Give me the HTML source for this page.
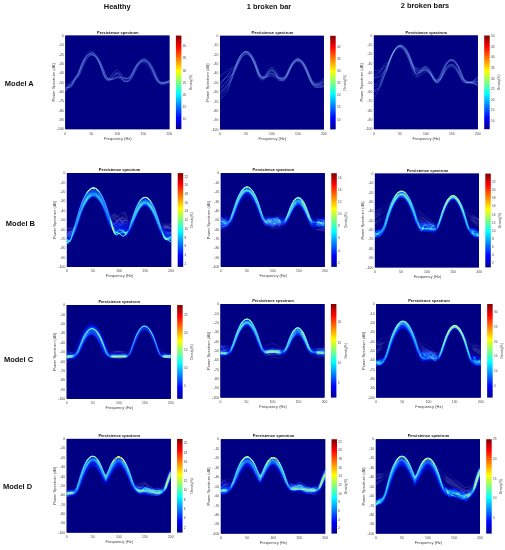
<!DOCTYPE html>
<html lang="en"><head><meta charset="utf-8"><title>Persistence spectra</title>
<style>
html,body{margin:0;padding:0;background:#fff}
svg{display:block}
text{font-family:"Liberation Sans",Arial,sans-serif;fill:#262626}
.h{font-weight:700;font-size:7.4px;fill:#111;text-anchor:middle}
.m{font-weight:700;font-size:7.5px;fill:#111}
.t{font-weight:700;font-size:4px;fill:#111;text-anchor:middle}
.a{font-size:4px;text-anchor:middle;fill:#444}
.k{font-size:3.4px;fill:#444}
.c{font-size:3.2px;fill:#444}
.cv{fill:none;stroke-linejoin:round}
</style></head>
<body>
<svg width="505" height="550" viewBox="0 0 505 550">
<defs>
<linearGradient id="jet" x1="0" y1="0" x2="0" y2="1"><stop offset="0" stop-color="#800000"/><stop offset="0.12" stop-color="#ff0000"/><stop offset="0.38" stop-color="#ffff00"/><stop offset="0.62" stop-color="#00ffff"/><stop offset="0.88" stop-color="#0000ff"/><stop offset="1" stop-color="#00008f"/></linearGradient>
<filter id="fa" filterUnits="objectBoundingBox" x="0" y="0" width="1" height="1" color-interpolation-filters="sRGB"><feGaussianBlur stdDeviation="0.1"/><feComponentTransfer><feFuncR type="table" tableValues="0 0.04 0.08 0.12 0.16 0.19 0.23 0.26 0.29 0.31 0.34 0.37 0.39 0.41 0.43 0.45 0.47 0.5 0.54 0.57 0.61 0.65 0.7 0.74 0.78"/><feFuncG type="table" tableValues="0 0.06 0.11 0.17 0.22 0.26 0.31 0.35 0.39 0.42 0.46 0.49 0.53 0.57 0.6 0.64 0.68 0.72 0.76 0.81 0.86 0.9 0.93 0.95 0.98"/><feFuncB type="table" tableValues="0.51 0.55 0.59 0.62 0.66 0.69 0.72 0.75 0.77 0.79 0.81 0.83 0.85 0.87 0.88 0.9 0.91 0.92 0.93 0.93 0.94 0.92 0.87 0.83 0.78"/></feComponentTransfer><feGaussianBlur stdDeviation="0.3"/></filter>
<filter id="fd" filterUnits="objectBoundingBox" x="0" y="0" width="1" height="1" color-interpolation-filters="sRGB"><feGaussianBlur stdDeviation="0.15"/><feComponentTransfer><feFuncR type="table" tableValues="0 0 0 0 0 0.01 0.03 0.04 0.07 0.11 0.15 0.24 0.33 0.42 0.53 0.63 0.74 0.82 0.9 0.96 0.98 0.99 0.98 0.93 0.88"/><feFuncG type="table" tableValues="0 0 0.03 0.08 0.13 0.23 0.32 0.41 0.52 0.64 0.76 0.81 0.87 0.92 0.93 0.94 0.95 0.92 0.9 0.85 0.72 0.59 0.44 0.26 0.08"/><feFuncB type="table" tableValues="0.51 0.65 0.76 0.85 0.92 0.94 0.96 0.98 0.97 0.96 0.94 0.88 0.82 0.76 0.65 0.54 0.44 0.36 0.29 0.21 0.13 0.05 0 0 0"/></feComponentTransfer><feGaussianBlur stdDeviation="0.4"/></filter>
</defs>
<rect width="505" height="550" fill="#fff"/>
<text class="h" x="117.2" y="9">Healthy</text>
<text class="h" x="269" y="8.6">1 broken bar</text>
<text class="h" x="425" y="8">2 broken bars</text>
<text class="m" x="4.8" y="85.7">Model A</text>
<text class="m" x="5.8" y="226.1">Model B</text>
<text class="m" x="3.9" y="362.2">Model C</text>
<text class="m" x="3" y="488.7">Model D</text>
<g>
<text class="t" x="117.85" y="33.7">Persistence spectrum</text>
<text class="a" x="117.85" y="139.6">Frequency (Hz)</text>
<text class="a" transform="translate(54.5 82.4) rotate(-90)">Power Spectrum (dB)</text>
<text class="k" text-anchor="middle" x="65.3" y="134.7">0</text><text class="k" text-anchor="middle" x="91.33" y="134.7">50</text><text class="k" text-anchor="middle" x="117.35" y="134.7">100</text><text class="k" text-anchor="middle" x="143.38" y="134.7">150</text><text class="k" text-anchor="middle" x="169.4" y="134.7">200</text>
<text class="k" text-anchor="end" x="63.7" y="36.8">0</text><text class="k" text-anchor="end" x="63.7" y="46.16">-10</text><text class="k" text-anchor="end" x="63.7" y="55.52">-20</text><text class="k" text-anchor="end" x="63.7" y="64.88">-30</text><text class="k" text-anchor="end" x="63.7" y="74.24">-40</text><text class="k" text-anchor="end" x="63.7" y="83.6">-50</text><text class="k" text-anchor="end" x="63.7" y="92.96">-60</text><text class="k" text-anchor="end" x="63.7" y="102.32">-70</text><text class="k" text-anchor="end" x="63.7" y="111.68">-80</text><text class="k" text-anchor="end" x="63.7" y="121.04">-90</text><text class="k" text-anchor="end" x="63.7" y="130.4">-100</text>
<rect x="65.3" y="35.6" width="104.1" height="93.6" fill="#000082"/><g transform="translate(65.3 35.6)" filter="url(#fa)"><rect width="104.1" height="93.6" fill="#000"/><g transform="scale(.1)" class="cv">
<g stroke-width="4.2" stroke="#fff" stroke-opacity="0.28">
<path d="M0 553l13-22 13-21 13-18 13-16 13-16 13-16 13-15 13-14 13-17 13-24 13-32 13-33 13-31 13-27 13-23 13-18 13-14 13-10 13-5 13-1 13 4 13 8 13 12 13 17 13 22 13 25 13 30 13 34 13 36 13 35 13 27 13 13 13 0 13-10 13-17 13-18 13-15 13-10 13-3 13 4 14 11 13 16 13 19 13 19 13 12 13 5 13 0 13-3 13-9 13-19 13-26 13-30 13-29 13-26 13-23 13-20 13-15 13-11 13-8 13-3 13 0 13 4 13 9 13 12 13 16 13 20 13 24 13 28 13 30 13 31 13 29 13 19 13 10 13 2 13-1 13-1 13-2 13-3 13-2 13-3"/>
<path d="M0 521l13 0 13-1 13 0 13-1 13-10 13-23 13-26 13-23 13-15 13-22 13-34 13-37 13-35 13-32 13-27 13-22 13-17 13-12 13-7 13-2 13 3 13 8 13 13 13 18 13 23 13 28 13 32 13 37 13 38 13 37 13 25 13 12 13 3 13-3 13-8 13-14 13-17 13-16 13-13 13-7 14-1 13 4 13 10 13 14 13 13 13 10 13 5 13 0 13-7 13-15 13-21 13-24 13-24 13-22 13-20 13-15 13-12 13-9 13-5 13-1 13 3 13 7 13 10 13 14 13 18 13 21 13 24 13 27 13 28 13 25 13 20 13 11 13 6 13 1 13 1 13-2 13-4 13-5 13-5 13-6"/>
<path d="M0 550l13-8 13-9 13-11 13-12 13-17 13-21 13-23 13-20 13-20 13-28 13-37 13-39 13-35 13-31 13-26 13-21 13-16 13-11 13-6 13 0 13 5 13 9 13 15 13 20 13 25 13 30 13 35 13 38 13 38 13 31 13 18 13 7 13 2 13 1 13 2 13 0 13-3 13-7 13-8 13-6 14-1 13 3 13 8 13 9 13 8 13 5 13 2 13 1 13-2 13-6 13-13 13-21 13-26 13-26 13-24 13-21 13-17 13-14 13-9 13-5 13-1 13 3 13 7 13 11 13 15 13 19 13 23 13 26 13 27 13 28 13 26 13 19 13 13 13 5 13 1 13-2 13-4 13-7 13-8 13-10"/>
<path d="M0 554l13-25 13-22 13-19 13-15 13-12 13-11 13-11 13-14 13-18 13-28 13-33 13-33 13-31 13-27 13-23 13-19 13-15 13-11 13-6 13-2 13 2 13 6 13 10 13 15 13 19 13 23 13 28 13 30 13 34 13 33 13 29 13 19 13 8 13 1 13-3 13-10 13-13 13-12 13-7 13-1 14 6 13 13 13 16 13 17 13 12 13 5 13 1 13-3 13-8 13-17 13-25 13-28 13-28 13-26 13-23 13-20 13-15 13-13 13-8 13-5 13-1 13 3 13 6 13 10 13 14 13 18 13 21 13 24 13 28 13 29 13 30 13 26 13 19 13 10 13 3 13 0 13-1 13-2 13-3 13-4"/>
<path d="M0 487l13 4 13 2 13 1 13 0 13-6 13-13 13-18 13-17 13-17 13-23 13-32 13-35 13-35 13-31 13-28 13-23 13-18 13-14 13-10 13-5 13 0 13 4 13 9 13 13 13 18 13 22 13 27 13 31 13 35 13 35 13 33 13 24 13 12 13 5 13 2 13 0 13-2 13-5 13-6 13-5 14-2 13 0 13 2 13 2 13 0 13-1 13-1 13 0 13-1 13-3 13-10 13-18 13-25 13-26 13-25 13-22 13-18 13-13 13-9 13-5 13 0 13 4 13 9 13 13 13 18 13 21 13 26 13 29 13 32 13 30 13 25 13 15 13 8 13 3 13 0 13-3 13-6 13-7 13-9 13-10"/>
<path d="M0 513l13 1 13 1 13 0 13 0 13-12 13-27 13-33 13-29 13-23 13-27 13-30 13-31 13-28 13-24 13-20 13-16 13-13 13-8 13-5 13 0 13 4 13 8 13 11 13 16 13 20 13 24 13 27 13 31 13 33 13 32 13 27 13 16 13 7 13 1 13-2 13-5 13-6 13-7 13-4 13-1 14 4 13 7 13 9 13 9 13 6 13 4 13 0 13-6 13-13 13-23 13-28 13-29 13-26 13-24 13-20 13-17 13-12 13-9 13-4 13-1 13 3 13 7 13 11 13 15 13 19 13 23 13 26 13 29 13 29 13 28 13 21 13 12 13 5 13 2 13 0 13-3 13-5 13-7 13-7 13-9"/>
<path d="M0 531l13-7 13-9 13-9 13-10 13-14 13-19 13-18 13-13 13-8 13-9 13-20 13-30 13-33 13-31 13-28 13-24 13-20 13-15 13-11 13-7 13-2 13 1 13 7 13 10 13 15 13 19 13 23 13 27 13 30 13 33 13 32 13 24 13 14 13 5 13 1 13-2 13-4 13-5 13-5 13-4 14-1 13 3 13 4 13 4 13 4 13 1 13 1 13-2 13-4 13-12 13-21 13-27 13-29 13-26 13-23 13-20 13-15 13-11 13-6 13-3 13 2 13 7 13 10 13 15 13 19 13 23 13 27 13 30 13 31 13 28 13 21 13 12 13 6 13 3 13 0 13 0 13-1 13 0 13-2 13-2"/>
<path d="M0 540l13-6 13-9 13-10 13-12 13-18 13-25 13-26 13-21 13-14 13-19 13-25 13-29 13-29 13-25 13-23 13-19 13-15 13-11 13-7 13-4 13 1 13 4 13 8 13 12 13 15 13 20 13 23 13 27 13 30 13 31 13 31 13 26 13 16 13 6 13-4 13-13 13-18 13-17 13-11 13-4 14 5 13 12 13 19 13 21 13 18 13 9 13 3 13 0 13-3 13-10 13-20 13-28 13-31 13-29 13-26 13-22 13-17 13-13 13-8 13-4 13 1 13 5 13 10 13 14 13 19 13 23 13 28 13 30 13 32 13 28 13 18 13 7 13 2 13 0 13 0 13 0 13 0 13 0 13 0 13 0"/>
<path d="M0 519l13-1 13-3 13-5 13-6 13-14 13-26 13-27 13-22 13-8 13-5 13-16 13-30 13-34 13-33 13-28 13-24 13-19 13-13 13-9 13-4 13 1 13 7 13 11 13 16 13 21 13 26 13 31 13 34 13 37 13 32 13 21 13 7 13-2 13-11 13-18 13-20 13-18 13-13 13-6 13 0 14 7 13 13 13 19 13 20 13 16 13 8 13 1 13-4 13-10 13-17 13-22 13-23 13-22 13-19 13-16 13-13 13-10 13-5 13-2 13 2 13 5 13 9 13 13 13 17 13 20 13 23 13 25 13 27 13 25 13 21 13 16 13 11 13 6 13 3 13 0 13-3 13-5 13-7 13-8 13-11"/>
</g>
</g></g>
<rect x="175.9" y="35.6" width="5.5" height="93.6" fill="url(#jet)"/>
<text class="c" x="182.7" y="120.36">10</text><text class="c" x="182.7" y="108.17">15</text><text class="c" x="182.7" y="95.98">20</text><text class="c" x="182.7" y="83.79">25</text><text class="c" x="182.7" y="71.61">30</text><text class="c" x="182.7" y="59.42">35</text><text class="c" x="182.7" y="47.23">40</text>
<text class="c" text-anchor="middle" transform="translate(191.6 82.4) rotate(-90)">Density(%)</text>
</g>
<g>
<text class="t" x="272.4" y="33.9">Persistence spectrum</text>
<text class="a" x="272.4" y="139.8">Frequency (Hz)</text>
<text class="a" transform="translate(209.2 82.6) rotate(-90)">Power Spectrum (dB)</text>
<text class="k" text-anchor="middle" x="220" y="134.9">0</text><text class="k" text-anchor="middle" x="245.95" y="134.9">50</text><text class="k" text-anchor="middle" x="271.9" y="134.9">100</text><text class="k" text-anchor="middle" x="297.85" y="134.9">150</text><text class="k" text-anchor="middle" x="323.8" y="134.9">200</text>
<text class="k" text-anchor="end" x="218.4" y="37">0</text><text class="k" text-anchor="end" x="218.4" y="46.36">-10</text><text class="k" text-anchor="end" x="218.4" y="55.72">-20</text><text class="k" text-anchor="end" x="218.4" y="65.08">-30</text><text class="k" text-anchor="end" x="218.4" y="74.44">-40</text><text class="k" text-anchor="end" x="218.4" y="83.8">-50</text><text class="k" text-anchor="end" x="218.4" y="93.16">-60</text><text class="k" text-anchor="end" x="218.4" y="102.52">-70</text><text class="k" text-anchor="end" x="218.4" y="111.88">-80</text><text class="k" text-anchor="end" x="218.4" y="121.24">-90</text><text class="k" text-anchor="end" x="218.4" y="130.6">-100</text>
<rect x="220" y="35.8" width="103.8" height="93.6" fill="#000082"/><g transform="translate(220 35.8)" filter="url(#fa)"><rect width="103.8" height="93.6" fill="#000"/><g transform="scale(.1)" class="cv">
<g stroke-width="4.2" stroke="#fff" stroke-opacity="0.28">
<path d="M0 538l13-17 13-16 13-16 13-15 13-15 13-16 13-16 13-19 13-20 13-26 13-31 13-33 13-32 13-28 13-24 13-21 13-16 13-12 13-8 13-3 12 2 13 6 13 10 13 15 13 19 13 23 13 28 13 32 13 35 13 36 13 32 13 22 13 8 13-2 13-10 13-17 13-17 13-15 13-10 13-3 13 4 13 10 13 16 13 19 13 18 13 12 13 5 13 2 13-2 13-5 13-15 13-24 13-30 13-30 13-27 13-23 13-19 13-14 13-10 12-4 13-1 13 5 13 9 13 14 13 19 13 23 13 28 13 31 13 34 13 34 13 29 13 21 13 11 13 5 13 1 13-2 13-4 13-6 13-8 13-9"/>
<path d="M0 579l13-9 13-10 13-12 13-13 13-15 13-22 13-29 13-31 13-32 13-33 13-38 13-36 13-34 13-28 13-25 13-19 13-15 13-9 13-5 13 0 12 5 13 9 13 15 13 19 13 25 13 29 13 33 13 37 13 38 13 32 13 19 13 7 13-2 13-11 13-20 13-24 13-22 13-16 13-9 13 0 13 7 13 16 13 22 13 26 13 25 13 15 13 6 13 0 13-3 13-10 13-20 13-27 13-29 13-27 13-24 13-20 13-15 13-11 13-6 12-1 13 3 13 8 13 13 13 18 13 22 13 27 13 30 13 32 13 31 13 27 13 20 13 13 13 8 13 5 13 0 13 0 13-1 13-1 13-2 13-4"/>
<path d="M0 626l13-4 13-8 13-10 13-13 13-16 13-27 13-37 13-42 13-41 13-41 13-41 13-39 13-35 13-31 13-25 13-21 13-15 13-10 13-5 13-1 12 5 13 11 13 15 13 20 13 26 13 30 13 35 13 39 13 39 13 33 13 19 13 6 13 0 13-4 13-7 13-11 13-13 13-10 13-5 13 0 13 6 13 11 13 14 13 13 13 8 13 4 13 1 13 0 13-2 13-4 13-13 13-23 13-29 13-31 13-27 13-23 13-19 13-14 13-10 12-4 13 1 13 5 13 10 13 16 13 20 13 24 13 29 13 33 13 34 13 33 13 27 13 19 13 11 13 6 13 0 13 0 13 0 13-2 13-2 13-4"/>
<path d="M0 522l13-10 13-10 13-12 13-13 13-13 13-18 13-21 13-19 13-16 13-10 13-13 13-20 13-28 13-31 13-29 13-27 13-21 13-16 13-11 13-6 12 0 13 5 13 11 13 16 13 21 13 27 13 31 13 35 13 36 13 31 13 18 13 7 13 2 13 0 13-1 13-5 13-8 13-10 13-8 13-4 13 1 13 6 13 11 13 12 13 10 13 6 13 3 13 1 13-2 13-5 13-13 13-22 13-27 13-27 13-25 13-21 13-16 13-12 13-7 12-1 13 3 13 8 13 13 13 17 13 22 13 27 13 30 13 31 13 28 13 23 13 16 13 10 13 7 13 3 13 0 13-2 13-3 13-6 13-7 13-10"/>
<path d="M0 461l13-8 13-9 13-10 13-12 13-13 13-18 13-22 13-21 13-14 13-4 13-5 13-12 13-20 13-24 13-26 13-25 13-21 13-15 13-11 13-5 12 0 13 5 13 11 13 15 13 21 13 26 13 30 13 35 13 36 13 31 13 20 13 9 13 3 13 1 13 1 13 0 13-1 13-2 13-2 13-1 13 1 13 3 13 4 13 4 13 3 13 1 13 1 13 0 13-2 13-7 13-15 13-22 13-27 13-26 13-24 13-20 13-16 13-12 13-8 12-3 13 0 13 6 13 9 13 14 13 18 13 22 13 25 13 29 13 30 13 30 13 25 13 18 13 10 13 5 13 0 13-4 13-8 13-10 13-14 13-15"/>
<path d="M0 576l13-16 13-15 13-15 13-14 13-14 13-13 13-14 13-16 13-21 13-28 13-34 13-35 13-34 13-30 13-26 13-23 13-17 13-13 13-9 13-3 12 0 13 6 13 10 13 15 13 19 13 24 13 28 13 32 13 34 13 33 13 25 13 14 13 3 13-3 13-10 13-16 13-19 13-17 13-12 13-5 13 1 13 9 13 15 13 20 13 20 13 16 13 8 13 1 13-8 13-19 13-27 13-31 13-30 13-27 13-22 13-19 13-13 13-9 13-5 12 1 13 5 13 9 13 14 13 19 13 23 13 28 13 31 13 34 13 34 13 30 13 21 13 14 13 8 13 4 13 0 13-1 13-1 13-3 13-3 13-6"/>
<path d="M0 557l13-8 13-9 13-11 13-12 13-13 13-19 13-23 13-25 13-27 13-28 13-34 13-36 13-33 13-31 13-27 13-22 13-18 13-14 13-9 13-4 12 0 13 5 13 10 13 14 13 18 13 24 13 27 13 32 13 36 13 37 13 35 13 24 13 9 13-4 13-15 13-21 13-20 13-16 13-9 13-2 13 6 13 13 13 19 13 22 13 19 13 13 13 5 13 0 13-3 13-10 13-19 13-26 13-28 13-27 13-24 13-21 13-16 13-11 13-8 12-3 13 2 13 5 13 10 13 15 13 18 13 23 13 27 13 30 13 32 13 32 13 29 13 22 13 14 13 6 13 1 13 0 13-3 13-3 13-5 13-7"/>
<path d="M0 403l13-10 13-10 13-10 13-8 13-9 13-9 13-10 13-9 13-6 13-4 13-8 13-17 13-26 13-27 13-26 13-22 13-17 13-11 13-6 13-1 12 5 13 9 13 16 13 20 13 26 13 31 13 35 13 37 13 34 13 22 13 11 13 3 13 0 13-5 13-13 13-20 13-20 13-18 13-11 13-5 13 3 13 10 13 16 13 21 13 23 13 17 13 9 13 4 13-1 13-3 13-9 13-18 13-25 13-27 13-26 13-22 13-18 13-14 13-9 12-5 13 0 13 5 13 9 13 14 13 18 13 23 13 27 13 30 13 30 13 29 13 23 13 14 13 9 13 4 13-1 13-4 13-7 13-10 13-12 13-14"/>
<path d="M0 618l13-15 13-15 13-16 13-15 13-15 13-18 13-21 13-29 13-36 13-41 13-42 13-38 13-35 13-31 13-26 13-22 13-18 13-13 13-8 13-4 12 1 13 6 13 10 13 14 13 19 13 24 13 28 13 33 13 36 13 37 13 34 13 23 13 8 13-4 13-14 13-21 13-20 13-16 13-8 13-1 13 7 13 15 13 22 13 23 13 20 13 11 13 4 13 0 13-3 13-9 13-21 13-30 13-34 13-31 13-28 13-23 13-18 13-13 13-8 12-3 13 2 13 7 13 12 13 17 13 22 13 27 13 31 13 35 13 37 13 35 13 29 13 18 13 11 13 5 13 0 13-1 13-1 13-3 13-4 13-5"/>
<path d="M0 504l13-22 13-19 13-18 13-14 13-11 13-8 13-7 13-7 13-8 13-13 13-21 13-28 13-30 13-30 13-28 13-25 13-20 13-14 13-10 13-5 12 1 13 6 13 10 13 16 13 21 13 25 13 31 13 34 13 37 13 34 13 24 13 11 13 3 13-1 13-5 13-10 13-12 13-11 13-5 13 0 13 6 13 12 13 13 13 12 13 8 13 3 13 1 13 0 13-4 13-10 13-20 13-27 13-30 13-27 13-24 13-20 13-15 13-10 13-6 12-1 13 5 13 8 13 14 13 19 13 22 13 28 13 30 13 33 13 30 13 24 13 17 13 12 13 7 13 4 13 0 13-3 13-4 13-7 13-9 13-11"/>
<path d="M0 490l13-20 13-18 13-17 13-15 13-13 13-14 13-14 13-12 13-10 13-8 13-15 13-22 13-26 13-24 13-23 13-19 13-15 13-11 13-7 13-2 12 3 13 7 13 11 13 16 13 20 13 24 13 28 13 31 13 32 13 27 13 19 13 8 13 3 13-1 13-5 13-8 13-11 13-9 13-6 13-1 13 5 13 9 13 13 13 11 13 8 13 4 13 2 13-1 13-4 13-9 13-19 13-25 13-27 13-26 13-23 13-18 13-14 13-9 13-5 12 0 13 5 13 9 13 15 13 18 13 23 13 27 13 30 13 31 13 28 13 21 13 15 13 10 13 7 13 3 13 0 13-3 13-6 13-8 13-10 13-12"/>
</g>
</g></g>
<rect x="330.2" y="35.8" width="5.5" height="93.6" fill="url(#jet)"/>
<text class="c" x="337" y="120.58">10</text><text class="c" x="337" y="108.43">15</text><text class="c" x="337" y="96.27">20</text><text class="c" x="337" y="84.11">25</text><text class="c" x="337" y="71.96">30</text><text class="c" x="337" y="59.8">35</text><text class="c" x="337" y="47.65">40</text>
<text class="c" text-anchor="middle" transform="translate(345.9 82.6) rotate(-90)">Density(%)</text>
</g>
<g>
<text class="t" x="426.35" y="33.6">Persistence spectrum</text>
<text class="a" x="426.35" y="139.6">Frequency (Hz)</text>
<text class="a" transform="translate(363.1 82.35) rotate(-90)">Power Spectrum (dB)</text>
<text class="k" text-anchor="middle" x="373.9" y="134.7">0</text><text class="k" text-anchor="middle" x="399.88" y="134.7">50</text><text class="k" text-anchor="middle" x="425.85" y="134.7">100</text><text class="k" text-anchor="middle" x="451.82" y="134.7">150</text><text class="k" text-anchor="middle" x="477.8" y="134.7">200</text>
<text class="k" text-anchor="end" x="372.3" y="36.7">0</text><text class="k" text-anchor="end" x="372.3" y="46.07">-10</text><text class="k" text-anchor="end" x="372.3" y="55.44">-20</text><text class="k" text-anchor="end" x="372.3" y="64.81">-30</text><text class="k" text-anchor="end" x="372.3" y="74.18">-40</text><text class="k" text-anchor="end" x="372.3" y="83.55">-50</text><text class="k" text-anchor="end" x="372.3" y="92.92">-60</text><text class="k" text-anchor="end" x="372.3" y="102.29">-70</text><text class="k" text-anchor="end" x="372.3" y="111.66">-80</text><text class="k" text-anchor="end" x="372.3" y="121.03">-90</text><text class="k" text-anchor="end" x="372.3" y="130.4">-100</text>
<rect x="373.9" y="35.5" width="103.9" height="93.7" fill="#000082"/><g transform="translate(373.9 35.5)" filter="url(#fa)"><rect width="103.9" height="93.7" fill="#000"/><g transform="scale(.1)" class="cv">
<g stroke-width="4.2" stroke="#fff" stroke-opacity="0.28">
<path d="M0 569l13-7 13-10 13-13 13-15 13-23 13-34 13-35 13-31 13-23 13-30 13-38 13-38 13-35 13-31 13-26 13-21 13-17 13-11 13-7 13-2 13 4 13 8 13 13 13 18 13 22 13 28 13 33 13 36 13 41 13 40 13 32 13 17 13 4 13-3 13-7 13-10 13-12 13-10 13-8 13-4 12 1 13 7 13 11 13 16 13 20 13 22 13 18 13 11 13 1 13-8 13-22 13-31 13-35 13-32 13-28 13-23 13-17 13-13 13-7 13-1 13 4 13 9 13 14 13 20 13 25 13 30 13 34 13 34 13 28 13 17 13 5 13 1 13-1 13 0 13 1 13 2 13 4 13 4 13 5 13 6"/>
<path d="M0 422l13-13 13-12 13-12 13-11 13-12 13-14 13-13 13-11 13-12 13-18 13-26 13-30 13-29 13-27 13-24 13-19 13-14 13-9 13-5 13 0 13 5 13 10 13 14 13 20 13 24 13 28 13 32 13 34 13 32 13 21 13 10 13 4 13 2 13 4 13-1 13-8 13-13 13-10 13-6 13-1 12 6 13 13 13 19 13 24 13 25 13 24 13 18 13 8 13 1 13-3 13-8 13-18 13-24 13-27 13-26 13-21 13-17 13-11 13-7 13-1 13 4 13 9 13 14 13 20 13 23 13 27 13 26 13 22 13 13 13 8 13 6 13 4 13 3 13 1 13-1 13-4 13-7 13-8 13-10 13-11"/>
<path d="M0 394l13-7 13-8 13-8 13-8 13-12 13-14 13-14 13-10 13-6 13-7 13-17 13-27 13-31 13-30 13-27 13-23 13-18 13-13 13-8 13-4 13 1 13 6 13 11 13 15 13 21 13 25 13 29 13 32 13 32 13 28 13 16 13 6 13 6 13 8 13 8 13 5 13 0 13-2 13-3 13 0 12 3 13 7 13 10 13 15 13 18 13 20 13 18 13 7 13-4 13-14 13-24 13-29 13-30 13-26 13-24 13-18 13-15 13-9 13-5 13-1 13 5 13 8 13 14 13 18 13 22 13 27 13 29 13 30 13 26 13 19 13 11 13 6 13 4 13 1 13-1 13-5 13-8 13-10 13-11 13-13"/>
<path d="M0 435l13-6 13-7 13-8 13-8 13-10 13-13 13-13 13-15 13-17 13-25 13-30 13-32 13-32 13-29 13-26 13-22 13-18 13-13 13-9 13-5 13 0 13 4 13 8 13 13 13 17 13 22 13 26 13 29 13 34 13 35 13 33 13 24 13 13 13 7 13 1 13-3 13-7 13-6 13-5 13-1 12 4 13 8 13 13 13 17 13 20 13 23 13 21 13 8 13-8 13-21 13-30 13-32 13-31 13-27 13-22 13-19 13-13 13-9 13-4 13 0 13 5 13 10 13 15 13 19 13 23 13 28 13 31 13 33 13 28 13 21 13 10 13 5 13 2 13 1 13-1 13-3 13-4 13-6 13-7 13-7"/>
<path d="M0 548l13-8 13-11 13-13 13-14 13-20 13-26 13-28 13-27 13-27 13-33 13-37 13-37 13-35 13-31 13-27 13-23 13-17 13-14 13-8 13-4 13 1 13 5 13 10 13 15 13 20 13 24 13 28 13 33 13 37 13 38 13 36 13 24 13 7 13-6 13-14 13-16 13-15 13-11 13-5 13 1 12 7 13 13 13 19 13 23 13 26 13 26 13 21 13 10 13 1 13-5 13-16 13-28 13-34 13-34 13-31 13-25 13-21 13-15 13-9 13-5 13 2 13 6 13 13 13 17 13 23 13 28 13 33 13 35 13 32 13 23 13 11 13 4 13 1 13 0 13 1 13 2 13 2 13 3 13 3 13 3"/>
<path d="M0 550l13-2 13-5 13-8 13-10 13-22 13-38 13-41 13-34 13-22 13-26 13-35 13-37 13-35 13-31 13-26 13-22 13-18 13-13 13-9 13-4 13 1 13 4 13 10 13 14 13 18 13 23 13 27 13 31 13 36 13 38 13 39 13 30 13 13 13-4 13-15 13-17 13-16 13-13 13-7 13-1 12 5 13 11 13 18 13 22 13 26 13 27 13 21 13 12 13 0 13-9 13-18 13-25 13-27 13-26 13-22 13-18 13-13 13-9 13-3 13 1 13 5 13 11 13 15 13 20 13 24 13 26 13 27 13 23 13 14 13 7 13 3 13 1 13 2 13 1 13 1 13 3 13 3 13 4 13 4 13 4"/>
<path d="M0 420l13-1 13-1 13-1 13-2 13-7 13-14 13-19 13-20 13-20 13-25 13-30 13-32 13-31 13-29 13-26 13-22 13-18 13-13 13-9 13-4 13 0 13 4 13 9 13 13 13 17 13 21 13 26 13 30 13 34 13 35 13 34 13 27 13 15 13 7 13 3 13-2 13-5 13-6 13-4 13-1 12 5 13 9 13 14 13 16 13 19 13 18 13 15 13 6 13-3 13-13 13-25 13-31 13-32 13-30 13-24 13-20 13-15 13-10 13-4 13 0 13 6 13 12 13 16 13 21 13 26 13 31 13 33 13 30 13 23 13 13 13 5 13 3 13 1 13 1 13-1 13-1 13-2 13-2 13-3 13-3"/>
<path d="M0 345l13 4 13 2 13 1 13 0 13-8 13-18 13-22 13-18 13-7 13-3 13-10 13-21 13-27 13-28 13-25 13-20 13-16 13-11 13-7 13-2 13 3 13 8 13 13 13 17 13 22 13 26 13 31 13 31 13 30 13 20 13 10 13 3 13 3 13 5 13 4 13-1 13-6 13-9 13-7 13-3 12 4 13 9 13 15 13 19 13 24 13 27 13 22 13 12 13 1 13-2 13-8 13-16 13-23 13-25 13-24 13-21 13-15 13-11 13-6 13-1 13 4 13 9 13 15 13 19 13 23 13 25 13 24 13 19 13 11 13 8 13 7 13 5 13 4 13 2 13-2 13-6 13-9 13-11 13-14 13-15"/>
<path d="M0 626l13-21 13-21 13-22 13-23 13-26 13-30 13-35 13-39 13-42 13-41 13-40 13-37 13-33 13-29 13-25 13-20 13-16 13-12 13-8 13-3 13 0 13 6 13 9 13 14 13 18 13 23 13 26 13 31 13 35 13 39 13 40 13 38 13 24 13 2 13-13 13-18 13-15 13-12 13-6 13 0 12 6 13 12 13 17 13 22 13 24 13 24 13 18 13 8 13 1 13-4 13-13 13-21 13-26 13-27 13-24 13-20 13-16 13-11 13-7 13-2 13 3 13 8 13 12 13 17 13 21 13 25 13 27 13 26 13 20 13 10 13 3 13-1 13-1 13 0 13 1 13 2 13 5 13 5 13 7 13 7"/>
<path d="M0 510l13-2 13-6 13-8 13-9 13-19 13-31 13-34 13-29 13-21 13-27 13-34 13-35 13-32 13-29 13-24 13-20 13-16 13-11 13-7 13-2 13 3 13 7 13 12 13 16 13 20 13 25 13 30 13 33 13 36 13 35 13 29 13 15 13 6 13-1 13-7 13-12 13-12 13-10 13-4 13 0 12 6 13 13 13 17 13 21 13 24 13 23 13 17 13 8 13-1 13-6 13-13 13-21 13-25 13-24 13-21 13-17 13-13 13-8 13-4 13 1 13 6 13 11 13 15 13 19 13 23 13 24 13 23 13 16 13 10 13 5 13 3 13 3 13 1 13 1 13 0 13 0 13 0 13 0 13 0 13-1"/>
<path d="M0 490l13-6 13-8 13-10 13-11 13-17 13-23 13-25 13-23 13-20 13-25 13-32 13-35 13-34 13-31 13-27 13-23 13-18 13-13 13-9 13-4 13 0 13 6 13 9 13 15 13 19 13 24 13 29 13 32 13 37 13 39 13 37 13 25 13 10 13-2 13-7 13-10 13-11 13-8 13-5 13-1 12 5 13 10 13 15 13 20 13 23 13 24 13 21 13 11 13-1 13-10 13-21 13-31 13-34 13-31 13-28 13-23 13-18 13-13 13-8 13-3 13 2 13 7 13 13 13 17 13 22 13 27 13 31 13 33 13 32 13 24 13 13 13 5 13 1 13 1 13-1 13-1 13-1 13-2 13-2 13-3"/>
</g>
</g></g>
<rect x="484.2" y="35.5" width="5.5" height="93.7" fill="url(#jet)"/>
<text class="c" x="491" y="122.06">10</text><text class="c" x="491" y="111.44">15</text><text class="c" x="491" y="100.82">20</text><text class="c" x="491" y="90.19">25</text><text class="c" x="491" y="79.57">30</text><text class="c" x="491" y="68.95">35</text><text class="c" x="491" y="58.32">40</text><text class="c" x="491" y="47.7">45</text><text class="c" x="491" y="37.07">50</text>
<text class="c" text-anchor="middle" transform="translate(499.9 82.35) rotate(-90)">Density(%)</text>
</g>
<g>
<text class="t" x="119.55" y="171.2">Persistence spectrum</text>
<text class="a" x="119.55" y="277.3">Frequency (Hz)</text>
<text class="a" transform="translate(56.1 220) rotate(-90)">Power Spectrum (dB)</text>
<text class="k" text-anchor="middle" x="66.9" y="272.4">0</text><text class="k" text-anchor="middle" x="92.97" y="272.4">50</text><text class="k" text-anchor="middle" x="119.05" y="272.4">100</text><text class="k" text-anchor="middle" x="145.12" y="272.4">150</text><text class="k" text-anchor="middle" x="171.2" y="272.4">200</text>
<text class="k" text-anchor="end" x="65.3" y="174.3">0</text><text class="k" text-anchor="end" x="65.3" y="183.68">-10</text><text class="k" text-anchor="end" x="65.3" y="193.06">-20</text><text class="k" text-anchor="end" x="65.3" y="202.44">-30</text><text class="k" text-anchor="end" x="65.3" y="211.82">-40</text><text class="k" text-anchor="end" x="65.3" y="221.2">-50</text><text class="k" text-anchor="end" x="65.3" y="230.58">-60</text><text class="k" text-anchor="end" x="65.3" y="239.96">-70</text><text class="k" text-anchor="end" x="65.3" y="249.34">-80</text><text class="k" text-anchor="end" x="65.3" y="258.72">-90</text><text class="k" text-anchor="end" x="65.3" y="268.1">-100</text>
<rect x="66.9" y="173.1" width="104.3" height="93.8" fill="#000082"/><g transform="translate(66.9 173.1)" filter="url(#fd)"><rect width="104.3" height="93.8" fill="#000"/><g transform="scale(.1)" class="cv">
<linearGradient id="g1" gradientUnits="userSpaceOnUse" x1="0" y1="0" x2="1043" y2="0"><stop offset="0" stop-color="#fff" stop-opacity="0.016"/><stop offset="0.04" stop-color="#fff" stop-opacity="0.016"/><stop offset="0.08" stop-color="#fff" stop-opacity="0.013"/><stop offset="0.14" stop-color="#fff" stop-opacity="0.018"/><stop offset="0.18" stop-color="#fff" stop-opacity="0.026"/><stop offset="0.21" stop-color="#fff" stop-opacity="0.032"/><stop offset="0.29" stop-color="#fff" stop-opacity="0.032"/><stop offset="0.32" stop-color="#fff" stop-opacity="0.026"/><stop offset="0.36" stop-color="#fff" stop-opacity="0.018"/><stop offset="0.41" stop-color="#fff" stop-opacity="0.013"/><stop offset="0.45" stop-color="#fff" stop-opacity="0.016"/><stop offset="0.56" stop-color="#fff" stop-opacity="0.016"/><stop offset="0.59" stop-color="#fff" stop-opacity="0.013"/><stop offset="0.64" stop-color="#fff" stop-opacity="0.018"/><stop offset="0.68" stop-color="#fff" stop-opacity="0.026"/><stop offset="0.71" stop-color="#fff" stop-opacity="0.032"/><stop offset="0.79" stop-color="#fff" stop-opacity="0.032"/><stop offset="0.82" stop-color="#fff" stop-opacity="0.026"/><stop offset="0.86" stop-color="#fff" stop-opacity="0.018"/><stop offset="0.91" stop-color="#fff" stop-opacity="0.013"/><stop offset="0.94" stop-color="#fff" stop-opacity="0.016"/><stop offset="1" stop-color="#fff" stop-opacity="0.016"/></linearGradient>
<g stroke-width="22" stroke="url(#g1)">
<path d="M0 619l26 16 26 6 26-51 26-91 26-84 26-69 27-55 26-39 26-24 26-9 26 6 26 21 26 36 26 51 26 66 26 72 26 52 26 34 26 30 26 14 27-11 26-21 26-20 26-8 26-30 26-62 26-59 26-44 26-27 26-9 26 8 26 26 26 43 27 59 26 72 26 58 26 17 26 4 26 3 26 2"/>
<path d="M0 643l26-4 26-9 26-42 26-83 26-83 26-69 27-55 26-41 26-25 26-11 26 4 26 18 26 33 26 48 26 62 26 76 26 72 26 13 26-17 26-9 27 4 26 8 26 7 26-2 26-33 26-62 26-58 26-41 26-24 26-6 26 13 26 30 26 48 27 63 26 60 26 26 26 4 26 3 26 3 26 4"/>
<path d="M0 655l26-27 26-32 26-59 26-83 26-78 26-66 27-51 26-38 26-22 26-9 26 6 26 21 26 35 26 48 26 63 26 69 26 52 26 23 26 15 26 6 27-10 26-20 26-18 26-9 26-28 26-54 26-51 26-38 26-21 26-5 26 11 26 28 26 44 27 59 26 67 26 48 26 21 26 20 26 30 26 32"/>
<path d="M0 593l26 0 26-2 26-20 26-68 26-80 26-69 27-54 26-38 26-24 26-8 26 7 26 22 26 38 26 53 26 67 26 78 26 57 26-10 26-27 26-13 27 4 26 8 26 10 26-1 26-39 26-63 26-55 26-39 26-23 26-7 26 10 26 27 26 43 27 60 26 75 26 80 26 45 26 0 26-15 26-17"/>
<path d="M0 563l26 5 26 2 26-14 26-62 26-78 26-68 27-55 26-41 26-26 26-12 26 3 26 17 26 31 26 46 26 60 26 70 26 66 26 31 26 10 26 5 27 4 26 3 26 2 26-3 26-33 26-63 26-60 26-44 26-26 26-10 26 8 26 25 26 43 27 59 26 69 26 50 26 11 26 1 26-1 26 0"/>
<path d="M0 659l26-20 26-25 26-52 26-87 26-84 26-71 27-55 26-39 26-24 26-8 26 7 26 23 26 39 26 54 26 68 26 75 26 38 26-6 26-10 26-4 27 18 26 40 26 37 26 1 26-55 26-76 26-64 26-46 26-29 26-11 26 7 26 24 26 42 27 60 26 76 26 82 26 45 26-5 26-22 26-26"/>
<path d="M0 627l26 13 26-1 26-65 26-94 26-83 26-68 27-54 26-39 26-24 26-10 26 6 26 20 26 36 26 50 26 65 26 77 26 79 26 40 26 11 26 7 27 9 26 10 26 0 26-49 26-81 26-73 26-57 26-41 26-24 26-8 26 8 26 25 26 42 27 58 26 73 26 75 26 37 26 7 26 4 26 5"/>
<path d="M0 551l26 18 26 13 26-15 26-69 26-79 26-68 27-53 26-38 26-23 26-8 26 7 26 22 26 37 26 51 26 65 26 68 26 32 26-4 26-8 26-4 27 13 26 29 26 26 26-3 26-56 26-76 26-64 26-46 26-27 26-10 26 8 26 27 26 45 27 63 26 79 26 77 26 29 26-10 26-28 26-32"/>
<path d="M0 580l26 22 26 12 26-46 26-92 26-86 26-72 27-57 26-42 26-27 26-12 26 2 26 17 26 33 26 47 26 61 26 70 26 57 26 33 26 23 26 9 27-5 26-12 26-11 26-4 26-18 26-50 26-57 26-43 26-27 26-10 26 9 26 26 26 43 27 60 26 70 26 53 26 21 26 17 26 23 26 25"/>
<path d="M0 602l26 16 26 1 26-62 26-91 26-81 26-66 27-53 26-38 26-24 26-10 26 5 26 19 26 33 26 48 26 62 26 74 26 77 26 37 26 3 26 0 27 0 26 1 26-1 26-14 26-53 26-67 26-55 26-40 26-23 26-7 26 10 26 27 26 43 27 59 26 75 26 78 26 39 26 0 26-12 26-15"/>
<path d="M0 706l26-34 26-33 26-46 26-84 26-88 26-73 27-58 26-42 26-27 26-11 26 5 26 20 26 36 26 52 26 68 26 81 26 84 26 22 26-19 26-10 27 8 26 18 26 17 26-20 26-75 26-77 26-61 26-44 26-25 26-7 26 10 26 28 26 47 27 64 26 82 26 91 26 54 26-5 26-25 26-30"/>
<path d="M0 633l26-28 26-26 26-22 26-52 26-77 26-69 27-54 26-40 26-25 26-10 26 5 26 21 26 35 26 50 26 65 26 74 26 58 26 17 26 5 26 4 27 7 26 9 26 6 26-22 26-66 26-69 26-56 26-40 26-24 26-6 26 10 26 26 26 43 27 59 26 74 26 71 26 31 26 6 26 3 26 3"/>
<path d="M0 630l26-19 26-20 26-38 26-81 26-85 26-71 27-56 26-41 26-25 26-9 26 7 26 22 26 38 26 54 26 69 26 81 26 66 26 3 26-14 26-7 27 1 26 1 26 1 26 1 26-13 26-46 26-56 26-44 26-28 26-10 26 8 26 26 26 44 27 59 26 62 26 36 26 12 26 18 26 29 26 32"/>
<path d="M0 683l26-17 26-28 26-64 26-87 26-79 26-65 27-50 26-37 26-21 26-8 26 7 26 22 26 36 26 51 26 64 26 76 26 65 26 8 26-13 26-6 27 14 26 28 26 20 26-36 26-76 26-71 26-57 26-39 26-23 26-6 26 10 26 27 26 44 27 60 26 75 26 72 26 28 26 7 26 11 26 12"/>
<path d="M0 591l26 0 26-1 26-20 26-72 26-83 26-71 27-57 26-40 26-25 26-9 26 6 26 22 26 37 26 53 26 68 26 80 26 61 26 5 26-12 26-12 27-14 26-14 26-10 26-2 26-7 26-29 26-47 26-42 26-27 26-11 26 6 26 22 26 39 27 52 26 55 26 33 26 14 26 21 26 35 26 38"/>
<path d="M0 597l26 11 26 1 26-58 26-94 26-86 26-71 27-57 26-43 26-28 26-13 26 2 26 17 26 31 26 46 26 60 26 75 26 85 26 57 26-3 26-7 27 0 26 0 26-2 26-17 26-58 26-68 26-56 26-40 26-23 26-7 26 11 26 27 26 44 27 60 26 77 26 86 26 65 26 18 26 7 26 7"/>
<path d="M0 627l26-2 26-8 26-46 26-84 26-81 26-68 27-54 26-40 26-24 26-11 26 4 26 19 26 33 26 47 26 61 26 70 26 56 26 22 26 11 26 10 27 13 26 15 26 12 26-5 26-51 26-73 26-62 26-46 26-28 26-11 26 6 26 23 26 41 27 57 26 73 26 76 26 36 26-2 26-12 26-14"/>
<path d="M0 653l26-5 26-9 26-44 26-87 26-85 26-71 27-56 26-41 26-26 26-10 26 5 26 20 26 36 26 51 26 66 26 76 26 64 26 23 26 8 26 4 27-4 26-7 26-7 26-13 26-53 26-71 26-59 26-42 26-24 26-7 26 12 26 29 26 46 27 64 26 78 26 64 26 17 26 1 26-3 26-2"/>
<path d="M0 558l26 37 26 30 26-22 26-83 26-83 26-70 27-56 26-41 26-26 26-11 26 3 26 18 26 33 26 47 26 61 26 72 26 48 26-12 26-25 26-11 27 12 26 26 26 22 26 3 26-19 26-57 26-61 26-48 26-30 26-12 26 5 26 24 26 42 27 57 26 64 26 36 26 7 26 10 26 22 26 24"/>
<path d="M0 648l26-1 26-25 26-85 26-95 26-83 26-69 27-53 26-39 26-24 26-10 26 6 26 20 26 36 26 50 26 64 26 78 26 76 26 36 26 10 26 8 27 21 26 33 26 25 26-28 26-82 26-82 26-65 26-48 26-30 26-12 26 6 26 23 26 42 27 59 26 75 26 73 26 29 26 18 26 36 26 41"/>
<path d="M0 622l26 18 26 3 26-68 26-96 26-85 26-70 27-56 26-42 26-26 26-12 26 3 26 17 26 32 26 47 26 62 26 75 26 81 26 36 26-11 26-7 27 11 26 24 26 18 26-27 26-78 26-76 26-60 26-42 26-24 26-6 26 12 26 30 26 48 27 66 26 81 26 75 26 27 26 10 26 16 26 17"/>
<path d="M0 653l26-36 26-33 26-25 26-56 26-78 26-70 27-54 26-40 26-23 26-8 26 7 26 23 26 38 26 54 26 69 26 80 26 58 26-2 26-18 26-9 27 9 26 21 26 19 26-1 26-46 26-73 26-62 26-45 26-27 26-9 26 10 26 27 26 46 27 63 26 75 26 59 26 17 26 7 26 10 26 10"/>
<path d="M0 668l26 1 26-14 26-76 26-96 26-86 26-70 27-55 26-39 26-24 26-9 26 6 26 22 26 37 26 52 26 67 26 74 26 50 26 10 26 0 26 0 27 6 26 14 26 14 26 0 26-43 26-68 26-59 26-43 26-26 26-10 26 8 26 25 26 42 27 59 26 75 26 80 26 44 26 5 26-3 26-3"/>
<path d="M0 658l26-18 26-20 26-43 26-84 26-85 26-73 27-58 26-43 26-27 26-12 26 4 26 19 26 35 26 49 26 64 26 69 26 45 26 14 26 8 26 6 27 5 26 4 26 4 26-5 26-43 26-65 26-56 26-41 26-25 26-8 26 8 26 26 26 41 27 58 26 72 26 71 26 32 26 8 26 4 26 4"/>
<path d="M0 627l26 6 26-2 26-54 26-90 26-82 26-69 27-54 26-40 26-24 26-10 26 5 26 20 26 34 26 49 26 64 26 75 26 67 26 32 26 15 26 5 27-8 26-19 26-17 26-7 26-29 26-62 26-62 26-46 26-28 26-10 26 7 26 26 26 43 27 60 26 70 26 52 26 16 26 17 26 31 26 34"/>
<path d="M0 572l26 33 26 21 26-57 26-99 26-89 26-73 27-59 26-42 26-27 26-12 26 4 26 20 26 35 26 50 26 66 26 81 26 86 26 26 26-24 26-13 27 1 26 0 26 1 26-3 26-29 26-59 26-58 26-43 26-26 26-11 26 7 26 23 26 40 27 56 26 72 26 82 26 58 26 7 26-9 26-12"/>
<path d="M0 684l26-37 26-46 26-75 26-92 26-83 26-69 27-54 26-39 26-24 26-9 26 6 26 21 26 36 26 51 26 66 26 80 26 86 26 45 26 0 26-2 27 15 26 30 26 23 26-32 26-83 26-81 26-64 26-47 26-29 26-12 26 6 26 24 26 41 27 58 26 74 26 73 26 29 26 12 26 21 26 24"/>
<path d="M0 622l26-1 26-7 26-45 26-85 26-82 26-68 27-54 26-38 26-24 26-9 26 6 26 20 26 36 26 50 26 65 26 75 26 62 26 33 26 20 26 8 27-3 26-8 26-7 26-12 26-50 26-72 26-61 26-45 26-29 26-11 26 5 26 23 26 40 27 56 26 73 26 86 26 73 26 26 26 10 26 8"/>
<path d="M0 584l26 22 26 12 26-47 26-86 26-80 26-66 27-51 26-36 26-22 26-8 26 8 26 22 26 36 26 51 26 66 26 78 26 74 26 25 26-2 26-2 27 0 26-1 26 0 26-10 26-50 26-75 26-64 26-47 26-29 26-11 26 7 26 25 26 43 27 62 26 77 26 81 26 40 26 9 26 6 26 6"/>
<path d="M0 639l26-9 26-19 26-61 26-91 26-82 26-69 27-55 26-40 26-26 26-11 26 3 26 17 26 32 26 46 26 61 26 75 26 85 26 50 26-22 26-15 27 18 26 37 26 32 26-27 26-81 26-79 26-63 26-46 26-29 26-12 26 5 26 22 26 40 27 56 26 74 26 87 26 72 26 12 26-14 26-17"/>
<path d="M0 628l26-3 26-8 26-44 26-85 26-83 26-70 27-56 26-41 26-27 26-13 26 2 26 17 26 30 26 46 26 59 26 73 26 75 26 14 26-29 26-15 27 3 26 8 26 9 26 4 26-18 26-54 26-56 26-44 26-27 26-11 26 6 26 22 26 39 27 55 26 69 26 70 26 34 26-1 26-14 26-17"/>
<path d="M0 707l26-43 26-42 26-44 26-77 26-85 26-73 27-58 26-42 26-28 26-11 26 3 26 19 26 35 26 49 26 65 26 79 26 79 26 14 26-24 26-11 27 22 26 46 26 34 26-37 26-78 26-71 26-56 26-40 26-23 26-7 26 10 26 27 26 43 27 59 26 71 26 60 26 17 26 8 26 15 26 16"/>
<path d="M0 671l26 0 26-7 26-55 26-96 26-90 26-74 27-60 26-44 26-29 26-13 26 2 26 17 26 33 26 47 26 63 26 73 26 61 26 36 26 26 26 11 27-8 26-15 26-14 26-10 26-37 26-61 26-55 26-39 26-23 26-5 26 11 26 29 26 45 27 62 26 72 26 59 26 21 26 8 26 7 26 8"/>
<path d="M0 641l26-8 26-10 26-27 26-75 26-87 26-75 27-59 26-44 26-28 26-12 26 4 26 19 26 35 26 51 26 66 26 79 26 67 26 7 26-13 26-7 27 3 26 7 26 6 26-2 26-35 26-66 26-59 26-44 26-26 26-9 26 9 26 27 26 44 27 61 26 71 26 52 26 15 26 11 26 15 26 17"/>
</g>
<linearGradient id="g2" gradientUnits="userSpaceOnUse" x1="0" y1="0" x2="1043" y2="0"><stop offset="0" stop-color="#fff" stop-opacity="0.06"/><stop offset="0.04" stop-color="#fff" stop-opacity="0.06"/><stop offset="0.08" stop-color="#fff" stop-opacity="0.034"/><stop offset="0.14" stop-color="#fff" stop-opacity="0.047"/><stop offset="0.18" stop-color="#fff" stop-opacity="0.068"/><stop offset="0.21" stop-color="#fff" stop-opacity="0.165"/><stop offset="0.29" stop-color="#fff" stop-opacity="0.165"/><stop offset="0.32" stop-color="#fff" stop-opacity="0.068"/><stop offset="0.36" stop-color="#fff" stop-opacity="0.047"/><stop offset="0.41" stop-color="#fff" stop-opacity="0.034"/><stop offset="0.45" stop-color="#fff" stop-opacity="0.06"/><stop offset="0.56" stop-color="#fff" stop-opacity="0.06"/><stop offset="0.59" stop-color="#fff" stop-opacity="0.034"/><stop offset="0.64" stop-color="#fff" stop-opacity="0.047"/><stop offset="0.68" stop-color="#fff" stop-opacity="0.068"/><stop offset="0.71" stop-color="#fff" stop-opacity="0.15"/><stop offset="0.79" stop-color="#fff" stop-opacity="0.15"/><stop offset="0.82" stop-color="#fff" stop-opacity="0.068"/><stop offset="0.86" stop-color="#fff" stop-opacity="0.047"/><stop offset="0.91" stop-color="#fff" stop-opacity="0.034"/><stop offset="0.94" stop-color="#fff" stop-opacity="0.06"/><stop offset="1" stop-color="#fff" stop-opacity="0.06"/></linearGradient>
<g stroke-width="6.2" stroke="url(#g2)">
<path d="M0 693l13-5 13-7 13-12 13-23 13-42 13-51 13-52 13-50 13-47 13-42 13-39 13-35 13-31 14-27 13-23 13-19 13-15 13-12 13-7 13-3 13 0 13 4 13 9 13 12 13 16 13 20 13 24 13 28 13 31 13 36 13 39 13 44 13 47 13 49 13 47 13 33 13 11 13-1 13-2 13-1 14 0 13 0 13 0 13 1 13-1 13-6 13-19 13-34 13-43 13-42 13-40 13-36 13-31 13-28 13-23 13-19 13-14 13-10 13-6 13-2 13 3 13 7 13 12 13 16 13 20 13 24 14 29 13 33 13 37 13 41 13 45 13 45 13 41 13 26 13 12 13 6 13 4 13 4 13 4 13 4"/>
<path d="M0 682l13-4 13-4 13-6 13-15 13-32 13-48 13-53 13-51 13-48 13-44 13-41 13-36 13-32 14-29 13-24 13-21 13-16 13-13 13-8 13-5 13-1 13 3 13 8 13 11 13 15 13 19 13 23 13 27 13 31 13 35 13 38 13 43 13 46 13 47 13 42 13 29 13 14 13 5 13 2 13 2 14 2 13 1 13 2 13 1 13 1 13-2 13-11 13-27 13-40 13-44 13-41 13-38 13-34 13-30 13-25 13-20 13-16 13-12 13-7 13-3 13 2 13 6 13 11 13 15 13 19 13 24 14 29 13 33 13 37 13 41 13 45 13 45 13 39 13 24 13 11 13 5 13 3 13 4 13 4 13 4"/>
<path d="M0 702l13-5 13-9 13-19 13-38 13-51 13-54 13-51 13-49 13-44 13-41 13-37 13-33 13-29 14-25 13-22 13-18 13-13 13-10 13-6 13-3 13 2 13 5 13 10 13 13 13 17 13 21 13 24 13 29 13 32 13 37 13 40 13 43 13 47 13 48 13 45 13 29 13 12 13 3 13 1 13 1 14 1 13 4 13 4 13 5 13 4 13-1 13-17 13-36 13-46 13-47 13-43 13-40 13-35 13-30 13-26 13-22 13-17 13-12 13-8 13-3 13 1 13 6 13 10 13 15 13 19 13 24 14 29 13 33 13 37 13 42 13 46 13 49 13 47 13 34 13 16 13 4 13 1 13 0 13 0 13 1"/>
<path d="M0 696l13-4 13-8 13-19 13-38 13-50 13-52 13-51 13-47 13-43 13-40 13-36 13-33 13-29 14-25 13-21 13-18 13-14 13-10 13-7 13-3 13 1 13 4 13 9 13 11 13 16 13 19 13 23 13 27 13 30 13 34 13 38 13 41 13 45 13 47 13 47 13 35 13 16 13 1 13-3 13-1 14 2 13 6 13 8 13 8 13 5 13-5 13-27 13-42 13-46 13-44 13-40 13-36 13-32 13-28 13-23 13-19 13-15 13-11 13-6 13-2 13 2 13 7 13 11 13 15 13 19 13 24 14 28 13 32 13 37 13 40 13 45 13 47 13 47 13 36 13 19 13 6 13 2 13 1 13 1 13 0"/>
<path d="M0 695l13-6 13-8 13-15 13-31 13-46 13-52 13-51 13-48 13-44 13-41 13-37 13-34 13-29 14-26 13-22 13-19 13-14 13-11 13-7 13-3 13 0 13 5 13 7 13 12 13 16 13 19 13 23 13 27 13 30 13 35 13 38 13 41 13 45 13 48 13 44 13 27 13 3 13-7 13-7 13-3 14 3 13 8 13 11 13 13 13 10 13 5 13-11 13-30 13-42 13-45 13-43 13-38 13-35 13-30 13-25 13-21 13-17 13-12 13-8 13-3 13 1 13 6 13 10 13 15 13 19 13 23 14 28 13 33 13 37 13 41 13 44 13 47 13 41 13 27 13 12 13 4 13 2 13 3 13 2 13 2"/>
<path d="M0 689l13-2 13-7 13-22 13-42 13-52 13-52 13-50 13-47 13-43 13-39 13-36 13-31 13-29 14-24 13-21 13-17 13-13 13-10 13-6 13-2 13 2 13 5 13 9 13 12 13 17 13 20 13 24 13 27 13 31 13 35 13 39 13 42 13 45 13 49 13 48 13 35 13 7 13-8 13-9 13-3 14 2 13 5 13 7 13 9 13 7 13 2 13-12 13-31 13-43 13-45 13-43 13-38 13-34 13-30 13-26 13-21 13-16 13-12 13-7 13-3 13 1 13 6 13 10 13 15 13 20 13 23 14 29 13 32 13 37 13 42 13 45 13 47 13 46 13 33 13 16 13 7 13 5 13 4 13 4 13 4"/>
<path d="M0 685l13-2 13-4 13-12 13-32 13-48 13-53 13-51 13-48 13-44 13-41 13-37 13-33 13-30 14-25 13-22 13-18 13-14 13-11 13-7 13-3 13 1 13 4 13 9 13 12 13 16 13 19 13 24 13 27 13 31 13 34 13 39 13 42 13 45 13 48 13 47 13 35 13 12 13 0 13-3 13-1 14 0 13 0 13 1 13 1 13 0 13-2 13-12 13-28 13-40 13-43 13-40 13-38 13-33 13-29 13-24 13-20 13-16 13-11 13-7 13-3 13 2 13 6 13 10 13 15 13 19 13 23 14 28 13 32 13 37 13 40 13 45 13 47 13 47 13 38 13 19 13 6 13 2 13 0 13 0 13 1"/>
<path d="M0 678l13-1 13-4 13-12 13-29 13-46 13-52 13-51 13-47 13-45 13-40 13-37 13-33 13-30 14-25 13-22 13-19 13-14 13-11 13-7 13-4 13 1 13 4 13 8 13 11 13 15 13 19 13 23 13 26 13 30 13 34 13 38 13 41 13 44 13 46 13 43 13 25 13 3 13-6 13-5 13-3 14 3 13 8 13 10 13 11 13 8 13 0 13-18 13-36 13-42 13-42 13-39 13-35 13-31 13-27 13-22 13-18 13-14 13-10 13-6 13-1 13 2 13 7 13 11 13 16 13 19 13 24 14 28 13 32 13 36 13 41 13 43 13 44 13 40 13 25 13 10 13 4 13 1 13 0 13 1 13 0"/>
<path d="M0 720l13-11 13-15 13-24 13-39 13-49 13-52 13-50 13-47 13-44 13-40 13-36 13-33 13-29 14-25 13-22 13-18 13-14 13-11 13-7 13-3 13 0 13 4 13 8 13 11 13 15 13 18 13 23 13 26 13 29 13 33 13 37 13 41 13 43 13 47 13 47 13 40 13 19 13 2 13-2 13-1 14 1 13 2 13 4 13 5 13 2 13-5 13-21 13-37 13-44 13-42 13-40 13-36 13-32 13-27 13-24 13-20 13-15 13-11 13-8 13-3 13 1 13 5 13 10 13 13 13 17 13 22 14 26 13 29 13 34 13 38 13 42 13 45 13 47 13 45 13 33 13 17 13 8 13 5 13 4 13 4"/>
<path d="M0 697l13-5 13-7 13-16 13-35 13-49 13-53 13-51 13-48 13-45 13-40 13-37 13-33 13-29 14-25 13-22 13-17 13-14 13-10 13-6 13-2 13 1 13 6 13 9 13 13 13 17 13 21 13 24 13 28 13 33 13 36 13 40 13 43 13 47 13 50 13 46 13 27 13-1 13-11 13-9 13-4 14 2 13 6 13 8 13 9 13 8 13 1 13-16 13-34 13-44 13-44 13-41 13-38 13-33 13-28 13-25 13-20 13-16 13-11 13-7 13-3 13 2 13 6 13 10 13 15 13 19 13 23 14 28 13 32 13 36 13 40 13 44 13 47 13 45 13 35 13 19 13 11 13 8 13 9 13 8 13 9"/>
<path d="M0 681l13-2 13-6 13-21 13-39 13-50 13-50 13-49 13-45 13-42 13-39 13-35 13-31 13-28 14-24 13-21 13-17 13-14 13-10 13-7 13-3 13 1 13 4 13 8 13 11 13 15 13 18 13 22 13 25 13 29 13 33 13 35 13 40 13 42 13 45 13 45 13 38 13 23 13 9 13 3 13 1 14 1 13 1 13 0 13 1 13-1 13-5 13-16 13-32 13-41 13-42 13-40 13-36 13-32 13-28 13-24 13-19 13-16 13-11 13-7 13-3 13 1 13 5 13 10 13 14 13 17 13 22 14 26 13 31 13 34 13 38 13 43 13 45 13 46 13 40 13 26 13 12 13 6 13 4 13 3 13 4"/>
<path d="M0 687l13-5 13-9 13-20 13-37 13-49 13-51 13-49 13-46 13-42 13-39 13-36 13-32 13-28 14-25 13-21 13-18 13-14 13-11 13-7 13-3 13 0 13 4 13 7 13 11 13 15 13 18 13 21 13 25 13 29 13 32 13 36 13 39 13 43 13 45 13 46 13 38 13 19 13 2 13-2 13-1 14 2 13 4 13 6 13 6 13 6 13 0 13-14 13-33 13-42 13-44 13-41 13-37 13-33 13-29 13-25 13-20 13-16 13-12 13-7 13-3 13 1 13 6 13 10 13 15 13 18 13 23 14 28 13 31 13 36 13 40 13 44 13 46 13 43 13 31 13 15 13 6 13 4 13 3 13 4 13 3"/>
<path d="M0 693l13-6 13-8 13-16 13-32 13-47 13-51 13-51 13-47 13-44 13-40 13-37 13-33 13-29 14-26 13-22 13-18 13-15 13-12 13-7 13-4 13 0 13 3 13 7 13 11 13 14 13 18 13 21 13 26 13 28 13 33 13 36 13 39 13 44 13 46 13 46 13 41 13 23 13 6 13-1 13 0 14 2 13 5 13 7 13 7 13 4 13-7 13-27 13-42 13-45 13-43 13-40 13-35 13-32 13-27 13-23 13-19 13-15 13-10 13-7 13-2 13 2 13 6 13 11 13 14 13 19 13 23 14 27 13 32 13 35 13 40 13 43 13 47 13 48 13 43 13 27 13 12 13 5 13 3 13 2 13 3"/>
<path d="M0 676l13-2 13-4 13-12 13-30 13-46 13-52 13-51 13-48 13-44 13-40 13-37 13-33 13-29 14-26 13-21 13-18 13-15 13-10 13-7 13-3 13 0 13 4 13 8 13 12 13 16 13 19 13 23 13 27 13 30 13 34 13 38 13 41 13 45 13 47 13 45 13 29 13 7 13-5 13-5 13-2 14 3 13 9 13 12 13 13 13 11 13 0 13-21 13-41 13-46 13-46 13-41 13-38 13-33 13-28 13-24 13-19 13-15 13-10 13-6 13-1 13 4 13 8 13 12 13 18 13 22 13 26 14 31 13 35 13 40 13 44 13 48 13 46 13 37 13 18 13 7 13 4 13 4 13 4 13 4 13 4"/>
<path d="M0 702l13-5 13-7 13-16 13-33 13-49 13-54 13-52 13-50 13-45 13-42 13-38 13-34 13-30 14-26 13-22 13-19 13-14 13-10 13-7 13-2 13 1 13 5 13 10 13 13 13 17 13 21 13 25 13 29 13 33 13 36 13 41 13 44 13 47 13 47 13 36 13 14 13-1 13-6 13-5 13-2 14 3 13 8 13 10 13 11 13 10 13 5 13-7 13-26 13-40 13-45 13-43 13-40 13-35 13-31 13-26 13-22 13-17 13-13 13-8 13-3 13 1 13 5 13 10 13 15 13 19 13 24 14 28 13 32 13 38 13 41 13 45 13 46 13 41 13 26 13 13 13 8 13 9 13 9 13 10 13 9"/>
<path d="M0 710l13-7 13-12 13-26 13-43 13-51 13-52 13-50 13-47 13-43 13-39 13-36 13-32 13-28 14-25 13-21 13-17 13-14 13-10 13-6 13-3 13 2 13 4 13 9 13 12 13 16 13 19 13 23 13 27 13 30 13 34 13 38 13 41 13 45 13 47 13 46 13 36 13 18 13 5 13 0 13 0 14 2 13 4 13 5 13 6 13 2 13-10 13-30 13-43 13-45 13-44 13-40 13-35 13-32 13-27 13-22 13-19 13-14 13-9 13-6 13-1 13 4 13 7 13 12 13 17 13 20 13 26 14 29 13 34 13 37 13 42 13 46 13 47 13 41 13 27 13 12 13 7 13 7 13 7 13 7 13 7"/>
</g>
<linearGradient id="g3" gradientUnits="userSpaceOnUse" x1="0" y1="0" x2="1043" y2="0"><stop offset="0" stop-color="#fff" stop-opacity="0.24"/><stop offset="0.01" stop-color="#fff" stop-opacity="0.24"/><stop offset="0.05" stop-color="#fff" stop-opacity="0"/><stop offset="0.14" stop-color="#fff" stop-opacity="0"/><stop offset="0.18" stop-color="#fff" stop-opacity="0"/><stop offset="0.21" stop-color="#fff" stop-opacity="0"/><stop offset="0.29" stop-color="#fff" stop-opacity="0"/><stop offset="0.32" stop-color="#fff" stop-opacity="0"/><stop offset="0.36" stop-color="#fff" stop-opacity="0"/><stop offset="0.41" stop-color="#fff" stop-opacity="0"/><stop offset="0.45" stop-color="#fff" stop-opacity="0.24"/><stop offset="0.56" stop-color="#fff" stop-opacity="0.24"/><stop offset="0.59" stop-color="#fff" stop-opacity="0"/><stop offset="0.64" stop-color="#fff" stop-opacity="0"/><stop offset="0.68" stop-color="#fff" stop-opacity="0"/><stop offset="0.71" stop-color="#fff" stop-opacity="0"/><stop offset="0.79" stop-color="#fff" stop-opacity="0"/><stop offset="0.82" stop-color="#fff" stop-opacity="0"/><stop offset="0.86" stop-color="#fff" stop-opacity="0"/><stop offset="0.91" stop-color="#fff" stop-opacity="0"/><stop offset="0.94" stop-color="#fff" stop-opacity="0.24"/><stop offset="1" stop-color="#fff" stop-opacity="0.24"/></linearGradient>
<g stroke-width="7.5" stroke="url(#g3)">
<path d="M0 668l13 8 13 6 13-1 13-23 13-47 13-54 13-52 13-50 13-46 13-42 13-38 13-34 13-30 14-27 13-22 13-19 13-15 13-10 13-7 13-3 13 0 13 5 13 9 13 12 13 17 13 20 13 25 13 28 13 32 13 36 13 39 13 44 13 47 13 50 13 43 13 16 13 3 13 5 13 7 13 3 14-1 13-1 13-1 13-1 13-2 13-8 13-21 13-34 13-41 13-41 13-38 13-34 13-30 13-26 13-22 13-18 13-14 13-10 13-6 13-1 13 2 13 7 13 11 13 15 13 19 13 23 14 27 13 32 13 35 13 39 13 43 13 44 13 41 13 30 13 17 13 11 13 11 13 10 13 11 13 11"/>
<path d="M0 705l13-4 13-5 13-10 13-27 13-45 13-53 13-53 13-50 13-46 13-43 13-38 13-35 13-32 14-27 13-24 13-19 13-16 13-12 13-9 13-4 13-1 13 3 13 7 13 11 13 14 13 19 13 22 13 26 13 30 13 33 13 38 13 41 13 45 13 48 13 49 13 47 13 32 13 5 13-11 13-7 14 7 13 15 13 10 13-5 13-15 13-17 13-19 13-31 13-42 13-44 13-42 13-38 13-33 13-29 13-24 13-20 13-15 13-10 13-6 13-1 13 4 13 8 13 12 13 18 13 21 13 27 14 31 13 36 13 40 13 44 13 48 13 48 13 38 13 21 13 6 13 0 13 0 13-2 13-1 13-1"/>
<path d="M0 673l13-4 13-6 13-10 13-24 13-40 13-50 13-50 13-48 13-45 13-41 13-37 13-33 13-30 14-26 13-23 13-18 13-15 13-12 13-7 13-4 13 0 13 3 13 8 13 11 13 14 13 19 13 22 13 26 13 29 13 33 13 37 13 41 13 44 13 47 13 49 13 46 13 32 13 8 13-5 13-8 14-7 13-7 13-4 13 2 13 6 13 0 13-19 13-35 13-42 13-40 13-38 13-35 13-30 13-27 13-22 13-19 13-15 13-11 13-7 13-3 13 1 13 5 13 9 13 12 13 17 13 20 14 24 13 29 13 32 13 36 13 40 13 43 13 45 13 44 13 33 13 15 13 2 13-2 13-3 13-3"/>
<path d="M0 699l13-10 13-11 13-12 13-18 13-34 13-47 13-52 13-50 13-46 13-43 13-40 13-35 13-31 14-27 13-24 13-19 13-15 13-12 13-7 13-4 13 1 13 4 13 9 13 12 13 16 13 21 13 24 13 28 13 32 13 36 13 40 13 44 13 47 13 49 13 43 13 27 13 10 13-3 13-6 13-7 14-7 13-7 13-4 13 9 13 26 13 19 13-19 13-41 13-46 13-44 13-40 13-37 13-32 13-28 13-24 13-20 13-16 13-11 13-7 13-3 13 2 13 5 13 10 13 14 13 19 13 22 14 27 13 31 13 36 13 39 13 44 13 46 13 47 13 41 13 22 13 2 13-6 13-8 13-10 13-9"/>
<path d="M0 711l13-10 13-12 13-21 13-35 13-48 13-51 13-51 13-47 13-44 13-40 13-37 13-33 13-28 14-26 13-21 13-18 13-13 13-10 13-7 13-2 13 1 13 5 13 9 13 13 13 16 13 20 13 24 13 28 13 31 13 35 13 39 13 42 13 45 13 45 13 44 13 41 13 22 13-1 13-8 13-5 14 6 13 13 13 9 13-4 13-14 13-16 13-18 13-29 13-40 13-43 13-40 13-37 13-32 13-29 13-24 13-20 13-15 13-11 13-7 13-3 13 1 13 6 13 10 13 15 13 18 13 23 14 28 13 31 13 36 13 40 13 43 13 47 13 47 13 39 13 24 13 11 13 5 13 5 13 4 13 4"/>
<path d="M0 664l13 6 13 4 13-7 13-31 13-48 13-52 13-50 13-47 13-43 13-40 13-36 13-33 13-28 14-25 13-22 13-17 13-14 13-11 13-6 13-3 13 0 13 5 13 8 13 12 13 15 13 20 13 22 13 27 13 30 13 34 13 38 13 41 13 44 13 46 13 45 13 34 13 16 13-6 13-15 13-9 14 3 13 8 13 9 13 10 13 12 13-3 13-29 13-42 13-44 13-42 13-38 13-35 13-30 13-26 13-22 13-18 13-14 13-10 13-6 13-2 13 3 13 7 13 10 13 15 13 19 13 23 14 27 13 31 13 36 13 39 13 42 13 45 13 44 13 33 13 18 13 8 13 5 13 5 13 4 13 5"/>
<path d="M0 662l13 11 13 9 13 2 13-20 13-45 13-54 13-52 13-50 13-46 13-42 13-39 13-35 13-30 14-28 13-23 13-20 13-15 13-12 13-8 13-5 13 0 13 3 13 7 13 11 13 14 13 19 13 22 13 26 13 29 13 34 13 37 13 41 13 45 13 47 13 43 13 28 13 11 13 10 13 12 13 9 14 7 13 6 13 3 13 0 13-2 13-7 13-19 13-35 13-44 13-44 13-41 13-38 13-33 13-29 13-24 13-20 13-16 13-11 13-7 13-3 13 2 13 6 13 10 13 15 13 19 13 23 14 28 13 32 13 37 13 40 13 45 13 48 13 47 13 39 13 19 13 2 13-5 13-8 13-8 13-8"/>
<path d="M0 694l13-5 13-5 13-8 13-17 13-34 13-49 13-53 13-51 13-48 13-43 13-40 13-36 13-33 14-28 13-24 13-20 13-17 13-12 13-9 13-4 13-1 13 3 13 7 13 12 13 15 13 19 13 23 13 27 13 30 13 35 13 39 13 42 13 47 13 49 13 50 13 41 13 19 13 0 13-6 13-3 14 6 13 12 13 8 13-6 13-18 13-21 13-15 13-25 13-37 13-42 13-40 13-37 13-33 13-28 13-24 13-20 13-15 13-11 13-6 13-2 13 3 13 7 13 11 13 16 13 20 13 25 14 29 13 33 13 38 13 42 13 46 13 48 13 45 13 31 13 12 13 3 13 0 13 0 13-1 13-1"/>
<path d="M0 688l13 1 13-4 13-18 13-38 13-51 13-52 13-49 13-46 13-43 13-39 13-36 13-32 13-28 14-25 13-21 13-17 13-14 13-11 13-7 13-3 13 1 13 4 13 7 13 12 13 14 13 19 13 22 13 26 13 29 13 33 13 36 13 40 13 43 13 45 13 46 13 45 13 30 13-4 13-25 13-13 14 3 13 7 13 9 13 8 13 7 13-7 13-29 13-40 13-42 13-40 13-37 13-32 13-29 13-25 13-22 13-17 13-13 13-9 13-6 13-1 13 2 13 7 13 10 13 14 13 19 13 22 14 26 13 30 13 34 13 38 13 41 13 44 13 45 13 39 13 25 13 14 13 8 13 6 13 6 13 6"/>
</g>
</g></g>
<clipPath id="c1"><rect x="66.9" y="173.1" width="104.3" height="93.8"/></clipPath>
<g clip-path="url(#c1)"><g transform="translate(66.9 173.1) scale(.1)" class="cv">
<linearGradient id="g4" gradientUnits="userSpaceOnUse" x1="0" y1="0" x2="1043" y2="0"><stop offset="0" stop-color="#a8b6e6" stop-opacity="0.32"/><stop offset="0.04" stop-color="#a8b6e6" stop-opacity="0.32"/><stop offset="0.08" stop-color="#a8b6e6" stop-opacity="0.064"/><stop offset="0.14" stop-color="#a8b6e6" stop-opacity="0.09"/><stop offset="0.18" stop-color="#a8b6e6" stop-opacity="0.128"/><stop offset="0.21" stop-color="#a8b6e6" stop-opacity="0.096"/><stop offset="0.29" stop-color="#a8b6e6" stop-opacity="0.096"/><stop offset="0.32" stop-color="#a8b6e6" stop-opacity="0.128"/><stop offset="0.36" stop-color="#a8b6e6" stop-opacity="0.09"/><stop offset="0.41" stop-color="#a8b6e6" stop-opacity="0.064"/><stop offset="0.45" stop-color="#a8b6e6" stop-opacity="0.32"/><stop offset="0.56" stop-color="#a8b6e6" stop-opacity="0.32"/><stop offset="0.59" stop-color="#a8b6e6" stop-opacity="0.064"/><stop offset="0.64" stop-color="#a8b6e6" stop-opacity="0.09"/><stop offset="0.68" stop-color="#a8b6e6" stop-opacity="0.128"/><stop offset="0.71" stop-color="#a8b6e6" stop-opacity="0.096"/><stop offset="0.79" stop-color="#a8b6e6" stop-opacity="0.096"/><stop offset="0.82" stop-color="#a8b6e6" stop-opacity="0.128"/><stop offset="0.86" stop-color="#a8b6e6" stop-opacity="0.09"/><stop offset="0.91" stop-color="#a8b6e6" stop-opacity="0.064"/><stop offset="0.94" stop-color="#a8b6e6" stop-opacity="0.32"/><stop offset="1" stop-color="#a8b6e6" stop-opacity="0.32"/></linearGradient>
<g stroke-width="5" stroke="url(#g4)">
<path d="M0 602l13-6 13-6 13-6 13-7 13-8 13-15 13-27 13-39 13-45 13-43 13-41 13-38 13-33 14-29 13-26 13-21 13-18 13-13 13-10 13-5 13-2 13 3 13 6 13 11 13 14 13 19 13 22 13 27 13 30 13 34 13 37 13 36 13 30 13 15 13 4 13 1 13 4 13 8 13 8 13 3 14 0 13-1 13-1 13 0 13 3 13 8 13 7 13-2 13-16 13-29 13-35 13-35 13-31 13-28 13-24 13-19 13-14 13-10 13-6 13-1 13 4 13 8 13 13 13 17 13 21 13 26 14 31 13 34 13 38 13 40 13 35 13 22 13 9 13 2 13-1 13-1 13 2 13 5 13 8 13 8"/>
<path d="M0 589l13-1 13-1 13-2 13-5 13-12 13-28 13-40 13-45 13-44 13-41 13-37 13-34 13-30 14-26 13-22 13-19 13-14 13-11 13-7 13-4 13 1 13 4 13 9 13 12 13 15 13 20 13 23 13 28 13 30 13 34 13 36 13 36 13 31 13 25 13 17 13 13 13 13 13 14 13 12 13 5 14-11 13-25 13-25 13-12 13 1 13 2 13 2 13-1 13-9 13-19 13-27 13-29 13-28 13-26 13-21 13-18 13-14 13-10 13-6 13-2 13 2 13 6 13 10 13 14 13 18 13 22 14 26 13 30 13 33 13 36 13 36 13 32 13 18 13 2 13-4 13-3 13 5 13 13 13 19 13 24"/>
<path d="M0 632l13-1 13-2 13-5 13-11 13-26 13-40 13-47 13-45 13-44 13-39 13-37 13-32 13-29 14-25 13-22 13-18 13-14 13-11 13-7 13-3 13 0 13 4 13 8 13 11 13 16 13 18 13 23 13 26 13 29 13 33 13 36 13 38 13 36 13 32 13 23 13 10 13-5 13-15 13-16 13-8 14 4 13 7 13 9 13 6 13 4 13 3 13 1 13-6 13-17 13-28 13-32 13-33 13-29 13-26 13-22 13-18 13-13 13-9 13-6 13-1 13 4 13 7 13 12 13 16 13 19 13 25 14 28 13 31 13 35 13 34 13 31 13 21 13 19 13 23 13 21 13 10 13 0 13-1 13-1 13-4"/>
<path d="M0 619l13-6 13-7 13-6 13-9 13-15 13-27 13-38 13-42 13-43 13-40 13-37 13-34 13-30 14-26 13-23 13-19 13-15 13-12 13-9 13-4 13-1 13 2 13 6 13 10 13 14 13 17 13 21 13 24 13 28 13 31 13 34 13 36 13 31 13 8 13-13 13-8 13 6 13 10 13 12 13 7 14 2 13 1 13 1 13 3 13 11 13 19 13 19 13 7 13-5 13-13 13-24 13-29 13-31 13-29 13-26 13-21 13-18 13-13 13-8 13-4 13 0 13 5 13 9 13 13 13 18 13 22 14 25 13 29 13 30 13 28 13 20 13 10 13 8 13 10 13 10 13 4 13-2 13-6 13-9 13-13"/>
<path d="M0 603l13-6 13-6 13-6 13-8 13-10 13-18 13-31 13-39 13-42 13-40 13-38 13-34 13-31 14-27 13-23 13-20 13-15 13-13 13-8 13-5 13-1 13 3 13 7 13 10 13 14 13 17 13 22 13 25 13 28 13 32 13 35 13 37 13 35 13 29 13 18 13 7 13-2 13-10 13-12 13-11 14-9 13-9 13-8 13-3 13 11 13 22 13 23 13 8 13-8 13-20 13-30 13-33 13-33 13-29 13-25 13-21 13-16 13-12 13-8 13-3 13 1 13 6 13 10 13 15 13 19 13 23 14 28 13 31 13 35 13 35 13 30 13 21 13 18 13 24 13 23 13 10 13 1 13 0 13 0 13 1"/>
<path d="M0 616l13-5 13-4 13-5 13-5 13-9 13-20 13-34 13-44 13-44 13-43 13-40 13-36 13-32 14-28 13-24 13-20 13-16 13-12 13-8 13-4 13-1 13 4 13 8 13 11 13 16 13 19 13 23 13 28 13 31 13 35 13 38 13 40 13 33 13 5 13-17 13-10 13 9 13 19 13 20 13 9 14-6 13-11 13-12 13-6 13 2 13 5 13 5 13 2 13-4 13-14 13-26 13-32 13-33 13-30 13-26 13-21 13-17 13-13 13-8 13-4 13 2 13 5 13 10 13 15 13 19 13 24 14 28 13 32 13 35 13 36 13 32 13 22 13 10 13 4 13 2 13 2 13 3 13 6 13 8 13 9"/>
<path d="M0 554l13 1 13 1 13 0 13-1 13-5 13-15 13-30 13-41 13-43 13-41 13-38 13-34 13-31 14-27 13-23 13-20 13-16 13-12 13-9 13-5 13-1 13 2 13 7 13 10 13 13 13 17 13 21 13 25 13 28 13 31 13 33 13 31 13 26 13 14 13 6 13 2 13 12 13 26 13 26 13 12 14-17 13-37 13-36 13-17 13 15 13 33 13 33 13 17 13-1 13-12 13-25 13-33 13-33 13-31 13-26 13-23 13-18 13-14 13-9 13-5 13 0 13 4 13 9 13 13 13 17 13 22 14 26 13 31 13 34 13 37 13 36 13 29 13 15 13 3 13-2 13-1 13 2 13 4 13 8 13 9"/>
<path d="M0 640l13-11 13-11 13-12 13-14 13-21 13-31 13-40 13-42 13-42 13-39 13-36 13-33 13-29 14-25 13-22 13-18 13-14 13-11 13-7 13-3 13 0 13 4 13 8 13 11 13 15 13 19 13 22 13 26 13 29 13 33 13 34 13 35 13 32 13 31 13 25 13 12 13-7 13-21 13-22 13-9 14 9 13 20 13 22 13 14 13 4 13 3 13-2 13-11 13-23 13-32 13-35 13-34 13-30 13-26 13-22 13-18 13-13 13-10 13-5 13-1 13 3 13 7 13 12 13 15 13 20 13 24 14 28 13 32 13 35 13 37 13 34 13 26 13 13 13 5 13 1 13 0 13-1 13-4 13-6 13-7"/>
<path d="M0 611l13-6 13-6 13-9 13-14 13-25 13-37 13-43 13-42 13-41 13-37 13-34 13-31 13-27 14-23 13-20 13-17 13-13 13-10 13-6 13-2 13 1 13 4 13 8 13 12 13 15 13 18 13 22 13 26 13 28 13 31 13 31 13 29 13 23 13 14 13 8 13 2 13-1 13-5 13-7 13-7 14-8 13-11 13-8 13-4 13 19 13 41 13 41 13 16 13-8 13-20 13-29 13-33 13-33 13-29 13-25 13-21 13-17 13-11 13-7 13-3 13 2 13 7 13 11 13 16 13 21 13 24 14 29 13 32 13 33 13 28 13 19 13 8 13 3 13 4 13 2 13 1 13 0 13-1 13-3 13-3"/>
<path d="M0 583l13-2 13-3 13-4 13-8 13-20 13-34 13-42 13-43 13-41 13-39 13-34 13-31 13-27 14-24 13-20 13-16 13-12 13-9 13-5 13-1 13 3 13 6 13 10 13 14 13 17 13 21 13 25 13 29 13 32 13 34 13 37 13 33 13 24 13 11 13 3 13 1 13 8 13 17 13 18 13 8 14-5 13-10 13-13 13-10 13-10 13-11 13-9 13-4 13-3 13-8 13-16 13-23 13-26 13-26 13-23 13-20 13-16 13-11 13-8 13-3 13 0 13 5 13 9 13 13 13 18 13 21 14 25 13 30 13 32 13 34 13 32 13 25 13 12 13 5 13 1 13-1 13-1 13-2 13-4 13-3"/>
<path d="M0 551l13-1 13-1 13-2 13-2 13-5 13-14 13-27 13-38 13-41 13-40 13-37 13-34 13-30 14-27 13-23 13-20 13-16 13-12 13-9 13-5 13-2 13 2 13 6 13 9 13 13 13 16 13 20 13 23 13 27 13 31 13 32 13 34 13 27 13 9 13-5 13-4 13 4 13 9 13 11 13 8 14 6 13 5 13 4 13 2 13-4 13-9 13-8 13-4 13-1 13-3 13-8 13-15 13-21 13-24 13-23 13-20 13-17 13-12 13-8 13-3 13 1 13 6 13 10 13 15 13 19 13 23 14 27 13 29 13 30 13 25 13 18 13 11 13 9 13 11 13 10 13 8 13 5 13 5 13 3 13 2"/>
<path d="M0 613l13-1 13-2 13-3 13-9 13-24 13-39 13-46 13-47 13-44 13-40 13-37 13-32 13-29 14-25 13-21 13-17 13-14 13-9 13-6 13-1 13 2 13 6 13 10 13 14 13 18 13 21 13 26 13 29 13 33 13 37 13 39 13 39 13 24 13-12 13-25 13-13 13 6 13 12 13 15 13 13 14 9 13 8 13 7 13 8 13 11 13 10 13 4 13-12 13-29 13-35 13-36 13-34 13-30 13-26 13-22 13-17 13-14 13-9 13-6 13-1 13 4 13 7 13 12 13 15 13 20 13 25 14 28 13 32 13 35 13 38 13 35 13 27 13 13 13 5 13 1 13 0 13 0 13 0 13 0 13 0"/>
</g>
</g></g>
<rect x="177.7" y="173.1" width="5.5" height="93.8" fill="url(#jet)"/>
<text class="c" x="184.5" y="264.58">2</text><text class="c" x="184.5" y="255.89">4</text><text class="c" x="184.5" y="247.21">6</text><text class="c" x="184.5" y="238.52">8</text><text class="c" x="184.5" y="229.84">10</text><text class="c" x="184.5" y="221.15">12</text><text class="c" x="184.5" y="212.46">14</text><text class="c" x="184.5" y="203.78">16</text><text class="c" x="184.5" y="195.09">18</text><text class="c" x="184.5" y="186.41">20</text><text class="c" x="184.5" y="177.72">22</text>
<text class="c" text-anchor="middle" transform="translate(193.4 220) rotate(-90)">Density(%)</text>
</g>
<g>
<text class="t" x="273.3" y="171.3">Persistence spectrum</text>
<text class="a" x="273.3" y="277.3">Frequency (Hz)</text>
<text class="a" transform="translate(210 220.05) rotate(-90)">Power Spectrum (dB)</text>
<text class="k" text-anchor="middle" x="220.8" y="272.4">0</text><text class="k" text-anchor="middle" x="246.8" y="272.4">50</text><text class="k" text-anchor="middle" x="272.8" y="272.4">100</text><text class="k" text-anchor="middle" x="298.8" y="272.4">150</text><text class="k" text-anchor="middle" x="324.8" y="272.4">200</text>
<text class="k" text-anchor="end" x="219.2" y="174.4">0</text><text class="k" text-anchor="end" x="219.2" y="183.77">-10</text><text class="k" text-anchor="end" x="219.2" y="193.14">-20</text><text class="k" text-anchor="end" x="219.2" y="202.51">-30</text><text class="k" text-anchor="end" x="219.2" y="211.88">-40</text><text class="k" text-anchor="end" x="219.2" y="221.25">-50</text><text class="k" text-anchor="end" x="219.2" y="230.62">-60</text><text class="k" text-anchor="end" x="219.2" y="239.99">-70</text><text class="k" text-anchor="end" x="219.2" y="249.36">-80</text><text class="k" text-anchor="end" x="219.2" y="258.73">-90</text><text class="k" text-anchor="end" x="219.2" y="268.1">-100</text>
<rect x="220.8" y="173.2" width="104" height="93.7" fill="#000082"/><g transform="translate(220.8 173.2)" filter="url(#fd)"><rect width="104" height="93.7" fill="#000"/><g transform="scale(.1)" class="cv">
<linearGradient id="g5" gradientUnits="userSpaceOnUse" x1="0" y1="0" x2="1040" y2="0"><stop offset="0" stop-color="#fff" stop-opacity="0.015"/><stop offset="0.04" stop-color="#fff" stop-opacity="0.015"/><stop offset="0.08" stop-color="#fff" stop-opacity="0.012"/><stop offset="0.14" stop-color="#fff" stop-opacity="0.017"/><stop offset="0.18" stop-color="#fff" stop-opacity="0.024"/><stop offset="0.21" stop-color="#fff" stop-opacity="0.03"/><stop offset="0.29" stop-color="#fff" stop-opacity="0.03"/><stop offset="0.32" stop-color="#fff" stop-opacity="0.024"/><stop offset="0.36" stop-color="#fff" stop-opacity="0.017"/><stop offset="0.41" stop-color="#fff" stop-opacity="0.012"/><stop offset="0.45" stop-color="#fff" stop-opacity="0.015"/><stop offset="0.56" stop-color="#fff" stop-opacity="0.015"/><stop offset="0.59" stop-color="#fff" stop-opacity="0.012"/><stop offset="0.64" stop-color="#fff" stop-opacity="0.017"/><stop offset="0.68" stop-color="#fff" stop-opacity="0.024"/><stop offset="0.71" stop-color="#fff" stop-opacity="0.03"/><stop offset="0.79" stop-color="#fff" stop-opacity="0.03"/><stop offset="0.82" stop-color="#fff" stop-opacity="0.024"/><stop offset="0.86" stop-color="#fff" stop-opacity="0.017"/><stop offset="0.91" stop-color="#fff" stop-opacity="0.012"/><stop offset="0.94" stop-color="#fff" stop-opacity="0.015"/><stop offset="1" stop-color="#fff" stop-opacity="0.015"/></linearGradient>
<g stroke-width="22" stroke="url(#g5)">
<path d="M0 494l26-10 26-10 26-9 26-19 26-61 26-75 26-62 26-46 26-29 26-12 26 6 26 23 26 40 26 58 26 73 26 82 26 46 26-11 26-20 26-10 26 3 26 7 26 7 26 5 26-6 26-47 26-63 26-48 26-26 26-4 26 18 26 40 26 61 26 74 26 45 26 7 26-1 26-3 26-5 26-6"/>
<path d="M0 489l26 4 26 4 26 0 26-25 26-73 26-77 26-62 26-46 26-28 26-11 26 6 26 23 26 41 26 58 26 72 26 69 26 23 26-2 26-4 26-1 26 8 26 18 26 17 26 3 26-33 26-74 26-67 26-47 26-25 26-3 26 19 26 40 26 62 26 78 26 59 26 12 26-2 26-5 26-8 26-8"/>
<path d="M0 513l26 0 26 0 26-8 26-48 26-81 26-74 26-59 26-43 26-26 26-10 26 6 26 23 26 39 26 55 26 69 26 70 26 32 26 9 26 8 26 6 26 4 26 4 26 3 26-1 26-17 26-59 26-64 26-47 26-25 26-3 26 20 26 42 26 61 26 63 26 25 26 2 26-3 26-8 26-10 26-10"/>
<path d="M0 552l26-26 26-24 26-20 26-23 26-58 26-72 26-60 26-42 26-26 26-7 26 9 26 28 26 44 26 62 26 77 26 76 26 30 26 5 26 1 26 0 26-8 26-19 26-15 26-4 26-8 26-39 26-59 26-48 26-29 26-9 26 12 26 31 26 52 26 65 26 53 26 18 26 6 26 6 26 7 26 7"/>
<path d="M0 435l26 22 26 22 26 14 26-25 26-77 26-78 26-64 26-47 26-30 26-13 26 3 26 21 26 37 26 54 26 70 26 80 26 54 26 11 26 3 26 0 26-3 26-6 26-5 26-2 26-16 26-52 26-61 26-45 26-24 26-3 26 19 26 40 26 58 26 62 26 27 26 3 26 0 26 0 26-1 26-1"/>
<path d="M0 420l26 4 26 4 26 2 26-8 26-46 26-67 26-58 26-43 26-27 26-9 26 6 26 23 26 40 26 56 26 67 26 60 26 24 26 18 26 16 26 8 26-2 26-2 26-3 26-2 26-18 26-59 26-65 26-47 26-26 26-4 26 18 26 39 26 60 26 70 26 39 26 6 26-2 26-6 26-9 26-8"/>
<path d="M0 440l26 15 26 15 26 9 26-15 26-65 26-75 26-63 26-46 26-29 26-12 26 4 26 21 26 38 26 54 26 70 26 72 26 32 26-4 26-9 26-4 26 1 26 3 26 3 26 3 26-2 26-28 26-54 26-46 26-27 26-5 26 16 26 38 26 56 26 59 26 27 26 3 26-2 26-8 26-10 26-11"/>
<path d="M0 485l26 0 26 0 26-3 26-23 26-67 26-74 26-60 26-44 26-28 26-12 26 5 26 21 26 38 26 54 26 67 26 65 26 29 26 13 26 12 26 5 26-5 26-10 26-9 26-2 26-4 26-34 26-61 26-50 26-32 26-10 26 12 26 32 26 54 26 69 26 59 26 16 26 1 26 0 26-1 26-1"/>
<path d="M0 555l26-23 26-23 26-19 26-24 26-64 26-75 26-63 26-45 26-28 26-11 26 6 26 25 26 41 26 58 26 74 26 72 26 31 26 12 26 10 26 7 26 3 26 3 26 1 26-1 26-18 26-60 26-67 26-51 26-30 26-11 26 11 26 31 26 50 26 62 26 43 26 8 26 9 26 19 26 27 26 27"/>
<path d="M0 448l26 16 26 16 26 11 26-11 26-63 26-79 26-64 26-48 26-30 26-13 26 6 26 23 26 40 26 58 26 74 26 77 26 37 26 9 26 5 26 3 26-8 26-16 26-14 26-4 26-9 26-42 26-58 26-44 26-24 26-3 26 19 26 39 26 58 26 69 26 40 26 7 26-4 26-12 26-16 26-18"/>
<path d="M0 540l26-13 26-11 26-11 26-25 26-67 26-74 26-60 26-43 26-26 26-8 26 10 26 27 26 44 26 61 26 74 26 59 26 13 26-4 26-6 26-2 26 7 26 15 26 13 26 5 26-9 26-52 26-67 26-51 26-31 26-8 26 14 26 35 26 56 26 71 26 49 26 9 26-5 26-14 26-19 26-19"/>
<path d="M0 482l26-5 26-5 26-5 26-21 26-59 26-69 26-57 26-40 26-25 26-7 26 8 26 25 26 42 26 57 26 71 26 65 26 27 26 15 26 14 26 7 26-11 26-23 26-19 26-5 26-11 26-48 26-62 26-47 26-26 26-4 26 17 26 38 26 59 26 70 26 45 26 11 26 4 26 5 26 4 26 5"/>
<path d="M0 522l26-11 26-11 26-10 26-27 26-67 26-74 26-61 26-46 26-29 26-13 26 4 26 21 26 37 26 53 26 67 26 70 26 35 26 8 26 5 26 6 26 10 26 12 26 11 26 3 26-8 26-45 26-61 26-46 26-26 26-4 26 19 26 40 26 58 26 59 26 22 26 2 26-4 26-8 26-12 26-12"/>
<path d="M0 548l26-9 26-10 26-12 26-42 26-86 26-82 26-67 26-49 26-31 26-14 26 4 26 21 26 38 26 57 26 73 26 85 26 61 26 8 26-3 26-2 26 2 26 2 26 2 26-1 26-20 26-60 26-64 26-48 26-28 26-6 26 14 26 35 26 54 26 66 26 42 26 7 26 3 26 5 26 8 26 7"/>
<path d="M0 470l26 13 26 12 26 7 26-18 26-63 26-71 26-59 26-43 26-27 26-11 26 5 26 21 26 37 26 53 26 66 26 70 26 35 26 7 26 2 26 1 26-4 26-7 26-7 26-1 26-6 26-37 26-59 26-48 26-28 26-7 26 14 26 35 26 56 26 68 26 48 26 11 26 1 26 1 26 1 26 0"/>
<path d="M0 462l26 20 26 19 26 8 26-48 26-85 26-76 26-61 26-43 26-26 26-8 26 8 26 26 26 42 26 60 26 72 26 62 26 20 26 9 26 8 26 4 26-4 26-8 26-7 26-2 26-3 26-25 26-53 26-49 26-31 26-10 26 12 26 32 26 52 26 54 26 26 26 5 26 6 26 13 26 16 26 17"/>
<path d="M0 524l26-8 26-8 26-12 26-48 26-80 26-73 26-58 26-41 26-25 26-8 26 9 26 26 26 42 26 58 26 74 26 78 26 41 26 15 26 10 26 5 26-13 26-29 26-25 26-5 26-3 26-23 26-47 26-42 26-25 26-4 26 15 26 36 26 53 26 56 26 30 26 7 26 4 26 4 26 3 26 3"/>
<path d="M0 479l26-8 26-8 26-6 26-16 26-54 26-70 26-58 26-42 26-24 26-8 26 10 26 27 26 44 26 61 26 75 26 68 26 19 26-14 26-17 26-9 26 12 26 23 26 20 26 2 26-23 26-68 26-70 26-51 26-30 26-8 26 15 26 36 26 58 26 70 26 46 26 8 26 5 26 11 26 16 26 16"/>
<path d="M0 546l26-11 26-11 26-16 26-48 26-79 26-74 26-57 26-41 26-25 26-7 26 9 26 27 26 43 26 59 26 73 26 66 26 25 26 16 26 16 26 8 26-7 26-15 26-13 26-4 26-4 26-32 26-54 26-45 26-26 26-4 26 18 26 38 26 58 26 65 26 34 26 5 26-4 26-12 26-16 26-17"/>
<path d="M0 420l26 7 26 8 26 5 26-1 26-23 26-52 26-55 26-43 26-27 26-11 26 5 26 21 26 36 26 51 26 56 26 35 26 10 26 13 26 14 26 7 26-5 26-11 26-10 26-2 26-3 26-22 26-49 26-46 26-28 26-8 26 14 26 34 26 52 26 53 26 24 26 3 26-1 26-4 26-6 26-5"/>
<path d="M0 468l26-5 26-5 26-5 26-18 26-64 26-75 26-63 26-46 26-28 26-11 26 7 26 25 26 42 26 60 26 75 26 81 26 37 26-8 26-13 26-7 26 0 26 2 26 2 26 2 26-2 26-31 26-60 26-51 26-31 26-10 26 13 26 34 26 56 26 73 26 64 26 17 26 0 26-4 26-5 26-7"/>
<path d="M0 572l26-6 26-6 26-17 26-65 26-87 26-75 26-60 26-44 26-28 26-11 26 4 26 21 26 38 26 53 26 70 26 81 26 68 26 14 26-3 26-5 26-7 26-7 26-5 26-2 26-10 26-47 26-64 26-51 26-31 26-10 26 11 26 31 26 51 26 69 26 66 26 22 26-2 26-8 26-12 26-12"/>
<path d="M0 544l26-2 26-3 26-23 26-72 26-83 26-71 26-55 26-39 26-22 26-7 26 10 26 26 26 41 26 58 26 73 26 79 26 48 26 16 26 11 26 5 26-4 26-9 26-8 26-4 26-19 26-62 26-67 26-50 26-29 26-8 26 13 26 34 26 55 26 73 26 70 26 25 26 4 26 3 26 4 26 3"/>
<path d="M0 433l26 5 26 5 26 3 26-15 26-59 26-70 26-58 26-42 26-26 26-9 26 8 26 23 26 41 26 56 26 72 26 77 26 40 26-12 26-21 26-10 26 3 26 6 26 7 26 5 26-1 26-34 26-60 26-49 26-29 26-10 26 12 26 32 26 52 26 68 26 60 26 17 26 0 26-2 26-3 26-4"/>
<path d="M0 499l26-11 26-11 26-11 26-28 26-64 26-70 26-56 26-41 26-25 26-8 26 8 26 24 26 41 26 56 26 71 26 74 26 34 26-11 26-17 26-9 26 1 26 2 26 1 26 1 26-5 26-24 26-48 26-43 26-24 26-2 26 18 26 38 26 48 26 30 26 6 26 0 26 2 26 5 26 6 26 7"/>
<path d="M0 526l26 0 26-1 26-4 26-36 26-82 26-80 26-65 26-46 26-30 26-12 26 6 26 23 26 41 26 58 26 73 26 72 26 31 26 10 26 8 26 6 26 4 26 3 26 3 26-1 26-29 26-68 26-65 26-46 26-26 26-5 26 16 26 36 26 57 26 73 26 61 26 15 26-4 26-14 26-18 26-19"/>
<path d="M0 536l26-6 26-6 26-12 26-52 26-84 26-75 26-60 26-43 26-26 26-10 26 7 26 23 26 41 26 57 26 72 26 84 26 57 26-9 26-22 26-11 26 2 26 6 26 6 26 1 26-23 26-64 26-63 26-43 26-24 26-2 26 19 26 39 26 60 26 73 26 51 26 14 26 8 26 10 26 11 26 13"/>
<path d="M0 460l26-4 26-4 26-3 26-13 26-49 26-67 26-58 26-43 26-27 26-10 26 5 26 23 26 38 26 55 26 70 26 74 26 40 26 3 26-4 26-2 26 2 26 3 26 3 26 0 26-4 26-29 26-57 26-52 26-32 26-10 26 12 26 33 26 51 26 48 26 15 26 0 26-3 26-3 26-3 26-3"/>
<path d="M0 476l26 3 26 3 26 1 26-10 26-54 26-75 26-65 26-49 26-30 26-14 26 4 26 22 26 39 26 56 26 69 26 61 26 17 26-2 26-4 26-2 26 3 26 6 26 5 26 1 26-4 26-28 26-55 26-47 26-27 26-6 26 17 26 37 26 54 26 47 26 15 26 2 26 3 26 5 26 7 26 7"/>
<path d="M0 505l26 2 26 2 26-4 26-48 26-84 26-76 26-60 26-43 26-25 26-8 26 9 26 26 26 44 26 61 26 77 26 81 26 41 26 16 26 14 26 7 26-3 26-6 26-7 26-7 26-28 26-66 26-65 26-46 26-26 26-3 26 18 26 40 26 58 26 59 26 23 26 2 26 7 26 17 26 22 26 24"/>
<path d="M0 551l26-21 26-21 26-20 26-43 26-78 26-75 26-59 26-42 26-25 26-8 26 9 26 26 26 44 26 60 26 77 26 87 26 54 26 3 26-5 26-2 26 0 26 1 26 1 26-1 26-21 26-70 26-72 26-52 26-31 26-10 26 13 26 35 26 56 26 76 26 77 26 27 26-1 26-7 26-9 26-9"/>
<path d="M0 546l26 0 26 0 26-3 26-22 26-72 26-79 26-65 26-47 26-30 26-13 26 5 26 22 26 40 26 56 26 69 26 56 26 19 26 18 26 19 26 9 26-2 26-3 26-5 26-5 26-24 26-61 26-64 26-46 26-25 26-4 26 18 26 39 26 56 26 55 26 20 26 1 26 8 26 21 26 28 26 28"/>
<path d="M0 463l26 12 26 11 26 1 26-46 26-80 26-71 26-56 26-40 26-23 26-7 26 10 26 26 26 43 26 58 26 73 26 72 26 31 26 14 26 13 26 5 26-2 26-5 26-4 26-3 26-14 26-55 26-63 26-48 26-28 26-6 26 15 26 35 26 56 26 68 26 47 26 9 26-3 26-9 26-12 26-12"/>
<path d="M0 527l26-8 26-8 26-7 26-21 26-67 26-79 26-65 26-49 26-31 26-13 26 4 26 21 26 39 26 56 26 72 26 77 26 38 26 8 26 5 26 1 26-3 26-7 26-7 26-1 26-3 26-26 26-55 26-50 26-30 26-8 26 13 26 36 26 55 26 58 26 28 26 6 26 3 26 4 26 4 26 4"/>
</g>
<linearGradient id="g6" gradientUnits="userSpaceOnUse" x1="0" y1="0" x2="1040" y2="0"><stop offset="0" stop-color="#fff" stop-opacity="0.068"/><stop offset="0.04" stop-color="#fff" stop-opacity="0.068"/><stop offset="0.08" stop-color="#fff" stop-opacity="0.047"/><stop offset="0.14" stop-color="#fff" stop-opacity="0.065"/><stop offset="0.18" stop-color="#fff" stop-opacity="0.094"/><stop offset="0.21" stop-color="#fff" stop-opacity="0.17"/><stop offset="0.29" stop-color="#fff" stop-opacity="0.17"/><stop offset="0.32" stop-color="#fff" stop-opacity="0.094"/><stop offset="0.36" stop-color="#fff" stop-opacity="0.065"/><stop offset="0.41" stop-color="#fff" stop-opacity="0.047"/><stop offset="0.45" stop-color="#fff" stop-opacity="0.068"/><stop offset="0.56" stop-color="#fff" stop-opacity="0.068"/><stop offset="0.59" stop-color="#fff" stop-opacity="0.047"/><stop offset="0.64" stop-color="#fff" stop-opacity="0.065"/><stop offset="0.68" stop-color="#fff" stop-opacity="0.094"/><stop offset="0.71" stop-color="#fff" stop-opacity="0.17"/><stop offset="0.79" stop-color="#fff" stop-opacity="0.17"/><stop offset="0.82" stop-color="#fff" stop-opacity="0.094"/><stop offset="0.86" stop-color="#fff" stop-opacity="0.065"/><stop offset="0.91" stop-color="#fff" stop-opacity="0.047"/><stop offset="0.94" stop-color="#fff" stop-opacity="0.068"/><stop offset="1" stop-color="#fff" stop-opacity="0.068"/></linearGradient>
<g stroke-width="6.2" stroke="url(#g6)">
<path d="M0 491l13 1 13 1 13 0 13 1 13-2 13-8 13-21 13-36 13-42 13-41 13-38 13-35 13-30 13-27 13-23 13-18 13-14 13-11 13-6 13-2 13 2 13 6 13 10 13 15 13 18 13 22 13 27 13 30 13 35 13 38 13 41 13 43 13 38 13 24 13 7 13-2 13-5 13-4 13-3 13-2 13 2 13 3 13 4 13 4 13 5 13 3 13 1 13-2 13-9 13-21 13-33 13-38 13-37 13-32 13-27 13-21 13-16 13-11 13-6 13 0 13 6 13 11 13 16 13 22 13 27 13 32 13 37 13 37 13 32 13 19 13 7 13 2 13 0 13 1 13 1 13 1 13 1 13 1 13 2 13 1"/>
<path d="M0 524l13-4 13-4 13-4 13-3 13-5 13-7 13-18 13-32 13-42 13-44 13-40 13-38 13-33 13-28 13-25 13-20 13-16 13-12 13-7 13-3 13 1 13 6 13 10 13 14 13 19 13 22 13 28 13 31 13 36 13 39 13 43 13 44 13 39 13 24 13 9 13 0 13-1 13-1 13-1 13 0 13 0 13 0 13 0 13 0 13 0 13 0 13-1 13-4 13-10 13-24 13-34 13-37 13-35 13-30 13-26 13-20 13-16 13-10 13-5 13 0 13 5 13 11 13 15 13 21 13 26 13 30 13 34 13 35 13 31 13 20 13 7 13 3 13 1 13 3 13 3 13 5 13 5 13 6 13 5 13 6"/>
<path d="M0 478l13 3 13 3 13 3 13 2 13 2 13-3 13-13 13-29 13-39 13-42 13-40 13-36 13-33 13-28 13-24 13-21 13-16 13-12 13-8 13-4 13 1 13 4 13 9 13 12 13 17 13 21 13 25 13 29 13 33 13 36 13 41 13 42 13 38 13 26 13 7 13-3 13-7 13-7 13-5 13-2 13 0 13 2 13 2 13 3 13 3 13 2 13 2 13-2 13-7 13-19 13-29 13-34 13-33 13-29 13-24 13-19 13-14 13-10 13-4 13 1 13 6 13 11 13 16 13 21 13 26 13 31 13 34 13 35 13 31 13 19 13 7 13 3 13 1 13 0 13 0 13 0 13 0 13 0 13 0 13 0"/>
<path d="M0 492l13 2 13 3 13 2 13 3 13 1 13-2 13-11 13-28 13-42 13-45 13-42 13-39 13-35 13-30 13-26 13-22 13-18 13-13 13-8 13-4 13 0 13 4 13 9 13 13 13 18 13 22 13 26 13 31 13 35 13 39 13 43 13 45 13 42 13 27 13 7 13-5 13-7 13-8 13-5 13-2 13 1 13 4 13 5 13 6 13 5 13 4 13 1 13-2 13-9 13-22 13-34 13-37 13-36 13-32 13-26 13-21 13-16 13-9 13-5 13 1 13 7 13 12 13 18 13 24 13 28 13 34 13 37 13 36 13 29 13 15 13 4 13 2 13 0 13 1 13 1 13 2 13 1 13 2 13 2 13 2"/>
<path d="M0 491l13 0 13 0 13-1 13 0 13-2 13-9 13-21 13-35 13-42 13-41 13-38 13-35 13-31 13-27 13-22 13-19 13-14 13-11 13-6 13-2 13 2 13 6 13 10 13 14 13 18 13 23 13 26 13 31 13 34 13 39 13 41 13 42 13 37 13 22 13 5 13-4 13-7 13-6 13-5 13-2 13 2 13 4 13 6 13 7 13 6 13 5 13 2 13-3 13-8 13-21 13-34 13-38 13-36 13-32 13-28 13-22 13-16 13-11 13-6 13 0 13 5 13 10 13 16 13 21 13 27 13 31 13 35 13 37 13 31 13 19 13 7 13 2 13 1 13 1 13 1 13 2 13 3 13 2 13 3 13 3"/>
<path d="M0 487l13 1 13 1 13 1 13 0 13 0 13-5 13-16 13-32 13-41 13-41 13-40 13-36 13-32 13-27 13-24 13-19 13-15 13-12 13-6 13-3 13 1 13 6 13 9 13 14 13 18 13 23 13 26 13 30 13 35 13 38 13 42 13 42 13 38 13 24 13 10 13 3 13 0 13 0 13 0 13 0 13 1 13 1 13 2 13 3 13 2 13 1 13 0 13-4 13-13 13-26 13-36 13-38 13-35 13-31 13-26 13-21 13-16 13-11 13-6 13 0 13 4 13 10 13 15 13 19 13 25 13 30 13 33 13 36 13 34 13 23 13 10 13 3 13 1 13 1 13 0 13 1 13 0 13 1 13 1 13 1"/>
<path d="M0 515l13-1 13-1 13-1 13-1 13-3 13-9 13-24 13-37 13-43 13-43 13-40 13-36 13-32 13-27 13-24 13-19 13-16 13-11 13-6 13-3 13 2 13 5 13 10 13 15 13 18 13 22 13 27 13 31 13 35 13 39 13 42 13 43 13 39 13 25 13 10 13 2 13 0 13-1 13 0 13 0 13 1 13 1 13 2 13 2 13 2 13 2 13 0 13-2 13-8 13-22 13-35 13-40 13-37 13-33 13-28 13-23 13-18 13-11 13-7 13 0 13 4 13 11 13 15 13 22 13 26 13 32 13 37 13 39 13 37 13 27 13 11 13 4 13 1 13 1 13 1 13 2 13 2 13 2 13 3 13 2"/>
<path d="M0 476l13 2 13 2 13 2 13 2 13 1 13-3 13-11 13-27 13-39 13-42 13-40 13-37 13-33 13-29 13-24 13-21 13-16 13-12 13-8 13-4 13 1 13 4 13 9 13 13 13 18 13 21 13 26 13 29 13 34 13 38 13 40 13 40 13 34 13 19 13 6 13 1 13-1 13 0 13-1 13 0 13 0 13 1 13 2 13 2 13 2 13 1 13 1 13-1 13-5 13-17 13-30 13-36 13-35 13-31 13-26 13-20 13-15 13-10 13-5 13 1 13 7 13 12 13 17 13 22 13 28 13 33 13 37 13 37 13 30 13 17 13 7 13 1 13 0 13 0 13-1 13-2 13-1 13-2 13-1 13-2"/>
<path d="M0 482l13 0 13 1 13 1 13 0 13 1 13-3 13-10 13-25 13-38 13-43 13-41 13-38 13-33 13-30 13-25 13-21 13-16 13-12 13-7 13-4 13 2 13 5 13 10 13 14 13 19 13 23 13 27 13 32 13 36 13 39 13 43 13 43 13 35 13 18 13 4 13-2 13-4 13-3 13-2 13-1 13 0 13 1 13 1 13 2 13 1 13 1 13 1 13-2 13-6 13-18 13-31 13-36 13-35 13-31 13-26 13-22 13-16 13-12 13-6 13-1 13 5 13 9 13 15 13 20 13 25 13 29 13 34 13 37 13 34 13 25 13 12 13 5 13 1 13 2 13 1 13 2 13 1 13 2 13 2 13 2"/>
<path d="M0 473l13 3 13 4 13 4 13 3 13 1 13-6 13-22 13-36 13-42 13-42 13-39 13-35 13-31 13-27 13-23 13-19 13-14 13-11 13-6 13-3 13 2 13 6 13 10 13 14 13 18 13 22 13 27 13 30 13 34 13 39 13 41 13 42 13 38 13 23 13 4 13-5 13-7 13-7 13-6 13-2 13 2 13 6 13 7 13 9 13 8 13 6 13 2 13-4 13-11 13-24 13-34 13-36 13-34 13-30 13-25 13-21 13-15 13-10 13-5 13 0 13 5 13 10 13 15 13 21 13 25 13 30 13 34 13 36 13 33 13 22 13 10 13 3 13 0 13 0 13-2 13-1 13-1 13-2 13-1 13-2"/>
<path d="M0 502l13 0 13-1 13 0 13-1 13-2 13-5 13-16 13-31 13-40 13-42 13-40 13-36 13-32 13-28 13-25 13-20 13-16 13-11 13-8 13-4 13 1 13 4 13 9 13 13 13 17 13 21 13 25 13 29 13 33 13 37 13 40 13 41 13 35 13 21 13 4 13-3 13-6 13-6 13-4 13-1 13 1 13 4 13 5 13 6 13 6 13 4 13 2 13-2 13-6 13-16 13-29 13-35 13-36 13-31 13-27 13-22 13-16 13-12 13-6 13 0 13 5 13 10 13 15 13 21 13 26 13 30 13 35 13 36 13 30 13 19 13 7 13 2 13 1 13 3 13 3 13 4 13 4 13 5 13 5 13 5"/>
<path d="M0 508l13-2 13-2 13-2 13-2 13-3 13-9 13-20 13-35 13-42 13-42 13-40 13-35 13-32 13-28 13-23 13-19 13-15 13-11 13-7 13-2 13 1 13 6 13 10 13 14 13 18 13 23 13 26 13 31 13 35 13 38 13 42 13 43 13 38 13 23 13 7 13-2 13-4 13-5 13-3 13-1 13 0 13 1 13 1 13 2 13 1 13 1 13 1 13-2 13-6 13-17 13-29 13-36 13-34 13-32 13-26 13-22 13-17 13-12 13-7 13-1 13 3 13 9 13 14 13 19 13 24 13 28 13 33 13 36 13 35 13 27 13 14 13 5 13 1 13 0 13 0 13-1 13-1 13 0 13-1 13-1"/>
<path d="M0 507l13 0 13 0 13 0 13 0 13-2 13-5 13-18 13-33 13-42 13-44 13-40 13-37 13-33 13-29 13-25 13-20 13-17 13-12 13-8 13-4 13 1 13 4 13 9 13 13 13 17 13 21 13 26 13 29 13 34 13 38 13 41 13 42 13 39 13 25 13 9 13 0 13-3 13-3 13-2 13 0 13 0 13 2 13 3 13 3 13 2 13 2 13 1 13-1 13-4 13-14 13-28 13-36 13-36 13-33 13-29 13-24 13-18 13-13 13-7 13-2 13 3 13 8 13 14 13 19 13 25 13 30 13 34 13 36 13 35 13 25 13 12 13 4 13 1 13 1 13 0 13 1 13 0 13 1 13 1 13 0"/>
<path d="M0 488l13 4 13 4 13 4 13 3 13-1 13-11 13-29 13-41 13-43 13-42 13-38 13-34 13-31 13-26 13-22 13-18 13-14 13-10 13-6 13-2 13 3 13 6 13 11 13 14 13 19 13 23 13 27 13 31 13 34 13 39 13 40 13 41 13 33 13 19 13 8 13 5 13 3 13 3 13 2 13 1 13 1 13 0 13 1 13 0 13 1 13 0 13 0 13-2 13-7 13-20 13-33 13-39 13-38 13-33 13-28 13-23 13-18 13-11 13-7 13 0 13 4 13 11 13 16 13 21 13 27 13 32 13 36 13 39 13 35 13 23 13 9 13 3 13 0 13 1 13 1 13 0 13 1 13 1 13 1 13 1"/>
</g>
<linearGradient id="g7" gradientUnits="userSpaceOnUse" x1="0" y1="0" x2="1040" y2="0"><stop offset="0" stop-color="#fff" stop-opacity="0.11"/><stop offset="0.04" stop-color="#fff" stop-opacity="0.11"/><stop offset="0.08" stop-color="#fff" stop-opacity="0"/><stop offset="0.14" stop-color="#fff" stop-opacity="0"/><stop offset="0.18" stop-color="#fff" stop-opacity="0"/><stop offset="0.21" stop-color="#fff" stop-opacity="0"/><stop offset="0.29" stop-color="#fff" stop-opacity="0"/><stop offset="0.32" stop-color="#fff" stop-opacity="0"/><stop offset="0.36" stop-color="#fff" stop-opacity="0"/><stop offset="0.41" stop-color="#fff" stop-opacity="0"/><stop offset="0.45" stop-color="#fff" stop-opacity="0.11"/><stop offset="0.56" stop-color="#fff" stop-opacity="0.11"/><stop offset="0.59" stop-color="#fff" stop-opacity="0"/><stop offset="0.64" stop-color="#fff" stop-opacity="0"/><stop offset="0.68" stop-color="#fff" stop-opacity="0"/><stop offset="0.71" stop-color="#fff" stop-opacity="0"/><stop offset="0.79" stop-color="#fff" stop-opacity="0"/><stop offset="0.82" stop-color="#fff" stop-opacity="0"/><stop offset="0.86" stop-color="#fff" stop-opacity="0"/><stop offset="0.91" stop-color="#fff" stop-opacity="0"/><stop offset="0.94" stop-color="#fff" stop-opacity="0.11"/><stop offset="1" stop-color="#fff" stop-opacity="0.11"/></linearGradient>
<g stroke-width="6" stroke="url(#g7)">
<path d="M0 566l13-13 13-14 13-13 13-12 13-9 13-7 13-15 13-29 13-40 13-42 13-41 13-37 13-33 13-29 13-25 13-21 13-17 13-12 13-8 13-5 13 1 13 4 13 8 13 13 13 16 13 21 13 25 13 29 13 33 13 37 13 41 13 41 13 38 13 28 13 16 13 9 13 2 13-17 13-24 13-13 13 2 13 4 13 5 13 3 13 2 13 3 13 2 13 2 13 0 13-8 13-23 13-35 13-37 13-34 13-30 13-24 13-18 13-13 13-7 13-2 13 5 13 10 13 16 13 21 13 27 13 33 13 37 13 42 13 41 13 31 13 15 13 4 13-5 13-12 13-13 13-6 13 1 13 3 13 7 13 11"/>
<path d="M0 488l13 0 13 1 13 1 13 0 13 0 13-2 13-8 13-21 13-37 13-43 13-43 13-39 13-35 13-31 13-26 13-21 13-17 13-12 13-8 13-3 13 2 13 6 13 11 13 15 13 20 13 25 13 29 13 34 13 37 13 41 13 41 13 33 13 18 13 2 13-6 13-5 13-1 13 16 13 24 13 13 13-13 13-25 13-17 13 4 13 15 13 18 13 12 13 1 13-3 13-15 13-29 13-36 13-36 13-32 13-27 13-21 13-17 13-11 13-6 13 0 13 5 13 10 13 16 13 21 13 27 13 31 13 36 13 39 13 36 13 26 13 11 13 4 13-10 13-22 13-22 13-10 13 4 13 11 13 20 13 27"/>
<path d="M0 436l13 20 13 21 13 20 13 17 13 11 13 1 13-14 13-33 13-44 13-48 13-44 13-41 13-36 13-31 13-27 13-22 13-18 13-13 13-8 13-4 13 1 13 5 13 10 13 15 13 19 13 24 13 29 13 33 13 38 13 41 13 43 13 39 13 27 13 14 13 8 13 6 13 2 13-9 13-14 13-13 13-8 13-9 13-4 13 7 13 23 13 25 13 14 13-1 13-7 13-19 13-33 13-40 13-38 13-34 13-29 13-23 13-18 13-11 13-6 13-1 13 6 13 11 13 17 13 22 13 28 13 34 13 37 13 38 13 30 13 16 13 5 13 1 13 8 13 17 13 16 13 8 13-5 13-13 13-22 13-29"/>
<path d="M0 525l13-7 13-8 13-7 13-7 13-7 13-9 13-21 13-34 13-41 13-40 13-38 13-34 13-30 13-27 13-22 13-18 13-14 13-10 13-5 13-2 13 2 13 6 13 11 13 14 13 18 13 23 13 27 13 30 13 35 13 38 13 41 13 42 13 38 13 18 13-4 13-9 13-3 13 14 13 20 13 11 13-5 13-9 13-9 13-5 13-4 13-3 13-2 13-2 13-6 13-15 13-26 13-33 13-32 13-29 13-26 13-20 13-15 13-11 13-5 13-1 13 5 13 9 13 15 13 19 13 25 13 29 13 33 13 35 13 33 13 24 13 12 13 3 13-7 13-20 13-20 13-9 13 3 13 9 13 14 13 21"/>
<path d="M0 511l13-4 13-3 13-4 13-3 13-5 13-9 13-18 13-31 13-39 13-39 13-38 13-34 13-31 13-27 13-23 13-19 13-15 13-12 13-7 13-4 13 0 13 4 13 8 13 12 13 16 13 19 13 24 13 27 13 31 13 34 13 36 13 36 13 29 13 18 13 12 13 7 13 7 13 9 13 10 13 4 13-11 13-22 13-15 13 5 13 18 13 21 13 11 13 0 13-4 13-12 13-24 13-33 13-36 13-33 13-28 13-23 13-18 13-13 13-7 13-1 13 4 13 10 13 15 13 21 13 25 13 30 13 30 13 26 13 16 13 6 13 1 13 0 13 4 13 10 13 14 13 13 13 15 13 18 13 19 13 22"/>
<path d="M0 475l13 9 13 9 13 8 13 7 13 4 13-4 13-18 13-36 13-45 13-45 13-42 13-38 13-34 13-29 13-25 13-20 13-15 13-11 13-7 13-2 13 3 13 7 13 12 13 17 13 21 13 25 13 30 13 34 13 38 13 39 13 34 13 22 13 9 13 3 13 1 13 1 13 1 13 7 13 8 13 4 13-3 13-6 13-4 13 6 13 18 13 20 13 12 13 1 13-4 13-16 13-33 13-40 13-39 13-35 13-29 13-24 13-18 13-12 13-7 13 0 13 5 13 11 13 17 13 22 13 29 13 34 13 39 13 41 13 39 13 25 13 10 13 3 13-2 13-6 13-6 13-5 13-4 13-3 13-2 13-2"/>
<path d="M0 520l13-14 13-15 13-15 13-12 13-8 13-4 13-4 13-13 13-28 13-38 13-39 13-38 13-34 13-29 13-25 13-20 13-16 13-11 13-7 13-3 13 3 13 6 13 12 13 15 13 21 13 25 13 29 13 34 13 38 13 42 13 43 13 40 13 26 13 10 13-1 13-3 13-1 13 4 13 6 13 6 13 5 13 4 13 3 13-6 13-19 13-21 13-12 13 0 13-1 13-5 13-15 13-27 13-32 13-31 13-27 13-22 13-17 13-11 13-5 13 0 13 5 13 12 13 17 13 22 13 28 13 33 13 38 13 39 13 35 13 22 13 8 13 3 13-9 13-21 13-22 13-14 13-5 13-5 13-3 13-2"/>
<path d="M0 451l13 13 13 14 13 14 13 11 13 6 13-3 13-17 13-34 13-42 13-43 13-41 13-36 13-33 13-29 13-24 13-20 13-16 13-12 13-8 13-3 13 1 13 5 13 10 13 13 13 18 13 22 13 26 13 30 13 35 13 38 13 40 13 38 13 30 13 23 13 21 13 16 13 5 13-9 13-16 13-14 13-10 13-10 13-5 13 7 13 21 13 24 13 12 13-7 13-18 13-32 13-37 13-38 13-34 13-29 13-24 13-20 13-14 13-9 13-5 13 1 13 6 13 11 13 15 13 21 13 26 13 31 13 34 13 37 13 35 13 25 13 12 13 3 13 2 13 3 13 3 13 2 13-5 13-15 13-20 13-24"/>
<path d="M0 514l13-8 13-7 13-8 13-6 13-4 13-3 13-5 13-16 13-31 13-42 13-42 13-40 13-36 13-31 13-27 13-22 13-18 13-13 13-9 13-4 13 1 13 5 13 9 13 14 13 19 13 24 13 27 13 33 13 36 13 41 13 43 13 42 13 31 13 13 13 0 13-3 13-1 13 15 13 21 13 10 13-17 13-33 13-22 13 3 13 12 13 14 13 9 13 3 13 1 13-6 13-21 13-33 13-37 13-34 13-30 13-25 13-18 13-13 13-8 13-2 13 4 13 10 13 16 13 21 13 27 13 32 13 37 13 39 13 37 13 25 13 11 13 3 13-6 13-13 13-16 13-11 13-7 13-6 13-4 13-3"/>
<path d="M0 505l13 4 13 4 13 3 13 2 13-3 13-15 13-33 13-43 13-44 13-43 13-38 13-35 13-31 13-26 13-23 13-18 13-14 13-11 13-6 13-2 13 2 13 6 13 11 13 14 13 19 13 22 13 27 13 30 13 35 13 38 13 40 13 39 13 29 13 17 13 8 13 4 13 1 13-6 13-10 13-4 13 8 13 17 13 13 13 3 13 2 13 1 13 1 13 0 13-5 13-16 13-31 13-39 13-39 13-35 13-30 13-24 13-19 13-13 13-8 13-2 13 3 13 9 13 15 13 20 13 25 13 31 13 36 13 40 13 41 13 34 13 18 13 6 13-7 13-17 13-18 13-8 13 0 13 0 13 0 13 0"/>
<path d="M0 503l13 10 13 11 13 9 13 8 13 0 13-15 13-35 13-45 13-46 13-43 13-40 13-35 13-32 13-28 13-23 13-19 13-15 13-11 13-6 13-3 13 2 13 6 13 10 13 14 13 19 13 22 13 27 13 31 13 34 13 39 13 42 13 41 13 34 13 15 13 0 13-4 13 0 13 15 13 22 13 12 13-8 13-18 13-17 13-15 13-15 13-13 13-7 13 0 13-2 13-6 13-16 13-24 13-30 13-28 13-25 13-21 13-15 13-11 13-5 13 1 13 5 13 11 13 17 13 21 13 26 13 31 13 32 13 32 13 23 13 14 13 6 13 4 13 3 13 4 13 5 13 5 13 7 13 9 13 11 13 11"/>
<path d="M0 473l13 12 13 12 13 12 13 9 13 3 13-10 13-27 13-39 13-44 13-42 13-38 13-35 13-31 13-27 13-23 13-18 13-15 13-10 13-7 13-2 13 2 13 6 13 10 13 14 13 18 13 22 13 26 13 30 13 34 13 37 13 39 13 35 13 24 13 10 13 3 13 0 13 1 13 14 13 20 13 11 13-6 13-12 13-10 13-3 13-3 13-2 13-1 13-1 13-5 13-13 13-24 13-30 13-32 13-29 13-25 13-20 13-15 13-10 13-5 13 0 13 4 13 10 13 15 13 20 13 24 13 29 13 32 13 32 13 26 13 16 13 7 13 2 13 5 13 10 13 11 13 8 13 6 13 5 13 4 13 3"/>
<path d="M0 477l13-4 13-4 13-4 13-4 13-3 13-2 13-5 13-16 13-30 13-38 13-40 13-36 13-33 13-29 13-25 13-20 13-15 13-11 13-6 13-2 13 2 13 7 13 12 13 16 13 20 13 25 13 29 13 34 13 37 13 40 13 39 13 30 13 16 13 8 13 5 13 4 13 1 13-10 13-15 13-7 13 6 13 14 13 10 13 2 13 1 13 1 13 1 13-1 13-3 13-11 13-22 13-31 13-33 13-30 13-26 13-22 13-17 13-12 13-6 13-2 13 3 13 9 13 13 13 18 13 23 13 28 13 32 13 34 13 31 13 23 13 11 13 3 13 1 13 0 13 0 13-1 13 6 13 15 13 21 13 24"/>
<path d="M0 439l13 11 13 11 13 10 13 9 13 6 13 0 13-12 13-27 13-40 13-42 13-41 13-37 13-32 13-29 13-24 13-20 13-16 13-11 13-7 13-2 13 2 13 6 13 10 13 15 13 19 13 24 13 27 13 32 13 37 13 40 13 43 13 43 13 35 13 21 13 10 13 5 13 1 13-2 13-4 13-5 13-10 13-14 13-8 13-1 13 1 13 0 13 1 13 0 13-2 13-9 13-20 13-32 13-36 13-33 13-30 13-24 13-18 13-13 13-7 13-2 13 4 13 9 13 15 13 21 13 26 13 32 13 35 13 37 13 31 13 19 13 8 13 4 13 2 13 3 13 3 13 4 13 5 13 5 13 7 13 6"/>
<path d="M0 549l13-8 13-9 13-8 13-7 13-5 13-6 13-11 13-28 13-42 13-44 13-43 13-39 13-34 13-30 13-26 13-21 13-17 13-12 13-7 13-3 13 1 13 6 13 11 13 15 13 20 13 24 13 29 13 33 13 37 13 42 13 44 13 43 13 32 13 8 13-9 13-12 13-4 13 6 13 10 13 9 13 8 13 8 13 5 13 3 13 2 13 0 13 0 13-5 13-18 13-31 13-38 13-37 13-34 13-29 13-24 13-20 13-14 13-9 13-4 13 0 13 6 13 11 13 16 13 21 13 26 13 31 13 35 13 39 13 41 13 36 13 21 13 9 13-8 13-21 13-22 13-9 13 4 13 13 13 21 13 29"/>
<path d="M0 488l13-5 13-5 13-5 13-5 13-6 13-9 13-20 13-31 13-37 13-38 13-35 13-32 13-28 13-24 13-21 13-17 13-13 13-9 13-5 13-2 13 3 13 6 13 10 13 13 13 18 13 21 13 25 13 29 13 32 13 36 13 37 13 37 13 28 13 22 13 19 13 14 13 4 13-3 13-6 13-6 13-6 13-8 13-4 13 1 13 4 13 6 13 5 13 3 13 1 13-8 13-23 13-36 13-38 13-34 13-30 13-25 13-19 13-13 13-8 13-2 13 4 13 9 13 15 13 21 13 26 13 32 13 38 13 41 13 44 13 38 13 23 13 7 13-6 13-17 13-18 13-8 13 1 13 4 13 9 13 14"/>
<path d="M0 474l13 8 13 9 13 8 13 6 13 0 13-11 13-28 13-39 13-41 13-41 13-37 13-33 13-30 13-25 13-22 13-18 13-13 13-10 13-6 13-2 13 3 13 6 13 10 13 14 13 18 13 22 13 26 13 29 13 34 13 37 13 38 13 38 13 29 13 23 13 21 13 18 13 8 13 4 13 2 13 1 13-18 13-36 13-24 13 5 13 17 13 20 13 10 13-3 13-12 13-24 13-34 13-35 13-34 13-29 13-25 13-19 13-14 13-10 13-4 13 1 13 6 13 11 13 16 13 22 13 26 13 30 13 35 13 35 13 29 13 18 13 7 13 2 13 4 13 8 13 7 13 4 13-1 13-2 13-5 13-6"/>
<path d="M0 430l13 26 13 28 13 26 13 21 13 10 13-13 13-35 13-45 13-45 13-43 13-39 13-35 13-32 13-27 13-22 13-19 13-15 13-10 13-7 13-2 13 2 13 6 13 10 13 14 13 19 13 22 13 27 13 30 13 35 13 38 13 40 13 39 13 26 13 4 13-11 13-12 13-3 13 10 13 18 13 17 13 13 13 14 13 7 13-4 13-12 13-14 13-9 13-2 13-3 13-7 13-15 13-25 13-32 13-33 13-28 13-24 13-18 13-13 13-7 13-1 13 4 13 10 13 16 13 21 13 26 13 30 13 31 13 26 13 15 13 7 13 1 13 1 13 2 13 7 13 9 13 10 13 11 13 16 13 19 13 20"/>
</g>
</g></g>
<clipPath id="c2"><rect x="220.8" y="173.2" width="104" height="93.7"/></clipPath>
<g clip-path="url(#c2)"><g transform="translate(220.8 173.2) scale(.1)" class="cv">
<linearGradient id="g8" gradientUnits="userSpaceOnUse" x1="0" y1="0" x2="1040" y2="0"><stop offset="0" stop-color="#a8b6e6" stop-opacity="0.32"/><stop offset="0.04" stop-color="#a8b6e6" stop-opacity="0.32"/><stop offset="0.08" stop-color="#a8b6e6" stop-opacity="0.064"/><stop offset="0.14" stop-color="#a8b6e6" stop-opacity="0.09"/><stop offset="0.18" stop-color="#a8b6e6" stop-opacity="0.128"/><stop offset="0.21" stop-color="#a8b6e6" stop-opacity="0.096"/><stop offset="0.29" stop-color="#a8b6e6" stop-opacity="0.096"/><stop offset="0.32" stop-color="#a8b6e6" stop-opacity="0.128"/><stop offset="0.36" stop-color="#a8b6e6" stop-opacity="0.09"/><stop offset="0.41" stop-color="#a8b6e6" stop-opacity="0.064"/><stop offset="0.45" stop-color="#a8b6e6" stop-opacity="0.32"/><stop offset="0.56" stop-color="#a8b6e6" stop-opacity="0.32"/><stop offset="0.59" stop-color="#a8b6e6" stop-opacity="0.064"/><stop offset="0.64" stop-color="#a8b6e6" stop-opacity="0.09"/><stop offset="0.68" stop-color="#a8b6e6" stop-opacity="0.128"/><stop offset="0.71" stop-color="#a8b6e6" stop-opacity="0.096"/><stop offset="0.79" stop-color="#a8b6e6" stop-opacity="0.096"/><stop offset="0.82" stop-color="#a8b6e6" stop-opacity="0.128"/><stop offset="0.86" stop-color="#a8b6e6" stop-opacity="0.09"/><stop offset="0.91" stop-color="#a8b6e6" stop-opacity="0.064"/><stop offset="0.94" stop-color="#a8b6e6" stop-opacity="0.32"/><stop offset="1" stop-color="#a8b6e6" stop-opacity="0.32"/></linearGradient>
<g stroke-width="5" stroke="url(#g8)">
<path d="M0 537l13-3 13-4 13-3 13-4 13-3 13-6 13-13 13-25 13-37 13-41 13-40 13-36 13-33 13-28 13-25 13-19 13-16 13-11 13-7 13-3 13 2 13 6 13 10 13 15 13 19 13 23 13 27 13 32 13 35 13 39 13 40 13 34 13 21 13 1 13-13 13-12 13-4 13 7 13 12 13 13 13 15 13 17 13 10 13-3 13-12 13-13 13-9 13-1 13-4 13-11 13-21 13-30 13-32 13-30 13-27 13-22 13-17 13-11 13-7 13-2 13 4 13 9 13 14 13 18 13 24 13 28 13 31 13 32 13 26 13 15 13 6 13 1 13 1 13 1 13 2 13 2 13 2 13 3 13 2 13 3"/>
<path d="M0 463l13-5 13-4 13-5 13-3 13-4 13-2 13-3 13-5 13-12 13-23 13-33 13-35 13-33 13-30 13-26 13-22 13-18 13-13 13-10 13-4 13-1 13 4 13 7 13 13 13 16 13 21 13 25 13 29 13 33 13 38 13 41 13 43 13 39 13 16 13-20 13-26 13-8 13 16 13 24 13 12 13-12 13-22 13-14 13 6 13 22 13 25 13 14 13 0 13-2 13-7 13-17 13-30 13-36 13-35 13-31 13-26 13-20 13-15 13-9 13-3 13 2 13 9 13 14 13 19 13 25 13 29 13 30 13 27 13 16 13 7 13 1 13 0 13 1 13 1 13 1 13 2 13 3 13 2 13 3 13 3"/>
<path d="M0 538l13-3 13-2 13-3 13-3 13-3 13-4 13-11 13-24 13-39 13-44 13-42 13-39 13-35 13-30 13-26 13-22 13-17 13-13 13-8 13-4 13 1 13 5 13 10 13 14 13 18 13 23 13 28 13 31 13 37 13 40 13 43 13 44 13 36 13 21 13 9 13 3 13 1 13-4 13-7 13-9 13-16 13-23 13-14 13 5 13 19 13 20 13 12 13-3 13-10 13-21 13-32 13-35 13-33 13-29 13-25 13-19 13-14 13-9 13-3 13 1 13 7 13 12 13 17 13 22 13 26 13 31 13 33 13 30 13 20 13 9 13 3 13 1 13 0 13 2 13 2 13 3 13 4 13 4 13 4 13 3"/>
<path d="M0 505l13-1 13-2 13-1 13-2 13-2 13-2 13-7 13-18 13-32 13-41 13-41 13-38 13-34 13-31 13-26 13-23 13-17 13-14 13-10 13-5 13-1 13 4 13 8 13 11 13 17 13 20 13 25 13 28 13 33 13 37 13 40 13 40 13 34 13 22 13 12 13 7 13 2 13-5 13-9 13-11 13-15 13-19 13-12 13 3 13 9 13 12 13 8 13 4 13 1 13-2 13-12 13-25 13-31 13-31 13-28 13-23 13-18 13-14 13-7 13-3 13 3 13 8 13 13 13 19 13 24 13 28 13 33 13 35 13 32 13 23 13 11 13 3 13 0 13-3 13-4 13-5 13-5 13-7 13-6 13-7"/>
<path d="M0 454l13 3 13 3 13 3 13 2 13 2 13-1 13-9 13-23 13-36 13-38 13-38 13-34 13-30 13-26 13-22 13-18 13-14 13-10 13-5 13-2 13 3 13 7 13 11 13 15 13 20 13 23 13 28 13 32 13 35 13 40 13 42 13 43 13 37 13 14 13-9 13-14 13-4 13 12 13 17 13 9 13-6 13-12 13-8 13 4 13 11 13 13 13 6 13-5 13-16 13-29 13-37 13-39 13-35 13-31 13-26 13-22 13-16 13-12 13-6 13-2 13 3 13 9 13 13 13 18 13 23 13 28 13 30 13 30 13 25 13 14 13 6 13 1 13 1 13 2 13 3 13 3 13 4 13 4 13 5 13 5"/>
<path d="M0 473l13 1 13 2 13 2 13 2 13 1 13 1 13-3 13-12 13-28 13-37 13-40 13-38 13-34 13-30 13-26 13-22 13-18 13-13 13-10 13-5 13-1 13 3 13 8 13 11 13 16 13 20 13 24 13 28 13 33 13 36 13 41 13 43 13 43 13 26 13-12 13-24 13-7 13 28 13 43 13 22 13-18 13-36 13-24 13 0 13 2 13 1 13 1 13 0 13-4 13-12 13-24 13-32 13-33 13-31 13-28 13-22 13-18 13-13 13-8 13-3 13 2 13 8 13 12 13 17 13 22 13 26 13 31 13 34 13 33 13 26 13 14 13 6 13 2 13 3 13 3 13 3 13 5 13 4 13 4 13 5"/>
<path d="M0 543l13-6 13-7 13-7 13-6 13-7 13-11 13-21 13-35 13-43 13-44 13-40 13-36 13-32 13-28 13-23 13-18 13-15 13-9 13-5 13-1 13 4 13 8 13 12 13 18 13 21 13 26 13 31 13 35 13 39 13 43 13 46 13 43 13 31 13 12 13 0 13-5 13-6 13-16 13-19 13-9 13 1 13 3 13 5 13 13 13 28 13 29 13 13 13-12 13-28 13-41 13-43 13-41 13-36 13-32 13-26 13-22 13-16 13-12 13-6 13-1 13 4 13 9 13 14 13 19 13 24 13 29 13 34 13 37 13 39 13 32 13 19 13 6 13 4 13 6 13 8 13 10 13 12 13 12 13 13 13 12"/>
<path d="M0 524l13 1 13 1 13 0 13-1 13-7 13-21 13-36 13-43 13-43 13-40 13-37 13-32 13-29 13-25 13-20 13-17 13-12 13-9 13-4 13-1 13 4 13 8 13 11 13 16 13 20 13 24 13 27 13 32 13 36 13 39 13 43 13 43 13 38 13 15 13-12 13-17 13-6 13 9 13 16 13 16 13 16 13 17 13 9 13-6 13-21 13-24 13-14 13-3 13-7 13-20 13-33 13-36 13-35 13-31 13-26 13-21 13-16 13-10 13-6 13 0 13 5 13 11 13 15 13 21 13 26 13 31 13 36 13 41 13 44 13 42 13 32 13 14 13 3 13 0 13-2 13-2 13-4 13-3 13-4 13-4"/>
<path d="M0 470l13 0 13 0 13 0 13 0 13 0 13-3 13-7 13-19 13-30 13-37 13-36 13-34 13-31 13-27 13-23 13-18 13-15 13-10 13-6 13-3 13 2 13 6 13 10 13 14 13 19 13 22 13 27 13 30 13 35 13 38 13 42 13 45 13 42 13 24 13-10 13-21 13-8 13-1 13-1 13 0 13 4 13 11 13 11 13 11 13 14 13 12 13 5 13-4 13-13 13-30 13-41 13-43 13-38 13-34 13-28 13-22 13-16 13-11 13-5 13 0 13 6 13 13 13 17 13 24 13 29 13 35 13 39 13 42 13 38 13 23 13 9 13 1 13-1 13-4 13-5 13-7 13-7 13-8 13-8 13-8"/>
<path d="M0 550l13 1 13 0 13-1 13-2 13-10 13-25 13-39 13-44 13-44 13-41 13-37 13-33 13-28 13-25 13-21 13-17 13-12 13-9 13-5 13 0 13 3 13 8 13 12 13 16 13 19 13 24 13 28 13 32 13 36 13 40 13 42 13 44 13 38 13 14 13-17 13-20 13-7 13 1 13 3 13 3 13 4 13 6 13 6 13 6 13 7 13 6 13 4 13 0 13-9 13-24 13-35 13-37 13-35 13-30 13-24 13-20 13-14 13-9 13-4 13 2 13 7 13 13 13 18 13 23 13 28 13 34 13 37 13 40 13 38 13 26 13 12 13 5 13 3 13 2 13 3 13 2 13 3 13 3 13 3 13 2"/>
<path d="M0 483l13 1 13 0 13 0 13 1 13 0 13-2 13-6 13-17 13-30 13-37 13-37 13-36 13-31 13-28 13-24 13-20 13-15 13-12 13-7 13-4 13 1 13 5 13 9 13 13 13 18 13 21 13 25 13 30 13 33 13 37 13 40 13 40 13 33 13 16 13 1 13-4 13-1 13 20 13 30 13 15 13-20 13-39 13-27 13 1 13 6 13 7 13 6 13 0 13-8 13-23 13-34 13-37 13-34 13-30 13-25 13-19 13-14 13-9 13-3 13 3 13 7 13 13 13 19 13 23 13 30 13 34 13 39 13 42 13 40 13 29 13 15 13 6 13 2 13 2 13 2 13 1 13 2 13 1 13 1 13 1"/>
<path d="M0 440l13 10 13 11 13 11 13 10 13 8 13 5 13-3 13-20 13-36 13-42 13-41 13-38 13-34 13-30 13-26 13-21 13-17 13-13 13-8 13-4 13 0 13 5 13 9 13 14 13 18 13 22 13 26 13 31 13 35 13 38 13 38 13 33 13 20 13 11 13 7 13 4 13 1 13-4 13-7 13-3 13 0 13 2 13 3 13 8 13 18 13 18 13 10 13-3 13-13 13-28 13-38 13-39 13-36 13-31 13-25 13-20 13-15 13-9 13-3 13 2 13 8 13 14 13 19 13 24 13 30 13 35 13 38 13 38 13 28 13 14 13 4 13 1 13-1 13-2 13-3 13-4 13-4 13-4 13-5 13-4"/>
</g>
</g></g>
<rect x="331.3" y="173.2" width="5.5" height="93.7" fill="url(#jet)"/>
<text class="c" x="338.1" y="263.79">2</text><text class="c" x="338.1" y="251.62">4</text><text class="c" x="338.1" y="239.45">6</text><text class="c" x="338.1" y="227.28">8</text><text class="c" x="338.1" y="215.12">10</text><text class="c" x="338.1" y="202.95">12</text><text class="c" x="338.1" y="190.78">14</text><text class="c" x="338.1" y="178.61">16</text>
<text class="c" text-anchor="middle" transform="translate(347 220.05) rotate(-90)">Density(%)</text>
</g>
<g>
<text class="t" x="427.45" y="171.7">Persistence spectrum</text>
<text class="a" x="427.45" y="277.8">Frequency (Hz)</text>
<text class="a" transform="translate(364.1 220.5) rotate(-90)">Power Spectrum (dB)</text>
<text class="k" text-anchor="middle" x="374.9" y="272.9">0</text><text class="k" text-anchor="middle" x="400.92" y="272.9">50</text><text class="k" text-anchor="middle" x="426.95" y="272.9">100</text><text class="k" text-anchor="middle" x="452.98" y="272.9">150</text><text class="k" text-anchor="middle" x="479" y="272.9">200</text>
<text class="k" text-anchor="end" x="373.3" y="174.8">0</text><text class="k" text-anchor="end" x="373.3" y="184.18">-10</text><text class="k" text-anchor="end" x="373.3" y="193.56">-20</text><text class="k" text-anchor="end" x="373.3" y="202.94">-30</text><text class="k" text-anchor="end" x="373.3" y="212.32">-40</text><text class="k" text-anchor="end" x="373.3" y="221.7">-50</text><text class="k" text-anchor="end" x="373.3" y="231.08">-60</text><text class="k" text-anchor="end" x="373.3" y="240.46">-70</text><text class="k" text-anchor="end" x="373.3" y="249.84">-80</text><text class="k" text-anchor="end" x="373.3" y="259.22">-90</text><text class="k" text-anchor="end" x="373.3" y="268.6">-100</text>
<rect x="374.9" y="173.6" width="104.1" height="93.8" fill="#000082"/><g transform="translate(374.9 173.6)" filter="url(#fd)"><rect width="104.1" height="93.8" fill="#000"/><g transform="scale(.1)" class="cv">
<linearGradient id="g9" gradientUnits="userSpaceOnUse" x1="0" y1="0" x2="1041" y2="0"><stop offset="0" stop-color="#fff" stop-opacity="0.013"/><stop offset="0.04" stop-color="#fff" stop-opacity="0.013"/><stop offset="0.08" stop-color="#fff" stop-opacity="0.01"/><stop offset="0.14" stop-color="#fff" stop-opacity="0.015"/><stop offset="0.18" stop-color="#fff" stop-opacity="0.021"/><stop offset="0.21" stop-color="#fff" stop-opacity="0.026"/><stop offset="0.29" stop-color="#fff" stop-opacity="0.026"/><stop offset="0.32" stop-color="#fff" stop-opacity="0.021"/><stop offset="0.36" stop-color="#fff" stop-opacity="0.015"/><stop offset="0.41" stop-color="#fff" stop-opacity="0.01"/><stop offset="0.45" stop-color="#fff" stop-opacity="0.013"/><stop offset="0.56" stop-color="#fff" stop-opacity="0.013"/><stop offset="0.59" stop-color="#fff" stop-opacity="0.01"/><stop offset="0.64" stop-color="#fff" stop-opacity="0.015"/><stop offset="0.68" stop-color="#fff" stop-opacity="0.021"/><stop offset="0.71" stop-color="#fff" stop-opacity="0.026"/><stop offset="0.79" stop-color="#fff" stop-opacity="0.026"/><stop offset="0.82" stop-color="#fff" stop-opacity="0.021"/><stop offset="0.86" stop-color="#fff" stop-opacity="0.015"/><stop offset="0.91" stop-color="#fff" stop-opacity="0.01"/><stop offset="0.94" stop-color="#fff" stop-opacity="0.013"/><stop offset="1" stop-color="#fff" stop-opacity="0.013"/></linearGradient>
<g stroke-width="22" stroke="url(#g9)">
<path d="M0 575l26-14 26-12 26-7 26-18 26-65 26-77 26-64 26-48 26-30 26-14 26 4 26 21 26 38 26 55 26 72 26 81 26 52 26 9 26-1 27 0 26-3 26-6 26-5 26-11 26-57 26-80 26-66 26-48 26-27 26-7 26 13 26 33 26 53 26 72 26 81 26 44 26 6 26 4 26 6 26 7"/>
<path d="M0 565l26 0 26-2 26-7 26-45 26-78 26-72 26-58 26-42 26-26 26-9 26 7 26 23 26 39 26 55 26 68 26 65 26 27 26 6 26 6 27 5 26 5 26 6 26 5 26-4 26-51 26-84 26-71 26-52 26-32 26-13 26 8 26 28 26 47 26 67 26 84 26 75 26 23 26 12 26 19 26 20"/>
<path d="M0 587l26 0 26-1 26-9 26-52 26-84 26-77 26-61 26-45 26-29 26-13 26 3 26 19 26 36 26 51 26 67 26 81 26 75 26 15 26-11 27-6 26 2 26 5 26 4 26-8 26-59 26-83 26-68 26-48 26-28 26-8 26 13 26 33 26 54 26 73 26 85 26 54 26 10 26 12 26 25 26 26"/>
<path d="M0 580l26 13 26 10 26-13 26-75 26-91 26-78 26-63 26-45 26-30 26-12 26 4 26 20 26 37 26 53 26 69 26 80 26 57 26 3 26-7 27-3 26 0 26 2 26 2 26-1 26-34 26-74 26-69 26-49 26-30 26-9 26 11 26 32 26 51 26 72 26 87 26 74 26 22 26 8 26 7 26 8"/>
<path d="M0 610l26-10 26-10 26-16 26-54 26-83 26-76 26-61 26-45 26-29 26-12 26 4 26 20 26 36 26 52 26 68 26 72 26 38 26-3 26-8 27-4 26 8 26 19 26 18 26 4 26-40 26-79 26-71 26-51 26-32 26-13 26 8 26 28 26 47 26 67 26 83 26 76 26 25 26 9 26 10 26 10"/>
<path d="M0 602l26 14 26 7 26-42 26-95 26-89 26-75 26-59 26-44 26-28 26-12 26 4 26 20 26 35 26 52 26 66 26 81 26 73 26 18 26-6 27-4 26 12 26 24 26 20 26-22 26-81 26-83 26-67 26-48 26-29 26-10 26 8 26 28 26 46 26 65 26 82 26 84 26 36 26 8 26 10 26 11"/>
<path d="M0 600l26 0 26-4 26-28 26-81 26-87 26-73 26-57 26-42 26-25 26-9 26 8 26 23 26 39 26 56 26 71 26 78 26 44 26-8 26-15 27-7 26 15 26 32 26 27 26-14 26-74 26-84 26-67 26-48 26-29 26-8 26 12 26 31 26 51 26 70 26 84 26 58 26 10 26 6 26 11 26 12"/>
<path d="M0 568l26-4 26-3 26-12 26-53 26-84 26-76 26-60 26-44 26-27 26-11 26 6 26 23 26 39 26 56 26 70 26 74 26 36 26 1 26-2 27-2 26 7 26 13 26 13 26-4 26-56 26-82 26-69 26-49 26-30 26-9 26 10 26 30 26 50 26 70 26 85 26 71 26 19 26 4 26 4 26 4"/>
<path d="M0 599l26-18 26-16 26-13 26-23 26-63 26-75 26-63 26-46 26-30 26-13 26 4 26 21 26 38 26 54 26 67 26 57 26 21 26 12 26 12 27 6 26 1 26 0 26 0 26-8 26-52 26-80 26-68 26-48 26-28 26-7 26 14 26 34 26 55 26 74 26 90 26 67 26 16 26 5 26 4 26 4"/>
<path d="M0 602l26-10 26-11 26-17 26-62 26-88 26-78 26-63 26-46 26-29 26-14 26 3 26 20 26 36 26 52 26 69 26 81 26 72 26 21 26 2 27 0 26 1 26 3 26 3 26-6 26-58 26-85 26-73 26-53 26-33 26-14 26 6 26 26 26 45 26 65 26 84 26 91 26 50 26 15 26 17 26 18"/>
<path d="M0 635l26-26 26-23 26-24 26-63 26-85 26-74 26-59 26-42 26-26 26-9 26 8 26 24 26 41 26 57 26 73 26 81 26 52 26 8 26 0 27-2 26-6 26-10 26-8 26-8 26-49 26-80 26-70 26-50 26-30 26-9 26 12 26 32 26 53 26 72 26 86 26 61 26 14 26 11 26 16 26 17"/>
<path d="M0 602l26-4 26-5 26-35 26-86 26-87 26-74 26-57 26-42 26-25 26-9 26 7 26 22 26 39 26 55 26 71 26 85 26 75 26 6 26-19 27-9 26 15 26 32 26 24 26-32 26-89 26-85 26-67 26-48 26-28 26-8 26 11 26 31 26 50 26 70 26 88 26 85 26 28 26 11 26 21 26 22"/>
<path d="M0 593l26-25 26-24 26-26 26-62 26-81 26-70 26-55 26-40 26-24 26-9 26 8 26 22 26 39 26 54 26 69 26 75 26 46 26 7 26-1 27-1 26 4 26 8 26 9 26 1 26-37 26-78 26-69 26-52 26-32 26-12 26 7 26 27 26 46 26 65 26 83 26 82 26 29 26-2 26-11 26-11"/>
<path d="M0 575l26-5 26-5 26-9 26-41 26-76 26-73 26-60 26-43 26-27 26-11 26 6 26 22 26 39 26 54 26 66 26 55 26 18 26 2 26 0 27 0 26 11 26 24 26 21 26-4 26-58 26-82 26-68 26-50 26-30 26-12 26 8 26 28 26 46 26 65 26 82 26 74 26 24 26 4 26 2 26 4"/>
<path d="M0 600l26-8 26-7 26-14 26-58 26-86 26-77 26-61 26-44 26-27 26-9 26 7 26 25 26 41 26 59 26 74 26 83 26 47 26 8 26 1 27 1 26 0 26 0 26-1 26-14 26-64 26-80 26-66 26-47 26-29 26-10 26 8 26 27 26 46 26 65 26 82 26 88 26 47 26 14 26 12 26 13"/>
<path d="M0 617l26-2 26-3 26-28 26-82 26-90 26-75 26-60 26-44 26-28 26-11 26 4 26 20 26 36 26 52 26 68 26 82 26 80 26 28 26-2 27-5 26-7 26-7 26-6 26-11 26-57 26-80 26-67 26-48 26-29 26-10 26 10 26 29 26 48 26 67 26 86 26 90 26 42 26 6 26 3 26 2"/>
<path d="M0 632l26 2 26-2 26-37 26-96 26-95 26-78 26-62 26-45 26-27 26-10 26 6 26 24 26 42 26 58 26 74 26 83 26 46 26 5 26-1 27-1 26 4 26 8 26 9 26 0 26-49 26-84 26-73 26-53 26-34 26-13 26 7 26 27 26 47 26 66 26 86 26 92 26 45 26 7 26 3 26 3"/>
<path d="M0 622l26-9 26-12 26-33 26-81 26-89 26-75 26-59 26-43 26-28 26-12 26 5 26 20 26 36 26 52 26 67 26 80 26 66 26 14 26-3 27-2 26 1 26 1 26 2 26-5 26-47 26-80 26-70 26-50 26-30 26-10 26 11 26 30 26 51 26 70 26 86 26 69 26 18 26 7 26 9 26 8"/>
<path d="M0 595l26 0 26-3 26-22 26-76 26-87 26-74 26-59 26-42 26-27 26-11 26 5 26 21 26 36 26 53 26 68 26 80 26 64 26 12 26-2 27-2 26 6 26 14 26 12 26-11 26-72 26-88 26-71 26-52 26-31 26-10 26 9 26 31 26 50 26 71 26 89 26 81 26 24 26 5 26 7 26 6"/>
<path d="M0 593l26-5 26-6 26-16 26-62 26-86 26-77 26-62 26-45 26-28 26-13 26 4 26 20 26 36 26 53 26 68 26 78 26 57 26 23 26 13 27 6 26-5 26-10 26-10 26-13 26-57 26-80 26-66 26-48 26-28 26-9 26 12 26 31 26 50 26 70 26 85 26 68 26 19 26 7 26 10 26 10"/>
<path d="M0 569l26 5 26 4 26-3 26-41 26-83 26-79 26-63 26-46 26-30 26-12 26 5 26 21 26 39 26 55 26 71 26 77 26 37 26-5 26-9 27-5 26 0 26 0 26-1 26-2 26-31 26-73 26-70 26-52 26-33 26-12 26 7 26 27 26 48 26 67 26 84 26 81 26 27 26 0 26-3 26-4"/>
<path d="M0 639l26-34 26-31 26-16 26-27 26-73 26-78 26-63 26-48 26-31 26-15 26 2 26 19 26 34 26 52 26 67 26 79 26 61 26-3 26-19 27-10 26 10 26 20 26 16 26-12 26-69 26-80 26-66 26-48 26-28 26-10 26 9 26 28 26 47 26 65 26 81 26 73 26 23 26 11 26 22 26 23"/>
<path d="M0 587l26-6 26-6 26-12 26-53 26-83 26-76 26-60 26-43 26-27 26-10 26 7 26 23 26 40 26 56 26 73 26 80 26 49 26 3 26-4 27-2 26 7 26 15 26 11 26-27 26-83 26-82 26-64 26-46 26-27 26-8 26 11 26 31 26 49 26 68 26 85 26 83 26 30 26 7 26 8 26 9"/>
<path d="M0 621l26-24 26-21 26-14 26-36 26-79 26-78 26-64 26-46 26-29 26-13 26 5 26 21 26 39 26 55 26 72 26 81 26 51 26-3 26-13 27-6 26 12 26 24 26 19 26-34 26-88 26-83 26-65 26-45 26-26 26-6 26 13 26 33 26 53 26 72 26 87 26 68 26 14 26 10 26 23 26 25"/>
<path d="M0 574l26 12 26 9 26-11 26-68 26-87 26-75 26-60 26-44 26-28 26-12 26 5 26 20 26 36 26 52 26 67 26 71 26 41 26 8 26 2 27 3 26 2 26 2 26 1 26-9 26-57 26-79 26-64 26-47 26-27 26-7 26 11 26 31 26 50 26 69 26 86 26 90 26 38 26 3 26 1 26 0"/>
<path d="M0 618l26 6 26 4 26-9 26-65 26-90 26-79 26-63 26-47 26-30 26-14 26 3 26 19 26 36 26 53 26 68 26 79 26 55 26 7 26-3 27-2 26 8 26 16 26 12 26-18 26-75 26-84 26-67 26-48 26-28 26-9 26 12 26 31 26 50 26 70 26 83 26 58 26 10 26 4 26 8 26 8"/>
<path d="M0 560l26 5 26 3 26-3 26-38 26-80 26-75 26-60 26-44 26-26 26-9 26 9 26 25 26 42 26 60 26 73 26 65 26 14 26-16 26-19 27-8 26 14 26 30 26 25 26-14 26-71 26-81 26-65 26-48 26-28 26-10 26 9 26 27 26 46 26 65 26 80 26 71 26 20 26 8 26 15 26 17"/>
<path d="M0 592l26-12 26-12 26-14 26-45 26-78 26-74 26-58 26-43 26-27 26-11 26 6 26 21 26 38 26 54 26 68 26 72 26 41 26 11 26 9 27 8 26 10 26 12 26 6 26-26 26-82 26-84 26-66 26-47 26-28 26-8 26 12 26 31 26 51 26 69 26 85 26 67 26 14 26 11 26 26 26 28"/>
<path d="M0 598l26-5 26-7 26-21 26-66 26-82 26-70 26-55 26-40 26-23 26-8 26 8 26 23 26 39 26 55 26 70 26 77 26 45 26-4 26-12 27-5 26 0 26 0 26 1 26-7 26-46 26-73 26-63 26-45 26-25 26-7 26 13 26 32 26 50 26 69 26 79 26 50 26 11 26 4 26 4 26 4"/>
<path d="M0 608l26 4 26 2 26-13 26-67 26-90 26-77 26-60 26-44 26-26 26-9 26 8 26 25 26 42 26 59 26 72 26 63 26 21 26 10 26 11 27 9 26 8 26 9 26 4 26-26 26-80 26-81 26-64 26-46 26-25 26-7 26 13 26 32 26 52 26 71 26 84 26 63 26 12 26 11 26 25 26 27"/>
<path d="M0 633l26-29 26-26 26-21 26-53 26-83 26-75 26-59 26-43 26-27 26-9 26 7 26 24 26 40 26 57 26 72 26 82 26 49 26-2 26-10 27-5 26 9 26 19 26 17 26-15 26-77 26-85 26-69 26-50 26-31 26-13 26 7 26 25 26 44 26 64 26 81 26 90 26 54 26 15 26 17 26 18"/>
<path d="M0 569l26-4 26-5 26-15 26-60 26-81 26-73 26-57 26-42 26-26 26-10 26 5 26 22 26 37 26 52 26 67 26 73 26 42 26 4 26-3 27-1 26 5 26 10 26 11 26-2 26-49 26-82 26-70 26-50 26-30 26-9 26 11 26 32 26 52 26 72 26 86 26 60 26 13 26 9 26 14 26 14"/>
<path d="M0 602l26-17 26-15 26-15 26-46 26-82 26-77 26-61 26-44 26-27 26-9 26 7 26 25 26 42 26 58 26 74 26 74 26 29 26 1 26-2 27-1 26 9 26 19 26 16 26-19 26-78 26-84 26-67 26-47 26-27 26-8 26 13 26 33 26 53 26 72 26 87 26 63 26 11 26 8 26 15 26 17"/>
<path d="M0 593l26-1 26-1 26-7 26-44 26-81 26-77 26-62 26-46 26-31 26-14 26 2 26 19 26 34 26 50 26 64 26 65 26 31 26 4 26-1 27 0 26 10 26 22 26 19 26-6 26-60 26-82 26-69 26-49 26-31 26-11 26 8 26 28 26 46 26 66 26 82 26 73 26 23 26 11 26 20 26 21"/>
</g>
<linearGradient id="g10" gradientUnits="userSpaceOnUse" x1="0" y1="0" x2="1041" y2="0"><stop offset="0" stop-color="#fff" stop-opacity="0.068"/><stop offset="0.04" stop-color="#fff" stop-opacity="0.068"/><stop offset="0.08" stop-color="#fff" stop-opacity="0.043"/><stop offset="0.14" stop-color="#fff" stop-opacity="0.059"/><stop offset="0.18" stop-color="#fff" stop-opacity="0.085"/><stop offset="0.21" stop-color="#fff" stop-opacity="0.187"/><stop offset="0.29" stop-color="#fff" stop-opacity="0.187"/><stop offset="0.32" stop-color="#fff" stop-opacity="0.085"/><stop offset="0.36" stop-color="#fff" stop-opacity="0.059"/><stop offset="0.41" stop-color="#fff" stop-opacity="0.043"/><stop offset="0.45" stop-color="#fff" stop-opacity="0.068"/><stop offset="0.56" stop-color="#fff" stop-opacity="0.068"/><stop offset="0.59" stop-color="#fff" stop-opacity="0.043"/><stop offset="0.64" stop-color="#fff" stop-opacity="0.059"/><stop offset="0.68" stop-color="#fff" stop-opacity="0.085"/><stop offset="0.71" stop-color="#fff" stop-opacity="0.136"/><stop offset="0.79" stop-color="#fff" stop-opacity="0.136"/><stop offset="0.82" stop-color="#fff" stop-opacity="0.085"/><stop offset="0.86" stop-color="#fff" stop-opacity="0.059"/><stop offset="0.91" stop-color="#fff" stop-opacity="0.043"/><stop offset="0.94" stop-color="#fff" stop-opacity="0.068"/><stop offset="1" stop-color="#fff" stop-opacity="0.068"/></linearGradient>
<g stroke-width="6.2" stroke="url(#g10)">
<path d="M0 599l13 0 13 0 13-1 13-4 13-10 13-26 13-41 13-45 13-45 13-41 13-38 13-35 13-30 13-26 13-23 13-18 13-15 13-11 13-7 13-3 13 1 13 5 13 8 13 13 13 16 13 20 13 25 13 28 13 32 13 35 13 39 13 42 13 41 13 34 13 20 13 8 13 3 13 2 13 2 14 1 13 2 13 2 13 2 13 2 13 2 13 2 13-2 13-10 13-28 13-43 13-46 13-44 13-39 13-35 13-29 13-24 13-20 13-14 13-9 13-3 13 1 13 6 13 12 13 17 13 22 13 27 13 32 13 37 13 42 13 46 13 47 13 41 13 23 13 9 13 4 13 4 13 6 13 6 13 6 13 6"/>
<path d="M0 632l13-1 13-1 13-3 13-9 13-22 13-40 13-47 13-48 13-44 13-42 13-37 13-34 13-29 13-26 13-22 13-18 13-14 13-11 13-6 13-2 13 1 13 5 13 10 13 13 13 17 13 21 13 25 13 29 13 32 13 37 13 40 13 43 13 45 13 40 13 24 13 5 13-3 13-4 13-3 14-1 13 0 13 1 13 2 13 2 13 3 13 0 13-3 13-17 13-34 13-43 13-44 13-40 13-36 13-31 13-27 13-22 13-18 13-13 13-8 13-4 13 1 13 5 13 10 13 15 13 20 13 24 13 28 13 33 13 38 13 42 13 45 13 46 13 39 13 24 13 9 13 5 13 3 13 4 13 3 13 3"/>
<path d="M0 616l13-7 13-6 13-7 13-5 13-7 13-10 13-23 13-39 13-46 13-46 13-43 13-39 13-36 13-30 13-27 13-22 13-18 13-14 13-9 13-5 13-1 13 4 13 8 13 12 13 17 13 20 13 25 13 30 13 34 13 37 13 42 13 44 13 42 13 32 13 16 13 4 13 1 13 0 13 0 14 0 13 0 13 2 13 3 13 3 13 3 13 2 13-2 13-14 13-32 13-42 13-44 13-41 13-37 13-32 13-27 13-23 13-18 13-13 13-8 13-3 13 1 13 6 13 11 13 16 13 20 13 25 13 30 13 35 13 39 13 44 13 47 13 46 13 37 13 18 13 6 13 0 13 0 13-1 13 0 13-1"/>
<path d="M0 622l13-1 13-1 13-1 13-3 13-8 13-23 13-40 13-47 13-48 13-44 13-41 13-37 13-33 13-28 13-25 13-21 13-17 13-12 13-9 13-5 13 0 13 3 13 7 13 12 13 16 13 19 13 24 13 27 13 32 13 35 13 40 13 43 13 45 13 43 13 33 13 15 13 3 13 0 13 0 14-1 13-1 13-1 13-1 13-2 13-1 13-2 13-5 13-19 13-36 13-45 13-45 13-41 13-37 13-32 13-27 13-22 13-17 13-12 13-7 13-2 13 3 13 8 13 13 13 18 13 23 13 29 13 33 13 38 13 42 13 47 13 48 13 40 13 23 13 9 13 4 13 3 13 3 13 3 13 4 13 3"/>
<path d="M0 628l13 0 13 0 13-2 13-4 13-14 13-32 13-44 13-49 13-46 13-43 13-40 13-35 13-32 13-28 13-23 13-20 13-16 13-12 13-8 13-5 13 0 13 4 13 7 13 12 13 15 13 19 13 23 13 27 13 31 13 35 13 39 13 42 13 44 13 41 13 29 13 12 13 1 13-1 13-1 14-1 13 2 13 4 13 5 13 6 13 6 13 3 13-7 13-24 13-40 13-46 13-45 13-41 13-36 13-32 13-27 13-22 13-17 13-13 13-8 13-3 13 1 13 7 13 10 13 16 13 21 13 25 13 30 13 34 13 40 13 43 13 47 13 46 13 36 13 18 13 8 13 6 13 7 13 8 13 9 13 8"/>
<path d="M0 604l13-6 13-7 13-7 13-8 13-10 13-20 13-34 13-43 13-44 13-41 13-39 13-34 13-31 13-27 13-23 13-19 13-16 13-11 13-8 13-4 13 1 13 4 13 8 13 11 13 16 13 19 13 24 13 27 13 31 13 35 13 38 13 41 13 42 13 36 13 23 13 10 13 4 13 2 13 1 14 1 13 2 13 2 13 3 13 2 13 3 13 1 13-3 13-15 13-33 13-44 13-45 13-41 13-37 13-33 13-27 13-22 13-18 13-12 13-8 13-3 13 3 13 7 13 12 13 18 13 22 13 27 13 32 13 37 13 42 13 45 13 45 13 38 13 20 13 8 13 3 13 3 13 5 13 5 13 5 13 4"/>
<path d="M0 609l13-4 13-5 13-5 13-6 13-9 13-21 13-36 13-45 13-45 13-43 13-40 13-35 13-32 13-27 13-23 13-20 13-15 13-11 13-7 13-3 13 1 13 5 13 9 13 13 13 17 13 22 13 25 13 30 13 33 13 37 13 41 13 44 13 42 13 34 13 16 13 3 13-1 13-1 13-1 14-1 13 0 13 2 13 1 13 2 13 2 13 1 13-2 13-14 13-32 13-44 13-45 13-42 13-37 13-32 13-27 13-22 13-17 13-11 13-6 13-1 13 4 13 9 13 14 13 20 13 25 13 30 13 35 13 40 13 44 13 47 13 43 13 29 13 12 13 4 13 3 13 4 13 5 13 6 13 6 13 6"/>
<path d="M0 615l13-9 13-10 13-10 13-9 13-10 13-16 13-29 13-40 13-44 13-43 13-39 13-35 13-32 13-28 13-24 13-20 13-16 13-12 13-8 13-5 13 0 13 3 13 7 13 11 13 15 13 19 13 23 13 27 13 30 13 34 13 38 13 42 13 42 13 40 13 28 13 12 13 3 13 0 13-1 14 0 13 0 13 1 13 0 13 1 13 1 13 0 13-4 13-14 13-32 13-42 13-43 13-41 13-36 13-31 13-27 13-22 13-18 13-12 13-8 13-3 13 2 13 6 13 12 13 16 13 21 13 25 13 31 13 35 13 40 13 43 13 45 13 41 13 26 13 11 13 4 13 3 13 4 13 4 13 3 13 4"/>
<path d="M0 621l13-5 13-5 13-5 13-7 13-13 13-25 13-40 13-46 13-45 13-43 13-38 13-35 13-31 13-27 13-23 13-20 13-15 13-11 13-7 13-4 13 1 13 4 13 9 13 12 13 17 13 20 13 24 13 29 13 32 13 36 13 39 13 43 13 44 13 37 13 22 13 7 13 0 13-2 13-2 14 0 13 1 13 2 13 4 13 4 13 4 13 1 13-5 13-22 13-39 13-45 13-44 13-40 13-35 13-31 13-26 13-21 13-16 13-12 13-7 13-2 13 3 13 8 13 13 13 17 13 23 13 27 13 32 13 36 13 42 13 45 13 46 13 40 13 25 13 9 13 4 13 5 13 5 13 6 13 7 13 6"/>
<path d="M0 605l13-4 13-4 13-4 13-5 13-9 13-19 13-34 13-44 13-44 13-43 13-39 13-36 13-32 13-27 13-24 13-20 13-17 13-12 13-8 13-5 13 0 13 3 13 7 13 12 13 15 13 19 13 22 13 27 13 31 13 34 13 38 13 42 13 43 13 40 13 30 13 14 13 3 13 1 13 0 14 0 13 0 13 0 13 1 13 1 13 1 13 0 13-2 13-13 13-32 13-44 13-46 13-42 13-38 13-34 13-27 13-23 13-18 13-12 13-7 13-2 13 3 13 9 13 13 13 19 13 24 13 29 13 35 13 39 13 44 13 48 13 46 13 37 13 18 13 6 13 3 13 4 13 4 13 5 13 5 13 5"/>
<path d="M0 587l13-3 13-3 13-4 13-3 13-5 13-10 13-24 13-39 13-44 13-43 13-41 13-37 13-33 13-29 13-25 13-21 13-16 13-13 13-9 13-4 13-1 13 4 13 8 13 12 13 15 13 20 13 24 13 29 13 32 13 36 13 40 13 42 13 43 13 37 13 21 13 6 13 0 13-1 13-1 14-1 13 1 13 0 13 1 13 1 13 1 13 1 13-3 13-12 13-30 13-41 13-43 13-41 13-36 13-32 13-28 13-22 13-18 13-14 13-8 13-4 13 1 13 6 13 10 13 16 13 20 13 24 13 30 13 34 13 38 13 43 13 46 13 45 13 35 13 18 13 8 13 5 13 4 13 5 13 4 13 5"/>
<path d="M0 617l13-7 13-8 13-7 13-7 13-9 13-16 13-33 13-44 13-46 13-44 13-40 13-37 13-32 13-28 13-24 13-21 13-16 13-11 13-8 13-4 13 1 13 5 13 8 13 13 13 17 13 21 13 26 13 29 13 33 13 38 13 41 13 45 13 46 13 41 13 26 13 10 13 2 13 0 13-1 14 0 13-1 13-2 13-1 13-2 13-2 13-4 13-11 13-26 13-39 13-44 13-43 13-38 13-34 13-30 13-25 13-20 13-15 13-11 13-6 13-2 13 3 13 8 13 12 13 18 13 21 13 27 13 31 13 36 13 40 13 44 13 48 13 46 13 35 13 18 13 5 13 2 13 0 13 1 13 0 13 1"/>
</g>
<linearGradient id="g11" gradientUnits="userSpaceOnUse" x1="0" y1="0" x2="1041" y2="0"><stop offset="0" stop-color="#fff" stop-opacity="0.12"/><stop offset="0.04" stop-color="#fff" stop-opacity="0.12"/><stop offset="0.08" stop-color="#fff" stop-opacity="0"/><stop offset="0.14" stop-color="#fff" stop-opacity="0"/><stop offset="0.18" stop-color="#fff" stop-opacity="0"/><stop offset="0.21" stop-color="#fff" stop-opacity="0"/><stop offset="0.29" stop-color="#fff" stop-opacity="0"/><stop offset="0.32" stop-color="#fff" stop-opacity="0"/><stop offset="0.36" stop-color="#fff" stop-opacity="0"/><stop offset="0.41" stop-color="#fff" stop-opacity="0"/><stop offset="0.45" stop-color="#fff" stop-opacity="0.12"/><stop offset="0.56" stop-color="#fff" stop-opacity="0.12"/><stop offset="0.59" stop-color="#fff" stop-opacity="0"/><stop offset="0.64" stop-color="#fff" stop-opacity="0"/><stop offset="0.68" stop-color="#fff" stop-opacity="0"/><stop offset="0.71" stop-color="#fff" stop-opacity="0"/><stop offset="0.79" stop-color="#fff" stop-opacity="0"/><stop offset="0.82" stop-color="#fff" stop-opacity="0"/><stop offset="0.86" stop-color="#fff" stop-opacity="0"/><stop offset="0.91" stop-color="#fff" stop-opacity="0"/><stop offset="0.94" stop-color="#fff" stop-opacity="0.12"/><stop offset="1" stop-color="#fff" stop-opacity="0.12"/></linearGradient>
<g stroke-width="7" stroke="url(#g11)">
<path d="M0 624l13 3 13 3 13 1 13-6 13-19 13-36 13-46 13-47 13-45 13-41 13-38 13-33 13-30 13-26 13-22 13-19 13-14 13-11 13-7 13-3 13 1 13 5 13 8 13 13 13 16 13 20 13 24 13 27 13 32 13 35 13 38 13 40 13 42 13 43 13 38 13 7 13-29 13-29 13-10 14-5 13-3 13 0 13 5 13 10 13 11 13 22 13 22 13-4 13-35 13-47 13-48 13-45 13-40 13-34 13-30 13-23 13-19 13-13 13-8 13-3 13 3 13 8 13 14 13 19 13 24 13 29 13 35 13 40 13 45 13 47 13 43 13 29 13 10 13 5 13 22 13 27 13 10 13-1 13-2 13-6"/>
<path d="M0 639l13-2 13-3 13-3 13-5 13-14 13-29 13-43 13-48 13-46 13-43 13-40 13-35 13-32 13-28 13-23 13-20 13-16 13-12 13-7 13-4 13 0 13 4 13 8 13 12 13 16 13 21 13 24 13 28 13 31 13 36 13 39 13 40 13 33 13 9 13-5 13 14 13 37 13 31 13 1 14-12 13-11 13-1 13 20 13 24 13 8 13-4 13-13 13-27 13-41 13-47 13-44 13-40 13-36 13-31 13-27 13-21 13-17 13-12 13-7 13-2 13 2 13 7 13 12 13 17 13 22 13 26 13 31 13 36 13 40 13 44 13 43 13 35 13 18 13 9 13 24 13 28 13 10 13 0 13-3 13-6"/>
<path d="M0 619l13-8 13-8 13-7 13-4 13-4 13-7 13-20 13-36 13-45 13-46 13-44 13-39 13-35 13-31 13-26 13-22 13-17 13-13 13-9 13-4 13 0 13 5 13 9 13 13 13 18 13 22 13 27 13 31 13 36 13 39 13 43 13 45 13 37 13 15 13 0 13 3 13 7 13 7 13 7 14 9 13 6 13 1 13-7 13-7 13-3 13 11 13 8 13-22 13-42 13-47 13-44 13-41 13-35 13-31 13-26 13-22 13-16 13-12 13-7 13-2 13 3 13 8 13 12 13 17 13 22 13 27 13 32 13 36 13 41 13 45 13 47 13 42 13 27 13 11 13 12 13 11 13 4 13-9 13-21 13-29"/>
<path d="M0 590l13 7 13 6 13 5 13 1 13-6 13-21 13-39 13-47 13-48 13-45 13-41 13-37 13-33 13-29 13-24 13-20 13-16 13-12 13-8 13-3 13 1 13 5 13 9 13 14 13 17 13 22 13 27 13 30 13 34 13 39 13 43 13 45 13 47 13 38 13 21 13-5 13-25 13-21 13-1 14 9 13 11 13 7 13 6 13 4 13 1 13-1 13-4 13-13 13-29 13-41 13-43 13-41 13-36 13-32 13-27 13-23 13-17 13-13 13-8 13-3 13 1 13 7 13 11 13 16 13 21 13 26 13 30 13 36 13 39 13 44 13 44 13 39 13 25 13 12 13 23 13 28 13 13 13 5 13 4 13 1"/>
<path d="M0 640l13-22 13-23 13-18 13-7 13-1 13-5 13-15 13-33 13-43 13-45 13-43 13-39 13-34 13-31 13-26 13-22 13-18 13-14 13-9 13-5 13-1 13 4 13 7 13 12 13 17 13 20 13 25 13 29 13 33 13 37 13 42 13 44 13 47 13 42 13 28 13-2 13-36 13-33 13 2 14 22 13 23 13 4 13-14 13-17 13-5 13 17 13 23 13 4 13-26 13-43 13-47 13-45 13-40 13-35 13-30 13-25 13-19 13-14 13-9 13-4 13 2 13 7 13 12 13 17 13 23 13 28 13 33 13 39 13 43 13 47 13 48 13 40 13 22 13 8 13 7 13 9 13 8 13 9 13 9 13 10"/>
<path d="M0 633l13-11 13-12 13-10 13-6 13-8 13-21 13-35 13-43 13-44 13-41 13-38 13-35 13-31 13-26 13-24 13-19 13-15 13-12 13-8 13-4 13-1 13 4 13 7 13 11 13 15 13 18 13 23 13 26 13 30 13 33 13 37 13 41 13 42 13 38 13 24 13 13 13 9 13 6 13 3 14 1 13 2 13 2 13 5 13 5 13 0 13-13 13-23 13-26 13-35 13-41 13-42 13-38 13-34 13-29 13-25 13-20 13-16 13-11 13-6 13-1 13 3 13 7 13 13 13 17 13 22 13 26 13 31 13 35 13 40 13 43 13 42 13 34 13 18 13 9 13 15 13 19 13 11 13 6 13 5 13 2"/>
<path d="M0 586l13-5 13-5 13-5 13-4 13-5 13-8 13-17 13-31 13-40 13-44 13-41 13-38 13-33 13-30 13-25 13-21 13-16 13-12 13-8 13-3 13 1 13 5 13 10 13 14 13 18 13 23 13 27 13 31 13 35 13 37 13 38 13 30 13 19 13 10 13 5 13 1 13 0 13 0 13 1 14 4 13 4 13 1 13 1 13 0 13 1 13 9 13 10 13 1 13-18 13-35 13-43 13-42 13-39 13-34 13-29 13-24 13-18 13-14 13-8 13-3 13 1 13 8 13 12 13 17 13 23 13 28 13 32 13 38 13 42 13 45 13 43 13 29 13 12 13 3 13-1 13-2 13-1 13 5 13 11 13 13"/>
<path d="M0 621l13-9 13-8 13-8 13-5 13-4 13-8 13-19 13-35 13-45 13-47 13-43 13-40 13-36 13-31 13-27 13-22 13-19 13-13 13-10 13-5 13 0 13 3 13 9 13 12 13 17 13 21 13 26 13 30 13 35 13 38 13 42 13 44 13 41 13 31 13 16 13 2 13-5 13-6 13 3 14 14 13 13 13 1 13-23 13-27 13-9 13 9 13 8 13-14 13-35 13-41 13-41 13-37 13-33 13-29 13-25 13-19 13-16 13-10 13-7 13-1 13 3 13 7 13 12 13 17 13 21 13 26 13 30 13 34 13 38 13 40 13 37 13 25 13 11 13 6 13 20 13 27 13 18 13 11 13 9 13 5"/>
<path d="M0 646l13-17 13-18 13-15 13-11 13-13 13-28 13-40 13-44 13-43 13-40 13-37 13-33 13-30 13-25 13-22 13-19 13-14 13-11 13-7 13-3 13 0 13 5 13 8 13 11 13 16 13 19 13 23 13 26 13 31 13 34 13 37 13 41 13 41 13 31 13 10 13 6 13 2 13 1 13-1 14-5 13-5 13 0 13 4 13 7 13 10 13 19 13 12 13-25 13-44 13-46 13-42 13-39 13-34 13-30 13-25 13-20 13-16 13-11 13-7 13-2 13 3 13 7 13 12 13 16 13 22 13 25 13 31 13 35 13 39 13 43 13 44 13 38 13 24 13 9 13 3 13 3 13 3 13 17 13 29 13 37"/>
<path d="M0 594l13 10 13 9 13 7 13-1 13-14 13-31 13-45 13-47 13-45 13-42 13-39 13-34 13-31 13-27 13-23 13-19 13-15 13-11 13-7 13-3 13 0 13 5 13 8 13 12 13 16 13 20 13 24 13 28 13 32 13 35 13 37 13 38 13 41 13 47 13 43 13 5 13-35 13-33 13-2 14 11 13 10 13 2 13-4 13-4 13-1 13 23 13 20 13-24 13-46 13-46 13-43 13-38 13-35 13-29 13-25 13-21 13-16 13-11 13-7 13-2 13 3 13 7 13 12 13 16 13 21 13 25 13 30 13 35 13 39 13 43 13 47 13 47 13 37 13 18 13-13 13-21 13-8 13 9 13 20 13 32"/>
<path d="M0 593l13 7 13 6 13 5 13 0 13-7 13-22 13-39 13-48 13-48 13-45 13-40 13-37 13-33 13-28 13-25 13-20 13-16 13-11 13-8 13-3 13 1 13 5 13 9 13 13 13 18 13 22 13 26 13 30 13 34 13 38 13 42 13 42 13 39 13 27 13 11 13 3 13-2 13-2 13 2 14 10 13 10 13 0 13-15 13-17 13-7 13 4 13 4 13-6 13-23 13-37 13-42 13-39 13-35 13-32 13-26 13-22 13-17 13-13 13-8 13-3 13 2 13 6 13 10 13 16 13 20 13 24 13 29 13 34 13 39 13 42 13 47 13 48 13 44 13 25 13-8 13-19 13-8 13 3 13 9 13 17"/>
<path d="M0 571l13 1 13 1 13 1 13-1 13-1 13-7 13-19 13-36 13-44 13-45 13-42 13-39 13-35 13-30 13-26 13-22 13-18 13-13 13-10 13-5 13-1 13 4 13 7 13 12 13 16 13 20 13 24 13 29 13 33 13 36 13 39 13 39 13 33 13 24 13 15 13 18 13 30 13 23 13-4 14-31 13-31 13-4 13 18 13 21 13 7 13-4 13-11 13-19 13-32 13-41 13-42 13-39 13-35 13-30 13-26 13-21 13-16 13-11 13-7 13-2 13 3 13 7 13 13 13 17 13 22 13 26 13 31 13 36 13 39 13 42 13 37 13 26 13 11 13 7 13 34 13 41 13 14 13-4 13-14 13-29"/>
</g>
<linearGradient id="g12" gradientUnits="userSpaceOnUse" x1="0" y1="0" x2="1041" y2="0"><stop offset="0" stop-color="#fff" stop-opacity="0.042"/><stop offset="0.04" stop-color="#fff" stop-opacity="0.042"/><stop offset="0.08" stop-color="#fff" stop-opacity="0.039"/><stop offset="0.14" stop-color="#fff" stop-opacity="0.054"/><stop offset="0.18" stop-color="#fff" stop-opacity="0.077"/><stop offset="0.21" stop-color="#fff" stop-opacity="0.14"/><stop offset="0.29" stop-color="#fff" stop-opacity="0.14"/><stop offset="0.32" stop-color="#fff" stop-opacity="0.077"/><stop offset="0.36" stop-color="#fff" stop-opacity="0.054"/><stop offset="0.41" stop-color="#fff" stop-opacity="0.039"/><stop offset="0.45" stop-color="#fff" stop-opacity="0.042"/><stop offset="0.56" stop-color="#fff" stop-opacity="0.042"/><stop offset="0.59" stop-color="#fff" stop-opacity="0"/><stop offset="0.64" stop-color="#fff" stop-opacity="0"/><stop offset="0.68" stop-color="#fff" stop-opacity="0"/><stop offset="0.71" stop-color="#fff" stop-opacity="0"/><stop offset="0.79" stop-color="#fff" stop-opacity="0"/><stop offset="0.82" stop-color="#fff" stop-opacity="0"/><stop offset="0.86" stop-color="#fff" stop-opacity="0"/><stop offset="0.91" stop-color="#fff" stop-opacity="0"/><stop offset="0.94" stop-color="#fff" stop-opacity="0.042"/><stop offset="1" stop-color="#fff" stop-opacity="0.042"/></linearGradient>
<g stroke-width="6" stroke="url(#g12)">
<path d="M0 594l13 0 13 1 13 1 13 0 13-1 13-5 13-18 13-36 13-44 13-46 13-42 13-39 13-35 13-31 13-26 13-22 13-18 13-13 13-10 13-5 13 0 13 3 13 8 13 12 13 17 13 20 13 25 13 29 13 33 13 38 13 40 13 43 13 38 13 27 13 12 13 4 13 2 13 1 13 1 14 0 13 0 13-1 13-1 13 0 13-1 13-1 13-2 13-4 13-15 13-31 13-39 13-41 13-37 13-33 13-28 13-23 13-18 13-12 13-8 13-3 13 2 13 7 13 13 13 17 13 22 13 28 13 32 13 37 13 42 13 45 13 44 13 34 13 16 13 5 13 0 13 0 13-1 13 0 13-1 13-1"/>
<path d="M0 592l13-3 13-2 13-3 13-2 13-4 13-7 13-18 13-33 13-43 13-44 13-42 13-37 13-34 13-29 13-25 13-21 13-16 13-11 13-8 13-3 13 2 13 6 13 10 13 14 13 19 13 24 13 27 13 32 13 36 13 40 13 42 13 39 13 28 13 13 13 5 13 1 13 1 13 1 13 1 14 1 13 1 13 2 13 2 13 3 13 2 13 2 13 1 13-5 13-19 13-34 13-41 13-41 13-37 13-32 13-28 13-23 13-17 13-13 13-8 13-3 13 2 13 7 13 13 13 17 13 22 13 27 13 32 13 37 13 41 13 43 13 41 13 30 13 14 13 6 13 3 13 3 13 4 13 5 13 4 13 5"/>
<path d="M0 608l13 3 13 3 13 2 13 2 13-2 13-13 13-32 13-44 13-47 13-45 13-42 13-37 13-34 13-29 13-25 13-21 13-17 13-13 13-8 13-5 13 0 13 4 13 8 13 12 13 16 13 21 13 24 13 29 13 33 13 36 13 40 13 42 13 39 13 28 13 15 13 8 13 5 13 4 13 4 14 2 13 1 13 1 13 1 13 1 13 0 13 0 13-4 13-13 13-29 13-40 13-42 13-40 13-35 13-31 13-26 13-21 13-16 13-12 13-7 13-2 13 2 13 8 13 12 13 17 13 22 13 26 13 32 13 36 13 40 13 43 13 41 13 33 13 16 13 6 13 4 13 5 13 6 13 7 13 8 13 7"/>
<path d="M0 608l13-5 13-4 13-5 13-4 13-5 13-8 13-21 13-37 13-45 13-44 13-42 13-37 13-34 13-29 13-25 13-21 13-16 13-12 13-8 13-4 13 1 13 4 13 10 13 13 13 18 13 22 13 26 13 31 13 34 13 39 13 43 13 44 13 41 13 27 13 8 13-2 13-5 13-5 13-4 14-1 13 1 13 4 13 4 13 6 13 5 13 5 13 1 13-6 13-23 13-37 13-43 13-41 13-37 13-33 13-28 13-23 13-18 13-13 13-9 13-3 13 1 13 7 13 11 13 16 13 21 13 26 13 31 13 36 13 40 13 44 13 44 13 39 13 24 13 9 13 4 13 3 13 3 13 3 13 3 13 4"/>
<path d="M0 622l13-6 13-6 13-6 13-5 13-5 13-8 13-17 13-34 13-44 13-45 13-43 13-38 13-35 13-31 13-26 13-22 13-18 13-14 13-9 13-5 13-1 13 4 13 8 13 12 13 16 13 21 13 24 13 30 13 33 13 37 13 41 13 44 13 41 13 30 13 11 13 0 13-3 13-3 13-3 14-1 13 1 13 1 13 1 13 1 13 2 13 1 13 1 13-4 13-14 13-30 13-40 13-41 13-38 13-34 13-28 13-24 13-19 13-13 13-9 13-3 13 1 13 7 13 12 13 17 13 22 13 27 13 32 13 36 13 41 13 43 13 40 13 27 13 12 13 5 13 4 13 7 13 8 13 9 13 10 13 10"/>
<path d="M0 609l13 2 13 2 13 2 13 0 13-2 13-13 13-31 13-45 13-48 13-46 13-42 13-38 13-34 13-29 13-24 13-21 13-16 13-11 13-7 13-3 13 1 13 6 13 11 13 15 13 19 13 23 13 28 13 33 13 36 13 41 13 43 13 43 13 33 13 19 13 9 13 4 13 4 13 3 13 2 14 1 13 0 13-2 13-2 13-2 13-2 13-2 13-2 13-8 13-22 13-36 13-43 13-41 13-37 13-33 13-27 13-23 13-18 13-12 13-7 13-3 13 3 13 8 13 13 13 18 13 23 13 28 13 34 13 38 13 43 13 46 13 46 13 37 13 19 13 6 13 3 13 1 13 1 13 1 13 2 13 1"/>
<path d="M0 613l13-2 13-1 13-2 13-2 13-3 13-10 13-23 13-38 13-44 13-45 13-41 13-38 13-34 13-29 13-26 13-21 13-18 13-13 13-9 13-5 13 0 13 3 13 8 13 11 13 16 13 20 13 24 13 28 13 33 13 36 13 40 13 42 13 42 13 31 13 15 13 2 13-2 13-3 13-2 14 0 13 0 13 0 13 0 13 0 13 1 13 0 13-1 13-6 13-17 13-33 13-39 13-40 13-37 13-32 13-27 13-22 13-18 13-12 13-8 13-3 13 2 13 7 13 12 13 17 13 21 13 27 13 31 13 36 13 40 13 44 13 44 13 36 13 20 13 8 13 4 13 3 13 3 13 3 13 4 13 3"/>
<path d="M0 614l13-1 13 0 13-1 13-1 13-3 13-9 13-24 13-40 13-46 13-46 13-42 13-39 13-34 13-31 13-26 13-21 13-18 13-13 13-10 13-5 13 0 13 3 13 8 13 12 13 16 13 20 13 25 13 29 13 32 13 37 13 40 13 42 13 38 13 27 13 14 13 7 13 4 13 3 13 2 14 1 13-1 13 0 13-1 13-1 13-1 13-1 13-2 13-8 13-21 13-36 13-41 13-41 13-37 13-32 13-27 13-22 13-16 13-12 13-7 13-1 13 3 13 9 13 14 13 19 13 24 13 29 13 35 13 38 13 43 13 42 13 34 13 19 13 7 13 3 13 3 13 5 13 7 13 8 13 8 13 8"/>
<path d="M0 614l13-3 13-3 13-3 13-3 13-4 13-10 13-22 13-37 13-44 13-44 13-41 13-38 13-34 13-30 13-25 13-21 13-18 13-13 13-9 13-5 13-1 13 4 13 7 13 12 13 16 13 19 13 24 13 28 13 33 13 36 13 39 13 42 13 39 13 30 13 14 13 5 13 2 13 0 13 1 14 0 13 1 13 1 13 1 13 2 13 2 13 1 13-2 13-11 13-26 13-39 13-42 13-39 13-35 13-31 13-26 13-21 13-16 13-12 13-7 13-2 13 3 13 8 13 12 13 18 13 22 13 27 13 31 13 37 13 41 13 44 13 44 13 38 13 21 13 8 13 4 13 2 13 2 13 2 13 2 13 2"/>
</g>
</g></g>
<clipPath id="c3"><rect x="374.9" y="173.6" width="104.1" height="93.8"/></clipPath>
<g clip-path="url(#c3)"><g transform="translate(374.9 173.6) scale(.1)" class="cv">
<linearGradient id="g13" gradientUnits="userSpaceOnUse" x1="0" y1="0" x2="1041" y2="0"><stop offset="0" stop-color="#a8b6e6" stop-opacity="0.22"/><stop offset="0.04" stop-color="#a8b6e6" stop-opacity="0.22"/><stop offset="0.08" stop-color="#a8b6e6" stop-opacity="0.044"/><stop offset="0.14" stop-color="#a8b6e6" stop-opacity="0.062"/><stop offset="0.18" stop-color="#a8b6e6" stop-opacity="0.088"/><stop offset="0.21" stop-color="#a8b6e6" stop-opacity="0.066"/><stop offset="0.29" stop-color="#a8b6e6" stop-opacity="0.066"/><stop offset="0.32" stop-color="#a8b6e6" stop-opacity="0.088"/><stop offset="0.36" stop-color="#a8b6e6" stop-opacity="0.062"/><stop offset="0.41" stop-color="#a8b6e6" stop-opacity="0.044"/><stop offset="0.45" stop-color="#a8b6e6" stop-opacity="0.22"/><stop offset="0.56" stop-color="#a8b6e6" stop-opacity="0.22"/><stop offset="0.59" stop-color="#a8b6e6" stop-opacity="0.044"/><stop offset="0.64" stop-color="#a8b6e6" stop-opacity="0.062"/><stop offset="0.68" stop-color="#a8b6e6" stop-opacity="0.088"/><stop offset="0.71" stop-color="#a8b6e6" stop-opacity="0.066"/><stop offset="0.79" stop-color="#a8b6e6" stop-opacity="0.066"/><stop offset="0.82" stop-color="#a8b6e6" stop-opacity="0.088"/><stop offset="0.86" stop-color="#a8b6e6" stop-opacity="0.062"/><stop offset="0.91" stop-color="#a8b6e6" stop-opacity="0.044"/><stop offset="0.94" stop-color="#a8b6e6" stop-opacity="0.22"/><stop offset="1" stop-color="#a8b6e6" stop-opacity="0.22"/></linearGradient>
<g stroke-width="5" stroke="url(#g13)">
<path d="M0 458l13-23 13-21 13-19 13-15 13-11 13-6 13-2 13-3 13-5 13-8 13-14 13-20 13-23 13-23 13-21 13-19 13-14 13-11 13-6 13-3 13 2 13 5 13 10 13 13 13 17 13 21 13 24 13 26 13 26 13 29 13 29 13 27 13 23 13 15 13 8 13 6 13 5 13 5 13 5 14 6 13 7 13 9 13 10 13 10 13 8 13 6 13 0 13-14 13-32 13-40 13-40 13-38 13-34 13-30 13-26 13-22 13-16 13-12 13-6 13-2 13 4 13 8 13 13 13 18 13 21 13 24 13 23 13 18 13 14 13 14 13 16 13 16 13 15 13 11 13 9 13 8 13 8 13 7 13 6 13 6"/>
<path d="M0 409l13-7 13-7 13-6 13-7 13-7 13-6 13-8 13-9 13-10 13-11 13-11 13-12 13-14 13-17 13-17 13-15 13-12 13-9 13-5 13-2 13 3 13 6 13 10 13 13 13 16 13 18 13 18 13 16 13 15 13 20 13 23 13 24 13 20 13 14 13 9 13 7 13 6 13 6 13 6 14 5 13 7 13 8 13 8 13 7 13 6 13 5 13 1 13-6 13-17 13-26 13-32 13-34 13-33 13-30 13-27 13-23 13-19 13-13 13-10 13-4 13 0 13 5 13 9 13 14 13 17 13 21 13 23 13 22 13 18 13 15 13 13 13 12 13 11 13 9 13 8 13 8 13 8 13 9 13 8 13 9"/>
<path d="M0 378l13-4 13-5 13-5 13-5 13-6 13-6 13-7 13-10 13-11 13-12 13-11 13-13 13-14 13-17 13-17 13-15 13-13 13-9 13-7 13-2 13 1 13 4 13 8 13 11 13 15 13 16 13 18 13 16 13 16 13 17 13 17 13 17 13 16 13 13 13 11 13 11 13 11 13 11 13 10 14 9 13 10 13 10 13 10 13 9 13 8 13 5 13 2 13-6 13-18 13-29 13-34 13-36 13-33 13-30 13-25 13-20 13-15 13-10 13-5 13 0 13 5 13 11 13 14 13 18 13 20 13 18 13 13 13 7 13 7 13 9 13 12 13 14 13 13 13 11 13 10 13 9 13 9 13 9 13 9 13 9"/>
<path d="M0 502l13-5 13-7 13-8 13-8 13-8 13-10 13-13 13-18 13-21 13-24 13-24 13-25 13-25 13-25 13-22 13-18 13-15 13-11 13-6 13-3 13 2 13 5 13 10 13 13 13 18 13 21 13 25 13 28 13 30 13 29 13 27 13 23 13 17 13 13 13 11 13 12 13 12 13 11 13 10 14 7 13 6 13 6 13 6 13 4 13 4 13 2 13-4 13-18 13-36 13-43 13-42 13-39 13-36 13-30 13-26 13-21 13-16 13-10 13-6 13 0 13 5 13 10 13 15 13 20 13 24 13 28 13 29 13 26 13 19 13 13 13 12 13 11 13 11 13 10 13 10 13 10 13 11 13 11 13 12 13 13"/>
<path d="M0 501l13-13 13-12 13-12 13-11 13-10 13-9 13-9 13-11 13-15 13-18 13-24 13-25 13-26 13-25 13-21 13-19 13-15 13-11 13-7 13-4 13 1 13 3 13 8 13 12 13 15 13 18 13 22 13 24 13 26 13 30 13 33 13 34 13 32 13 22 13 13 13 7 13 6 13 4 13 4 14 4 13 3 13 4 13 4 13 4 13 3 13 1 13-2 13-13 13-29 13-39 13-39 13-37 13-35 13-31 13-26 13-22 13-17 13-12 13-8 13-2 13 2 13 7 13 11 13 16 13 20 13 24 13 25 13 23 13 19 13 19 13 19 13 19 13 16 13 11 13 8 13 8 13 7 13 6 13 5 13 5"/>
<path d="M0 497l13-28 13-26 13-24 13-19 13-15 13-9 13-5 13-6 13-5 13-5 13-8 13-12 13-17 13-20 13-21 13-19 13-15 13-13 13-8 13-4 13 0 13 4 13 8 13 12 13 16 13 19 13 21 13 23 13 22 13 21 13 20 13 18 13 16 13 15 13 14 13 16 13 16 13 15 13 12 14 9 13 5 13 5 13 4 13 4 13 3 13 1 13-2 13-14 13-30 13-38 13-39 13-36 13-33 13-30 13-25 13-20 13-16 13-10 13-6 13-2 13 4 13 9 13 13 13 17 13 21 13 22 13 22 13 16 13 14 13 14 13 16 13 16 13 16 13 13 13 10 13 10 13 9 13 9 13 8 13 8"/>
<path d="M0 439l13-7 13-8 13-7 13-7 13-7 13-8 13-8 13-10 13-11 13-14 13-17 13-19 13-22 13-22 13-20 13-18 13-14 13-11 13-8 13-3 13 0 13 3 13 8 13 10 13 15 13 16 13 19 13 20 13 20 13 23 13 26 13 26 13 24 13 16 13 10 13 8 13 6 13 7 13 6 14 6 13 8 13 8 13 9 13 9 13 7 13 5 13 2 13-6 13-18 13-29 13-33 13-34 13-34 13-32 13-28 13-24 13-19 13-14 13-9 13-4 13 1 13 6 13 11 13 16 13 20 13 22 13 21 13 18 13 14 13 14 13 15 13 16 13 14 13 10 13 8 13 7 13 7 13 5 13 5 13 5"/>
<path d="M0 428l13-3 13-5 13-5 13-5 13-6 13-7 13-10 13-14 13-16 13-19 13-19 13-20 13-21 13-21 13-19 13-16 13-13 13-9 13-5 13-1 13 2 13 7 13 10 13 14 13 17 13 20 13 23 13 23 13 23 13 27 13 30 13 29 13 24 13 15 13 7 13 4 13 4 13 3 13 4 14 4 13 7 13 8 13 10 13 9 13 8 13 6 13 0 13-12 13-29 13-37 13-38 13-37 13-33 13-31 13-26 13-22 13-17 13-13 13-8 13-4 13 1 13 6 13 10 13 15 13 19 13 21 13 23 13 22 13 18 13 16 13 16 13 15 13 14 13 13 13 11 13 12 13 12 13 12 13 13 13 13"/>
<path d="M0 405l13-3 13-3 13-5 13-6 13-6 13-7 13-10 13-14 13-17 13-17 13-15 13-14 13-15 13-19 13-19 13-17 13-15 13-11 13-7 13-3 13 1 13 5 13 8 13 13 13 17 13 19 13 21 13 21 13 20 13 21 13 23 13 21 13 20 13 15 13 13 13 12 13 11 13 10 13 9 14 8 13 7 13 7 13 7 13 6 13 5 13 3 13 0 13-9 13-23 13-31 13-35 13-34 13-32 13-29 13-25 13-20 13-16 13-12 13-7 13-2 13 2 13 7 13 11 13 16 13 19 13 22 13 22 13 19 13 17 13 17 13 17 13 16 13 14 13 8 13 4 13 5 13 3 13 3 13 2 13 0"/>
<path d="M0 428l13-23 13-22 13-19 13-17 13-12 13-9 13-6 13-5 13-6 13-5 13-7 13-9 13-13 13-16 13-17 13-16 13-13 13-10 13-6 13-3 13 1 13 5 13 8 13 11 13 15 13 17 13 17 13 16 13 16 13 17 13 20 13 20 13 19 13 16 13 15 13 16 13 15 13 15 13 13 14 10 13 10 13 9 13 8 13 8 13 6 13 4 13 0 13-11 13-27 13-37 13-39 13-38 13-34 13-30 13-25 13-21 13-15 13-10 13-5 13 0 13 6 13 10 13 15 13 20 13 22 13 22 13 18 13 11 13 7 13 8 13 10 13 11 13 10 13 10 13 9 13 9 13 10 13 9 13 10 13 11"/>
<path d="M0 541l13-13 13-14 13-14 13-14 13-15 13-14 13-18 13-21 13-22 13-23 13-21 13-20 13-23 13-23 13-21 13-20 13-15 13-13 13-8 13-5 13-1 13 2 13 7 13 10 13 14 13 18 13 21 13 23 13 27 13 28 13 30 13 30 13 26 13 20 13 15 13 13 13 11 13 10 13 8 14 6 13 4 13 5 13 4 13 3 13 3 13 1 13-1 13-12 13-28 13-39 13-41 13-40 13-37 13-32 13-28 13-23 13-18 13-12 13-8 13-3 13 3 13 8 13 12 13 18 13 22 13 26 13 28 13 28 13 22 13 18 13 16 13 14 13 13 13 11 13 10 13 10 13 11 13 11 13 11 13 11"/>
<path d="M0 381l13-7 13-7 13-6 13-7 13-6 13-5 13-7 13-6 13-7 13-7 13-5 13-6 13-7 13-11 13-13 13-14 13-13 13-10 13-8 13-5 13-1 13 2 13 5 13 9 13 12 13 15 13 17 13 17 13 16 13 16 13 13 13 13 13 11 13 9 13 10 13 11 13 12 13 12 13 11 14 10 13 11 13 11 13 11 13 10 13 9 13 6 13 2 13-7 13-19 13-27 13-30 13-28 13-29 13-29 13-26 13-23 13-18 13-15 13-9 13-5 13 0 13 4 13 8 13 13 13 17 13 20 13 21 13 20 13 16 13 15 13 14 13 13 13 12 13 9 13 7 13 8 13 6 13 7 13 6 13 6"/>
<path d="M0 511l13-14 13-13 13-12 13-11 13-9 13-8 13-8 13-9 13-12 13-18 13-24 13-26 13-28 13-25 13-22 13-18 13-15 13-11 13-6 13-3 13 2 13 5 13 10 13 13 13 17 13 21 13 23 13 24 13 26 13 32 13 36 13 37 13 32 13 18 13 4 13 2 13 1 13 1 13 1 14 1 13 3 13 5 13 6 13 6 13 6 13 3 13-2 13-17 13-34 13-41 13-40 13-38 13-35 13-30 13-25 13-21 13-16 13-11 13-6 13-2 13 4 13 8 13 14 13 18 13 22 13 25 13 27 13 25 13 20 13 18 13 18 13 17 13 16 13 13 13 11 13 11 13 10 13 11 13 10 13 10"/>
<path d="M0 509l13-23 13-21 13-20 13-16 13-13 13-9 13-7 13-6 13-8 13-10 13-16 13-21 13-25 13-24 13-23 13-19 13-17 13-12 13-9 13-5 13-1 13 3 13 6 13 11 13 14 13 17 13 20 13 21 13 23 13 28 13 32 13 34 13 30 13 20 13 10 13 6 13 5 13 3 13 4 14 5 13 6 13 8 13 9 13 9 13 7 13 4 13-3 13-20 13-35 13-41 13-41 13-37 13-33 13-29 13-24 13-20 13-15 13-9 13-6 13 0 13 5 13 9 13 14 13 18 13 22 13 24 13 25 13 20 13 17 13 16 13 18 13 18 13 17 13 14 13 11 13 10 13 11 13 9 13 9 13 8"/>
</g>
</g></g>
<rect x="485.3" y="173.6" width="5.5" height="93.8" fill="url(#jet)"/>
<text class="c" x="492.1" y="264.47">2</text><text class="c" x="492.1" y="256.32">4</text><text class="c" x="492.1" y="248.16">6</text><text class="c" x="492.1" y="240">8</text><text class="c" x="492.1" y="231.85">10</text><text class="c" x="492.1" y="223.69">12</text><text class="c" x="492.1" y="215.53">14</text><text class="c" x="492.1" y="207.38">16</text><text class="c" x="492.1" y="199.22">18</text><text class="c" x="492.1" y="191.06">20</text><text class="c" x="492.1" y="182.91">22</text>
<text class="c" text-anchor="middle" transform="translate(501 220.5) rotate(-90)">Density(%)</text>
</g>
<g>
<text class="t" x="119.22" y="303.15">Persistence spectrum</text>
<text class="a" x="119.22" y="409.25">Frequency (Hz)</text>
<text class="a" transform="translate(55.9 351.95) rotate(-90)">Power Spectrum (dB)</text>
<text class="k" text-anchor="middle" x="66.7" y="404.35">0</text><text class="k" text-anchor="middle" x="92.71" y="404.35">50</text><text class="k" text-anchor="middle" x="118.72" y="404.35">100</text><text class="k" text-anchor="middle" x="144.74" y="404.35">150</text><text class="k" text-anchor="middle" x="170.75" y="404.35">200</text>
<text class="k" text-anchor="end" x="65.1" y="306.25">0</text><text class="k" text-anchor="end" x="65.1" y="315.63">-10</text><text class="k" text-anchor="end" x="65.1" y="325.01">-20</text><text class="k" text-anchor="end" x="65.1" y="334.39">-30</text><text class="k" text-anchor="end" x="65.1" y="343.77">-40</text><text class="k" text-anchor="end" x="65.1" y="353.15">-50</text><text class="k" text-anchor="end" x="65.1" y="362.53">-60</text><text class="k" text-anchor="end" x="65.1" y="371.91">-70</text><text class="k" text-anchor="end" x="65.1" y="381.29">-80</text><text class="k" text-anchor="end" x="65.1" y="390.67">-90</text><text class="k" text-anchor="end" x="65.1" y="400.05">-100</text>
<rect x="66.7" y="305.05" width="104.05" height="93.8" fill="#000082"/><g transform="translate(66.7 305.05)" filter="url(#fd)"><rect width="104.05" height="93.8" fill="#000"/><g transform="scale(.1)" class="cv">
<linearGradient id="g14" gradientUnits="userSpaceOnUse" x1="0" y1="0" x2="1040.5" y2="0"><stop offset="0" stop-color="#fff" stop-opacity="0.011"/><stop offset="0.04" stop-color="#fff" stop-opacity="0.011"/><stop offset="0.08" stop-color="#fff" stop-opacity="0.011"/><stop offset="0.14" stop-color="#fff" stop-opacity="0.016"/><stop offset="0.18" stop-color="#fff" stop-opacity="0.022"/><stop offset="0.21" stop-color="#fff" stop-opacity="0.028"/><stop offset="0.29" stop-color="#fff" stop-opacity="0.028"/><stop offset="0.32" stop-color="#fff" stop-opacity="0.022"/><stop offset="0.36" stop-color="#fff" stop-opacity="0.016"/><stop offset="0.41" stop-color="#fff" stop-opacity="0.011"/><stop offset="0.45" stop-color="#fff" stop-opacity="0.011"/><stop offset="0.56" stop-color="#fff" stop-opacity="0.011"/><stop offset="0.59" stop-color="#fff" stop-opacity="0.004"/><stop offset="0.64" stop-color="#fff" stop-opacity="0.005"/><stop offset="0.68" stop-color="#fff" stop-opacity="0.007"/><stop offset="0.71" stop-color="#fff" stop-opacity="0.008"/><stop offset="0.79" stop-color="#fff" stop-opacity="0.008"/><stop offset="0.82" stop-color="#fff" stop-opacity="0.007"/><stop offset="0.86" stop-color="#fff" stop-opacity="0.005"/><stop offset="0.91" stop-color="#fff" stop-opacity="0.004"/><stop offset="0.94" stop-color="#fff" stop-opacity="0.011"/><stop offset="1" stop-color="#fff" stop-opacity="0.011"/></linearGradient>
<g stroke-width="22" stroke="url(#g14)">
<path d="M0 530l26-8 26-7 26-5 26-18 26-53 26-63 26-51 26-33 26-14 26 3 26 22 26 39 26 56 26 61 26 35 26 6 26 1 26 3 26 3 26 1 26-1 26-2 26-4 26-11 26-50 26-72 26-63 26-45 26-28 26-10 26 9 26 26 26 43 26 61 26 74 26 58 26 14 26-4 26-7 26-7"/>
<path d="M0 475l26 15 26 13 26 4 26-19 26-57 26-65 26-54 26-38 26-22 26-5 26 10 26 27 26 43 26 58 26 66 26 43 26 9 26 0 26-1 26-1 26-1 26-1 26-2 26-4 26-32 26-68 26-67 26-50 26-32 26-14 26 5 26 23 26 42 26 59 26 70 26 47 26 10 26 8 26 11 26 12"/>
<path d="M0 546l26-4 26-4 26-5 26-15 26-53 26-68 26-57 26-39 26-21 26-3 26 15 26 34 26 50 26 64 26 50 26 13 26 0 26-2 26-1 26 0 26 2 26 4 26 5 26-1 26-34 26-74 26-68 26-51 26-31 26-11 26 9 26 29 26 49 26 67 26 75 26 42 26 6 26 3 26 3 26 3"/>
<path d="M0 532l26-16 26-16 26-6 26-6 26-35 26-66 26-61 26-44 26-27 26-9 26 9 26 27 26 45 26 61 26 71 26 48 26 8 26-7 26-9 26-4 26 3 26 5 26 6 26-4 26-48 26-77 26-67 26-51 26-33 26-16 26 2 26 20 26 37 26 55 26 71 26 78 26 46 26-1 26-12 26-12"/>
<path d="M0 534l26-14 26-12 26-6 26-4 26-27 26-57 26-57 26-43 26-27 26-11 26 5 26 21 26 38 26 53 26 63 26 47 26 12 26-6 26-8 26-4 26 1 26 1 26 0 26-9 26-45 26-66 26-58 26-43 26-27 26-10 26 5 26 23 26 38 26 54 26 66 26 57 26 19 26 1 26 0 26-1"/>
<path d="M0 504l26 6 26 4 26-1 26-17 26-49 26-57 26-47 26-32 26-17 26-2 26 13 26 29 26 42 26 53 26 43 26 15 26 3 26 4 26 6 26 2 26-2 26-4 26-4 26-3 26-17 26-60 26-71 26-56 26-38 26-18 26 0 26 20 26 39 26 57 26 74 26 69 26 23 26 0 26-3 26-4"/>
<path d="M0 498l26 8 26 7 26-2 26-39 26-77 26-74 26-57 26-39 26-22 26-4 26 14 26 31 26 49 26 66 26 74 26 46 26 8 26 6 26 7 26 3 26-1 26-2 26-3 26-7 26-39 26-67 26-63 26-47 26-31 26-15 26 1 26 18 26 35 26 50 26 65 26 67 26 33 26 6 26 1 26 1"/>
<path d="M0 499l26 0 26 1 26-1 26-13 26-47 26-63 26-50 26-33 26-16 26 2 26 21 26 38 26 55 26 66 26 47 26 11 26 0 26-3 26-5 26-2 26-1 26-1 26-4 26-31 26-64 26-64 26-49 26-34 26-16 26-1 26 17 26 33 26 49 26 64 26 68 26 39 26 7 26 4 26 3 26 3"/>
<path d="M0 495l26 17 26 14 26 6 26-14 26-54 26-70 26-60 26-43 26-26 26-10 26 8 26 24 26 41 26 57 26 65 26 44 26 9 26 1 26 1 26 0 26 2 26 4 26 2 26-12 26-64 26-80 26-65 26-44 26-24 26-4 26 17 26 37 26 58 26 75 26 71 26 22 26 3 26 3 26 4 26 5"/>
<path d="M0 510l26-8 26-8 26-8 26-34 26-62 26-61 26-48 26-34 26-20 26-4 26 10 26 25 26 40 26 54 26 67 26 67 26 32 26-1 26-8 26-5 26-2 26-2 26-2 26-9 26-43 26-69 26-61 26-47 26-30 26-13 26 3 26 21 26 37 26 53 26 68 26 65 26 28 26 3 26-1 26-1"/>
<path d="M0 466l26 6 26 5 26-13 26-56 26-71 26-60 26-45 26-29 26-14 26 2 26 18 26 33 26 49 26 64 26 73 26 51 26 11 26-4 26-4 26-3 26 4 26 7 26 6 26-14 26-64 26-75 26-60 26-41 26-22 26-3 26 16 26 35 26 54 26 72 26 76 26 37 26 4 26 0 26 0 26 0"/>
<path d="M0 530l26-6 26-6 26-3 26-14 26-55 26-72 26-60 26-43 26-27 26-8 26 9 26 26 26 44 26 61 26 72 26 57 26 14 26 1 26-1 26-1 26-4 26-7 26-6 26-9 26-42 26-72 26-65 26-46 26-27 26-8 26 12 26 32 26 51 26 70 26 78 26 43 26 4 26-7 26-10 26-11"/>
<path d="M0 464l26 9 26 8 26 4 26-8 26-45 26-67 26-58 26-42 26-25 26-9 26 8 26 25 26 41 26 57 26 69 26 54 26 13 26-8 26-11 26-5 26 5 26 12 26 11 26-10 26-64 26-78 26-63 26-44 26-26 26-6 26 12 26 31 26 51 26 67 26 71 26 34 26 4 26 0 26 0 26 1"/>
<path d="M0 507l26-10 26-9 26-6 26-21 26-54 26-63 26-53 26-38 26-24 26-9 26 6 26 20 26 34 26 49 26 62 26 61 26 31 26 8 26 4 26 1 26-2 26-5 26-5 26-7 26-32 26-67 26-61 26-44 26-24 26-4 26 16 26 36 26 55 26 67 26 49 26 10 26 2 26 8 26 11 26 12"/>
<path d="M0 476l26 1 26 1 26-1 26-16 26-57 26-67 26-54 26-37 26-20 26-2 26 15 26 33 26 50 26 66 26 70 26 35 26 5 26-4 26-5 26-2 26 1 26 3 26 1 26-20 26-66 26-72 26-58 26-39 26-21 26-3 26 15 26 33 26 51 26 69 26 78 26 50 26 8 26 0 26-1 26-1"/>
<path d="M0 475l26 7 26 6 26 1 26-10 26-41 26-58 26-51 26-38 26-22 26-7 26 9 26 23 26 39 26 52 26 58 26 37 26 10 26 6 26 7 26 3 26-1 26-4 26-4 26-13 26-52 26-70 26-59 26-41 26-23 26-4 26 14 26 32 26 51 26 66 26 69 26 32 26 5 26 2 26 3 26 3"/>
<path d="M0 513l26 4 26 3 26-8 26-42 26-66 26-58 26-46 26-30 26-15 26 0 26 14 26 30 26 45 26 58 26 64 26 42 26 8 26-2 26-2 26-1 26 0 26 1 26-3 26-26 26-63 26-65 26-52 26-36 26-20 26-4 26 13 26 29 26 45 26 60 26 65 26 40 26 5 26-3 26-5 26-5"/>
<path d="M0 481l26 11 26 9 26 1 26-19 26-52 26-60 26-51 26-36 26-22 26-8 26 8 26 22 26 36 26 50 26 58 26 45 26 15 26 12 26 11 26 5 26-4 26-11 26-10 26-12 26-37 26-67 26-63 26-48 26-33 26-16 26 0 26 16 26 33 26 48 26 64 26 72 26 51 26 13 26 3 26 2"/>
<path d="M0 532l26-8 26-12 26-35 26-66 26-65 26-54 26-40 26-25 26-10 26 3 26 19 26 32 26 47 26 61 26 68 26 51 26 11 26-6 26-7 26-4 26 1 26 2 26 2 26-6 26-47 26-77 26-68 26-49 26-29 26-10 26 9 26 28 26 48 26 67 26 81 26 65 26 16 26 2 26 1 26 1"/>
<path d="M0 539l26-2 26-2 26-4 26-24 26-67 26-74 26-59 26-42 26-25 26-8 26 10 26 28 26 45 26 62 26 72 26 47 26 6 26-5 26-5 26-3 26 2 26 6 26 4 26-8 26-51 26-72 26-62 26-47 26-29 26-13 26 4 26 22 26 38 26 54 26 69 26 63 26 26 26 11 26 14 26 13"/>
<path d="M0 530l26 2 26 0 26-9 26-52 26-79 26-69 26-52 26-35 26-17 26 1 26 19 26 36 26 54 26 70 26 71 26 30 26 2 26-2 26-1 26-1 26 2 26 4 26 5 26 0 26-28 26-69 26-67 26-51 26-34 26-15 26 3 26 21 26 40 26 57 26 72 26 67 26 24 26 5 26 3 26 2"/>
<path d="M0 531l26-14 26-13 26-9 26-27 26-58 26-59 26-46 26-29 26-13 26 5 26 20 26 38 26 53 26 65 26 53 26 15 26 2 26-1 26 0 26 0 26 1 26 2 26 1 26-4 26-39 26-73 26-66 26-50 26-30 26-12 26 7 26 27 26 45 26 62 26 69 26 37 26 7 26 6 26 9 26 9"/>
<path d="M0 536l26-7 26-7 26-7 26-21 26-55 26-60 26-47 26-32 26-14 26 2 26 19 26 35 26 51 26 60 26 42 26 11 26 2 26 4 26 6 26 2 26 0 26-1 26-4 26-27 26-65 26-66 26-53 26-37 26-20 26-4 26 13 26 29 26 46 26 60 26 65 26 36 26 7 26 1 26 1 26 1"/>
<path d="M0 483l26 9 26 7 26 3 26-18 26-55 26-62 26-48 26-31 26-13 26 4 26 21 26 39 26 56 26 66 26 48 26 12 26 0 26-2 26-4 26-3 26-4 26-5 26-4 26-10 26-49 26-73 26-63 26-44 26-26 26-6 26 13 26 32 26 51 26 69 26 77 26 43 26 6 26-1 26-1 26-2"/>
<path d="M0 524l26-4 26-5 26-21 26-60 26-71 26-59 26-45 26-29 26-13 26 2 26 17 26 33 26 48 26 62 26 70 26 45 26 10 26 5 26 6 26 2 26-1 26-2 26-5 26-23 26-65 26-72 26-57 26-40 26-23 26-5 26 12 26 31 26 47 26 65 26 75 26 54 26 11 26 0 26 0 26-1"/>
<path d="M0 484l26 0 26-1 26 0 26-5 26-31 26-61 26-56 26-42 26-26 26-8 26 9 26 26 26 43 26 59 26 67 26 44 26 9 26 0 26-2 26-2 26-2 26-4 26-4 26-6 26-38 26-72 26-64 26-47 26-26 26-7 26 13 26 33 26 52 26 69 26 66 26 22 26 1 26-3 26-6 26-6"/>
<path d="M0 544l26-3 26-3 26-3 26-7 26-31 26-61 26-59 26-45 26-28 26-11 26 5 26 23 26 39 26 55 26 58 26 32 26 6 26 1 26 0 26 1 26 4 26 6 26 5 26-5 26-50 26-77 26-67 26-51 26-32 26-14 26 5 26 23 26 41 26 59 26 73 26 64 26 19 26 5 26 6 26 6"/>
<path d="M0 513l26 11 26 9 26-5 26-50 26-76 26-66 26-49 26-31 26-13 26 4 26 22 26 39 26 57 26 72 26 68 26 25 26-2 26-11 26-14 26-6 26 5 26 9 26 6 26-35 26-75 26-71 26-57 26-40 26-24 26-7 26 10 26 25 26 43 26 58 26 72 26 69 26 28 26 7 26 6 26 7"/>
<path d="M0 494l26 3 26 3 26-7 26-44 26-72 26-63 26-47 26-30 26-12 26 5 26 23 26 40 26 57 26 70 26 63 26 21 26 1 26-1 26-1 26-1 26 2 26 3 26 2 26-22 26-67 26-71 26-57 26-39 26-22 26-5 26 13 26 31 26 48 26 65 26 74 26 49 26 11 26 3 26 3 26 3"/>
<path d="M0 478l26 9 26 7 26 1 26-17 26-51 26-60 26-50 26-35 26-19 26-5 26 12 26 26 26 41 26 55 26 56 26 30 26 6 26 4 26 4 26 2 26 1 26 0 26-1 26-18 26-58 26-69 26-56 26-40 26-22 26-6 26 11 26 29 26 45 26 61 26 66 26 38 26 7 26 1 26 1 26 2"/>
<path d="M0 498l26-3 26-3 26-3 26-13 26-43 26-54 26-45 26-29 26-12 26 3 26 21 26 37 26 51 26 56 26 35 26 9 26 2 26 2 26 2 26 1 26-2 26-6 26-6 26-16 26-55 26-72 26-59 26-41 26-21 26-3 26 17 26 35 26 55 26 69 26 64 26 20 26 1 26-1 26-2 26-1"/>
<path d="M0 468l26 12 26 10 26 0 26-24 26-55 26-58 26-47 26-32 26-18 26-3 26 11 26 26 26 40 26 53 26 59 26 39 26 9 26 3 26 1 26 1 26-1 26-3 26-2 26-3 26-21 26-62 26-68 26-51 26-32 26-13 26 6 26 26 26 45 26 62 26 69 26 35 26 7 26 7 26 11 26 11"/>
<path d="M0 544l26-12 26-12 26-6 26-13 26-43 26-58 26-51 26-37 26-22 26-8 26 7 26 22 26 36 26 50 26 59 26 48 26 14 26-3 26-6 26-3 26 3 26 7 26 6 26-5 26-51 26-79 26-69 26-53 26-35 26-17 26 0 26 18 26 35 26 52 26 69 26 75 26 39 26 5 26-1 26-1"/>
<path d="M0 526l26-4 26-5 26-10 26-43 26-75 26-71 26-55 26-38 26-21 26-4 26 12 26 30 26 46 26 62 26 74 26 54 26 10 26-1 26-2 26 0 26 0 26 2 26 1 26-3 26-30 26-62 26-60 26-47 26-30 26-13 26 3 26 20 26 37 26 52 26 65 26 56 26 21 26 6 26 6 26 5"/>
</g>
<linearGradient id="g15" gradientUnits="userSpaceOnUse" x1="0" y1="0" x2="1040.5" y2="0"><stop offset="0" stop-color="#fff" stop-opacity="0.052"/><stop offset="0.04" stop-color="#fff" stop-opacity="0.052"/><stop offset="0.08" stop-color="#fff" stop-opacity="0.039"/><stop offset="0.14" stop-color="#fff" stop-opacity="0.055"/><stop offset="0.18" stop-color="#fff" stop-opacity="0.078"/><stop offset="0.21" stop-color="#fff" stop-opacity="0.091"/><stop offset="0.29" stop-color="#fff" stop-opacity="0.091"/><stop offset="0.32" stop-color="#fff" stop-opacity="0.078"/><stop offset="0.36" stop-color="#fff" stop-opacity="0.055"/><stop offset="0.41" stop-color="#fff" stop-opacity="0.039"/><stop offset="0.45" stop-color="#fff" stop-opacity="0.052"/><stop offset="0.56" stop-color="#fff" stop-opacity="0.052"/><stop offset="0.59" stop-color="#fff" stop-opacity="0.039"/><stop offset="0.64" stop-color="#fff" stop-opacity="0.055"/><stop offset="0.68" stop-color="#fff" stop-opacity="0.078"/><stop offset="0.71" stop-color="#fff" stop-opacity="0.104"/><stop offset="0.79" stop-color="#fff" stop-opacity="0.104"/><stop offset="0.82" stop-color="#fff" stop-opacity="0.078"/><stop offset="0.86" stop-color="#fff" stop-opacity="0.055"/><stop offset="0.91" stop-color="#fff" stop-opacity="0.039"/><stop offset="0.94" stop-color="#fff" stop-opacity="0.052"/><stop offset="1" stop-color="#fff" stop-opacity="0.052"/></linearGradient>
<g stroke-width="6.2" stroke="url(#g15)">
<path d="M0 502l13 0 13 0 13 0 13 0 13-1 13-3 13-10 13-19 13-30 13-33 13-33 13-30 13-27 13-23 13-19 13-15 13-12 13-7 13-3 13 1 13 4 13 9 13 13 13 16 13 21 13 24 13 28 13 32 13 34 13 33 13 28 13 18 13 7 13 2 13 0 13-1 13-1 13-1 13 0 13-1 13 1 13 1 13 2 13 2 13 2 13 1 13-1 13-7 13-20 13-34 13-40 13-39 13-36 13-31 13-27 13-22 13-18 13-13 13-8 13-3 13 1 13 5 13 11 13 15 13 20 13 24 13 29 13 34 13 37 13 40 13 36 13 26 13 12 13 4 13 0 13 0 13 0 13-1 13 0 13 0"/>
<path d="M0 512l13-2 13-2 13-2 13-2 13-2 13-3 13-8 13-19 13-28 13-34 13-34 13-31 13-28 13-24 13-19 13-16 13-12 13-7 13-3 13 0 13 5 13 9 13 14 13 17 13 21 13 25 13 30 13 32 13 35 13 33 13 26 13 15 13 6 13 2 13 0 13 0 13 0 13 1 13 0 13 0 13 0 13 1 13 2 13 1 13 1 13 1 13-5 13-14 13-30 13-40 13-40 13-38 13-33 13-29 13-25 13-20 13-15 13-10 13-6 13-1 13 3 13 8 13 13 13 18 13 22 13 27 13 31 13 35 13 39 13 40 13 34 13 20 13 8 13 2 13 1 13 0 13 0 13-1 13 0 13 0"/>
<path d="M0 522l13-3 13-4 13-3 13-3 13-3 13-5 13-12 13-23 13-31 13-34 13-33 13-30 13-26 13-23 13-19 13-15 13-10 13-7 13-3 13 1 13 4 13 9 13 13 13 17 13 20 13 25 13 28 13 31 13 35 13 35 13 31 13 21 13 10 13 3 13-1 13-3 13-2 13-3 13-1 13-1 13 0 13 1 13 2 13 1 13 2 13 0 13-2 13-10 13-25 13-37 13-40 13-38 13-35 13-30 13-25 13-21 13-16 13-11 13-6 13-2 13 3 13 8 13 13 13 17 13 22 13 27 13 32 13 36 13 39 13 40 13 33 13 20 13 8 13 2 13 1 13 0 13 0 13 0 13 0 13 1"/>
<path d="M0 500l13 0 13 1 13 0 13 0 13-1 13-3 13-9 13-21 13-30 13-33 13-33 13-30 13-26 13-22 13-19 13-14 13-11 13-6 13-3 13 2 13 6 13 9 13 14 13 18 13 22 13 25 13 30 13 32 13 35 13 34 13 26 13 16 13 6 13 1 13-1 13-2 13-2 13-2 13-2 13-1 13 0 13 0 13 0 13 0 13-1 13-1 13-4 13-12 13-26 13-37 13-40 13-37 13-34 13-29 13-25 13-19 13-16 13-10 13-6 13-1 13 3 13 8 13 13 13 17 13 23 13 26 13 32 13 35 13 39 13 40 13 35 13 22 13 9 13 2 13 0 13-1 13-1 13-1 13-1 13-1"/>
<path d="M0 515l13 2 13 1 13 2 13 1 13 0 13-2 13-7 13-18 13-30 13-37 13-36 13-34 13-30 13-25 13-22 13-17 13-13 13-9 13-4 13-1 13 5 13 8 13 13 13 17 13 21 13 26 13 30 13 33 13 36 13 37 13 31 13 20 13 8 13 2 13 0 13 0 13-1 13-1 13-1 13 0 13-1 13 0 13-1 13-1 13 0 13-2 13-2 13-10 13-23 13-36 13-41 13-39 13-35 13-31 13-27 13-21 13-17 13-12 13-7 13-3 13 3 13 7 13 12 13 17 13 21 13 26 13 31 13 36 13 39 13 41 13 36 13 23 13 10 13 2 13 0 13-1 13-1 13-1 13-1 13-1"/>
<path d="M0 519l13-1 13-1 13-1 13-1 13-1 13-3 13-9 13-20 13-31 13-36 13-35 13-33 13-29 13-24 13-21 13-16 13-12 13-8 13-4 13 0 13 5 13 9 13 13 13 17 13 22 13 25 13 30 13 33 13 36 13 36 13 30 13 19 13 7 13 2 13 0 13 0 13-1 13-1 13-1 13 0 13 0 13 0 13 0 13 0 13 0 13-1 13-3 13-10 13-23 13-36 13-39 13-38 13-35 13-30 13-26 13-21 13-16 13-12 13-7 13-3 13 3 13 6 13 12 13 16 13 20 13 26 13 30 13 34 13 38 13 40 13 37 13 27 13 12 13 3 13 0 13-1 13-2 13-2 13-2 13-2"/>
<path d="M0 510l13-1 13-1 13 0 13-1 13-1 13-1 13-5 13-12 13-23 13-33 13-35 13-33 13-30 13-26 13-22 13-17 13-14 13-9 13-4 13-1 13 4 13 8 13 12 13 17 13 21 13 25 13 29 13 33 13 35 13 36 13 29 13 18 13 7 13 2 13 0 13 0 13 0 13 0 13 0 13 0 13 0 13 0 13-1 13-1 13-1 13-1 13-5 13-14 13-27 13-37 13-40 13-37 13-33 13-29 13-25 13-20 13-16 13-11 13-6 13-2 13 2 13 7 13 12 13 16 13 21 13 25 13 30 13 34 13 38 13 39 13 38 13 27 13 13 13 4 13 0 13-1 13-2 13-1 13-2 13-2"/>
<path d="M0 508l13-1 13-2 13-1 13-2 13-1 13-1 13-5 13-12 13-24 13-32 13-35 13-33 13-29 13-26 13-21 13-17 13-13 13-9 13-4 13 0 13 4 13 9 13 13 13 17 13 21 13 25 13 30 13 33 13 35 13 33 13 25 13 14 13 5 13 3 13 1 13 2 13 2 13 1 13 1 13 0 13 0 13-1 13-1 13-1 13-2 13-1 13-3 13-8 13-19 13-33 13-39 13-38 13-35 13-30 13-26 13-22 13-17 13-12 13-8 13-3 13 2 13 7 13 11 13 15 13 21 13 25 13 30 13 33 13 38 13 40 13 36 13 26 13 11 13 3 13 0 13-2 13-1 13-2 13-2 13-2"/>
<path d="M0 515l13-3 13-3 13-2 13-2 13-2 13-2 13-5 13-14 13-25 13-33 13-34 13-33 13-29 13-26 13-21 13-17 13-13 13-8 13-4 13 0 13 4 13 9 13 13 13 17 13 21 13 26 13 30 13 33 13 35 13 33 13 26 13 15 13 5 13 3 13 1 13 2 13 1 13 1 13 1 13 1 13 0 13 0 13 0 13 0 13 0 13-1 13-4 13-12 13-27 13-38 13-40 13-39 13-34 13-31 13-25 13-21 13-16 13-12 13-7 13-2 13 2 13 7 13 12 13 16 13 22 13 25 13 31 13 34 13 39 13 41 13 38 13 26 13 12 13 4 13 0 13-1 13-1 13-1 13-1 13-1"/>
<path d="M0 503l13 0 13 0 13-1 13 0 13-1 13-1 13-5 13-13 13-25 13-33 13-34 13-33 13-30 13-25 13-21 13-17 13-13 13-9 13-4 13 0 13 4 13 9 13 12 13 18 13 21 13 25 13 30 13 33 13 35 13 34 13 28 13 15 13 6 13 2 13 1 13 0 13 0 13 0 13 1 13 0 13 0 13 1 13 1 13 1 13 0 13-1 13-8 13-22 13-34 13-39 13-39 13-35 13-31 13-28 13-23 13-18 13-14 13-10 13-5 13-1 13 4 13 8 13 12 13 17 13 22 13 25 13 30 13 34 13 37 13 39 13 36 13 25 13 10 13 3 13 1 13-1 13-1 13-1 13-1 13-1"/>
<path d="M0 516l13-1 13-2 13-1 13-1 13-1 13-1 13-5 13-12 13-24 13-33 13-36 13-33 13-30 13-27 13-22 13-18 13-13 13-10 13-5 13-1 13 4 13 7 13 12 13 16 13 21 13 24 13 29 13 33 13 35 13 36 13 32 13 21 13 9 13 3 13 0 13-1 13-1 13-2 13-1 13-1 13-1 13-1 13-1 13 0 13-1 13-2 13-3 13-11 13-25 13-37 13-39 13-39 13-34 13-30 13-26 13-21 13-17 13-11 13-8 13-2 13 1 13 7 13 11 13 16 13 20 13 25 13 30 13 33 13 38 13 40 13 38 13 29 13 14 13 5 13 2 13 2 13 1 13 1 13 2 13 1"/>
<path d="M0 519l13-2 13-2 13-2 13-2 13-2 13-4 13-9 13-21 13-32 13-35 13-35 13-32 13-28 13-24 13-20 13-15 13-12 13-7 13-3 13 1 13 6 13 9 13 14 13 18 13 22 13 27 13 30 13 34 13 36 13 35 13 29 13 16 13 7 13 1 13 1 13 0 13 0 13 1 13 0 13 0 13-1 13 0 13-1 13-2 13-1 13-3 13-7 13-17 13-30 13-38 13-38 13-36 13-33 13-27 13-24 13-19 13-15 13-10 13-5 13-1 13 3 13 8 13 12 13 17 13 21 13 25 13 30 13 34 13 38 13 38 13 34 13 23 13 10 13 3 13 1 13 1 13 2 13 1 13 2 13 1"/>
<path d="M0 507l13 2 13 3 13 2 13 2 13 0 13-3 13-11 13-23 13-33 13-37 13-35 13-32 13-28 13-24 13-20 13-16 13-11 13-8 13-3 13 2 13 5 13 10 13 14 13 19 13 22 13 27 13 31 13 34 13 36 13 35 13 27 13 14 13 6 13 1 13 0 13 0 13 0 13 0 13 0 13 0 13-1 13-1 13-1 13-1 13-1 13-3 13-6 13-16 13-29 13-36 13-38 13-35 13-32 13-27 13-24 13-19 13-14 13-10 13-6 13-2 13 3 13 7 13 12 13 16 13 20 13 24 13 29 13 33 13 36 13 38 13 36 13 26 13 13 13 5 13 2 13 2 13 2 13 1 13 2 13 2"/>
<path d="M0 508l13 1 13 2 13 2 13 1 13 0 13-2 13-8 13-19 13-31 13-35 13-35 13-33 13-28 13-25 13-21 13-16 13-12 13-8 13-4 13 0 13 5 13 9 13 13 13 17 13 21 13 26 13 29 13 33 13 35 13 34 13 27 13 15 13 6 13 2 13 2 13 2 13 1 13 2 13 1 13 1 13 0 13 0 13 0 13 0 13 0 13-1 13-4 13-13 13-28 13-38 13-41 13-39 13-34 13-30 13-26 13-20 13-16 13-12 13-6 13-2 13 3 13 8 13 13 13 17 13 22 13 27 13 32 13 35 13 40 13 40 13 35 13 22 13 9 13 2 13 1 13 0 13 1 13 0 13 1 13 0"/>
</g>
<linearGradient id="g16" gradientUnits="userSpaceOnUse" x1="0" y1="0" x2="1040.5" y2="0"><stop offset="0" stop-color="#fff" stop-opacity="0.11"/><stop offset="0.04" stop-color="#fff" stop-opacity="0.11"/><stop offset="0.08" stop-color="#fff" stop-opacity="0"/><stop offset="0.14" stop-color="#fff" stop-opacity="0"/><stop offset="0.18" stop-color="#fff" stop-opacity="0"/><stop offset="0.21" stop-color="#fff" stop-opacity="0"/><stop offset="0.29" stop-color="#fff" stop-opacity="0"/><stop offset="0.32" stop-color="#fff" stop-opacity="0"/><stop offset="0.36" stop-color="#fff" stop-opacity="0"/><stop offset="0.41" stop-color="#fff" stop-opacity="0"/><stop offset="0.45" stop-color="#fff" stop-opacity="0.11"/><stop offset="0.56" stop-color="#fff" stop-opacity="0.11"/><stop offset="0.59" stop-color="#fff" stop-opacity="0"/><stop offset="0.64" stop-color="#fff" stop-opacity="0"/><stop offset="0.68" stop-color="#fff" stop-opacity="0"/><stop offset="0.71" stop-color="#fff" stop-opacity="0"/><stop offset="0.79" stop-color="#fff" stop-opacity="0"/><stop offset="0.82" stop-color="#fff" stop-opacity="0"/><stop offset="0.86" stop-color="#fff" stop-opacity="0"/><stop offset="0.91" stop-color="#fff" stop-opacity="0"/><stop offset="0.94" stop-color="#fff" stop-opacity="0.11"/><stop offset="1" stop-color="#fff" stop-opacity="0.11"/></linearGradient>
<g stroke-width="9" stroke="url(#g16)">
<path d="M0 528l13-1 13-1 13-1 13-2 13-3 13-6 13-15 13-25 13-32 13-33 13-32 13-28 13-25 13-22 13-17 13-14 13-10 13-7 13-2 13 1 13 5 13 9 13 13 13 17 13 20 13 24 13 27 13 31 13 33 13 33 13 28 13 18 13 8 13 2 13 1 13-1 13 0 13-1 13-1 13 0 13-1 13-1 13-1 13-1 13-1 13-2 13-3 13-11 13-23 13-34 13-37 13-37 13-33 13-28 13-25 13-20 13-15 13-11 13-6 13-2 13 3 13 7 13 12 13 17 13 21 13 25 13 30 13 34 13 37 13 38 13 34 13 21 13 9 13 3 13 1 13 1 13 1 13 0 13 1 13 0"/>
<path d="M0 510l13-2 13-1 13-2 13-1 13-1 13-2 13-5 13-13 13-25 13-32 13-35 13-32 13-29 13-25 13-21 13-16 13-13 13-7 13-4 13 1 13 5 13 9 13 14 13 18 13 22 13 27 13 30 13 34 13 35 13 33 13 25 13 12 13 4 13 1 13 0 13 0 13-1 13 0 13-1 13 0 13-1 13 0 13-1 13 0 13-1 13-1 13-1 13-6 13-16 13-30 13-39 13-40 13-36 13-33 13-27 13-22 13-18 13-13 13-7 13-3 13 3 13 7 13 12 13 17 13 23 13 27 13 32 13 36 13 39 13 39 13 30 13 15 13 5 13 1 13 0 13-1 13-1 13 0 13-1 13-1"/>
<path d="M0 517l13 1 13 0 13 1 13 1 13 0 13-2 13-7 13-17 13-28 13-33 13-34 13-32 13-28 13-24 13-20 13-17 13-12 13-8 13-5 13 0 13 4 13 8 13 11 13 16 13 20 13 24 13 27 13 31 13 34 13 34 13 30 13 20 13 10 13 2 13-1 13-1 13-2 13-2 13-2 13 0 13 0 13 0 13 0 13 0 13 0 13-1 13-2 13-7 13-19 13-32 13-38 13-37 13-34 13-30 13-26 13-21 13-17 13-12 13-7 13-3 13 2 13 7 13 11 13 15 13 21 13 24 13 30 13 33 13 37 13 39 13 36 13 24 13 11 13 2 13 0 13-1 13-2 13-2 13-2 13-1"/>
<path d="M0 506l13 0 13 0 13 0 13-1 13 0 13-1 13-5 13-12 13-23 13-32 13-34 13-33 13-29 13-25 13-21 13-17 13-13 13-9 13-4 13 0 13 4 13 8 13 13 13 17 13 21 13 25 13 28 13 33 13 34 13 33 13 26 13 14 13 5 13 1 13-2 13-2 13-3 13-2 13-2 13-1 13 1 13 0 13 2 13 1 13 1 13 1 13-1 13-9 13-19 13-32 13-36 13-36 13-33 13-29 13-24 13-20 13-16 13-12 13-7 13-2 13 2 13 6 13 11 13 15 13 20 13 24 13 28 13 32 13 36 13 36 13 32 13 21 13 9 13 2 13 1 13 0 13 0 13 0 13 0 13 0"/>
<path d="M0 528l13-2 13-1 13-2 13-1 13-2 13-3 13-9 13-19 13-29 13-33 13-34 13-30 13-28 13-23 13-20 13-15 13-11 13-8 13-3 13 1 13 4 13 9 13 13 13 17 13 20 13 25 13 29 13 32 13 34 13 35 13 29 13 18 13 7 13 2 13-1 13-3 13-3 13-2 13-2 13-1 13 1 13 0 13 1 13 0 13 1 13 0 13-3 13-10 13-24 13-35 13-38 13-37 13-34 13-30 13-25 13-21 13-17 13-12 13-7 13-4 13 2 13 5 13 10 13 15 13 19 13 23 13 28 13 31 13 36 13 38 13 36 13 28 13 15 13 6 13 2 13 3 13 2 13 2 13 3 13 3"/>
<path d="M0 498l13 0 13 1 13 1 13 1 13 0 13-1 13-4 13-11 13-23 13-32 13-34 13-32 13-29 13-25 13-21 13-17 13-13 13-9 13-4 13 0 13 4 13 9 13 12 13 17 13 21 13 25 13 29 13 33 13 34 13 32 13 24 13 13 13 5 13 2 13 1 13 2 13 1 13 1 13 0 13 1 13-1 13-1 13-1 13-1 13-2 13-3 13-6 13-16 13-29 13-37 13-38 13-35 13-31 13-28 13-23 13-19 13-14 13-11 13-6 13-2 13 3 13 7 13 11 13 16 13 20 13 24 13 28 13 32 13 36 13 39 13 37 13 28 13 16 13 5 13 1 13 0 13-1 13 0 13-1 13-1"/>
<path d="M0 512l13 0 13 1 13 0 13 0 13 0 13-2 13-7 13-17 13-28 13-34 13-34 13-31 13-28 13-24 13-19 13-16 13-11 13-7 13-3 13 2 13 6 13 10 13 14 13 18 13 23 13 26 13 31 13 33 13 35 13 33 13 24 13 12 13 5 13 1 13 1 13 0 13 0 13 0 13 1 13 0 13-1 13 0 13 0 13-1 13-1 13-1 13-3 13-10 13-25 13-37 13-41 13-40 13-35 13-31 13-26 13-21 13-17 13-11 13-6 13-1 13 3 13 9 13 14 13 18 13 23 13 29 13 33 13 37 13 41 13 39 13 31 13 15 13 5 13 1 13 1 13 2 13 1 13 2 13 1 13 2"/>
<path d="M0 518l13-1 13 0 13-1 13 0 13-1 13-2 13-6 13-15 13-26 13-33 13-34 13-31 13-29 13-24 13-21 13-16 13-13 13-8 13-4 13 0 13 4 13 9 13 12 13 17 13 21 13 25 13 28 13 32 13 34 13 32 13 25 13 14 13 5 13 1 13 0 13-1 13-1 13-1 13-1 13 0 13 0 13 1 13 2 13 2 13 1 13 1 13-1 13-7 13-21 13-33 13-40 13-38 13-35 13-31 13-27 13-22 13-17 13-13 13-8 13-3 13 1 13 6 13 11 13 15 13 20 13 24 13 29 13 34 13 37 13 39 13 37 13 26 13 12 13 3 13 0 13-1 13-1 13-1 13-1 13-1"/>
<path d="M0 511l13-1 13-1 13 0 13-1 13-2 13-2 13-8 13-18 13-28 13-33 13-32 13-31 13-26 13-23 13-20 13-15 13-11 13-7 13-3 13 1 13 5 13 9 13 13 13 17 13 21 13 25 13 29 13 32 13 33 13 31 13 25 13 13 13 5 13 2 13 1 13 0 13 1 13 0 13 1 13 0 13 1 13 1 13 0 13 1 13 1 13 0 13-2 13-6 13-20 13-34 13-41 13-40 13-37 13-32 13-27 13-23 13-17 13-12 13-8 13-2 13 2 13 8 13 12 13 18 13 22 13 28 13 32 13 36 13 41 13 40 13 33 13 17 13 6 13 1 13-1 13-2 13-2 13-2 13-2 13-2"/>
<path d="M0 508l13 1 13 0 13 1 13 0 13 0 13-4 13-10 13-21 13-30 13-34 13-32 13-30 13-27 13-23 13-19 13-15 13-11 13-7 13-4 13 1 13 4 13 8 13 12 13 16 13 20 13 24 13 27 13 31 13 33 13 33 13 29 13 20 13 9 13 4 13 2 13 1 13 1 13 2 13 0 13 1 13-1 13 0 13 0 13-1 13-1 13-2 13-7 13-17 13-30 13-36 13-37 13-35 13-31 13-27 13-23 13-19 13-15 13-11 13-6 13-2 13 2 13 7 13 10 13 15 13 19 13 23 13 27 13 32 13 34 13 37 13 35 13 26 13 15 13 5 13 3 13 2 13 1 13 2 13 3 13 2"/>
<path d="M0 523l13 0 13 0 13 1 13 0 13 0 13-2 13-6 13-15 13-27 13-35 13-36 13-34 13-30 13-26 13-21 13-17 13-13 13-9 13-4 13 0 13 5 13 9 13 13 13 18 13 22 13 26 13 31 13 33 13 36 13 33 13 25 13 12 13 4 13 0 13 0 13-1 13 0 13-1 13 0 13-1 13 1 13 1 13 2 13 2 13 1 13 2 13-2 13-8 13-22 13-35 13-40 13-39 13-35 13-31 13-26 13-22 13-17 13-12 13-7 13-3 13 2 13 7 13 11 13 16 13 21 13 25 13 30 13 35 13 38 13 40 13 36 13 24 13 11 13 3 13 1 13 1 13 0 13 1 13 1 13 0"/>
<path d="M0 513l13 0 13 0 13 0 13 0 13-1 13-5 13-11 13-22 13-30 13-33 13-31 13-29 13-25 13-22 13-17 13-14 13-10 13-7 13-2 13 2 13 5 13 9 13 14 13 17 13 21 13 24 13 28 13 31 13 33 13 30 13 23 13 12 13 5 13 2 13 1 13 0 13 1 13 0 13 0 13 0 13 0 13 0 13 0 13-1 13 0 13-1 13-1 13-5 13-14 13-28 13-37 13-38 13-36 13-31 13-27 13-23 13-17 13-13 13-8 13-3 13 2 13 6 13 12 13 16 13 20 13 26 13 30 13 35 13 37 13 38 13 32 13 18 13 6 13 2 13 0 13 0 13 0 13-1 13 0 13 0"/>
<path d="M0 525l13-2 13-2 13-2 13-2 13-1 13-3 13-6 13-17 13-29 13-35 13-35 13-33 13-29 13-25 13-20 13-17 13-12 13-8 13-3 13 1 13 5 13 9 13 14 13 18 13 22 13 27 13 30 13 34 13 36 13 34 13 25 13 12 13 5 13 1 13 0 13 0 13 1 13 0 13 0 13 0 13-1 13 0 13-1 13-1 13-1 13-3 13-5 13-15 13-28 13-35 13-37 13-35 13-31 13-27 13-22 13-19 13-14 13-10 13-5 13-1 13 3 13 7 13 12 13 16 13 20 13 25 13 29 13 32 13 36 13 38 13 34 13 23 13 11 13 5 13 2 13 2 13 2 13 2 13 2 13 2"/>
<path d="M0 527l13 0 13 0 13-1 13 0 13-1 13-3 13-10 13-21 13-33 13-37 13-36 13-33 13-28 13-25 13-20 13-16 13-12 13-7 13-3 13 2 13 6 13 11 13 14 13 20 13 23 13 28 13 32 13 35 13 37 13 34 13 24 13 12 13 4 13 1 13 1 13 2 13 2 13 1 13 1 13 1 13-1 13-1 13-1 13-2 13-2 13-3 13-7 13-17 13-31 13-39 13-39 13-36 13-33 13-28 13-24 13-19 13-15 13-10 13-7 13-1 13 3 13 7 13 12 13 16 13 20 13 25 13 29 13 34 13 37 13 39 13 37 13 28 13 13 13 5 13 1 13 1 13 0 13 1 13 0 13 0"/>
<path d="M0 509l13-1 13-1 13-1 13-1 13-1 13 0 13-2 13-7 13-16 13-27 13-32 13-33 13-30 13-27 13-22 13-19 13-14 13-9 13-5 13-1 13 3 13 8 13 12 13 17 13 21 13 25 13 29 13 33 13 34 13 33 13 24 13 12 13 5 13 1 13 0 13 0 13 0 13 0 13 0 13-1 13 0 13 0 13-1 13 0 13 0 13-2 13-4 13-11 13-23 13-35 13-37 13-36 13-32 13-29 13-25 13-20 13-16 13-11 13-8 13-3 13 1 13 6 13 10 13 14 13 18 13 23 13 27 13 31 13 34 13 37 13 36 13 29 13 15 13 6 13 2 13 1 13 0 13 1 13 1 13 0"/>
<path d="M0 524l13 0 13 0 13 0 13 0 13-2 13-6 13-14 13-26 13-33 13-35 13-33 13-30 13-26 13-23 13-19 13-15 13-11 13-7 13-4 13 1 13 4 13 9 13 12 13 16 13 20 13 24 13 27 13 31 13 34 13 34 13 32 13 22 13 11 13 4 13 1 13 1 13 0 13 0 13 0 13 0 13 0 13-1 13-1 13-1 13-1 13-2 13-4 13-12 13-27 13-37 13-39 13-38 13-33 13-30 13-24 13-20 13-15 13-11 13-6 13-1 13 4 13 8 13 13 13 17 13 23 13 27 13 31 13 36 13 39 13 39 13 33 13 20 13 8 13 2 13 1 13 1 13 1 13 2 13 1 13 1"/>
</g>
</g></g>
<clipPath id="c4"><rect x="66.7" y="305.05" width="104.05" height="93.8"/></clipPath>
<g clip-path="url(#c4)"><g transform="translate(66.7 305.05) scale(.1)" class="cv">
<linearGradient id="g17" gradientUnits="userSpaceOnUse" x1="0" y1="0" x2="1040.5" y2="0"><stop offset="0" stop-color="#a8b6e6" stop-opacity="0.32"/><stop offset="0.04" stop-color="#a8b6e6" stop-opacity="0.32"/><stop offset="0.08" stop-color="#a8b6e6" stop-opacity="0.064"/><stop offset="0.14" stop-color="#a8b6e6" stop-opacity="0.09"/><stop offset="0.18" stop-color="#a8b6e6" stop-opacity="0.128"/><stop offset="0.21" stop-color="#a8b6e6" stop-opacity="0.096"/><stop offset="0.29" stop-color="#a8b6e6" stop-opacity="0.096"/><stop offset="0.32" stop-color="#a8b6e6" stop-opacity="0.128"/><stop offset="0.36" stop-color="#a8b6e6" stop-opacity="0.09"/><stop offset="0.41" stop-color="#a8b6e6" stop-opacity="0.064"/><stop offset="0.45" stop-color="#a8b6e6" stop-opacity="0.32"/><stop offset="0.56" stop-color="#a8b6e6" stop-opacity="0.32"/><stop offset="0.59" stop-color="#a8b6e6" stop-opacity="0.064"/><stop offset="0.64" stop-color="#a8b6e6" stop-opacity="0.09"/><stop offset="0.68" stop-color="#a8b6e6" stop-opacity="0.128"/><stop offset="0.71" stop-color="#a8b6e6" stop-opacity="0.096"/><stop offset="0.79" stop-color="#a8b6e6" stop-opacity="0.096"/><stop offset="0.82" stop-color="#a8b6e6" stop-opacity="0.128"/><stop offset="0.86" stop-color="#a8b6e6" stop-opacity="0.09"/><stop offset="0.91" stop-color="#a8b6e6" stop-opacity="0.064"/><stop offset="0.94" stop-color="#a8b6e6" stop-opacity="0.32"/><stop offset="1" stop-color="#a8b6e6" stop-opacity="0.32"/></linearGradient>
<g stroke-width="5" stroke="url(#g17)">
<path d="M0 441l13 13 13 12 13 13 13 10 13 7 13 2 13-3 13-7 13-16 13-25 13-30 13-30 13-27 13-23 13-20 13-15 13-11 13-6 13-3 13 2 13 7 13 11 13 15 13 19 13 23 13 25 13 26 13 22 13 14 13 7 13 2 13 0 13 0 13 1 13 2 13 2 13 3 13 3 13 3 13 3 13 4 13 6 13 6 13 7 13 6 13 5 13 2 13-6 13-17 13-27 13-34 13-33 13-32 13-27 13-24 13-20 13-15 13-11 13-8 13-3 13 2 13 5 13 10 13 14 13 18 13 22 13 25 13 29 13 31 13 28 13 21 13 12 13 4 13 3 13 5 13 5 13 7 13 8 13 8 13 7"/>
<path d="M0 575l13-8 13-10 13-8 13-8 13-6 13-6 13-7 13-15 13-25 13-32 13-32 13-32 13-28 13-25 13-20 13-18 13-13 13-9 13-6 13-2 13 3 13 6 13 10 13 14 13 17 13 22 13 25 13 28 13 31 13 31 13 26 13 18 13 9 13 5 13 4 13 6 13 6 13 5 13 3 13 2 13-1 13-3 13-3 13-4 13-4 13-4 13-3 13-5 13-13 13-26 13-36 13-38 13-36 13-32 13-28 13-23 13-19 13-14 13-9 13-5 13 0 13 4 13 10 13 13 13 19 13 23 13 27 13 32 13 36 13 38 13 36 13 28 13 14 13 4 13 1 13 0 13-1 13-1 13 0 13-1"/>
<path d="M0 499l13-1 13 0 13-1 13-1 13-1 13-2 13-7 13-15 13-25 13-30 13-32 13-29 13-27 13-23 13-20 13-16 13-12 13-8 13-5 13-1 13 3 13 7 13 11 13 14 13 18 13 22 13 25 13 29 13 30 13 31 13 26 13 18 13 8 13 4 13 4 13 5 13 4 13 4 13 3 13 1 13-1 13-1 13-3 13-2 13-3 13-3 13-5 13-10 13-22 13-33 13-38 13-37 13-34 13-29 13-24 13-20 13-16 13-10 13-7 13-1 13 3 13 8 13 12 13 17 13 21 13 26 13 31 13 35 13 38 13 40 13 37 13 24 13 10 13 2 13-2 13-3 13-4 13-5 13-5 13-5"/>
<path d="M0 519l13-2 13-2 13-1 13-2 13-1 13-1 13-3 13-7 13-17 13-28 13-33 13-33 13-30 13-26 13-22 13-18 13-14 13-9 13-5 13-1 13 4 13 8 13 13 13 16 13 21 13 25 13 29 13 33 13 34 13 32 13 24 13 13 13 4 13-3 13-8 13-12 13-13 13-11 13-8 13-4 13 1 13 1 13 2 13 2 13 2 13 2 13 0 13-6 13-18 13-30 13-35 13-34 13-31 13-27 13-22 13-19 13-13 13-9 13-5 13 0 13 5 13 9 13 14 13 18 13 23 13 27 13 31 13 36 13 38 13 36 13 29 13 15 13 6 13 2 13 0 13 1 13 0 13 0 13 1 13 0"/>
<path d="M0 480l13-1 13-2 13-1 13-1 13-1 13-2 13-5 13-12 13-20 13-26 13-28 13-27 13-25 13-21 13-18 13-13 13-11 13-6 13-3 13 2 13 5 13 8 13 13 13 16 13 20 13 23 13 27 13 28 13 29 13 25 13 17 13 8 13 4 13-1 13-2 13-4 13-4 13-3 13-3 13-1 13 1 13 4 13 5 13 5 13 6 13 4 13 0 13-10 13-23 13-32 13-35 13-32 13-30 13-25 13-21 13-17 13-13 13-8 13-5 13 0 13 4 13 9 13 13 13 16 13 21 13 26 13 29 13 33 13 36 13 36 13 31 13 20 13 8 13 2 13 0 13-1 13-2 13-1 13-2 13-2"/>
<path d="M0 534l13-5 13-5 13-5 13-5 13-3 13-4 13-7 13-17 13-26 13-32 13-32 13-29 13-26 13-23 13-18 13-14 13-11 13-6 13-2 13 2 13 6 13 10 13 14 13 18 13 23 13 25 13 30 13 32 13 32 13 27 13 18 13 9 13 3 13 2 13 2 13 3 13 3 13 2 13 2 13 1 13 0 13 0 13 0 13 0 13 0 13-1 13-3 13-11 13-23 13-35 13-39 13-38 13-34 13-30 13-26 13-22 13-18 13-13 13-9 13-4 13 0 13 4 13 8 13 13 13 17 13 22 13 26 13 29 13 34 13 35 13 33 13 25 13 14 13 6 13 5 13 5 13 6 13 6 13 7 13 6"/>
<path d="M0 546l13-11 13-11 13-11 13-10 13-7 13-4 13-4 13-11 13-19 13-26 13-29 13-28 13-25 13-22 13-18 13-14 13-11 13-6 13-3 13 2 13 5 13 9 13 14 13 17 13 20 13 25 13 27 13 28 13 27 13 21 13 12 13 5 13 2 13 1 13 2 13 2 13 2 13 2 13 1 13 0 13 0 13-1 13-1 13-1 13-1 13-1 13-1 13-3 13-8 13-18 13-30 13-34 13-35 13-32 13-27 13-23 13-19 13-14 13-9 13-5 13-1 13 5 13 9 13 13 13 18 13 23 13 27 13 31 13 34 13 35 13 30 13 20 13 8 13 4 13 5 13 5 13 6 13 7 13 7 13 7"/>
<path d="M0 549l13-9 13-10 13-9 13-8 13-6 13-4 13-7 13-15 13-26 13-33 13-32 13-31 13-27 13-23 13-20 13-15 13-11 13-7 13-3 13 2 13 5 13 10 13 13 13 18 13 22 13 26 13 30 13 32 13 34 13 32 13 23 13 11 13 4 13 1 13-2 13-2 13-2 13-3 13-1 13-1 13 1 13 1 13 3 13 2 13 3 13 1 13-1 13-10 13-22 13-34 13-37 13-35 13-33 13-27 13-24 13-19 13-14 13-9 13-5 13-1 13 5 13 9 13 13 13 18 13 23 13 27 13 32 13 35 13 36 13 31 13 21 13 9 13 2 13 0 13 0 13-1 13 0 13-1 13 0 13-1"/>
</g>
</g></g>
<rect x="177.15" y="305.05" width="5.5" height="93.8" fill="url(#jet)"/>
<text class="c" x="183.95" y="386.81">5</text><text class="c" x="183.95" y="369.13">10</text><text class="c" x="183.95" y="351.46">15</text><text class="c" x="183.95" y="333.78">20</text><text class="c" x="183.95" y="316.1">25</text>
<text class="c" text-anchor="middle" transform="translate(192.85 351.95) rotate(-90)">Density(%)</text>
</g>
<g>
<text class="t" x="272.98" y="302.1">Persistence spectrum</text>
<text class="a" x="272.98" y="408">Frequency (Hz)</text>
<text class="a" transform="translate(209.65 350.8) rotate(-90)">Power Spectrum (dB)</text>
<text class="k" text-anchor="middle" x="220.45" y="403.1">0</text><text class="k" text-anchor="middle" x="246.46" y="403.1">50</text><text class="k" text-anchor="middle" x="272.48" y="403.1">100</text><text class="k" text-anchor="middle" x="298.49" y="403.1">150</text><text class="k" text-anchor="middle" x="324.5" y="403.1">200</text>
<text class="k" text-anchor="end" x="218.85" y="305.2">0</text><text class="k" text-anchor="end" x="218.85" y="314.56">-10</text><text class="k" text-anchor="end" x="218.85" y="323.92">-20</text><text class="k" text-anchor="end" x="218.85" y="333.28">-30</text><text class="k" text-anchor="end" x="218.85" y="342.64">-40</text><text class="k" text-anchor="end" x="218.85" y="352">-50</text><text class="k" text-anchor="end" x="218.85" y="361.36">-60</text><text class="k" text-anchor="end" x="218.85" y="370.72">-70</text><text class="k" text-anchor="end" x="218.85" y="380.08">-80</text><text class="k" text-anchor="end" x="218.85" y="389.44">-90</text><text class="k" text-anchor="end" x="218.85" y="398.8">-100</text>
<rect x="220.45" y="304" width="104.05" height="93.6" fill="#000082"/><g transform="translate(220.45 304)" filter="url(#fd)"><rect width="104.05" height="93.6" fill="#000"/><g transform="scale(.1)" class="cv">
<linearGradient id="g18" gradientUnits="userSpaceOnUse" x1="0" y1="0" x2="1040.5" y2="0"><stop offset="0" stop-color="#fff" stop-opacity="0.014"/><stop offset="0.04" stop-color="#fff" stop-opacity="0.014"/><stop offset="0.08" stop-color="#fff" stop-opacity="0.011"/><stop offset="0.14" stop-color="#fff" stop-opacity="0.016"/><stop offset="0.18" stop-color="#fff" stop-opacity="0.022"/><stop offset="0.21" stop-color="#fff" stop-opacity="0.028"/><stop offset="0.29" stop-color="#fff" stop-opacity="0.028"/><stop offset="0.32" stop-color="#fff" stop-opacity="0.022"/><stop offset="0.36" stop-color="#fff" stop-opacity="0.016"/><stop offset="0.41" stop-color="#fff" stop-opacity="0.011"/><stop offset="0.45" stop-color="#fff" stop-opacity="0.014"/><stop offset="0.56" stop-color="#fff" stop-opacity="0.014"/><stop offset="0.59" stop-color="#fff" stop-opacity="0.011"/><stop offset="0.64" stop-color="#fff" stop-opacity="0.016"/><stop offset="0.68" stop-color="#fff" stop-opacity="0.022"/><stop offset="0.71" stop-color="#fff" stop-opacity="0.028"/><stop offset="0.79" stop-color="#fff" stop-opacity="0.028"/><stop offset="0.82" stop-color="#fff" stop-opacity="0.022"/><stop offset="0.86" stop-color="#fff" stop-opacity="0.016"/><stop offset="0.91" stop-color="#fff" stop-opacity="0.011"/><stop offset="0.94" stop-color="#fff" stop-opacity="0.014"/><stop offset="1" stop-color="#fff" stop-opacity="0.014"/></linearGradient>
<g stroke-width="22" stroke="url(#g18)">
<path d="M0 514l26-31 26-22 26-9 26-7 26-52 26-72 26-58 26-43 26-25 26-8 26 9 26 25 26 43 26 60 26 73 26 70 26 25 26-2 26-6 26-4 26 1 26 2 26 1 26-1 26-25 26-67 26-66 26-46 26-24 26-1 26 22 26 44 26 64 26 68 26 27 26 3 26-1 26-3 26-3 26-3"/>
<path d="M0 443l26 30 26 21 26 7 26-15 26-52 26-70 26-62 26-47 26-29 26-11 26 6 26 23 26 41 26 58 26 70 26 56 26 15 26 0 26-2 26-1 26 2 26 4 26 5 26 2 26-14 26-56 26-65 26-47 26-25 26-2 26 20 26 43 26 63 26 62 26 22 26 2 26 0 26-1 26-1 26-1"/>
<path d="M0 498l26-24 26-15 26-5 26-5 26-59 26-78 26-63 26-44 26-26 26-8 26 11 26 29 26 48 26 65 26 80 26 68 26 17 26-8 26-13 26-6 26 7 26 15 26 16 26 5 26-15 26-53 26-63 26-47 26-27 26-7 26 15 26 35 26 53 26 61 26 32 26 4 26 0 26-1 26-1 26 0"/>
<path d="M0 420l26 27 26 19 26 7 26-12 26-43 26-63 26-57 26-43 26-25 26-8 26 9 26 27 26 43 26 58 26 64 26 37 26 7 26-2 26-2 26-2 26 0 26 1 26 0 26 0 26-3 26-24 26-50 26-45 26-27 26-7 26 14 26 34 26 50 26 45 26 16 26 3 26 1 26 1 26 1 26 2"/>
<path d="M0 472l26-6 26-5 26-4 26-8 26-46 26-76 26-67 26-51 26-32 26-13 26 5 26 23 26 42 26 60 26 77 26 75 26 29 26-9 26-16 26-9 26 6 26 13 26 13 26 4 26-23 26-63 26-64 26-45 26-25 26-3 26 18 26 39 26 58 26 68 26 38 26 6 26-3 26-9 26-12 26-12"/>
<path d="M0 427l26 33 26 22 26 8 26-16 26-56 26-75 26-66 26-50 26-32 26-14 26 4 26 22 26 39 26 57 26 72 26 64 26 21 26 11 26 14 26 7 26-3 26-7 26-8 26-5 26-11 26-48 26-64 26-51 26-30 26-8 26 14 26 35 26 55 26 64 26 34 26 4 26-1 26-1 26-2 26-1"/>
<path d="M0 434l26 10 26 9 26 8 26 0 26-47 26-73 26-62 26-45 26-27 26-9 26 9 26 27 26 45 26 61 26 67 26 36 26 6 26 10 26 15 26 8 26-3 26-5 26-5 26-2 26-8 26-39 26-60 26-48 26-28 26-8 26 15 26 35 26 54 26 60 26 30 26 4 26-2 26-5 26-7 26-7"/>
<path d="M0 516l26-14 26-11 26-5 26-7 26-44 26-73 26-65 26-47 26-30 26-12 26 7 26 25 26 42 26 61 26 73 26 57 26 14 26-10 26-15 26-8 26 4 26 8 26 8 26 2 26-10 26-41 26-56 26-42 26-22 26 0 26 21 26 42 26 54 26 38 26 8 26 0 26 3 26 7 26 10 26 9"/>
<path d="M0 420l26 10 26 8 26 5 26-1 26-31 26-69 26-65 26-49 26-31 26-13 26 5 26 23 26 41 26 58 26 70 26 53 26 13 26 7 26 9 26 6 26 1 26 2 26 1 26-2 26-22 26-61 26-63 26-45 26-24 26-3 26 17 26 38 26 58 26 68 26 42 26 7 26 3 26 2 26 3 26 4"/>
<path d="M0 400l26 8 26 8 26 8 26 7 26-20 26-67 26-66 26-50 26-31 26-13 26 5 26 24 26 42 26 61 26 74 26 61 26 16 26-2 26-6 26-3 26 3 26 6 26 6 26 2 26-8 26-39 26-61 26-49 26-27 26-5 26 18 26 40 26 54 26 39 26 8 26 0 26 1 26 1 26 1 26 2"/>
<path d="M0 484l26-19 26-10 26-3 26 2 26-46 26-77 26-64 26-46 26-28 26-11 26 8 26 26 26 43 26 61 26 72 26 49 26 9 26 1 26 2 26 1 26 4 26 7 26 6 26 3 26-13 26-55 26-66 26-48 26-28 26-7 26 15 26 36 26 57 26 70 26 48 26 9 26-1 26-2 26-3 26-4"/>
<path d="M0 405l26 2 26 3 26 5 26 12 26-18 26-70 26-65 26-47 26-28 26-11 26 9 26 27 26 45 26 64 26 76 26 58 26 13 26 0 26-3 26-3 26-4 26-6 26-5 26-3 26-11 26-48 26-62 26-47 26-26 26-5 26 17 26 38 26 57 26 60 26 28 26 4 26 2 26 4 26 5 26 6"/>
<path d="M0 400l26 19 26 15 26 11 26 4 26-24 26-63 26-64 26-48 26-31 26-14 26 4 26 22 26 38 26 56 26 69 26 60 26 19 26-8 26-13 26-8 26 5 26 10 26 9 26 4 26-12 26-47 26-60 26-44 26-25 26-4 26 17 26 38 26 56 26 56 26 24 26 2 26 0 26-3 26-2 26-3"/>
<path d="M0 510l26-2 26-5 26-8 26-30 26-69 26-75 26-64 26-47 26-29 26-11 26 6 26 24 26 42 26 59 26 75 26 78 26 35 26-3 26-10 26-5 26 2 26 6 26 5 26 0 26-25 26-67 26-67 26-46 26-24 26-1 26 22 26 44 26 65 26 69 26 30 26 3 26 1 26 4 26 4 26 5"/>
<path d="M0 440l26 34 26 23 26 7 26-25 26-67 26-74 26-62 26-44 26-27 26-9 26 9 26 28 26 45 26 62 26 75 26 58 26 13 26-6 26-11 26-6 26 4 26 11 26 10 26 4 26-12 26-53 26-69 26-52 26-31 26-9 26 14 26 35 26 56 26 67 26 37 26 6 26 2 26 5 26 7 26 7"/>
<path d="M0 495l26-29 26-19 26-8 26-2 26-52 26-76 26-64 26-46 26-29 26-11 26 6 26 24 26 41 26 58 26 73 26 68 26 21 26-3 26-5 26-3 26 5 26 11 26 10 26 5 26-15 26-59 26-69 26-51 26-28 26-6 26 17 26 41 26 61 26 70 26 36 26 5 26 0 26 1 26 1 26 1"/>
<path d="M0 476l26 1 26 2 26 0 26-16 26-67 26-77 26-62 26-46 26-29 26-12 26 6 26 23 26 40 26 57 26 73 26 77 26 37 26-7 26-17 26-9 26 8 26 16 26 16 26 5 26-25 26-68 26-67 26-50 26-28 26-6 26 14 26 36 26 57 26 68 26 43 26 7 26 1 26 0 26 1 26 1"/>
<path d="M0 480l26 2 26 1 26-1 26-19 26-67 26-76 26-63 26-46 26-29 26-11 26 7 26 24 26 42 26 58 26 72 26 59 26 17 26 8 26 9 26 5 26 0 26-1 26 0 26-1 26-18 26-59 26-66 26-47 26-26 26-3 26 19 26 42 26 62 26 71 26 37 26 5 26 1 26 0 26 1 26 0"/>
<path d="M0 517l26-18 26-11 26-5 26-12 26-64 26-77 26-63 26-44 26-27 26-8 26 10 26 28 26 46 26 64 26 78 26 63 26 14 26-7 26-9 26-5 26 4 26 7 26 8 26 5 26-6 26-42 26-66 26-52 26-31 26-9 26 15 26 37 26 59 26 68 26 36 26 5 26 0 26-1 26 0 26-1"/>
<path d="M0 411l26 12 26 10 26 5 26-4 26-31 26-63 26-61 26-47 26-30 26-14 26 4 26 21 26 37 26 54 26 67 26 65 26 27 26 6 26 3 26 2 26 3 26 3 26 2 26 0 26-9 26-43 26-64 26-50 26-30 26-8 26 14 26 35 26 52 26 49 26 15 26 2 26 2 26 8 26 10 26 10"/>
<path d="M0 486l26 8 26 3 26-1 26-20 26-59 26-72 26-63 26-48 26-30 26-13 26 4 26 22 26 38 26 56 26 70 26 69 26 28 26-7 26-14 26-7 26 7 26 18 26 17 26 5 26-24 26-62 26-62 26-45 26-24 26-3 26 18 26 38 26 55 26 52 26 18 26 1 26 5 26 12 26 16 26 17"/>
<path d="M0 451l26-4 26-2 26 0 26-3 26-41 26-75 26-65 26-49 26-30 26-12 26 6 26 24 26 42 26 61 26 76 26 74 26 28 26 0 26-4 26-2 26 1 26 3 26 3 26-1 26-26 26-65 26-64 26-45 26-23 26-2 26 20 26 41 26 62 26 67 26 32 26 3 26 3 26 6 26 8 26 8"/>
<path d="M0 486l26 1 26 1 26-2 26-21 26-66 26-75 26-63 26-45 26-28 26-11 26 7 26 23 26 42 26 58 26 74 26 74 26 32 26-3 26-11 26-5 26 5 26 12 26 12 26 4 26-21 26-63 26-66 26-49 26-27 26-6 26 15 26 37 26 56 26 67 26 38 26 4 26-2 26-3 26-3 26-3"/>
<path d="M0 461l26-3 26-1 26-1 26 1 26-36 26-75 26-67 26-50 26-32 26-14 26 5 26 22 26 40 26 59 26 74 26 75 26 32 26-1 26-8 26-5 26-3 26-3 26-2 26-3 26-12 26-48 26-61 26-45 26-25 26-3 26 18 26 40 26 58 26 53 26 17 26 1 26 5 26 10 26 14 26 14"/>
<path d="M0 451l26 22 26 15 26 6 26-12 26-52 26-76 26-67 26-50 26-32 26-14 26 4 26 22 26 40 26 57 26 69 26 53 26 12 26 11 26 16 26 8 26-4 26-8 26-8 26-3 26-2 26-20 26-48 26-47 26-30 26-7 26 13 26 36 26 54 26 58 26 26 26 4 26-4 26-12 26-15 26-17"/>
<path d="M0 501l26 9 26 3 26-3 26-39 26-75 26-74 26-61 26-45 26-27 26-11 26 7 26 23 26 41 26 58 26 73 26 76 26 34 26-7 26-17 26-8 26 6 26 15 26 14 26 5 26-29 26-72 26-69 26-47 26-25 26-3 26 20 26 43 26 65 26 75 26 42 26 6 26-4 26-8 26-11 26-11"/>
<path d="M0 448l26 22 26 17 26 6 26-15 26-60 26-75 26-61 26-44 26-27 26-10 26 9 26 26 26 43 26 61 26 70 26 50 26 9 26-1 26-1 26 0 26 2 26 4 26 5 26 2 26-11 26-47 26-59 26-44 26-24 26-1 26 19 26 41 26 59 26 56 26 21 26 2 26-4 26-11 26-14 26-14"/>
<path d="M0 474l26 19 26 12 26 3 26-20 26-64 26-77 26-65 26-48 26-29 26-10 26 8 26 27 26 45 26 63 26 77 26 62 26 14 26-6 26-10 26-5 26 4 26 9 26 9 26 3 26-18 26-62 26-68 26-49 26-26 26-4 26 19 26 42 26 62 26 64 26 25 26 3 26 2 26 6 26 8 26 8"/>
<path d="M0 467l26 12 26 9 26 4 26-11 26-60 26-79 26-66 26-48 26-30 26-12 26 7 26 26 26 44 26 62 26 74 26 58 26 13 26 5 26 5 26 6 26 7 26 7 26 6 26 2 26-16 26-56 26-65 26-49 26-27 26-6 26 16 26 37 26 55 26 56 26 22 26 1 26 2 26 4 26 5 26 5"/>
<path d="M0 502l26 3 26 1 26-1 26-25 26-64 26-72 26-59 26-42 26-25 26-8 26 11 26 28 26 45 26 63 26 75 26 59 26 16 26 0 26-2 26-2 26-6 26-11 26-9 26-5 26-6 26-36 26-59 26-50 26-30 26-8 26 14 26 35 26 55 26 64 26 38 26 9 26 4 26 4 26 5 26 6"/>
<path d="M0 476l26-12 26-7 26-3 26-5 26-49 26-77 26-64 26-47 26-28 26-9 26 9 26 28 26 46 26 65 26 78 26 63 26 15 26 0 26-3 26-3 26-5 26-6 26-6 26-4 26-11 26-48 26-60 26-45 26-25 26-2 26 19 26 40 26 58 26 54 26 18 26 1 26 4 26 9 26 12 26 12"/>
<path d="M0 432l26 29 26 22 26 5 26-30 26-72 26-73 26-59 26-42 26-25 26-7 26 9 26 27 26 43 26 60 26 73 26 60 26 17 26 2 26 0 26 1 26 2 26 3 26 3 26 0 26-14 26-54 26-65 26-49 26-29 26-8 26 13 26 34 26 54 26 62 26 34 26 5 26 1 26 2 26 2 26 3"/>
<path d="M0 461l26 6 26 4 26 0 26-12 26-51 26-71 26-62 26-47 26-30 26-14 26 4 26 21 26 37 26 55 26 67 26 64 26 24 26 7 26 6 26 3 26-4 26-8 26-8 26-4 26-4 26-24 26-48 26-42 26-22 26-1 26 21 26 41 26 54 26 36 26 9 26 1 26-1 26-4 26-4 26-5"/>
<path d="M0 465l26-7 26-5 26-3 26-8 26-37 26-67 26-62 26-45 26-28 26-10 26 7 26 26 26 43 26 60 26 73 26 58 26 13 26-12 26-20 26-10 26 6 26 13 26 13 26 6 26-3 26-27 26-56 26-48 26-29 26-7 26 15 26 38 26 54 26 49 26 15 26 1 26-3 26-7 26-10 26-11"/>
</g>
<linearGradient id="g19" gradientUnits="userSpaceOnUse" x1="0" y1="0" x2="1040.5" y2="0"><stop offset="0" stop-color="#fff" stop-opacity="0.075"/><stop offset="0.04" stop-color="#fff" stop-opacity="0.075"/><stop offset="0.08" stop-color="#fff" stop-opacity="0.034"/><stop offset="0.14" stop-color="#fff" stop-opacity="0.047"/><stop offset="0.18" stop-color="#fff" stop-opacity="0.068"/><stop offset="0.21" stop-color="#fff" stop-opacity="0.15"/><stop offset="0.29" stop-color="#fff" stop-opacity="0.15"/><stop offset="0.32" stop-color="#fff" stop-opacity="0.068"/><stop offset="0.36" stop-color="#fff" stop-opacity="0.047"/><stop offset="0.41" stop-color="#fff" stop-opacity="0.034"/><stop offset="0.45" stop-color="#fff" stop-opacity="0.075"/><stop offset="0.56" stop-color="#fff" stop-opacity="0.075"/><stop offset="0.59" stop-color="#fff" stop-opacity="0.034"/><stop offset="0.64" stop-color="#fff" stop-opacity="0.047"/><stop offset="0.68" stop-color="#fff" stop-opacity="0.068"/><stop offset="0.71" stop-color="#fff" stop-opacity="0.135"/><stop offset="0.79" stop-color="#fff" stop-opacity="0.135"/><stop offset="0.82" stop-color="#fff" stop-opacity="0.068"/><stop offset="0.86" stop-color="#fff" stop-opacity="0.047"/><stop offset="0.91" stop-color="#fff" stop-opacity="0.034"/><stop offset="0.94" stop-color="#fff" stop-opacity="0.075"/><stop offset="1" stop-color="#fff" stop-opacity="0.075"/></linearGradient>
<g stroke-width="6.2" stroke="url(#g19)">
<path d="M0 478l13 2 13 2 13 2 13 2 13 1 13-1 13-4 13-15 13-32 13-41 13-43 13-41 13-36 13-32 13-27 13-22 13-18 13-13 13-9 13-4 13 1 13 6 13 10 13 15 13 20 13 24 13 29 13 33 13 38 13 42 13 43 13 38 13 24 13 9 13 0 13-2 13-3 13-3 13-2 13-1 13 1 13 0 13 1 13 1 13 1 13 1 13 1 13-2 13-7 13-20 13-32 13-36 13-35 13-31 13-26 13-21 13-15 13-11 13-5 13 1 13 5 13 11 13 17 13 21 13 27 13 32 13 35 13 38 13 33 13 21 13 8 13 3 13 0 13-1 13-1 13-2 13-2 13-2 13-2 13-2"/>
<path d="M0 483l13 4 13 4 13 4 13 3 13 2 13-1 13-7 13-20 13-36 13-44 13-44 13-40 13-35 13-32 13-27 13-22 13-17 13-13 13-9 13-4 13 1 13 6 13 10 13 15 13 19 13 24 13 28 13 33 13 38 13 41 13 43 13 40 13 27 13 11 13 2 13 0 13-2 13-1 13-1 13 0 13 0 13 1 13 0 13 2 13 1 13 1 13 0 13-2 13-8 13-21 13-35 13-38 13-37 13-32 13-26 13-22 13-15 13-10 13-4 13 2 13 7 13 13 13 19 13 24 13 30 13 35 13 37 13 36 13 24 13 11 13 3 13 1 13 0 13 1 13 1 13 1 13 2 13 1 13 2 13 1"/>
<path d="M0 486l13 1 13 1 13 1 13 0 13 1 13-2 13-7 13-19 13-35 13-43 13-42 13-39 13-35 13-31 13-25 13-22 13-16 13-12 13-7 13-3 13 2 13 6 13 12 13 15 13 21 13 25 13 29 13 35 13 38 13 41 13 42 13 36 13 20 13 7 13 2 13 0 13 1 13 0 13 0 13 0 13 0 13 0 13 0 13-1 13 0 13 0 13-1 13-4 13-11 13-25 13-34 13-36 13-34 13-29 13-25 13-20 13-14 13-9 13-4 13 1 13 6 13 12 13 17 13 21 13 27 13 32 13 35 13 36 13 31 13 18 13 7 13 2 13 0 13 1 13 0 13 1 13 0 13 1 13 0 13 1"/>
<path d="M0 474l13 4 13 4 13 4 13 3 13 2 13 0 13-4 13-14 13-31 13-40 13-43 13-40 13-36 13-32 13-28 13-22 13-19 13-13 13-10 13-4 13 0 13 4 13 9 13 14 13 18 13 23 13 28 13 31 13 36 13 40 13 41 13 38 13 25 13 10 13 3 13 1 13 0 13 0 13 0 13 0 13 0 13 0 13-1 13-1 13 0 13-1 13 0 13-2 13-7 13-19 13-31 13-36 13-35 13-30 13-26 13-20 13-15 13-9 13-4 13 2 13 7 13 13 13 19 13 24 13 29 13 34 13 37 13 34 13 25 13 11 13 3 13 1 13 0 13-1 13-1 13-1 13-1 13-1 13-1 13-2"/>
<path d="M0 493l13-1 13-2 13-1 13-1 13-1 13-1 13-5 13-13 13-30 13-40 13-43 13-40 13-36 13-32 13-27 13-23 13-18 13-13 13-8 13-4 13 1 13 5 13 10 13 15 13 20 13 24 13 29 13 33 13 38 13 41 13 42 13 36 13 21 13 8 13 2 13 0 13 1 13 0 13 0 13 1 13 0 13 1 13 2 13 2 13 1 13 2 13 0 13-2 13-9 13-22 13-34 13-37 13-36 13-31 13-27 13-20 13-16 13-10 13-4 13 1 13 7 13 12 13 18 13 23 13 28 13 34 13 36 13 37 13 28 13 15 13 5 13 1 13 0 13 0 13 1 13 0 13 1 13 1 13 1 13 1"/>
<path d="M0 481l13 1 13 1 13 1 13 0 13 1 13-2 13-6 13-17 13-34 13-41 13-42 13-40 13-35 13-30 13-26 13-22 13-16 13-13 13-7 13-3 13 1 13 7 13 10 13 16 13 20 13 25 13 29 13 33 13 38 13 42 13 42 13 36 13 21 13 8 13 2 13-1 13-1 13 0 13-1 13 0 13 0 13 1 13 2 13 2 13 2 13 2 13 1 13-1 13-7 13-17 13-31 13-37 13-37 13-32 13-28 13-23 13-17 13-11 13-6 13 0 13 5 13 10 13 16 13 22 13 27 13 31 13 36 13 36 13 30 13 17 13 6 13 2 13 0 13 0 13 1 13 0 13 0 13 1 13 0 13 1"/>
<path d="M0 495l13-2 13-3 13-2 13-3 13-2 13-3 13-9 13-21 13-35 13-40 13-39 13-37 13-33 13-29 13-25 13-20 13-17 13-12 13-8 13-4 13 1 13 5 13 8 13 14 13 17 13 21 13 26 13 30 13 34 13 37 13 40 13 38 13 31 13 15 13 6 13 1 13 0 13 0 13 0 13 0 13 1 13 1 13 1 13 2 13 2 13 1 13 1 13-2 13-8 13-21 13-33 13-37 13-35 13-31 13-27 13-21 13-16 13-10 13-5 13 0 13 5 13 11 13 17 13 21 13 27 13 31 13 36 13 37 13 33 13 21 13 8 13 2 13 0 13 0 13-2 13-1 13-2 13-2 13-1 13-2"/>
<path d="M0 488l13 1 13 1 13 0 13 0 13 0 13-3 13-12 13-27 13-39 13-42 13-41 13-37 13-33 13-28 13-24 13-20 13-16 13-11 13-7 13-2 13 1 13 7 13 10 13 15 13 19 13 24 13 27 13 32 13 37 13 39 13 43 13 40 13 30 13 14 13 3 13-2 13-4 13-4 13-3 13-2 13 0 13 1 13 0 13 1 13 0 13 1 13 0 13-1 13-5 13-14 13-28 13-36 13-36 13-33 13-28 13-23 13-17 13-11 13-6 13-1 13 6 13 11 13 16 13 22 13 27 13 33 13 36 13 36 13 29 13 16 13 5 13 2 13 0 13 2 13 2 13 3 13 3 13 4 13 3 13 4"/>
<path d="M0 481l13 2 13 2 13 2 13 2 13 0 13-1 13-6 13-18 13-35 13-42 13-42 13-39 13-36 13-30 13-27 13-21 13-18 13-12 13-9 13-3 13 1 13 5 13 10 13 15 13 19 13 23 13 29 13 32 13 37 13 40 13 42 13 38 13 25 13 10 13 4 13 3 13 3 13 2 13 2 13 1 13 0 13 0 13-1 13 0 13 0 13-1 13-1 13-2 13-10 13-22 13-35 13-38 13-35 13-31 13-27 13-20 13-16 13-10 13-4 13 1 13 7 13 12 13 18 13 23 13 28 13 33 13 37 13 36 13 27 13 15 13 4 13 1 13 1 13 1 13 1 13 1 13 1 13 2 13 2 13 1"/>
<path d="M0 492l13-3 13-3 13-2 13-3 13-1 13-2 13-4 13-13 13-28 13-39 13-41 13-40 13-35 13-31 13-27 13-23 13-18 13-13 13-9 13-4 13 0 13 4 13 9 13 14 13 18 13 22 13 27 13 32 13 36 13 39 13 42 13 39 13 28 13 13 13 2 13-2 13-3 13-3 13-2 13-1 13 1 13 1 13 2 13 2 13 2 13 2 13 1 13-1 13-6 13-17 13-30 13-37 13-36 13-32 13-27 13-22 13-16 13-10 13-5 13 0 13 6 13 12 13 17 13 23 13 28 13 33 13 36 13 38 13 30 13 16 13 6 13 2 13 0 13 0 13 0 13 0 13 1 13 0 13 0 13 0"/>
<path d="M0 486l13 2 13 1 13 2 13 1 13 0 13-1 13-5 13-17 13-34 13-43 13-43 13-41 13-36 13-31 13-27 13-22 13-18 13-13 13-8 13-3 13 1 13 6 13 11 13 15 13 20 13 25 13 29 13 34 13 39 13 42 13 44 13 38 13 25 13 9 13 1 13-1 13-1 13-2 13-1 13-1 13-1 13 0 13 0 13-1 13 0 13 0 13 0 13-1 13-5 13-15 13-28 13-37 13-37 13-33 13-29 13-22 13-17 13-12 13-5 13 0 13 6 13 12 13 17 13 24 13 28 13 34 13 38 13 37 13 29 13 14 13 4 13 1 13 1 13 0 13-1 13 0 13 0 13 0 13 0 13 0"/>
<path d="M0 490l13 2 13 1 13 1 13 1 13 0 13-4 13-13 13-27 13-39 13-42 13-40 13-37 13-32 13-29 13-24 13-20 13-15 13-12 13-7 13-3 13 1 13 6 13 9 13 14 13 19 13 22 13 27 13 30 13 35 13 38 13 41 13 37 13 28 13 13 13 5 13 3 13 1 13 2 13 1 13 0 13 0 13-1 13 0 13-1 13-1 13-1 13-1 13-2 13-7 13-18 13-30 13-36 13-34 13-31 13-27 13-21 13-16 13-11 13-5 13-1 13 5 13 11 13 15 13 21 13 26 13 30 13 35 13 36 13 32 13 21 13 8 13 3 13 1 13 0 13 1 13 0 13 1 13 0 13 1 13 0"/>
<path d="M0 472l13 4 13 3 13 4 13 3 13 2 13-1 13-5 13-17 13-31 13-41 13-42 13-40 13-35 13-31 13-27 13-22 13-18 13-13 13-9 13-5 13 1 13 4 13 9 13 14 13 18 13 23 13 27 13 31 13 36 13 39 13 41 13 39 13 28 13 12 13 2 13 0 13-2 13-2 13-1 13-1 13 1 13 1 13 2 13 2 13 2 13 2 13 1 13-1 13-6 13-17 13-31 13-36 13-35 13-32 13-27 13-22 13-17 13-11 13-6 13 0 13 4 13 11 13 15 13 21 13 26 13 31 13 35 13 35 13 29 13 17 13 6 13 1 13 0 13 0 13 0 13 0 13 0 13 0 13 0 13 0"/>
<path d="M0 499l13-1 13 0 13-1 13-1 13-1 13-3 13-8 13-22 13-35 13-42 13-42 13-38 13-35 13-30 13-25 13-22 13-16 13-13 13-8 13-3 13 1 13 5 13 10 13 14 13 19 13 23 13 28 13 32 13 36 13 39 13 42 13 37 13 26 13 11 13 3 13 1 13 0 13 0 13 0 13 0 13 1 13 1 13 1 13 1 13 2 13 1 13 1 13-1 13-5 13-16 13-29 13-37 13-37 13-34 13-28 13-23 13-18 13-12 13-7 13-1 13 4 13 10 13 16 13 21 13 26 13 31 13 36 13 38 13 34 13 22 13 8 13 3 13 1 13 1 13 1 13 1 13 1 13 1 13 2 13 1"/>
</g>
<linearGradient id="g20" gradientUnits="userSpaceOnUse" x1="0" y1="0" x2="1040.5" y2="0"><stop offset="0" stop-color="#fff" stop-opacity="0.1"/><stop offset="0.04" stop-color="#fff" stop-opacity="0.1"/><stop offset="0.08" stop-color="#fff" stop-opacity="0"/><stop offset="0.14" stop-color="#fff" stop-opacity="0"/><stop offset="0.18" stop-color="#fff" stop-opacity="0"/><stop offset="0.21" stop-color="#fff" stop-opacity="0"/><stop offset="0.29" stop-color="#fff" stop-opacity="0"/><stop offset="0.32" stop-color="#fff" stop-opacity="0"/><stop offset="0.36" stop-color="#fff" stop-opacity="0"/><stop offset="0.41" stop-color="#fff" stop-opacity="0"/><stop offset="0.45" stop-color="#fff" stop-opacity="0.1"/><stop offset="0.56" stop-color="#fff" stop-opacity="0.1"/><stop offset="0.59" stop-color="#fff" stop-opacity="0"/><stop offset="0.64" stop-color="#fff" stop-opacity="0"/><stop offset="0.68" stop-color="#fff" stop-opacity="0"/><stop offset="0.71" stop-color="#fff" stop-opacity="0"/><stop offset="0.79" stop-color="#fff" stop-opacity="0"/><stop offset="0.82" stop-color="#fff" stop-opacity="0"/><stop offset="0.86" stop-color="#fff" stop-opacity="0"/><stop offset="0.91" stop-color="#fff" stop-opacity="0"/><stop offset="0.94" stop-color="#fff" stop-opacity="0.1"/><stop offset="1" stop-color="#fff" stop-opacity="0.1"/></linearGradient>
<g stroke-width="8" stroke="url(#g20)">
<path d="M0 496l13-1 13-2 13-1 13-2 13-1 13-4 13-10 13-25 13-36 13-40 13-39 13-36 13-32 13-28 13-23 13-20 13-15 13-11 13-7 13-3 13 2 13 6 13 10 13 14 13 19 13 22 13 27 13 31 13 35 13 39 13 40 13 38 13 27 13 13 13 3 13-2 13-3 13-3 13-3 13-1 13 1 13 3 13 4 13 4 13 5 13 3 13 3 13-2 13-8 13-20 13-33 13-37 13-35 13-31 13-27 13-22 13-16 13-11 13-7 13 0 13 4 13 9 13 15 13 20 13 25 13 30 13 34 13 37 13 35 13 25 13 12 13 4 13 1 13 0 13 0 13 0 13 0 13 0 13 0 13 0"/>
<path d="M0 522l13-3 13-3 13-4 13-2 13-3 13-3 13-8 13-19 13-36 13-44 13-43 13-41 13-36 13-31 13-27 13-22 13-18 13-12 13-8 13-3 13 1 13 7 13 11 13 16 13 20 13 25 13 30 13 35 13 39 13 42 13 43 13 35 13 19 13 6 13 1 13-1 13-1 13 0 13-1 13 0 13 1 13 4 13 5 13 6 13 6 13 5 13 4 13 0 13-6 13-19 13-34 13-40 13-40 13-36 13-30 13-24 13-19 13-13 13-7 13-2 13 5 13 10 13 17 13 21 13 28 13 33 13 37 13 39 13 33 13 18 13 7 13 1 13 1 13 1 13 1 13 2 13 2 13 2 13 2 13 2"/>
<path d="M0 491l13 3 13 3 13 3 13 2 13 1 13-5 13-15 13-30 13-40 13-41 13-40 13-36 13-31 13-28 13-24 13-19 13-15 13-11 13-6 13-3 13 2 13 6 13 10 13 15 13 19 13 22 13 28 13 31 13 35 13 39 13 40 13 36 13 26 13 10 13 0 13-3 13-4 13-4 13-3 13-1 13 0 13 0 13 0 13 1 13 0 13 0 13 0 13-2 13-6 13-16 13-28 13-34 13-34 13-29 13-26 13-20 13-14 13-10 13-4 13 1 13 6 13 12 13 17 13 22 13 27 13 32 13 35 13 34 13 25 13 14 13 6 13 1 13 2 13 2 13 3 13 3 13 4 13 3 13 4 13 4"/>
<path d="M0 495l13 1 13 2 13 2 13 1 13 1 13-1 13-7 13-20 13-36 13-45 13-44 13-40 13-36 13-31 13-26 13-22 13-17 13-12 13-7 13-2 13 3 13 7 13 12 13 18 13 21 13 27 13 32 13 36 13 41 13 44 13 44 13 37 13 20 13 6 13-1 13-4 13-6 13-6 13-4 13-1 13 1 13 3 13 4 13 4 13 5 13 4 13 2 13-1 13-8 13-22 13-34 13-40 13-37 13-34 13-28 13-23 13-18 13-12 13-7 13-1 13 5 13 10 13 15 13 21 13 26 13 31 13 36 13 39 13 35 13 23 13 10 13 2 13 1 13 0 13 0 13 0 13 0 13 0 13 0 13 1"/>
<path d="M0 504l13-1 13-1 13-1 13 0 13-1 13-1 13-2 13-11 13-27 13-41 13-45 13-43 13-38 13-34 13-29 13-25 13-19 13-15 13-9 13-5 13 0 13 5 13 9 13 15 13 19 13 25 13 29 13 34 13 38 13 43 13 45 13 42 13 27 13 11 13 1 13-3 13-5 13-5 13-3 13-1 13 1 13 2 13 4 13 4 13 4 13 3 13 3 13 0 13-5 13-15 13-31 13-38 13-39 13-34 13-29 13-24 13-17 13-12 13-6 13 1 13 6 13 12 13 18 13 23 13 29 13 35 13 38 13 36 13 26 13 11 13 4 13 0 13 1 13 2 13 4 13 4 13 5 13 5 13 5 13 5"/>
<path d="M0 490l13 3 13 3 13 3 13 2 13 2 13-2 13-9 13-23 13-38 13-43 13-43 13-39 13-34 13-31 13-25 13-21 13-16 13-12 13-7 13-3 13 2 13 7 13 11 13 16 13 21 13 25 13 29 13 34 13 39 13 41 13 39 13 31 13 14 13 4 13 0 13-1 13-2 13-1 13-1 13 0 13 0 13 0 13 1 13 1 13 1 13 1 13 1 13-1 13-3 13-12 13-25 13-34 13-34 13-32 13-27 13-22 13-17 13-12 13-6 13-1 13 5 13 9 13 16 13 20 13 25 13 31 13 34 13 36 13 31 13 19 13 8 13 2 13 0 13-1 13-1 13-3 13-2 13-3 13-3 13-2"/>
<path d="M0 494l13-1 13-1 13 0 13-1 13-1 13-3 13-10 13-24 13-37 13-42 13-41 13-38 13-33 13-30 13-24 13-20 13-16 13-11 13-7 13-2 13 3 13 6 13 12 13 16 13 20 13 25 13 29 13 34 13 38 13 40 13 39 13 31 13 15 13 6 13 3 13 4 13 3 13 4 13 4 13 1 13 1 13 1 13 1 13 1 13 0 13 0 13 0 13-4 13-12 13-25 13-32 13-35 13-32 13-28 13-24 13-18 13-14 13-9 13-4 13 1 13 6 13 11 13 16 13 21 13 25 13 30 13 33 13 34 13 28 13 17 13 7 13 2 13 0 13 0 13 0 13 0 13 0 13 0 13 0 13 0"/>
<path d="M0 513l13-2 13-1 13-2 13-1 13-2 13-3 13-9 13-23 13-38 13-43 13-42 13-39 13-35 13-30 13-25 13-21 13-16 13-12 13-7 13-2 13 2 13 7 13 11 13 16 13 20 13 26 13 29 13 35 13 38 13 42 13 43 13 36 13 22 13 7 13-1 13-4 13-5 13-5 13-4 13-1 13 1 13 3 13 4 13 5 13 4 13 4 13 3 13 0 13-3 13-14 13-30 13-39 13-40 13-37 13-30 13-25 13-20 13-13 13-7 13-1 13 5 13 11 13 17 13 22 13 29 13 34 13 39 13 39 13 32 13 17 13 5 13 1 13 1 13 1 13 2 13 3 13 3 13 3 13 3 13 4"/>
<path d="M0 481l13 1 13 1 13 1 13 1 13 1 13-1 13-5 13-16 13-31 13-41 13-42 13-39 13-35 13-30 13-26 13-22 13-17 13-12 13-8 13-3 13 2 13 6 13 11 13 15 13 20 13 25 13 29 13 33 13 38 13 41 13 41 13 35 13 20 13 6 13 0 13-2 13-4 13-3 13-2 13-1 13 0 13 0 13 1 13 1 13 1 13 1 13 0 13-2 13-8 13-18 13-29 13-34 13-32 13-29 13-25 13-19 13-15 13-10 13-5 13 0 13 6 13 10 13 15 13 20 13 24 13 30 13 33 13 34 13 30 13 19 13 9 13 3 13 0 13 0 13 1 13 0 13 0 13 0 13 0 13 0"/>
<path d="M0 497l13 1 13 1 13 1 13 1 13-1 13-2 13-9 13-24 13-37 13-42 13-40 13-38 13-33 13-28 13-25 13-20 13-15 13-11 13-6 13-2 13 2 13 7 13 12 13 16 13 21 13 25 13 29 13 34 13 37 13 41 13 40 13 32 13 16 13 5 13 0 13-3 13-3 13-3 13-3 13-2 13-1 13-1 13-1 13 0 13-1 13 0 13-1 13-1 13-5 13-13 13-24 13-31 13-33 13-29 13-24 13-20 13-14 13-9 13-4 13 1 13 7 13 12 13 18 13 22 13 28 13 31 13 34 13 31 13 21 13 9 13 3 13 1 13 0 13-1 13-1 13-1 13-2 13-2 13-2 13-2"/>
<path d="M0 491l13 2 13 3 13 2 13 2 13 2 13-1 13-7 13-18 13-34 13-42 13-42 13-38 13-35 13-30 13-25 13-21 13-16 13-11 13-7 13-2 13 3 13 7 13 12 13 17 13 22 13 26 13 30 13 36 13 39 13 41 13 40 13 28 13 12 13 3 13-1 13-1 13-3 13-2 13-1 13-1 13 1 13 4 13 4 13 5 13 5 13 5 13 3 13-1 13-5 13-17 13-30 13-37 13-37 13-33 13-28 13-23 13-17 13-13 13-6 13-1 13 4 13 10 13 15 13 20 13 26 13 31 13 35 13 37 13 33 13 21 13 8 13 2 13 0 13 0 13-1 13-1 13-1 13-1 13-2 13-1"/>
<path d="M0 495l13-2 13-2 13-2 13-2 13-2 13-4 13-10 13-24 13-35 13-40 13-38 13-36 13-31 13-28 13-23 13-20 13-15 13-11 13-7 13-3 13 1 13 6 13 9 13 14 13 17 13 22 13 26 13 30 13 34 13 38 13 40 13 39 13 31 13 17 13 3 13-4 13-7 13-6 13-5 13-2 13 1 13 4 13 5 13 6 13 6 13 4 13 3 13-2 13-11 13-24 13-33 13-36 13-34 13-30 13-25 13-20 13-15 13-10 13-5 13 1 13 5 13 10 13 16 13 20 13 26 13 30 13 33 13 36 13 32 13 22 13 9 13 3 13 1 13 1 13 1 13 1 13 1 13 2 13 1 13 1"/>
<path d="M0 507l13-4 13-4 13-4 13-4 13-3 13-3 13-9 13-20 13-33 13-39 13-38 13-35 13-32 13-28 13-23 13-20 13-15 13-11 13-7 13-3 13 2 13 5 13 10 13 14 13 18 13 22 13 26 13 30 13 35 13 37 13 40 13 38 13 29 13 14 13 3 13-3 13-5 13-4 13-4 13-1 13 0 13 1 13 2 13 2 13 2 13 2 13 1 13 0 13-5 13-16 13-29 13-36 13-36 13-32 13-27 13-22 13-17 13-12 13-6 13-1 13 5 13 10 13 15 13 20 13 26 13 31 13 35 13 37 13 36 13 24 13 11 13 3 13 1 13-1 13-1 13-2 13-2 13-2 13-2 13-3"/>
<path d="M0 508l13-3 13-3 13-2 13-3 13-3 13-3 13-9 13-22 13-35 13-40 13-40 13-36 13-33 13-29 13-25 13-20 13-17 13-12 13-8 13-4 13 0 13 4 13 9 13 12 13 17 13 21 13 25 13 29 13 33 13 37 13 40 13 39 13 32 13 19 13 9 13 5 13 3 13 3 13 3 13 1 13 0 13 0 13 0 13 0 13 0 13 0 13 0 13-2 13-6 13-17 13-32 13-39 13-38 13-34 13-28 13-23 13-18 13-11 13-6 13-1 13 6 13 11 13 16 13 23 13 28 13 33 13 37 13 40 13 35 13 21 13 8 13 2 13-1 13-1 13-3 13-4 13-4 13-5 13-5 13-4"/>
<path d="M0 497l13 0 13-1 13 0 13-1 13 0 13-2 13-4 13-13 13-29 13-40 13-42 13-40 13-36 13-31 13-27 13-22 13-17 13-13 13-8 13-2 13 2 13 6 13 12 13 16 13 21 13 26 13 30 13 35 13 39 13 40 13 35 13 21 13 8 13 2 13-1 13-1 13-1 13-1 13-1 13 0 13 2 13 4 13 6 13 8 13 7 13 6 13 4 13-2 13-10 13-23 13-34 13-37 13-35 13-30 13-25 13-21 13-14 13-10 13-4 13 1 13 7 13 12 13 18 13 22 13 28 13 33 13 36 13 36 13 29 13 15 13 5 13 1 13 0 13-2 13-2 13-3 13-4 13-3 13-4 13-3"/>
<path d="M0 482l13 6 13 6 13 6 13 4 13 3 13-1 13-11 13-25 13-38 13-42 13-42 13-37 13-34 13-30 13-25 13-21 13-16 13-13 13-8 13-4 13 1 13 5 13 9 13 13 13 18 13 22 13 27 13 30 13 35 13 39 13 42 13 42 13 36 13 21 13 5 13-4 13-7 13-7 13-5 13-2 13 0 13 0 13 0 13 0 13 0 13 0 13-1 13-2 13-7 13-18 13-29 13-34 13-33 13-30 13-25 13-21 13-16 13-10 13-6 13 0 13 4 13 10 13 15 13 19 13 25 13 29 13 32 13 33 13 27 13 17 13 6 13 2 13 2 13 2 13 4 13 4 13 5 13 6 13 6 13 5"/>
</g>
</g></g>
<clipPath id="c5"><rect x="220.45" y="304" width="104.05" height="93.6"/></clipPath>
<g clip-path="url(#c5)"><g transform="translate(220.45 304) scale(.1)" class="cv">
<linearGradient id="g21" gradientUnits="userSpaceOnUse" x1="0" y1="0" x2="1040.5" y2="0"><stop offset="0" stop-color="#a8b6e6" stop-opacity="0.32"/><stop offset="0.04" stop-color="#a8b6e6" stop-opacity="0.32"/><stop offset="0.08" stop-color="#a8b6e6" stop-opacity="0.064"/><stop offset="0.14" stop-color="#a8b6e6" stop-opacity="0.09"/><stop offset="0.18" stop-color="#a8b6e6" stop-opacity="0.128"/><stop offset="0.21" stop-color="#a8b6e6" stop-opacity="0.096"/><stop offset="0.29" stop-color="#a8b6e6" stop-opacity="0.096"/><stop offset="0.32" stop-color="#a8b6e6" stop-opacity="0.128"/><stop offset="0.36" stop-color="#a8b6e6" stop-opacity="0.09"/><stop offset="0.41" stop-color="#a8b6e6" stop-opacity="0.064"/><stop offset="0.45" stop-color="#a8b6e6" stop-opacity="0.32"/><stop offset="0.56" stop-color="#a8b6e6" stop-opacity="0.32"/><stop offset="0.59" stop-color="#a8b6e6" stop-opacity="0.064"/><stop offset="0.64" stop-color="#a8b6e6" stop-opacity="0.09"/><stop offset="0.68" stop-color="#a8b6e6" stop-opacity="0.128"/><stop offset="0.71" stop-color="#a8b6e6" stop-opacity="0.096"/><stop offset="0.79" stop-color="#a8b6e6" stop-opacity="0.096"/><stop offset="0.82" stop-color="#a8b6e6" stop-opacity="0.128"/><stop offset="0.86" stop-color="#a8b6e6" stop-opacity="0.09"/><stop offset="0.91" stop-color="#a8b6e6" stop-opacity="0.064"/><stop offset="0.94" stop-color="#a8b6e6" stop-opacity="0.32"/><stop offset="1" stop-color="#a8b6e6" stop-opacity="0.32"/></linearGradient>
<g stroke-width="5" stroke="url(#g21)">
<path d="M0 422l13 12 13 11 13 10 13 8 13 6 13 2 13-2 13-9 13-22 13-32 13-37 13-36 13-33 13-29 13-25 13-21 13-17 13-13 13-8 13-4 13 0 13 5 13 8 13 13 13 17 13 21 13 26 13 29 13 33 13 36 13 37 13 31 13 20 13 9 13 1 13-2 13-2 13-2 13-2 13-1 13 0 13 1 13 0 13 0 13 0 13 0 13 1 13 0 13-2 13-6 13-16 13-28 13-33 13-32 13-28 13-23 13-18 13-12 13-7 13-1 13 5 13 10 13 15 13 21 13 27 13 31 13 36 13 38 13 33 13 21 13 9 13 2 13-1 13-3 13-5 13-7 13-7 13-8 13-9 13-8"/>
<path d="M0 496l13-7 13-6 13-5 13-3 13-2 13-1 13 0 13-4 13-18 13-34 13-41 13-40 13-36 13-33 13-27 13-24 13-19 13-14 13-10 13-5 13-1 13 3 13 8 13 13 13 17 13 22 13 25 13 31 13 35 13 39 13 42 13 43 13 37 13 21 13 7 13-1 13-4 13-3 13-3 13-1 13 1 13 3 13 5 13 5 13 5 13 5 13 3 13-2 13-10 13-23 13-35 13-38 13-36 13-31 13-27 13-20 13-16 13-10 13-4 13 1 13 7 13 12 13 18 13 24 13 28 13 33 13 36 13 33 13 24 13 10 13 3 13 1 13 0 13 2 13 2 13 3 13 4 13 3 13 4 13 4"/>
<path d="M0 476l13 10 13 7 13 6 13 4 13 2 13-1 13-7 13-19 13-30 13-35 13-37 13-36 13-32 13-29 13-25 13-20 13-17 13-12 13-7 13-4 13 1 13 4 13 10 13 13 13 17 13 22 13 26 13 30 13 33 13 35 13 33 13 26 13 13 13 6 13 8 13 13 13 15 13 14 13 12 13 6 13 2 13 2 13 1 13 2 13 1 13 0 13-1 13-4 13-15 13-29 13-37 13-38 13-34 13-29 13-25 13-19 13-13 13-8 13-3 13 3 13 8 13 13 13 19 13 24 13 30 13 34 13 37 13 36 13 27 13 13 13 4 13 0 13 0 13-1 13 0 13-1 13-1 13-1 13-1 13-1"/>
<path d="M0 483l13-5 13-3 13-2 13-2 13 0 13-1 13 0 13-4 13-20 13-36 13-40 13-39 13-35 13-31 13-26 13-22 13-17 13-13 13-9 13-4 13 1 13 5 13 9 13 14 13 19 13 23 13 27 13 31 13 36 13 39 13 39 13 32 13 17 13 6 13 0 13-1 13-2 13-1 13-2 13-1 13-1 13-1 13-1 13-1 13-1 13-1 13-1 13-1 13-5 13-13 13-23 13-30 13-30 13-28 13-24 13-18 13-14 13-8 13-3 13 2 13 8 13 13 13 18 13 23 13 27 13 30 13 29 13 22 13 12 13 4 13 1 13 0 13 0 13 1 13 0 13 0 13 1 13 0 13 1 13 0"/>
<path d="M0 403l13 22 13 19 13 16 13 11 13 8 13 1 13-6 13-15 13-26 13-34 13-36 13-36 13-33 13-29 13-25 13-20 13-15 13-11 13-6 13-1 13 4 13 8 13 13 13 18 13 23 13 27 13 32 13 35 13 37 13 35 13 25 13 13 13 5 13 3 13 3 13 3 13 3 13 3 13 3 13 2 13 2 13 2 13 2 13 2 13 1 13 2 13 1 13-1 13-6 13-17 13-31 13-36 13-35 13-31 13-26 13-21 13-15 13-9 13-4 13 2 13 7 13 14 13 18 13 25 13 29 13 35 13 37 13 36 13 26 13 12 13 4 13 1 13-1 13-2 13-3 13-5 13-4 13-6 13-5 13-5"/>
<path d="M0 467l13-2 13-2 13-1 13-1 13-1 13-1 13-3 13-12 13-25 13-35 13-37 13-36 13-32 13-29 13-24 13-20 13-16 13-12 13-8 13-3 13 0 13 5 13 9 13 13 13 17 13 21 13 25 13 30 13 33 13 37 13 39 13 37 13 29 13 16 13 9 13 6 13 7 13 6 13 4 13 2 13-1 13-1 13-3 13-3 13-3 13-2 13-3 13-4 13-11 13-23 13-32 13-35 13-33 13-28 13-24 13-18 13-13 13-8 13-3 13 3 13 8 13 13 13 18 13 24 13 29 13 33 13 37 13 37 13 32 13 18 13 6 13 2 13 0 13-2 13-3 13-4 13-4 13-5 13-5 13-5"/>
<path d="M0 440l13-5 13-4 13-3 13-2 13-2 13-1 13 0 13 0 13-4 13-15 13-27 13-34 13-35 13-31 13-28 13-23 13-18 13-14 13-9 13-4 13 1 13 5 13 10 13 15 13 19 13 24 13 29 13 32 13 34 13 32 13 23 13 11 13 4 13 0 13-3 13-5 13-5 13-5 13-3 13-2 13 2 13 4 13 6 13 7 13 7 13 6 13 5 13 2 13 0 13-1 13-6 13-13 13-21 13-26 13-25 13-21 13-18 13-12 13-8 13-2 13 2 13 8 13 13 13 18 13 22 13 25 13 26 13 23 13 14 13 7 13 2 13 1 13 1 13 1 13 1 13 2 13 1 13 2 13 1 13 1"/>
<path d="M0 487l13-15 13-11 13-8 13-6 13-4 13-3 13-3 13-13 13-30 13-37 13-37 13-34 13-30 13-25 13-22 13-18 13-13 13-10 13-5 13-1 13 3 13 7 13 11 13 16 13 19 13 24 13 27 13 32 13 36 13 39 13 43 13 42 13 35 13 21 13 4 13-3 13-7 13-7 13-7 13-6 13-5 13-5 13-5 13-5 13-5 13-4 13-3 13-3 13-9 13-20 13-29 13-33 13-32 13-28 13-23 13-19 13-13 13-9 13-3 13 2 13 7 13 12 13 16 13 22 13 27 13 31 13 33 13 33 13 26 13 14 13 6 13 2 13 1 13 2 13 2 13 3 13 3 13 3 13 3 13 3"/>
<path d="M0 435l13-6 13-5 13-2 13-2 13-1 13 0 13 3 13 5 13 4 13-9 13-28 13-36 13-36 13-32 13-29 13-23 13-19 13-15 13-9 13-5 13 0 13 5 13 10 13 14 13 19 13 24 13 29 13 33 13 36 13 37 13 34 13 21 13 9 13 4 13 4 13 5 13 6 13 5 13 4 13 2 13-3 13-6 13-9 13-10 13-11 13-9 13-6 13-3 13-1 13-5 13-11 13-20 13-25 13-26 13-23 13-19 13-15 13-9 13-5 13 1 13 5 13 11 13 15 13 20 13 25 13 27 13 27 13 23 13 14 13 6 13 2 13 0 13 0 13-1 13-2 13-2 13-3 13-3 13-3 13-3"/>
<path d="M0 418l13 3 13 2 13 2 13 2 13 2 13 2 13 0 13-5 13-17 13-29 13-35 13-35 13-31 13-28 13-24 13-19 13-16 13-11 13-6 13-3 13 2 13 7 13 10 13 15 13 19 13 24 13 28 13 31 13 36 13 38 13 38 13 31 13 18 13 6 13-2 13-6 13-7 13-8 13-5 13-3 13 1 13 2 13 2 13 3 13 2 13 3 13 2 13 2 13-2 13-5 13-16 13-25 13-30 13-28 13-25 13-20 13-15 13-10 13-5 13 1 13 6 13 11 13 16 13 22 13 26 13 30 13 31 13 27 13 18 13 8 13 2 13 1 13-1 13-3 13-5 13-6 13-7 13-8 13-7 13-8"/>
</g>
</g></g>
<rect x="330.9" y="304" width="5.5" height="93.6" fill="url(#jet)"/>
<text class="c" x="337.7" y="384.44">5</text><text class="c" x="337.7" y="364.01">10</text><text class="c" x="337.7" y="343.57">15</text><text class="c" x="337.7" y="323.13">20</text>
<text class="c" text-anchor="middle" transform="translate(346.6 350.8) rotate(-90)">Density(%)</text>
</g>
<g>
<text class="t" x="428.98" y="302.1">Persistence spectrum</text>
<text class="a" x="428.98" y="408">Frequency (Hz)</text>
<text class="a" transform="translate(365.4 350.8) rotate(-90)">Power Spectrum (dB)</text>
<text class="k" text-anchor="middle" x="376.2" y="403.1">0</text><text class="k" text-anchor="middle" x="402.34" y="403.1">50</text><text class="k" text-anchor="middle" x="428.48" y="403.1">100</text><text class="k" text-anchor="middle" x="454.61" y="403.1">150</text><text class="k" text-anchor="middle" x="480.75" y="403.1">200</text>
<text class="k" text-anchor="end" x="374.6" y="305.2">0</text><text class="k" text-anchor="end" x="374.6" y="314.56">-10</text><text class="k" text-anchor="end" x="374.6" y="323.92">-20</text><text class="k" text-anchor="end" x="374.6" y="333.28">-30</text><text class="k" text-anchor="end" x="374.6" y="342.64">-40</text><text class="k" text-anchor="end" x="374.6" y="352">-50</text><text class="k" text-anchor="end" x="374.6" y="361.36">-60</text><text class="k" text-anchor="end" x="374.6" y="370.72">-70</text><text class="k" text-anchor="end" x="374.6" y="380.08">-80</text><text class="k" text-anchor="end" x="374.6" y="389.44">-90</text><text class="k" text-anchor="end" x="374.6" y="398.8">-100</text>
<rect x="376.2" y="304" width="104.55" height="93.6" fill="#000082"/><g transform="translate(376.2 304)" filter="url(#fd)"><rect width="104.55" height="93.6" fill="#000"/><g transform="scale(.1)" class="cv">
<linearGradient id="g22" gradientUnits="userSpaceOnUse" x1="0" y1="0" x2="1045.5" y2="0"><stop offset="0" stop-color="#fff" stop-opacity="0.014"/><stop offset="0.04" stop-color="#fff" stop-opacity="0.014"/><stop offset="0.08" stop-color="#fff" stop-opacity="0.011"/><stop offset="0.14" stop-color="#fff" stop-opacity="0.016"/><stop offset="0.18" stop-color="#fff" stop-opacity="0.022"/><stop offset="0.21" stop-color="#fff" stop-opacity="0.028"/><stop offset="0.29" stop-color="#fff" stop-opacity="0.028"/><stop offset="0.32" stop-color="#fff" stop-opacity="0.022"/><stop offset="0.36" stop-color="#fff" stop-opacity="0.016"/><stop offset="0.41" stop-color="#fff" stop-opacity="0.011"/><stop offset="0.45" stop-color="#fff" stop-opacity="0.014"/><stop offset="0.56" stop-color="#fff" stop-opacity="0.014"/><stop offset="0.59" stop-color="#fff" stop-opacity="0.011"/><stop offset="0.64" stop-color="#fff" stop-opacity="0.016"/><stop offset="0.68" stop-color="#fff" stop-opacity="0.022"/><stop offset="0.71" stop-color="#fff" stop-opacity="0.028"/><stop offset="0.79" stop-color="#fff" stop-opacity="0.028"/><stop offset="0.82" stop-color="#fff" stop-opacity="0.022"/><stop offset="0.86" stop-color="#fff" stop-opacity="0.016"/><stop offset="0.91" stop-color="#fff" stop-opacity="0.011"/><stop offset="0.94" stop-color="#fff" stop-opacity="0.014"/><stop offset="1" stop-color="#fff" stop-opacity="0.014"/></linearGradient>
<g stroke-width="22" stroke="url(#g22)">
<path d="M0 585l26-5 26-6 26-17 27-63 26-86 26-75 26-61 26-44 26-28 26-12 27 5 26 20 26 37 26 52 26 68 26 76 26 48 26 7 27-1 26 0 26 4 26 10 26 11 26-2 26-53 27-85 26-71 26-51 26-31 26-10 26 10 26 31 27 51 26 72 26 89 26 79 26 25 26 11 26 15 27 16"/>
<path d="M0 585l26-8 26-8 26-9 27-35 26-78 26-79 26-63 26-47 26-30 26-14 27 4 26 20 26 38 26 54 26 70 26 78 26 45 26 1 27-7 26-2 26 4 26 8 26 7 26-7 26-53 27-82 26-70 26-52 26-32 26-13 26 7 26 26 27 46 26 64 26 80 26 65 26 15 26 14 26 28 27 32"/>
<path d="M0 581l26 1 26 0 26-6 27-51 26-87 26-80 26-63 26-47 26-30 26-12 27 4 26 21 26 39 26 55 26 69 26 66 26 27 26 6 27 4 26 5 26 6 26 9 26 6 26-2 26-42 27-80 26-73 26-55 26-34 26-15 26 6 26 25 27 45 26 65 26 81 26 68 26 18 26 10 26 20 27 23"/>
<path d="M0 617l26-4 26-5 26-23 27-76 26-89 26-76 26-60 26-43 26-26 26-10 27 7 26 24 26 41 26 57 26 73 26 86 26 63 26 3 27-10 26-8 26-5 26-4 26-3 26-3 26-32 27-80 26-75 26-56 26-36 26-16 26 6 26 26 27 47 26 67 26 86 26 86 26 30 26 1 26-3 27-3"/>
<path d="M0 569l26 4 26 2 26-5 27-45 26-82 26-77 26-61 26-45 26-28 26-12 27 5 26 21 26 38 26 54 26 69 26 71 26 29 26-7 27-9 26-4 26 9 26 19 26 17 26 2 26-45 27-80 26-72 26-53 26-33 26-15 26 6 26 24 27 44 26 64 26 80 26 78 26 29 26 5 26 3 27 3"/>
<path d="M0 610l26-27 26-24 26-11 27-16 26-61 26-74 26-63 26-47 26-31 26-14 27 2 26 18 26 35 26 51 26 67 26 75 26 47 26-2 27-12 26-6 26 2 26 5 26 5 26-7 26-55 27-81 26-67 26-48 26-28 26-9 26 12 26 32 27 52 26 71 26 83 26 53 26 10 26 8 26 15 27 15"/>
<path d="M0 585l26-19 26-18 26-15 27-41 26-82 26-81 26-65 26-48 26-30 26-14 27 4 26 21 26 38 26 55 26 72 26 76 26 38 26 2 27-3 26-1 26 12 26 26 26 24 26-6 26-69 27-87 26-70 26-49 26-30 26-9 26 11 26 31 27 52 26 72 26 90 26 79 26 20 26 0 26-1 27-3"/>
<path d="M0 615l26-30 26-27 26-14 27-27 26-69 26-73 26-59 26-43 26-26 26-10 27 8 26 23 26 40 26 57 26 72 26 74 26 37 26 0 27-6 26-6 26-9 26-11 26-8 26-4 26-27 27-69 26-69 26-52 26-33 26-13 26 6 26 25 27 45 26 63 26 81 26 76 26 28 26 5 26 3 27 2"/>
<path d="M0 592l26-6 26-7 26-20 27-72 26-90 26-77 26-61 26-44 26-27 26-11 27 5 26 23 26 39 26 55 26 72 26 84 26 65 26 7 27-7 26-3 26 5 26 12 26 11 26-13 26-73 27-86 26-69 26-50 26-30 26-10 26 11 26 29 27 50 26 70 26 86 26 81 26 25 26 3 26 2 27 2"/>
<path d="M0 608l26-15 26-14 26-17 27-65 26-92 26-81 26-64 26-47 26-30 26-12 27 5 26 22 26 39 26 56 26 74 26 88 26 82 26 12 27-16 26-9 26-2 26-2 26-1 26-4 26-37 27-80 26-75 26-56 26-36 26-15 26 5 26 25 27 46 26 66 26 83 26 83 26 34 26 17 26 25 27 28"/>
<path d="M0 581l26 0 26-1 26-13 27-65 26-90 26-78 26-60 26-44 26-26 26-9 27 8 26 26 26 43 26 61 26 77 26 88 26 56 26 1 27-11 26-7 26-4 26-3 26-3 26-7 26-51 27-81 26-69 26-50 26-30 26-10 26 10 26 29 27 49 26 69 26 88 26 88 26 38 26 10 26 7 27 8"/>
<path d="M0 621l26-14 26-15 26-28 27-75 26-88 26-74 26-58 26-42 26-25 26-8 27 8 26 25 26 41 26 58 26 73 26 77 26 41 26 7 27 3 26 2 26-2 26-3 26-4 26-10 26-56 27-82 26-68 26-49 26-29 26-8 26 12 26 31 27 52 26 72 26 90 26 90 26 33 26 1 26-2 27-2"/>
<path d="M0 606l26 1 26-1 26-19 27-75 26-89 26-76 26-60 26-44 26-28 26-11 27 5 26 22 26 37 26 54 26 70 26 81 26 63 26 24 27 12 26 5 26-4 26-9 26-9 26-19 26-72 27-84 26-68 26-49 26-28 26-8 26 12 26 32 27 52 26 72 26 91 26 90 26 32 26-3 26-11 27-13"/>
<path d="M0 564l26 8 26 6 26-11 27-68 26-91 26-77 26-62 26-44 26-28 26-11 27 6 26 23 26 40 26 56 26 73 26 82 26 48 26-12 27-22 26-9 26 4 26 10 26 9 26 1 26-36 27-75 26-68 26-50 26-31 26-11 26 8 26 28 27 47 26 66 26 80 26 60 26 16 26 7 26 10 27 11"/>
<path d="M0 609l26-26 26-24 26-16 27-30 26-77 26-81 26-66 26-49 26-32 26-14 27 3 26 21 26 38 26 55 26 71 26 78 26 44 26 11 27 6 26 3 26-1 26-4 26-3 26-5 26-43 27-81 26-73 26-52 26-33 26-13 26 8 26 29 27 48 26 69 26 88 26 94 26 43 26-2 26-12 27-15"/>
<path d="M0 602l26 3 26 1 26-13 27-64 26-85 26-75 26-58 26-42 26-26 26-9 27 6 26 24 26 39 26 56 26 72 26 80 26 54 26 9 27-1 26-1 26-7 26-12 26-11 26-6 26-40 27-83 26-77 26-57 26-36 26-16 26 4 26 26 27 46 26 66 26 86 26 89 26 37 26 1 26-2 27-3"/>
<path d="M0 567l26-10 26-10 26-14 27-57 26-85 26-75 26-58 26-43 26-25 26-10 27 8 26 24 26 41 26 57 26 73 26 85 26 62 26 3 27-12 26-5 26 2 26 7 26 5 26-8 26-62 27-83 26-67 26-49 26-28 26-9 26 12 26 31 27 51 26 70 26 86 26 71 26 19 26 12 26 18 27 21"/>
<path d="M0 562l26 10 26 9 26-9 27-68 26-92 26-80 26-63 26-47 26-30 26-13 27 4 26 20 26 38 26 54 26 70 26 84 26 66 26-1 27-18 26-9 26 9 26 19 26 19 26 5 26-40 27-87 26-77 26-58 26-36 26-16 26 6 26 27 27 48 26 68 26 88 26 89 26 33 26 5 26 2 27 2"/>
<path d="M0 551l26 0 26 0 26-2 27-26 26-76 26-81 26-67 26-49 26-32 26-15 27 2 26 20 26 38 26 54 26 68 26 64 26 23 26 7 27 7 26 8 26 12 26 15 26 13 26-8 26-65 27-82 26-67 26-48 26-29 26-9 26 11 26 30 27 49 26 69 26 86 26 82 26 26 26-4 26-14 27-15"/>
<path d="M0 566l26 8 26 7 26-3 27-43 26-82 26-78 26-62 26-46 26-30 26-14 27 3 26 19 26 34 26 51 26 66 26 70 26 41 26 13 27 9 26 9 26 8 26 8 26 5 26-19 26-77 27-85 26-68 26-49 26-30 26-10 26 10 26 29 27 49 26 68 26 85 26 82 26 27 26 6 26 7 27 8"/>
<path d="M0 598l26-25 26-22 26-11 27-19 26-63 26-76 26-63 26-47 26-31 26-14 27 3 26 19 26 35 26 52 26 67 26 78 26 56 26 8 27-2 26-2 26 1 26 0 26 0 26-13 26-64 27-82 26-68 26-48 26-29 26-9 26 9 26 29 27 49 26 67 26 85 26 83 26 31 26 5 26 2 27 2"/>
<path d="M0 565l26-3 26-3 26-6 27-30 26-72 26-75 26-61 26-44 26-28 26-11 27 5 26 23 26 39 26 55 26 68 26 61 26 20 26 6 27 5 26 4 26 6 26 5 26 6 26-4 26-53 27-83 26-70 26-51 26-30 26-10 26 10 26 30 27 51 26 70 26 87 26 73 26 20 26 7 26 7 27 8"/>
<path d="M0 609l26-7 26-6 26-18 27-70 26-91 26-80 26-64 26-47 26-30 26-14 27 2 26 20 26 36 26 52 26 69 26 84 26 76 26 9 27-15 26-8 26 2 26 2 26 3 26-1 26-41 27-83 26-74 26-53 26-33 26-12 26 8 26 29 27 50 26 71 26 90 26 95 26 43 26 8 26 6 27 5"/>
<path d="M0 585l26-11 26-11 26-12 27-55 26-86 26-77 26-60 26-44 26-26 26-9 27 8 26 25 26 42 26 59 26 76 26 89 26 68 26 10 27-6 26-7 26-10 26-11 26-9 26-6 26-41 27-83 26-73 26-55 26-34 26-14 26 7 26 28 27 48 26 68 26 88 26 93 26 43 26 9 26 6 27 6"/>
<path d="M0 589l26-9 26-8 26-14 27-53 26-86 26-80 26-63 26-46 26-29 26-11 27 6 26 23 26 41 26 58 26 72 26 70 26 30 26 16 27 15 26 7 26-2 26-5 26-4 26-7 26-43 27-78 26-70 26-51 26-32 26-12 26 7 26 28 27 46 26 66 26 82 26 73 26 23 26 11 26 15 27 16"/>
<path d="M0 593l26-8 26-7 26-12 27-56 26-92 26-82 26-66 26-49 26-30 26-14 27 4 26 22 26 39 26 57 26 74 26 87 26 70 26 20 27 8 26 3 26-2 26-4 26-4 26-13 26-64 27-86 26-70 26-51 26-31 26-11 26 9 26 29 27 49 26 69 26 87 26 94 26 41 26 0 26-8 27-10"/>
<path d="M0 575l26 11 26 9 26-19 27-80 26-92 26-78 26-62 26-46 26-30 26-14 27 3 26 18 26 34 26 51 26 66 26 81 26 85 26 20 27-23 26-12 26 3 26 5 26 7 26 1 26-41 27-83 26-73 26-54 26-34 26-13 26 7 26 28 27 48 26 68 26 87 26 89 26 37 26 6 26 4 27 4"/>
<path d="M0 578l26 6 26 3 26-2 27-41 26-86 26-82 26-66 26-49 26-32 26-15 27 2 26 19 26 36 26 53 26 69 26 75 26 35 26-13 27-17 26-8 26 15 26 33 26 29 26-1 26-51 27-84 26-73 26-53 26-33 26-14 26 6 26 27 27 46 26 66 26 82 26 71 26 18 26 10 26 19 27 21"/>
<path d="M0 590l26-3 26-3 26-8 27-47 26-86 26-82 26-65 26-48 26-31 26-14 27 3 26 21 26 38 26 55 26 72 26 79 26 46 26 3 27-2 26-2 26 4 26 9 26 9 26 0 26-43 27-85 26-75 26-56 26-34 26-14 26 8 26 29 27 49 26 71 26 88 26 78 26 22 26 4 26 4 27 4"/>
<path d="M0 558l26 6 26 3 26-9 27-61 26-85 26-75 26-59 26-43 26-26 26-9 27 7 26 23 26 40 26 56 26 71 26 69 26 22 26-8 27-10 26-5 26 14 26 28 26 25 26-5 26-62 27-81 26-68 26-48 26-29 26-9 26 10 26 30 27 49 26 68 26 83 26 67 26 17 26 8 26 15 27 17"/>
<path d="M0 610l26-13 26-13 26-19 27-65 26-89 26-77 26-62 26-45 26-29 26-12 27 5 26 21 26 38 26 54 26 70 26 84 26 64 26-4 27-20 26-10 26 12 26 24 26 22 26-5 26-70 27-89 26-73 26-52 26-31 26-9 26 12 26 34 27 54 26 76 26 92 26 71 26 14 26 3 26 5 27 4"/>
<path d="M0 617l26-12 26-11 26-20 27-67 26-89 26-78 26-63 26-46 26-30 26-14 27 3 26 18 26 36 26 51 26 67 26 82 26 75 26 24 27 0 26-1 26 0 26 0 26-1 26-5 26-46 27-82 26-73 26-54 26-34 26-13 26 6 26 27 27 47 26 67 26 86 26 92 26 39 26 3 26 0 27 1"/>
<path d="M0 572l26 8 26 5 26-8 27-62 26-89 26-79 26-64 26-47 26-31 26-14 27 2 26 18 26 34 26 51 26 65 26 72 26 42 26 8 27 0 26 1 26 5 26 10 26 11 26 3 26-37 27-82 26-75 26-55 26-34 26-13 26 7 26 28 27 49 26 70 26 87 26 83 26 27 26 7 26 5 27 5"/>
<path d="M0 587l26-11 26-10 26-15 27-52 26-84 26-77 26-61 26-44 26-26 26-9 27 8 26 26 26 44 26 60 26 73 26 60 26 17 26 2 27 3 26 2 26 7 26 11 26 11 26 0 26-45 27-82 26-73 26-53 26-34 26-13 26 7 26 27 27 47 26 67 26 84 26 77 26 25 26 7 26 7 27 8"/>
</g>
<linearGradient id="g23" gradientUnits="userSpaceOnUse" x1="0" y1="0" x2="1045.5" y2="0"><stop offset="0" stop-color="#fff" stop-opacity="0.048"/><stop offset="0.04" stop-color="#fff" stop-opacity="0.048"/><stop offset="0.08" stop-color="#fff" stop-opacity="0.03"/><stop offset="0.14" stop-color="#fff" stop-opacity="0.042"/><stop offset="0.18" stop-color="#fff" stop-opacity="0.06"/><stop offset="0.21" stop-color="#fff" stop-opacity="0.108"/><stop offset="0.29" stop-color="#fff" stop-opacity="0.108"/><stop offset="0.32" stop-color="#fff" stop-opacity="0.06"/><stop offset="0.36" stop-color="#fff" stop-opacity="0.042"/><stop offset="0.41" stop-color="#fff" stop-opacity="0.03"/><stop offset="0.45" stop-color="#fff" stop-opacity="0.048"/><stop offset="0.56" stop-color="#fff" stop-opacity="0.048"/><stop offset="0.59" stop-color="#fff" stop-opacity="0.03"/><stop offset="0.64" stop-color="#fff" stop-opacity="0.042"/><stop offset="0.68" stop-color="#fff" stop-opacity="0.06"/><stop offset="0.71" stop-color="#fff" stop-opacity="0.108"/><stop offset="0.79" stop-color="#fff" stop-opacity="0.108"/><stop offset="0.82" stop-color="#fff" stop-opacity="0.06"/><stop offset="0.86" stop-color="#fff" stop-opacity="0.042"/><stop offset="0.91" stop-color="#fff" stop-opacity="0.03"/><stop offset="0.94" stop-color="#fff" stop-opacity="0.048"/><stop offset="1" stop-color="#fff" stop-opacity="0.048"/></linearGradient>
<g stroke-width="6.2" stroke="url(#g23)">
<path d="M0 595l13-5 13-5 13-4 13-4 13-4 13-6 13-17 14-35 13-45 13-47 13-44 13-40 13-36 13-31 13-27 13-23 13-18 13-14 13-9 13-5 13 0 14 4 13 9 13 13 13 17 13 22 13 26 13 31 13 35 13 39 13 44 13 47 13 46 13 37 13 16 13-1 14-6 13-6 13-5 13-2 13 2 13 3 13 4 13 5 13 5 13 3 13-4 13-19 13-37 13-45 14-45 13-41 13-37 13-32 13-27 13-22 13-17 13-12 13-7 13-2 13 2 13 8 13 12 13 18 13 22 14 27 13 33 13 37 13 41 13 46 13 46 13 40 13 23 13 8 13 4 13 3 13 4 13 4 13 4 14 4"/>
<path d="M0 609l13-1 13-1 13-1 13-3 13-6 13-19 13-38 14-47 13-49 13-45 13-42 13-38 13-33 13-29 13-25 13-20 13-16 13-12 13-7 13-3 13 1 14 6 13 10 13 14 13 18 13 23 13 27 13 32 13 36 13 39 13 43 13 44 13 39 13 25 13 11 13 6 14 4 13 4 13 3 13 2 13 1 13 2 13 1 13 1 13 1 13-1 13-6 13-20 13-37 13-46 14-44 13-41 13-37 13-32 13-27 13-22 13-17 13-12 13-8 13-3 13 3 13 7 13 12 13 16 13 22 14 27 13 31 13 36 13 41 13 44 13 46 13 40 13 23 13 8 13 3 13 3 13 3 13 4 13 3 14 4"/>
<path d="M0 590l13 1 13 0 13 0 13-1 13-4 13-14 13-32 14-44 13-46 13-45 13-41 13-37 13-33 13-29 13-25 13-21 13-17 13-13 13-8 13-5 13-1 14 4 13 7 13 12 13 15 13 20 13 23 13 28 13 32 13 36 13 39 13 43 13 44 13 38 13 22 13 6 14-2 13-3 13-2 13-1 13 2 13 4 13 6 13 7 13 7 13 5 13 2 13-8 13-28 13-45 14-49 13-46 13-41 13-35 13-31 13-25 13-20 13-14 13-9 13-4 13 2 13 7 13 13 13 18 13 23 14 29 13 34 13 40 13 44 13 49 13 50 13 44 13 24 13 9 13 3 13 2 13 2 13 2 13 2 14 3"/>
<path d="M0 600l13-2 13-1 13-1 13-3 13-6 13-18 13-35 14-45 13-48 13-44 13-41 13-37 13-33 13-29 13-24 13-20 13-16 13-11 13-7 13-3 13 1 14 5 13 10 13 14 13 18 13 23 13 27 13 31 13 35 13 39 13 43 13 44 13 39 13 25 13 7 13 0 14-3 13-2 13-2 13 0 13 2 13 5 13 8 13 8 13 8 13 6 13 1 13-10 13-27 13-43 14-47 13-45 13-40 13-36 13-30 13-25 13-19 13-15 13-9 13-4 13 1 13 6 13 12 13 17 13 22 14 27 13 33 13 38 13 42 13 46 13 45 13 35 13 17 13 4 13 2 13 3 13 5 13 5 13 5 14 5"/>
<path d="M0 589l13 0 13 0 13-1 13-2 13-9 13-23 13-40 14-45 13-46 13-42 13-39 13-35 13-31 13-27 13-23 13-19 13-15 13-11 13-7 13-3 13 1 14 5 13 9 13 12 13 17 13 21 13 25 13 29 13 32 13 37 13 40 13 42 13 43 13 35 13 20 13 8 14 1 13 1 13 0 13 0 13 0 13 2 13 2 13 2 13 3 13 1 13 0 13-10 13-27 13-43 14-46 13-44 13-40 13-34 13-30 13-24 13-19 13-14 13-9 13-4 13 2 13 6 13 12 13 17 13 22 14 28 13 32 13 37 13 43 13 46 13 49 13 42 13 25 13 9 13 4 13 1 13 2 13 2 13 2 14 1"/>
<path d="M0 608l13-6 13-6 13-6 13-6 13-6 13-11 13-25 14-41 13-46 13-46 13-42 13-38 13-34 13-30 13-26 13-22 13-17 13-13 13-10 13-4 13-1 14 3 13 8 13 12 13 16 13 20 13 25 13 29 13 32 13 37 13 41 13 44 13 46 13 40 13 25 13 7 14 0 13-2 13-2 13 0 13 0 13 0 13 0 13 0 13 0 13-1 13-5 13-16 13-33 13-43 14-44 13-41 13-37 13-32 13-27 13-22 13-17 13-13 13-7 13-3 13 2 13 7 13 12 13 17 13 21 14 27 13 31 13 36 13 40 13 45 13 46 13 40 13 25 13 10 13 3 13 3 13 2 13 2 13 3 14 2"/>
<path d="M0 576l13 3 13 2 13 2 13 1 13-3 13-14 13-32 14-46 13-48 13-46 13-41 13-38 13-34 13-29 13-25 13-20 13-16 13-12 13-8 13-3 13 1 14 5 13 10 13 14 13 18 13 22 13 27 13 31 13 36 13 39 13 42 13 43 13 38 13 23 13 11 13 6 14 5 13 3 13 3 13 1 13-1 13 0 13 0 13 0 13 0 13-1 13-3 13-11 13-27 13-39 14-44 13-41 13-37 13-32 13-28 13-24 13-18 13-14 13-8 13-5 13 1 13 6 13 10 13 15 13 20 14 25 13 29 13 34 13 39 13 43 13 44 13 41 13 27 13 11 13 4 13 2 13 2 13 2 13 2 14 2"/>
<path d="M0 582l13-2 13-3 13-3 13-3 13-4 13-9 13-22 14-38 13-44 13-45 13-42 13-38 13-34 13-29 13-26 13-22 13-17 13-13 13-9 13-5 13-1 14 4 13 7 13 12 13 16 13 20 13 24 13 28 13 33 13 36 13 40 13 44 13 44 13 39 13 22 13 7 14 0 13-2 13-1 13-1 13 1 13 3 13 4 13 5 13 4 13 3 13-3 13-16 13-35 13-45 14-44 13-42 13-37 13-32 13-28 13-22 13-18 13-13 13-9 13-3 13 2 13 6 13 11 13 16 13 21 14 25 13 31 13 35 13 40 13 44 13 47 13 46 13 33 13 15 13 4 13 0 13-2 13-2 13-2 14-2"/>
<path d="M0 588l13-1 13-2 13-2 13-2 13-3 13-9 13-22 14-39 13-47 13-47 13-43 13-39 13-36 13-31 13-26 13-22 13-18 13-13 13-9 13-5 13-1 14 5 13 8 13 13 13 17 13 21 13 26 13 30 13 35 13 39 13 43 13 45 13 45 13 35 13 14 13 0 14-4 13-5 13-3 13-1 13 0 13 2 13 3 13 4 13 3 13 3 13 0 13-9 13-26 13-41 14-46 13-43 13-39 13-34 13-29 13-24 13-19 13-13 13-9 13-4 13 2 13 6 13 12 13 17 13 22 14 27 13 32 13 37 13 41 13 46 13 47 13 39 13 23 13 8 13 4 13 4 13 5 13 5 13 6 14 5"/>
<path d="M0 581l13-2 13-1 13-1 13-2 13-4 13-10 13-25 14-39 13-46 13-45 13-41 13-38 13-34 13-29 13-25 13-22 13-17 13-12 13-9 13-4 13-1 14 4 13 8 13 13 13 16 13 21 13 25 13 29 13 33 13 37 13 40 13 43 13 41 13 32 13 15 13 5 14 1 13 1 13 0 13 0 13 0 13 2 13 2 13 2 13 2 13 2 13 1 13-6 13-21 13-39 14-46 13-44 13-40 13-36 13-30 13-25 13-19 13-15 13-8 13-4 13 2 13 7 13 12 13 17 13 23 14 29 13 33 13 39 13 43 13 47 13 46 13 35 13 16 13 6 13 3 13 4 13 5 13 6 13 6 14 6"/>
<path d="M0 598l13-8 13-8 13-8 13-6 13-7 13-7 13-17 14-33 13-43 13-46 13-42 13-40 13-34 13-31 13-26 13-22 13-18 13-13 13-9 13-5 13 0 14 4 13 8 13 13 13 17 13 21 13 26 13 30 13 34 13 39 13 42 13 43 13 40 13 28 13 13 13 5 14 2 13 2 13 1 13 0 13 0 13-1 13 0 13-1 13-1 13-1 13-2 13-7 13-21 13-37 14-45 13-44 13-39 13-34 13-29 13-24 13-18 13-13 13-8 13-3 13 3 13 9 13 13 13 19 13 24 14 30 13 35 13 40 13 45 13 48 13 47 13 35 13 17 13 6 13 2 13 2 13 2 13 3 13 2 14 2"/>
<path d="M0 591l13-3 13-2 13-3 13-3 13-4 13-9 13-22 14-39 13-47 13-46 13-43 13-39 13-35 13-31 13-26 13-22 13-18 13-14 13-9 13-5 13-1 14 4 13 8 13 12 13 16 13 21 13 25 13 29 13 33 13 38 13 41 13 45 13 44 13 37 13 20 13 7 14 2 13 0 13 0 13 0 13 0 13-2 13-2 13-3 13-2 13-2 13-3 13-7 13-21 13-37 14-43 13-43 13-39 13-34 13-29 13-24 13-19 13-14 13-9 13-4 13 2 13 6 13 12 13 17 13 22 14 27 13 32 13 37 13 41 13 46 13 45 13 36 13 19 13 7 13 2 13 2 13 2 13 2 13 2 14 1"/>
<path d="M0 603l13-8 13-9 13-8 13-7 13-8 13-12 13-25 14-39 13-45 13-43 13-41 13-37 13-33 13-29 13-25 13-21 13-17 13-13 13-8 13-5 13-1 14 4 13 7 13 12 13 15 13 20 13 24 13 27 13 32 13 36 13 39 13 43 13 43 13 36 13 21 13 6 14 0 13-1 13-1 13 0 13 0 13 2 13 1 13 3 13 2 13 1 13-1 13-8 13-25 13-40 14-45 13-43 13-38 13-34 13-28 13-24 13-18 13-13 13-8 13-3 13 3 13 7 13 13 13 18 13 23 14 28 13 33 13 38 13 43 13 45 13 44 13 31 13 15 13 4 13 3 13 4 13 5 13 5 13 5 14 6"/>
<path d="M0 596l13-2 13-1 13-1 13-3 13-7 13-19 13-36 14-45 13-46 13-44 13-40 13-36 13-33 13-28 13-24 13-21 13-16 13-13 13-8 13-5 13 0 14 3 13 7 13 12 13 15 13 19 13 23 13 28 13 31 13 35 13 39 13 41 13 44 13 39 13 25 13 8 14 0 13-2 13-1 13-1 13 1 13 4 13 5 13 6 13 5 13 4 13-3 13-16 13-35 13-44 14-45 13-41 13-37 13-32 13-28 13-22 13-18 13-13 13-9 13-3 13 1 13 6 13 11 13 16 13 20 14 25 13 30 13 35 13 39 13 44 13 46 13 44 13 31 13 14 13 6 13 5 13 5 13 5 13 6 14 6"/>
</g>
<linearGradient id="g24" gradientUnits="userSpaceOnUse" x1="0" y1="0" x2="1045.5" y2="0"><stop offset="0" stop-color="#fff" stop-opacity="0.12"/><stop offset="0.04" stop-color="#fff" stop-opacity="0.12"/><stop offset="0.08" stop-color="#fff" stop-opacity="0"/><stop offset="0.14" stop-color="#fff" stop-opacity="0"/><stop offset="0.18" stop-color="#fff" stop-opacity="0"/><stop offset="0.21" stop-color="#fff" stop-opacity="0"/><stop offset="0.29" stop-color="#fff" stop-opacity="0"/><stop offset="0.32" stop-color="#fff" stop-opacity="0"/><stop offset="0.36" stop-color="#fff" stop-opacity="0"/><stop offset="0.41" stop-color="#fff" stop-opacity="0"/><stop offset="0.45" stop-color="#fff" stop-opacity="0.12"/><stop offset="0.56" stop-color="#fff" stop-opacity="0.12"/><stop offset="0.59" stop-color="#fff" stop-opacity="0"/><stop offset="0.64" stop-color="#fff" stop-opacity="0"/><stop offset="0.68" stop-color="#fff" stop-opacity="0"/><stop offset="0.71" stop-color="#fff" stop-opacity="0"/><stop offset="0.79" stop-color="#fff" stop-opacity="0"/><stop offset="0.82" stop-color="#fff" stop-opacity="0"/><stop offset="0.86" stop-color="#fff" stop-opacity="0"/><stop offset="0.91" stop-color="#fff" stop-opacity="0"/><stop offset="0.94" stop-color="#fff" stop-opacity="0.12"/><stop offset="1" stop-color="#fff" stop-opacity="0.12"/></linearGradient>
<g stroke-width="6.5" stroke="url(#g24)">
<path d="M0 580l13-7 13-6 13-5 13-2 13-1 13-6 13-18 14-35 13-45 13-44 13-43 13-38 13-34 13-30 13-25 13-22 13-17 13-13 13-8 13-5 13 0 14 4 13 8 13 13 13 17 13 21 13 25 13 30 13 34 13 38 13 42 13 45 13 42 13 6 13-18 13 12 14 35 13 29 13-1 13-19 13-18 13-2 13 19 13 24 13 8 13-19 13-28 13-16 13-9 13-23 14-38 13-43 13-40 13-36 13-30 13-25 13-20 13-14 13-9 13-3 13 3 13 8 13 13 13 19 13 25 14 30 13 35 13 41 13 45 13 48 13 45 13 30 13 15 13 9 13 12 13 12 13 5 13-2 13-4 14-9"/>
<path d="M0 573l13-5 13-6 13-4 13-3 13-1 13-4 13-9 14-26 13-41 13-46 13-45 13-42 13-38 13-32 13-28 13-24 13-19 13-14 13-10 13-5 13-1 14 5 13 9 13 13 13 18 13 23 13 27 13 32 13 37 13 40 13 45 13 45 13 36 13 11 13-8 13-14 14-19 13-13 13 3 13 20 13 25 13 19 13 19 13 15 13 4 13-17 13-26 13-15 13-11 13-26 14-39 13-43 13-40 13-35 13-30 13-24 13-19 13-13 13-8 13-2 13 3 13 9 13 14 13 20 13 26 14 31 13 37 13 41 13 46 13 47 13 39 13 20 13 7 13 0 13-11 13-12 13-4 13 7 13 17 14 24"/>
<path d="M0 576l13 11 13 12 13 8 13 1 13-13 13-29 13-43 14-47 13-46 13-42 13-38 13-35 13-30 13-27 13-22 13-19 13-14 13-11 13-6 13-2 13 1 14 6 13 10 13 13 13 18 13 22 13 25 13 30 13 33 13 35 13 36 13 30 13 19 13 9 13 3 13 9 14 22 13 17 13-2 13-20 13-19 13-4 13 7 13 11 13 11 13 13 13 13 13 0 13-17 13-35 14-43 13-42 13-39 13-34 13-29 13-24 13-19 13-14 13-9 13-4 13 1 13 6 13 11 13 17 13 21 14 26 13 31 13 36 13 41 13 44 13 44 13 36 13 20 13 9 13 12 13 13 13 4 13-6 13-13 14-20"/>
<path d="M0 600l13 0 13 0 13 0 13-2 13-9 13-23 13-38 14-44 13-45 13-42 13-38 13-35 13-31 13-27 13-23 13-20 13-16 13-12 13-8 13-4 13-1 14 3 13 7 13 11 13 15 13 18 13 22 13 26 13 30 13 33 13 35 13 35 13 38 13 43 13 38 13 13 14-4 13-5 13 0 13 6 13 6 13-1 13-20 13-23 13-8 13 21 13 29 13 7 13-27 13-43 14-47 13-46 13-40 13-36 13-30 13-25 13-19 13-13 13-8 13-3 13 3 13 8 13 14 13 20 13 24 14 31 13 35 13 41 13 46 13 46 13 39 13 19 13 5 13-1 13-9 13-9 13-4 13 2 13 5 14 8"/>
<path d="M0 576l13 6 13 5 13 5 13 0 13-6 13-18 13-37 14-45 13-47 13-44 13-40 13-36 13-32 13-28 13-23 13-20 13-15 13-12 13-7 13-3 13 1 14 5 13 9 13 14 13 17 13 22 13 26 13 29 13 34 13 38 13 42 13 45 13 42 13 25 13 3 13 8 14 14 13 12 13-5 13-29 13-29 13-6 13 6 13 8 13 6 13 7 13 5 13-5 13-21 13-37 14-44 13-42 13-39 13-34 13-28 13-23 13-18 13-13 13-8 13-2 13 3 13 8 13 14 13 19 13 24 14 29 13 34 13 40 13 43 13 43 13 34 13 17 13 5 13 1 13 3 13 3 13 5 13 14 13 22 14 28"/>
<path d="M0 584l13 5 13 5 13 4 13 0 13-5 13-18 13-36 14-46 13-47 13-45 13-41 13-36 13-33 13-28 13-25 13-20 13-16 13-12 13-8 13-3 13 0 14 5 13 8 13 13 13 17 13 22 13 25 13 29 13 34 13 37 13 40 13 39 13 24 13-7 13-13 13 8 14 24 13 20 13 1 13-4 13-4 13-1 13 1 13 3 13 3 13 6 13 7 13-1 13-15 13-30 14-39 13-40 13-38 13-33 13-28 13-23 13-19 13-13 13-9 13-4 13 1 13 6 13 11 13 16 13 20 14 26 13 30 13 34 13 37 13 36 13 27 13 13 13 5 13 5 13 34 13 40 13 15 13-1 13-1 14-3"/>
<path d="M0 591l13-7 13-7 13-6 13-5 13-6 13-10 13-20 14-34 13-43 13-43 13-41 13-37 13-34 13-29 13-25 13-20 13-16 13-12 13-8 13-4 13 1 14 5 13 9 13 14 13 18 13 22 13 26 13 30 13 35 13 37 13 38 13 33 13 23 13 13 13 9 13 7 14 9 13 8 13 4 13 2 13 3 13 4 13 7 13 8 13 4 13 2 13 1 13-7 13-23 13-39 14-45 13-43 13-40 13-35 13-30 13-25 13-20 13-14 13-10 13-5 13 1 13 5 13 10 13 16 13 21 14 25 13 31 13 35 13 39 13 39 13 34 13 19 13 6 13 4 13 16 13 22 13 12 13 5 13 5 14 1"/>
<path d="M0 620l13-8 13-8 13-7 13-7 13-8 13-13 13-26 14-40 13-46 13-45 13-43 13-39 13-34 13-30 13-26 13-22 13-18 13-13 13-9 13-4 13-1 14 4 13 9 13 12 13 17 13 21 13 25 13 30 13 33 13 37 13 40 13 37 13 32 13 29 13 18 13-3 14-17 13-14 13-1 13 2 13 4 13 7 13 21 13 23 13 8 13-3 13-7 13-12 13-26 13-40 14-43 13-42 13-38 13-32 13-28 13-23 13-17 13-13 13-7 13-2 13 3 13 8 13 13 13 19 13 23 14 29 13 33 13 39 13 43 13 47 13 48 13 39 13 22 13 10 13 7 13 7 13 4 13 2 13 1 14 0"/>
<path d="M0 564l13 8 13 7 13 6 13 1 13-2 13-11 13-28 14-43 13-49 13-47 13-43 13-40 13-34 13-30 13-26 13-21 13-17 13-12 13-7 13-3 13 2 14 6 13 11 13 15 13 20 13 25 13 28 13 34 13 37 13 39 13 38 13 28 13 16 13 7 13 5 13 7 14 12 13 9 13-3 13-15 13-15 13-1 13 25 13 29 13 11 13-1 13-3 13-8 13-20 13-36 14-42 13-42 13-38 13-34 13-29 13-24 13-20 13-14 13-9 13-5 13 1 13 5 13 11 13 15 13 20 14 25 13 30 13 35 13 38 13 41 13 36 13 23 13 9 13 5 13 18 13 22 13 10 13 2 13 2 14 1"/>
<path d="M0 612l13-5 13-4 13-5 13-5 13-6 13-13 13-26 14-41 13-47 13-47 13-44 13-39 13-35 13-31 13-26 13-23 13-17 13-14 13-9 13-4 13 0 14 4 13 9 13 13 13 17 13 22 13 26 13 30 13 35 13 38 13 39 13 37 13 35 13 38 13 27 13-5 14-25 13-22 13 0 13 9 13 12 13 10 13 11 13 9 13 4 13 1 13 0 13-4 13-16 13-35 14-45 13-45 13-41 13-37 13-30 13-26 13-19 13-15 13-8 13-4 13 3 13 8 13 13 13 19 13 24 14 30 13 36 13 40 13 43 13 42 13 30 13 13 13 3 13 4 13 29 13 34 13 12 13-7 13-20 14-34"/>
<path d="M0 616l13-6 13-7 13-6 13-5 13-8 13-17 13-34 14-43 13-45 13-43 13-40 13-36 13-33 13-28 13-24 13-21 13-16 13-13 13-8 13-5 13 0 14 3 13 7 13 11 13 15 13 19 13 23 13 27 13 31 13 35 13 38 13 42 13 43 13 41 13 30 13 1 14-35 13-32 13 3 13 28 13 29 13 5 13-17 13-20 13-6 13 12 13 18 13 6 13-13 13-30 14-42 13-44 13-41 13-36 13-32 13-26 13-20 13-16 13-10 13-5 13 1 13 6 13 11 13 16 13 22 14 27 13 32 13 37 13 41 13 43 13 38 13 22 13 7 13 4 13 16 13 21 13 11 13 7 13 4 14 2"/>
<path d="M0 589l13 8 13 8 13 6 13 1 13-5 13-17 13-36 14-49 13-50 13-47 13-43 13-38 13-35 13-29 13-26 13-20 13-17 13-12 13-7 13-3 13 2 14 6 13 11 13 15 13 20 13 24 13 29 13 33 13 37 13 40 13 40 13 34 13 31 13 39 13 26 13-1 14-11 13-9 13-1 13 3 13 2 13 0 13-3 13-5 13-1 13 10 13 8 13-17 13-40 13-45 14-44 13-40 13-36 13-32 13-26 13-23 13-17 13-13 13-8 13-4 13 1 13 5 13 11 13 14 13 20 14 24 13 28 13 33 13 38 13 39 13 39 13 30 13 15 13 9 13 29 13 36 13 17 13 6 13 4 14 1"/>
<path d="M0 566l13 13 13 15 13 11 13 3 13-4 13-16 13-35 14-46 13-49 13-46 13-42 13-38 13-33 13-30 13-25 13-20 13-16 13-12 13-8 13-3 13 1 14 6 13 10 13 14 13 19 13 22 13 28 13 31 13 36 13 40 13 43 13 45 13 32 13-4 13-14 13 2 14 5 13 6 13 5 13 4 13 5 13 8 13 17 13 16 13 5 13-7 13-13 13-13 13-22 13-38 14-44 13-43 13-38 13-34 13-28 13-24 13-18 13-13 13-8 13-3 13 2 13 8 13 12 13 18 13 23 14 29 13 33 13 38 13 43 13 45 13 42 13 30 13 13 13 5 13 11 13 11 13 4 13-8 13-19 14-26"/>
<path d="M0 588l13 7 13 7 13 6 13 2 13-1 13-6 13-22 14-40 13-49 13-50 13-45 13-42 13-37 13-32 13-28 13-24 13-18 13-15 13-9 13-5 13-1 14 4 13 9 13 13 13 18 13 22 13 27 13 32 13 36 13 40 13 44 13 47 13 37 13 3 13-12 13 4 14 9 13 7 13 1 13-2 13-2 13 1 13 20 13 23 13 7 13-7 13-12 13-18 13-27 13-38 14-43 13-40 13-37 13-32 13-27 13-23 13-18 13-14 13-9 13-4 13 1 13 6 13 10 13 15 13 20 14 24 13 29 13 33 13 37 13 38 13 34 13 22 13 8 13 6 13 24 13 28 13 11 13-4 13-10 14-21"/>
</g>
</g></g>
<clipPath id="c6"><rect x="376.2" y="304" width="104.55" height="93.6"/></clipPath>
<g clip-path="url(#c6)"><g transform="translate(376.2 304) scale(.1)" class="cv">
<linearGradient id="g25" gradientUnits="userSpaceOnUse" x1="0" y1="0" x2="1045.5" y2="0"><stop offset="0" stop-color="#a8b6e6" stop-opacity="0.22"/><stop offset="0.04" stop-color="#a8b6e6" stop-opacity="0.22"/><stop offset="0.08" stop-color="#a8b6e6" stop-opacity="0.044"/><stop offset="0.14" stop-color="#a8b6e6" stop-opacity="0.062"/><stop offset="0.18" stop-color="#a8b6e6" stop-opacity="0.088"/><stop offset="0.21" stop-color="#a8b6e6" stop-opacity="0.066"/><stop offset="0.29" stop-color="#a8b6e6" stop-opacity="0.066"/><stop offset="0.32" stop-color="#a8b6e6" stop-opacity="0.088"/><stop offset="0.36" stop-color="#a8b6e6" stop-opacity="0.062"/><stop offset="0.41" stop-color="#a8b6e6" stop-opacity="0.044"/><stop offset="0.45" stop-color="#a8b6e6" stop-opacity="0.22"/><stop offset="0.56" stop-color="#a8b6e6" stop-opacity="0.22"/><stop offset="0.59" stop-color="#a8b6e6" stop-opacity="0.044"/><stop offset="0.64" stop-color="#a8b6e6" stop-opacity="0.062"/><stop offset="0.68" stop-color="#a8b6e6" stop-opacity="0.088"/><stop offset="0.71" stop-color="#a8b6e6" stop-opacity="0.066"/><stop offset="0.79" stop-color="#a8b6e6" stop-opacity="0.066"/><stop offset="0.82" stop-color="#a8b6e6" stop-opacity="0.088"/><stop offset="0.86" stop-color="#a8b6e6" stop-opacity="0.062"/><stop offset="0.91" stop-color="#a8b6e6" stop-opacity="0.044"/><stop offset="0.94" stop-color="#a8b6e6" stop-opacity="0.22"/><stop offset="1" stop-color="#a8b6e6" stop-opacity="0.22"/></linearGradient>
<g stroke-width="5" stroke="url(#g25)">
<path d="M0 405l13 0 13-1 13-2 13-2 13-2 13-4 13-6 14-13 13-16 13-18 13-18 13-18 13-19 13-19 13-19 13-16 13-13 13-9 13-5 13-2 13 2 14 6 13 9 13 13 13 16 13 18 13 19 13 17 13 16 13 19 13 20 13 20 13 18 13 15 13 11 13 12 14 10 13 10 13 9 13 7 13 7 13 7 13 6 13 6 13 5 13 3 13 2 13-6 13-17 13-26 14-29 13-31 13-32 13-31 13-29 13-24 13-21 13-15 13-11 13-6 13-1 13 4 13 8 13 13 13 17 14 20 13 22 13 20 13 18 13 20 13 22 13 21 13 17 13 11 13 6 13 6 13 5 13 4 13 2 14 1"/>
<path d="M0 490l13-11 13-10 13-10 13-10 13-10 13-10 13-12 14-14 13-17 13-19 13-23 13-25 13-26 13-26 13-24 13-20 13-15 13-12 13-7 13-3 13 1 14 6 13 10 13 14 13 18 13 23 13 26 13 29 13 31 13 33 13 33 13 31 13 25 13 15 13 7 13 4 14 3 13 2 13 4 13 4 13 6 13 9 13 10 13 10 13 8 13 6 13-3 13-21 13-38 13-44 14-42 13-38 13-35 13-30 13-26 13-21 13-16 13-11 13-6 13-2 13 4 13 8 13 13 13 18 13 22 14 25 13 28 13 25 13 22 13 22 13 21 13 21 13 18 13 14 13 11 13 10 13 9 13 8 13 8 14 6"/>
<path d="M0 540l13-29 13-27 13-25 13-20 13-15 13-9 13-5 14-5 13-5 13-9 13-16 13-24 13-28 13-29 13-27 13-23 13-19 13-15 13-11 13-6 13-2 14 3 13 6 13 11 13 16 13 19 13 23 13 26 13 28 13 31 13 34 13 34 13 31 13 22 13 13 13 10 14 8 13 7 13 6 13 5 13 5 13 5 13 4 13 4 13 3 13 2 13-2 13-17 13-35 13-42 14-42 13-38 13-35 13-32 13-26 13-22 13-17 13-12 13-6 13-2 13 3 13 9 13 13 13 18 13 22 14 27 13 27 13 25 13 20 13 15 13 15 13 13 13 13 13 11 13 10 13 9 13 10 13 9 13 9 14 10"/>
<path d="M0 426l13-8 13-8 13-7 13-7 13-7 13-5 13-6 14-6 13-8 13-9 13-12 13-17 13-22 13-24 13-22 13-20 13-17 13-13 13-10 13-5 13-2 14 2 13 6 13 10 13 14 13 18 13 20 13 23 13 26 13 27 13 29 13 28 13 26 13 20 13 14 13 14 14 12 13 11 13 9 13 6 13 6 13 5 13 5 13 5 13 3 13 2 13-1 13-11 13-28 13-36 14-39 13-37 13-34 13-31 13-27 13-23 13-17 13-13 13-8 13-3 13 1 13 7 13 11 13 16 13 19 14 23 13 24 13 21 13 18 13 19 13 19 13 18 13 15 13 10 13 7 13 6 13 6 13 5 13 3 14 2"/>
<path d="M0 463l13-16 13-15 13-14 13-12 13-11 13-8 13-7 14-7 13-7 13-7 13-8 13-12 13-16 13-20 13-21 13-19 13-17 13-13 13-10 13-6 13-2 14 2 13 6 13 10 13 13 13 17 13 19 13 20 13 21 13 23 13 24 13 24 13 22 13 17 13 13 13 14 14 13 13 11 13 9 13 4 13 1 13 1 13 2 13 0 13 1 13 0 13 0 13-4 13-15 13-24 14-33 13-36 13-37 13-33 13-29 13-25 13-19 13-14 13-9 13-4 13 2 13 7 13 12 13 17 13 21 14 24 13 25 13 20 13 16 13 15 13 15 13 16 13 14 13 12 13 9 13 9 13 8 13 7 13 8 14 6"/>
<path d="M0 401l13-5 13-6 13-6 13-6 13-7 13-6 13-9 14-10 13-11 13-10 13-10 13-9 13-12 13-15 13-18 13-18 13-16 13-13 13-10 13-5 13-2 14 2 13 6 13 9 13 13 13 16 13 17 13 15 13 17 13 23 13 26 13 28 13 25 13 18 13 12 13 11 14 9 13 9 13 7 13 6 13 5 13 5 13 5 13 4 13 4 13 2 13 0 13-6 13-21 13-29 14-34 13-33 13-32 13-31 13-26 13-22 13-16 13-11 13-6 13 0 13 5 13 10 13 15 13 19 13 23 14 23 13 20 13 13 13 9 13 10 13 11 13 13 13 12 13 10 13 8 13 7 13 8 13 7 13 6 14 6"/>
<path d="M0 398l13-2 13-3 13-4 13-5 13-6 13-6 13-8 14-13 13-14 13-14 13-13 13-11 13-12 13-16 13-17 13-16 13-14 13-11 13-8 13-4 13 0 14 3 13 8 13 10 13 14 13 16 13 17 13 15 13 15 13 19 13 21 13 23 13 20 13 16 13 12 13 11 14 11 13 9 13 8 13 7 13 7 13 6 13 6 13 5 13 4 13 3 13 1 13-6 13-17 13-27 14-32 13-33 13-33 13-30 13-27 13-22 13-18 13-12 13-8 13-3 13 2 13 7 13 12 13 16 13 19 14 22 13 21 13 16 13 14 13 14 13 16 13 14 13 12 13 6 13 2 13 2 13 1 13 1 13 1 14 0"/>
<path d="M0 386l13-10 13-10 13-8 13-7 13-6 13-3 13-2 14-1 13-2 13-3 13-6 13-12 13-17 13-20 13-21 13-20 13-16 13-13 13-10 13-5 13-2 14 3 13 6 13 10 13 14 13 16 13 17 13 17 13 19 13 25 13 29 13 31 13 27 13 18 13 11 13 9 14 8 13 6 13 6 13 5 13 5 13 6 13 5 13 5 13 3 13 3 13 1 13-4 13-14 13-22 14-28 13-31 13-34 13-33 13-31 13-26 13-21 13-16 13-11 13-5 13-1 13 5 13 10 13 15 13 19 14 21 13 21 13 17 13 14 13 15 13 16 13 16 13 15 13 13 13 10 13 9 13 10 13 9 13 8 14 8"/>
<path d="M0 409l13-1 13-2 13-2 13-4 13-3 13-5 13-9 14-16 13-20 13-21 13-18 13-14 13-16 13-20 13-21 13-18 13-15 13-11 13-8 13-2 13 1 14 6 13 10 13 14 13 19 13 21 13 23 13 24 13 21 13 21 13 20 13 19 13 17 13 14 13 13 13 15 14 14 13 12 13 10 13 5 13 2 13 2 13 1 13 1 13 1 13 1 13 0 13-4 13-13 13-20 14-25 13-29 13-33 13-34 13-30 13-27 13-21 13-16 13-11 13-6 13 0 13 5 13 11 13 15 13 20 14 23 13 23 13 20 13 14 13 11 13 10 13 11 13 10 13 9 13 9 13 9 13 10 13 11 13 11 14 12"/>
<path d="M0 470l13-19 13-18 13-16 13-14 13-10 13-7 13-5 14-5 13-6 13-10 13-17 13-24 13-26 13-26 13-22 13-20 13-15 13-11 13-6 13-2 13 2 14 7 13 11 13 15 13 19 13 23 13 25 13 24 13 23 13 26 13 29 13 27 13 21 13 12 13 4 13 3 14 2 13 2 13 2 13 3 13 6 13 8 13 9 13 10 13 9 13 6 13 2 13-10 13-25 13-37 14-39 13-39 13-36 13-32 13-28 13-22 13-18 13-11 13-7 13 0 13 4 13 10 13 15 13 20 13 23 14 25 13 23 13 15 13 11 13 12 13 15 13 15 13 15 13 13 13 11 13 11 13 11 13 11 13 10 14 11"/>
<path d="M0 391l13-12 13-12 13-11 13-9 13-9 13-7 13-7 14-7 13-6 13-7 13-8 13-11 13-15 13-17 13-18 13-17 13-14 13-10 13-6 13-3 13 1 14 6 13 9 13 13 13 15 13 17 13 17 13 13 13 13 13 18 13 21 13 21 13 19 13 14 13 9 13 8 14 7 13 6 13 7 13 8 13 10 13 11 13 13 13 13 13 10 13 8 13 3 13-5 13-19 13-26 14-30 13-29 13-31 13-31 13-29 13-25 13-20 13-15 13-11 13-6 13-1 13 4 13 8 13 13 13 17 14 18 13 19 13 15 13 12 13 13 13 12 13 14 13 12 13 11 13 10 13 9 13 10 13 9 13 10 14 9"/>
<path d="M0 481l13-14 13-14 13-13 13-11 13-9 13-8 13-6 14-7 13-8 13-11 13-18 13-24 13-28 13-27 13-26 13-21 13-19 13-14 13-10 13-6 13-2 14 2 13 7 13 10 13 14 13 19 13 21 13 25 13 28 13 31 13 34 13 35 13 33 13 25 13 16 13 11 14 9 13 7 13 6 13 5 13 4 13 4 13 4 13 3 13 2 13 1 13-3 13-16 13-35 13-41 14-40 13-38 13-34 13-30 13-26 13-21 13-16 13-11 13-6 13-1 13 3 13 9 13 13 13 18 13 21 14 25 13 25 13 22 13 17 13 16 13 16 13 17 13 15 13 13 13 12 13 11 13 11 13 10 13 11 14 10"/>
<path d="M0 466l13-2 13-3 13-3 13-5 13-5 13-6 13-8 14-13 13-17 13-21 13-25 13-26 13-28 13-26 13-24 13-20 13-16 13-11 13-8 13-3 13 2 14 5 13 10 13 15 13 18 13 22 13 24 13 25 13 24 13 25 13 26 13 25 13 21 13 16 13 11 13 9 14 9 13 8 13 7 13 6 13 6 13 6 13 7 13 5 13 5 13 3 13 0 13-8 13-23 13-34 14-38 13-38 13-37 13-33 13-30 13-24 13-20 13-15 13-10 13-5 13 0 13 5 13 10 13 15 13 19 14 24 13 27 13 28 13 26 13 24 13 20 13 17 13 14 13 10 13 8 13 7 13 6 13 6 13 6 14 4"/>
<path d="M0 492l13-23 13-22 13-20 13-17 13-14 13-10 13-7 14-8 13-8 13-9 13-12 13-17 13-21 13-23 13-21 13-19 13-14 13-11 13-6 13-2 13 3 14 7 13 11 13 16 13 19 13 22 13 23 13 20 13 20 13 23 13 26 13 25 13 22 13 12 13 7 13 4 14 4 13 4 13 4 13 4 13 5 13 7 13 7 13 6 13 6 13 4 13 2 13-7 13-20 13-30 14-34 13-36 13-35 13-33 13-29 13-25 13-20 13-15 13-9 13-5 13 1 13 6 13 10 13 16 13 20 14 23 13 24 13 22 13 17 13 18 13 19 13 18 13 16 13 12 13 9 13 8 13 7 13 6 13 6 14 4"/>
</g>
</g></g>
<rect x="487.15" y="304" width="5.5" height="93.6" fill="url(#jet)"/>
<text class="c" x="493.95" y="387.06">5</text><text class="c" x="493.95" y="372.22">10</text><text class="c" x="493.95" y="357.38">15</text><text class="c" x="493.95" y="342.54">20</text><text class="c" x="493.95" y="327.7">25</text><text class="c" x="493.95" y="312.87">30</text>
<text class="c" text-anchor="middle" transform="translate(502.85 350.8) rotate(-90)">Density(%)</text>
</g>
<g>
<text class="t" x="119.22" y="437">Persistence spectrum</text>
<text class="a" x="119.22" y="543">Frequency (Hz)</text>
<text class="a" transform="translate(55.9 485.75) rotate(-90)">Power Spectrum (dB)</text>
<text class="k" text-anchor="middle" x="66.7" y="538.1">0</text><text class="k" text-anchor="middle" x="92.71" y="538.1">50</text><text class="k" text-anchor="middle" x="118.72" y="538.1">100</text><text class="k" text-anchor="middle" x="144.74" y="538.1">150</text><text class="k" text-anchor="middle" x="170.75" y="538.1">200</text>
<text class="k" text-anchor="end" x="65.1" y="440.1">0</text><text class="k" text-anchor="end" x="65.1" y="449.47">-10</text><text class="k" text-anchor="end" x="65.1" y="458.84">-20</text><text class="k" text-anchor="end" x="65.1" y="468.21">-30</text><text class="k" text-anchor="end" x="65.1" y="477.58">-40</text><text class="k" text-anchor="end" x="65.1" y="486.95">-50</text><text class="k" text-anchor="end" x="65.1" y="496.32">-60</text><text class="k" text-anchor="end" x="65.1" y="505.69">-70</text><text class="k" text-anchor="end" x="65.1" y="515.06">-80</text><text class="k" text-anchor="end" x="65.1" y="524.43">-90</text><text class="k" text-anchor="end" x="65.1" y="533.8">-100</text>
<rect x="66.7" y="438.9" width="104.05" height="93.7" fill="#000082"/><g transform="translate(66.7 438.9)" filter="url(#fd)"><rect width="104.05" height="93.7" fill="#000"/><g transform="scale(.1)" class="cv">
<linearGradient id="g26" gradientUnits="userSpaceOnUse" x1="0" y1="0" x2="1040.5" y2="0"><stop offset="0" stop-color="#fff" stop-opacity="0.014"/><stop offset="0.04" stop-color="#fff" stop-opacity="0.014"/><stop offset="0.08" stop-color="#fff" stop-opacity="0.011"/><stop offset="0.14" stop-color="#fff" stop-opacity="0.016"/><stop offset="0.18" stop-color="#fff" stop-opacity="0.022"/><stop offset="0.21" stop-color="#fff" stop-opacity="0.028"/><stop offset="0.29" stop-color="#fff" stop-opacity="0.028"/><stop offset="0.32" stop-color="#fff" stop-opacity="0.022"/><stop offset="0.35" stop-color="#fff" stop-opacity="0.016"/><stop offset="0.38" stop-color="#fff" stop-opacity="0.022"/><stop offset="0.4" stop-color="#fff" stop-opacity="0.016"/><stop offset="0.43" stop-color="#fff" stop-opacity="0.022"/><stop offset="0.46" stop-color="#fff" stop-opacity="0.028"/><stop offset="0.54" stop-color="#fff" stop-opacity="0.028"/><stop offset="0.57" stop-color="#fff" stop-opacity="0.022"/><stop offset="0.61" stop-color="#fff" stop-opacity="0.016"/><stop offset="0.65" stop-color="#fff" stop-opacity="0.011"/><stop offset="0.69" stop-color="#fff" stop-opacity="0.014"/><stop offset="0.89" stop-color="#fff" stop-opacity="0.014"/><stop offset="0.93" stop-color="#fff" stop-opacity="0.011"/><stop offset="0.96" stop-color="#fff" stop-opacity="0.022"/><stop offset="1" stop-color="#fff" stop-opacity="0.022"/></linearGradient>
<g stroke-width="22" stroke="url(#g26)">
<path d="M0 546l26-6 26-5 26-4 26-22 26-72 26-79 26-65 26-47 26-29 26-11 26 7 26 26 26 43 26 61 26 71 26-16 26-63 26-48 26-30 26-12 26 7 26 24 26 43 26 60 26 67 26 40 26 29 26 33 26 3 26-3 26-6 26-4 26-5 26-5 26-2 26 6 26 7 26-39 26-72 26-64"/>
<path d="M0 574l26-12 26-12 26-8 26-14 26-49 26-74 26-64 26-48 26-29 26-12 26 6 26 23 26 42 26 57 26 34 26-58 26-59 26-42 26-26 26-8 26 10 26 27 26 43 26 61 26 70 26 51 26 27 26 24 26 1 26-7 26-10 26-6 26-3 26-2 26-1 26 3 26 3 26-17 26-60 26-67"/>
<path d="M0 509l26-2 26-1 26 0 26-3 26-26 26-62 26-63 26-48 26-29 26-10 26 7 26 27 26 45 26 61 26 57 26-40 26-63 26-48 26-29 26-12 26 7 26 25 26 43 26 59 26 59 26 23 26-2 26-5 26 4 26 18 26 22 26 10 26-10 26-19 26-9 26 4 26 9 26-8 26-49 26-63"/>
<path d="M0 589l26-7 26-7 26-25 26-77 26-89 26-75 26-57 26-41 26-23 26-6 26 12 26 29 26 46 26 63 26 51 26-51 26-60 26-43 26-27 26-9 26 8 26 24 26 42 26 58 26 73 26 65 26 47 26 41 26 5 26-3 26-4 26-2 26 1 26 2 26 1 26-1 26-13 26-57 26-81 26-70"/>
<path d="M0 563l26-9 26-9 26-8 26-26 26-68 26-76 26-62 26-46 26-28 26-12 26 6 26 23 26 40 26 56 26 59 26-28 26-60 26-45 26-29 26-12 26 5 26 23 26 39 26 55 26 64 26 44 26 29 26 29 26 2 26-8 26-9 26-5 26 6 26 12 26 11 26 6 26 3 26-29 26-70 26-67"/>
<path d="M0 546l26 11 26 9 26-1 26-44 26-84 26-80 26-63 26-46 26-29 26-12 26 6 26 23 26 40 26 56 26 53 26-46 26-66 26-48 26-29 26-11 26 7 26 26 26 44 26 63 26 77 26 68 26 31 26 19 26 1 26-6 26-7 26-3 26 8 26 14 26 8 26-6 26-15 26-31 26-63 26-66"/>
<path d="M0 532l26 4 26 2 26 1 26-6 26-36 26-70 26-66 26-49 26-31 26-13 26 6 26 24 26 42 26 58 26 43 26-43 26-60 26-44 26-27 26-8 26 9 26 28 26 46 26 62 26 66 26 34 26 1 26-6 26 2 26 14 26 16 26 8 26 0 26 0 26 0 26-1 26-6 26-29 26-58 26-57"/>
<path d="M0 535l26 6 26 5 26 1 26-14 26-57 26-73 26-62 26-45 26-27 26-9 26 8 26 26 26 44 26 59 26 22 26-64 26-59 26-41 26-24 26-6 26 12 26 29 26 48 26 63 26 73 26 47 26 11 26 6 26 7 26 10 26 10 26 4 26-1 26-3 26-2 26-3 26-5 26-20 26-53 26-59"/>
<path d="M0 569l26-6 26-5 26-8 26-31 26-72 26-76 26-62 26-45 26-28 26-11 26 7 26 23 26 40 26 56 26 53 26-37 26-60 26-45 26-27 26-10 26 7 26 25 26 43 26 58 26 67 26 44 26 25 26 25 26 0 26-13 26-15 26-7 26 3 26 7 26 8 26 7 26 4 26-22 26-57 26-59"/>
<path d="M0 585l26-7 26-8 26-9 26-37 26-84 26-82 26-67 26-48 26-30 26-12 26 6 26 25 26 42 26 61 26 56 26-43 26-63 26-46 26-29 26-11 26 7 26 23 26 42 26 58 26 74 26 78 26 39 26 8 26-1 26-3 26-3 26-2 26 1 26 3 26 2 26-1 26-7 26-45 26-77 26-69"/>
<path d="M0 565l26-3 26-4 26-4 26-27 26-79 26-83 26-68 26-49 26-31 26-12 26 6 26 24 26 43 26 60 26 74 26 5 26-57 26-45 26-27 26-10 26 9 26 26 26 44 26 60 26 64 26 36 26 10 26 8 26-2 26-11 26-14 26-6 26 11 26 20 26 12 26 0 26-13 26-56 26-76 26-64"/>
<path d="M0 521l26 2 26 1 26 0 26-19 26-65 26-75 26-62 26-45 26-27 26-9 26 9 26 26 26 45 26 60 26 31 26-65 26-62 26-45 26-27 26-10 26 9 26 26 26 44 26 61 26 73 26 55 26 32 26 31 26 4 26-1 26-1 26 0 26 7 26 13 26 7 26-9 26-20 26-42 26-65 26-62"/>
<path d="M0 556l26-13 26-12 26-9 26-20 26-63 26-76 26-64 26-46 26-29 26-11 26 7 26 25 26 43 26 59 26 66 26-11 26-59 26-47 26-29 26-12 26 6 26 24 26 41 26 57 26 65 26 41 26 11 26 5 26 4 26 5 26 5 26 1 26-4 26-8 26-4 26 7 26 11 26-7 26-46 26-60"/>
<path d="M0 569l26-10 26-10 26-9 26-33 26-77 26-79 26-64 26-47 26-29 26-12 26 5 26 23 26 40 26 57 26 65 26-12 26-57 26-43 26-26 26-8 26 8 26 25 26 43 26 58 26 71 26 58 26 20 26 5 26-1 26-4 26-4 26-2 26 0 26 1 26 1 26 0 26-8 26-48 26-72 26-63"/>
<path d="M0 519l26 8 26 7 26 1 26-26 26-71 26-75 26-61 26-44 26-26 26-10 26 8 26 25 26 43 26 58 26 46 26-55 26-67 26-49 26-31 26-13 26 6 26 25 26 42 26 61 26 71 26 49 26 19 26 18 26 11 26 11 26 9 26 7 26 6 26 5 26 2 26-11 26-27 26-48 26-67 26-62"/>
<path d="M0 556l26 3 26 3 26-3 26-35 26-82 26-81 26-64 26-46 26-28 26-10 26 8 26 26 26 44 26 61 26 62 26-36 26-62 26-46 26-28 26-12 26 7 26 23 26 42 26 58 26 70 26 60 26 23 26 13 26 9 26 8 26 7 26 3 26-5 26-9 26-5 26 1 26-9 26-55 26-75 26-63"/>
<path d="M0 576l26-2 26-2 26-10 26-49 26-81 26-73 26-58 26-40 26-23 26-6 26 12 26 29 26 46 26 59 26 20 26-66 26-61 26-43 26-26 26-8 26 11 26 28 26 46 26 64 26 79 26 75 26 23 26-2 26 1 26 7 26 9 26 8 26 8 26 6 26 3 26-13 26-29 26-45 26-66 26-61"/>
<path d="M0 520l26 1 26 1 26-1 26-18 26-66 26-78 26-65 26-47 26-30 26-12 26 6 26 24 26 42 26 59 26 59 26-34 26-64 26-48 26-29 26-10 26 8 26 27 26 45 26 62 26 68 26 37 26 20 26 26 26 13 26 10 26 7 26 3 26-8 26-13 26-8 26 0 26-10 26-52 26-77 26-65"/>
<path d="M0 544l26 9 26 8 26-1 26-37 26-84 26-81 26-65 26-48 26-29 26-12 26 6 26 24 26 41 26 59 26 49 26-48 26-59 26-43 26-25 26-7 26 11 26 29 26 47 26 63 26 75 26 54 26 10 26 0 26 0 26 4 26 5 26 6 26 7 26 7 26 7 26 5 26 1 26-29 26-67 26-63"/>
<path d="M0 511l26-1 26-1 26-1 26-10 26-45 26-69 26-60 26-43 26-25 26-6 26 12 26 31 26 48 26 63 26 30 26-62 26-64 26-47 26-30 26-11 26 7 26 26 26 44 26 60 26 65 26 34 26 12 26 13 26 12 26 14 26 13 26 8 26 3 26 3 26 1 26-2 26-9 26-36 26-65 26-62"/>
<path d="M0 553l26-2 26-2 26-4 26-25 26-68 26-74 26-61 26-44 26-27 26-9 26 7 26 25 26 42 26 58 26 38 26-55 26-62 26-45 26-27 26-8 26 10 26 29 26 48 26 64 26 74 26 47 26 12 26 8 26 8 26 12 26 11 26 4 26-4 26-9 26-8 26-5 26-8 26-33 26-68 26-67"/>
<path d="M0 561l26-18 26-15 26-10 26-21 26-68 26-81 26-66 26-48 26-30 26-11 26 8 26 27 26 45 26 63 26 57 26-44 26-60 26-43 26-26 26-8 26 10 26 27 26 45 26 62 26 73 26 54 26 23 26 18 26-1 26-15 26-17 26-9 26 14 26 25 26 14 26-9 26-21 26-40 26-63 26-60"/>
<path d="M0 519l26 18 26 15 26 4 26-27 26-74 26-76 26-62 26-43 26-27 26-8 26 9 26 28 26 44 26 61 26 49 26-47 26-62 26-45 26-26 26-9 26 11 26 29 26 47 26 65 26 72 26 41 26-3 26-14 26 0 26 13 26 15 26 9 26 3 26 2 26 1 26-2 26-9 26-39 26-66 26-60"/>
<path d="M0 559l26-5 26-5 26-12 26-54 26-87 26-78 26-60 26-42 26-24 26-6 26 13 26 31 26 49 26 66 26 58 26-51 26-64 26-46 26-28 26-10 26 9 26 27 26 45 26 64 26 79 26 73 26 34 26 14 26-1 26-12 26-14 26-6 26 9 26 17 26 10 26 1 26-5 26-38 26-72 26-65"/>
<path d="M0 564l26-4 26-4 26-6 26-35 26-83 26-81 26-64 26-46 26-27 26-9 26 10 26 28 26 47 26 65 26 46 26-57 26-61 26-43 26-26 26-8 26 10 26 28 26 46 26 62 26 73 26 51 26 12 26 5 26 7 26 18 26 18 26 9 26-4 26-6 26-3 26-1 26-12 26-56 26-74 26-62"/>
<path d="M0 535l26 7 26 6 26-1 26-39 26-80 26-76 26-61 26-43 26-26 26-9 26 9 26 26 26 43 26 60 26 58 26-35 26-58 26-42 26-25 26-7 26 10 26 27 26 45 26 61 26 73 26 57 26 14 26-1 26-5 26-8 26-9 26-4 26 12 26 23 26 12 26-10 26-23 26-37 26-64 26-63"/>
<path d="M0 564l26 5 26 3 26-15 26-76 26-93 26-78 26-61 26-42 26-25 26-6 26 11 26 29 26 48 26 64 26 70 26-25 26-61 26-46 26-29 26-12 26 5 26 23 26 40 26 56 26 70 26 63 26 22 26 3 26 4 26 11 26 13 26 5 26-1 26-3 26-2 26 5 26 1 26-51 26-77 26-65"/>
<path d="M0 579l26-22 26-20 26-16 26-48 26-83 26-75 26-59 26-41 26-24 26-6 26 11 26 28 26 46 26 62 26 49 26-52 26-61 26-44 26-27 26-10 26 7 26 25 26 40 26 58 26 73 26 76 26 48 26 26 26 1 26-10 26-11 26-5 26 7 26 14 26 7 26-2 26-11 26-52 26-80 26-70"/>
<path d="M0 555l26-3 26-3 26-4 26-33 26-82 26-82 26-66 26-48 26-29 26-12 26 7 26 25 26 43 26 61 26 62 26-35 26-60 26-44 26-27 26-10 26 7 26 23 26 41 26 57 26 71 26 69 26 37 26 20 26-1 26-13 26-16 26-8 26 7 26 12 26 10 26 4 26-14 26-68 26-79 26-65"/>
<path d="M0 554l26-4 26-4 26-3 26-11 26-48 26-69 26-61 26-45 26-27 26-10 26 8 26 25 26 42 26 57 26 17 26-68 26-61 26-43 26-25 26-7 26 12 26 31 26 49 26 67 26 79 26 56 26 13 26 6 26 3 26 3 26 2 26 0 26-5 26-10 26-7 26-2 26-5 26-28 26-61 26-59"/>
<path d="M0 529l26-8 26-7 26-4 26-22 26-68 26-76 26-60 26-43 26-24 26-6 26 13 26 30 26 49 26 66 26 47 26-55 26-59 26-41 26-24 26-6 26 11 26 29 26 46 26 62 26 71 26 46 26 16 26 12 26-1 26-8 26-9 26-4 26 13 26 25 26 13 26-3 26-15 26-48 26-69 26-62"/>
<path d="M0 538l26-6 26-5 26-5 26-21 26-67 26-74 26-60 26-42 26-24 26-6 26 13 26 31 26 49 26 66 26 62 26-35 26-64 26-49 26-31 26-12 26 6 26 25 26 43 26 59 26 67 26 38 26 19 26 18 26 0 26-10 26-13 26-5 26 4 26 7 26 4 26-5 26-11 26-15 26-34 26-52"/>
<path d="M0 514l26-1 26-1 26-4 26-26 26-69 26-75 26-60 26-43 26-26 26-9 26 9 26 26 26 43 26 59 26 53 26-46 26-61 26-43 26-26 26-7 26 11 26 29 26 48 26 65 26 72 26 42 26 16 26 16 26 9 26 8 26 5 26 2 26-10 26-18 26-9 26 9 26 7 26-49 26-74 26-62"/>
<path d="M0 572l26-14 26-13 26-9 26-33 26-78 26-79 26-62 26-45 26-28 26-11 26 7 26 25 26 42 26 59 26 56 26-42 26-60 26-45 26-28 26-11 26 6 26 23 26 40 26 56 26 72 26 78 26 43 26 11 26 6 26 11 26 10 26 5 26-6 26-11 26-6 26-1 26-24 26-73 26-79 26-63"/>
</g>
<linearGradient id="g27" gradientUnits="userSpaceOnUse" x1="0" y1="0" x2="1040.5" y2="0"><stop offset="0" stop-color="#fff" stop-opacity="0.09"/><stop offset="0.04" stop-color="#fff" stop-opacity="0.09"/><stop offset="0.08" stop-color="#fff" stop-opacity="0.045"/><stop offset="0.14" stop-color="#fff" stop-opacity="0.063"/><stop offset="0.18" stop-color="#fff" stop-opacity="0.09"/><stop offset="0.21" stop-color="#fff" stop-opacity="0.162"/><stop offset="0.29" stop-color="#fff" stop-opacity="0.162"/><stop offset="0.32" stop-color="#fff" stop-opacity="0.09"/><stop offset="0.35" stop-color="#fff" stop-opacity="0.063"/><stop offset="0.38" stop-color="#fff" stop-opacity="0.09"/><stop offset="0.4" stop-color="#fff" stop-opacity="0.063"/><stop offset="0.43" stop-color="#fff" stop-opacity="0.09"/><stop offset="0.46" stop-color="#fff" stop-opacity="0.252"/><stop offset="0.54" stop-color="#fff" stop-opacity="0.252"/><stop offset="0.57" stop-color="#fff" stop-opacity="0.09"/><stop offset="0.61" stop-color="#fff" stop-opacity="0.063"/><stop offset="0.65" stop-color="#fff" stop-opacity="0.045"/><stop offset="0.69" stop-color="#fff" stop-opacity="0.09"/><stop offset="0.89" stop-color="#fff" stop-opacity="0.09"/><stop offset="0.93" stop-color="#fff" stop-opacity="0.045"/><stop offset="0.96" stop-color="#fff" stop-opacity="0.162"/><stop offset="1" stop-color="#fff" stop-opacity="0.162"/></linearGradient>
<g stroke-width="6.2" stroke="url(#g27)">
<path d="M0 561l13-6 13-5 13-5 13-5 13-5 13-7 13-18 13-35 13-44 13-45 13-41 13-37 13-33 13-29 13-24 13-19 13-15 13-10 13-6 13-2 13 3 13 8 13 12 13 17 13 21 13 25 13 30 13 34 13 33 13 12 13-22 13-33 13-31 13-26 13-23 13-18 13-14 13-10 13-5 13-2 13 4 13 7 13 12 13 16 13 21 13 25 13 29 13 33 13 37 13 40 13 42 13 37 13 25 13 14 13 9 13 6 13 4 13 3 13 3 13 3 13 2 13 2 13 1 13 1 13-1 13 0 13-2 13-1 13-2 13-2 13-2 13-4 13-6 13-13 13-27 13-36 13-39 13-38 13-35 13-31"/>
<path d="M0 548l13 0 13 1 13 0 13 0 13-2 13-6 13-19 13-36 13-45 13-44 13-42 13-38 13-34 13-29 13-24 13-20 13-16 13-11 13-7 13-2 13 2 13 7 13 12 13 15 13 21 13 24 13 29 13 33 13 35 13 23 13-13 13-33 13-33 13-29 13-26 13-20 13-17 13-11 13-8 13-3 13 2 13 5 13 11 13 14 13 20 13 23 13 28 13 32 13 37 13 40 13 42 13 39 13 27 13 8 13-1 13-3 13-1 13 3 13 5 13 6 13 7 13 7 13 5 13 1 13 0 13 0 13 0 13 0 13 0 13-1 13-1 13-4 13-6 13-9 13-17 13-26 13-34 13-35 13-34 13-30"/>
<path d="M0 540l13 3 13 2 13 2 13 2 13 0 13-6 13-20 13-37 13-46 13-45 13-42 13-37 13-34 13-29 13-25 13-20 13-15 13-12 13-6 13-2 13 2 13 7 13 11 13 16 13 20 13 24 13 30 13 33 13 35 13 23 13-15 13-35 13-34 13-30 13-25 13-21 13-16 13-11 13-7 13-2 13 3 13 7 13 13 13 16 13 22 13 26 13 31 13 36 13 40 13 43 13 42 13 34 13 17 13 5 13 1 13 0 13 0 13 0 13 1 13 1 13 2 13 2 13 1 13 2 13 3 13 4 13 4 13 4 13 3 13 1 13 0 13 0 13-1 13-3 13-11 13-23 13-35 13-39 13-36 13-33"/>
<path d="M0 534l13-3 13-3 13-3 13-3 13-3 13-6 13-14 13-29 13-40 13-42 13-41 13-37 13-33 13-28 13-24 13-19 13-14 13-10 13-6 13 0 13 3 13 8 13 13 13 18 13 22 13 26 13 31 13 34 13 32 13 7 13-25 13-33 13-31 13-26 13-23 13-18 13-14 13-10 13-6 13-1 13 3 13 7 13 11 13 16 13 20 13 24 13 28 13 32 13 36 13 39 13 39 13 33 13 21 13 10 13 6 13 4 13 2 13 2 13 2 13 2 13 2 13 1 13 1 13 1 13-1 13-1 13-2 13-1 13-2 13 0 13 0 13 0 13-1 13-3 13-12 13-24 13-34 13-36 13-35 13-30"/>
<path d="M0 541l13 1 13 1 13 0 13 0 13-1 13-6 13-19 13-35 13-44 13-44 13-41 13-37 13-33 13-29 13-24 13-20 13-16 13-11 13-7 13-3 13 2 13 6 13 11 13 15 13 19 13 24 13 27 13 32 13 34 13 25 13-9 13-32 13-34 13-30 13-25 13-21 13-17 13-11 13-8 13-2 13 2 13 6 13 12 13 15 13 21 13 25 13 29 13 34 13 38 13 42 13 43 13 37 13 23 13 7 13 1 13 0 13 0 13 2 13 4 13 6 13 6 13 6 13 4 13 1 13-1 13-4 13-4 13-5 13-4 13-1 13 1 13 1 13 1 13-4 13-14 13-28 13-36 13-36 13-34 13-31"/>
<path d="M0 547l13 0 13-1 13 0 13-1 13-2 13-9 13-22 13-38 13-45 13-44 13-41 13-36 13-33 13-28 13-23 13-19 13-15 13-10 13-5 13-1 13 3 13 8 13 13 13 17 13 21 13 26 13 31 13 34 13 36 13 20 13-19 13-35 13-34 13-30 13-26 13-21 13-16 13-12 13-7 13-2 13 2 13 7 13 12 13 16 13 21 13 25 13 30 13 34 13 39 13 42 13 41 13 33 13 19 13 9 13 6 13 4 13 4 13 5 13 5 13 6 13 5 13 4 13 3 13 2 13 0 13 0 13 0 13 0 13 1 13 0 13-1 13-2 13-5 13-13 13-26 13-34 13-37 13-36 13-32 13-28"/>
<path d="M0 542l13 1 13 0 13 0 13 0 13-1 13-3 13-13 13-29 13-43 13-46 13-43 13-40 13-35 13-31 13-26 13-21 13-17 13-12 13-8 13-3 13 2 13 6 13 11 13 16 13 20 13 25 13 30 13 33 13 36 13 24 13-12 13-33 13-33 13-30 13-25 13-21 13-17 13-12 13-8 13-4 13 1 13 6 13 10 13 14 13 19 13 23 13 27 13 32 13 36 13 39 13 40 13 37 13 25 13 12 13 5 13 3 13 3 13 2 13 3 13 3 13 3 13 3 13 2 13 1 13 1 13 1 13 0 13 1 13 0 13 0 13 0 13-2 13-2 13-4 13-8 13-19 13-29 13-35 13-35 13-31"/>
<path d="M0 562l13-7 13-8 13-7 13-6 13-5 13-7 13-16 13-31 13-41 13-42 13-40 13-37 13-32 13-28 13-24 13-20 13-16 13-11 13-7 13-3 13 1 13 5 13 10 13 13 13 18 13 22 13 27 13 30 13 33 13 26 13-5 13-31 13-33 13-29 13-25 13-20 13-16 13-11 13-6 13-1 13 3 13 8 13 12 13 18 13 21 13 27 13 31 13 36 13 40 13 43 13 43 13 34 13 18 13 6 13 2 13 1 13 1 13 1 13 1 13 1 13 1 13 1 13 1 13 1 13 2 13 2 13 2 13 1 13 2 13 0 13-2 13-4 13-6 13-8 13-15 13-23 13-32 13-36 13-34 13-31"/>
<path d="M0 549l13 0 13 0 13 0 13-1 13-1 13-5 13-16 13-33 13-43 13-45 13-42 13-39 13-34 13-30 13-25 13-21 13-16 13-12 13-7 13-3 13 1 13 6 13 11 13 15 13 20 13 24 13 28 13 32 13 32 13 13 13-20 13-31 13-30 13-26 13-22 13-18 13-14 13-9 13-6 13-1 13 3 13 8 13 11 13 16 13 20 13 24 13 28 13 33 13 36 13 40 13 42 13 39 13 28 13 16 13 7 13 3 13 1 13 0 13 0 13 0 13 0 13 0 13 0 13 0 13 1 13 1 13 3 13 2 13 2 13 1 13-1 13-1 13-2 13-8 13-20 13-32 13-38 13-38 13-34 13-31"/>
<path d="M0 539l13-3 13-2 13-2 13-3 13-3 13-8 13-19 13-34 13-42 13-43 13-40 13-36 13-32 13-27 13-23 13-19 13-14 13-9 13-6 13-1 13 4 13 8 13 12 13 17 13 21 13 26 13 29 13 34 13 35 13 20 13-16 13-34 13-34 13-30 13-25 13-21 13-17 13-11 13-8 13-3 13 2 13 6 13 11 13 15 13 20 13 25 13 28 13 34 13 37 13 41 13 42 13 36 13 22 13 8 13 2 13 0 13 0 13 2 13 5 13 5 13 7 13 5 13 4 13 2 13-1 13-1 13-2 13-3 13-2 13-2 13-2 13-3 13-3 13-6 13-14 13-27 13-35 13-38 13-36 13-31"/>
<path d="M0 554l13-4 13-3 13-3 13-3 13-3 13-3 13-11 13-27 13-42 13-46 13-43 13-40 13-36 13-30 13-26 13-22 13-17 13-11 13-8 13-2 13 2 13 7 13 11 13 17 13 21 13 25 13 31 13 34 13 33 13 10 13-23 13-32 13-31 13-26 13-22 13-18 13-14 13-9 13-5 13-1 13 3 13 8 13 12 13 16 13 20 13 25 13 29 13 32 13 37 13 40 13 41 13 36 13 23 13 9 13 3 13 0 13 0 13 1 13 0 13 0 13 1 13 0 13 1 13 1 13 2 13 2 13 3 13 3 13 2 13 0 13 0 13-1 13-3 13-7 13-17 13-29 13-37 13-38 13-36 13-31"/>
<path d="M0 551l13-4 13-3 13-4 13-3 13-3 13-3 13-9 13-24 13-39 13-44 13-44 13-40 13-35 13-31 13-27 13-21 13-18 13-12 13-8 13-3 13 1 13 6 13 11 13 15 13 20 13 24 13 29 13 33 13 35 13 19 13-16 13-33 13-32 13-28 13-24 13-19 13-16 13-11 13-7 13-2 13 1 13 6 13 10 13 15 13 19 13 23 13 27 13 31 13 36 13 39 13 41 13 38 13 28 13 13 13 5 13 2 13 2 13 3 13 5 13 6 13 6 13 6 13 4 13 2 13 0 13-1 13 0 13-1 13 0 13-1 13 0 13-2 13-1 13-4 13-9 13-21 13-31 13-36 13-35 13-32"/>
<path d="M0 541l13 0 13 0 13 0 13-1 13-1 13-3 13-10 13-27 13-41 13-45 13-44 13-40 13-36 13-31 13-27 13-22 13-17 13-13 13-8 13-3 13 2 13 6 13 10 13 16 13 20 13 24 13 30 13 33 13 35 13 23 13-15 13-34 13-33 13-29 13-25 13-20 13-16 13-11 13-6 13-3 13 3 13 7 13 11 13 16 13 20 13 25 13 29 13 34 13 38 13 40 13 39 13 31 13 19 13 13 13 9 13 7 13 4 13 1 13 1 13 1 13 0 13 1 13 1 13 1 13 2 13 4 13 4 13 3 13 3 13 1 13 0 13-2 13-3 13-11 13-22 13-34 13-40 13-39 13-35 13-32"/>
<path d="M0 546l13 0 13 0 13-1 13 0 13-2 13-7 13-19 13-36 13-44 13-45 13-42 13-37 13-34 13-28 13-24 13-20 13-15 13-11 13-6 13-1 13 3 13 8 13 12 13 17 13 21 13 26 13 31 13 34 13 36 13 25 13-14 13-34 13-35 13-30 13-26 13-22 13-17 13-13 13-8 13-4 13 1 13 6 13 10 13 14 13 19 13 24 13 28 13 33 13 36 13 40 13 40 13 33 13 21 13 14 13 10 13 6 13 2 13 0 13-1 13-2 13-1 13-2 13-1 13 0 13 1 13 3 13 5 13 5 13 3 13 2 13 0 13 0 13 0 13-4 13-12 13-24 13-34 13-37 13-35 13-31"/>
</g>
<linearGradient id="g28" gradientUnits="userSpaceOnUse" x1="0" y1="0" x2="1040.5" y2="0"><stop offset="0" stop-color="#fff" stop-opacity="0.1"/><stop offset="0.04" stop-color="#fff" stop-opacity="0.1"/><stop offset="0.08" stop-color="#fff" stop-opacity="0"/><stop offset="0.14" stop-color="#fff" stop-opacity="0"/><stop offset="0.18" stop-color="#fff" stop-opacity="0"/><stop offset="0.21" stop-color="#fff" stop-opacity="0"/><stop offset="0.29" stop-color="#fff" stop-opacity="0"/><stop offset="0.32" stop-color="#fff" stop-opacity="0"/><stop offset="0.35" stop-color="#fff" stop-opacity="0"/><stop offset="0.38" stop-color="#fff" stop-opacity="0"/><stop offset="0.4" stop-color="#fff" stop-opacity="0"/><stop offset="0.43" stop-color="#fff" stop-opacity="0"/><stop offset="0.46" stop-color="#fff" stop-opacity="0"/><stop offset="0.54" stop-color="#fff" stop-opacity="0"/><stop offset="0.57" stop-color="#fff" stop-opacity="0"/><stop offset="0.61" stop-color="#fff" stop-opacity="0"/><stop offset="0.65" stop-color="#fff" stop-opacity="0"/><stop offset="0.69" stop-color="#fff" stop-opacity="0.1"/><stop offset="0.89" stop-color="#fff" stop-opacity="0.1"/><stop offset="0.93" stop-color="#fff" stop-opacity="0"/><stop offset="0.96" stop-color="#fff" stop-opacity="0"/><stop offset="1" stop-color="#fff" stop-opacity="0"/></linearGradient>
<g stroke-width="9" stroke="url(#g28)">
<path d="M0 561l13-3 13-3 13-2 13-2 13-3 13-5 13-16 13-32 13-41 13-44 13-41 13-38 13-33 13-29 13-25 13-20 13-16 13-12 13-7 13-3 13 1 13 6 13 10 13 15 13 18 13 24 13 27 13 31 13 32 13 18 13-14 13-30 13-30 13-26 13-23 13-18 13-14 13-10 13-6 13-2 13 3 13 6 13 11 13 15 13 19 13 23 13 27 13 31 13 35 13 38 13 40 13 36 13 27 13 15 13 8 13 4 13 1 13-6 13-10 13-7 13 0 13 6 13 9 13 9 13 8 13 8 13 9 13 6 13 2 13-5 13-9 13-6 13-3 13-3 13-3 13-4 13-6 13-8 13-13 13-15"/>
<path d="M0 545l13-2 13-2 13-2 13-1 13-2 13-5 13-13 13-31 13-42 13-45 13-43 13-39 13-34 13-30 13-25 13-20 13-16 13-11 13-7 13-1 13 3 13 7 13 13 13 17 13 21 13 26 13 31 13 34 13 32 13 5 13-25 13-32 13-29 13-26 13-21 13-18 13-13 13-9 13-6 13-1 13 3 13 7 13 12 13 15 13 19 13 23 13 28 13 31 13 35 13 38 13 40 13 37 13 26 13 16 13 9 13 5 13 2 13-6 13-9 13-6 13-1 13 3 13 5 13 5 13 5 13 6 13 7 13 6 13 1 13 0 13 0 13-1 13-1 13-3 13-7 13-17 13-28 13-34 13-35 13-32"/>
<path d="M0 541l13-1 13-2 13-1 13-2 13-3 13-9 13-21 13-35 13-40 13-41 13-37 13-34 13-30 13-26 13-23 13-18 13-14 13-9 13-6 13-2 13 2 13 6 13 11 13 14 13 18 13 23 13 26 13 30 13 32 13 22 13-9 13-30 13-31 13-28 13-23 13-20 13-15 13-12 13-6 13-3 13 2 13 6 13 10 13 14 13 19 13 22 13 27 13 32 13 35 13 38 13 39 13 35 13 23 13 13 13 7 13 4 13 1 13-7 13-11 13-8 13 0 13 4 13 6 13 6 13 6 13 6 13 6 13 5 13 1 13-5 13-9 13-5 13-2 13-2 13-2 13-3 13-6 13-11 13-17 13-22"/>
<path d="M0 557l13-3 13-3 13-3 13-3 13-5 13-11 13-25 13-36 13-41 13-41 13-38 13-34 13-30 13-26 13-22 13-18 13-14 13-10 13-6 13-1 13 2 13 6 13 11 13 15 13 18 13 23 13 27 13 30 13 33 13 22 13-11 13-32 13-34 13-30 13-25 13-21 13-16 13-11 13-7 13-2 13 3 13 7 13 12 13 17 13 21 13 26 13 31 13 35 13 39 13 41 13 41 13 30 13 17 13 12 13 12 13 10 13 2 13-10 13-15 13-12 13-1 13 3 13 4 13 4 13 5 13 8 13 10 13 8 13 2 13-5 13-7 13-7 13-5 13-4 13-6 13-6 13-8 13-13 13-18 13-20"/>
<path d="M0 548l13-4 13-4 13-3 13-3 13-2 13-5 13-17 13-32 13-42 13-42 13-40 13-36 13-32 13-27 13-24 13-19 13-14 13-11 13-6 13-2 13 3 13 7 13 11 13 16 13 20 13 24 13 28 13 33 13 34 13 22 13-14 13-34 13-34 13-30 13-25 13-20 13-16 13-11 13-6 13-1 13 3 13 8 13 13 13 17 13 23 13 27 13 32 13 36 13 40 13 44 13 42 13 32 13 15 13 6 13 3 13 2 13 0 13-5 13-8 13-6 13 0 13 4 13 6 13 6 13 4 13 5 13 4 13 3 13 1 13-2 13-4 13-3 13-3 13-4 13-6 13-13 13-19 13-26 13-27 13-26"/>
<path d="M0 542l13 0 13 0 13-1 13 0 13-1 13-3 13-11 13-27 13-41 13-45 13-43 13-40 13-35 13-30 13-26 13-20 13-16 13-11 13-6 13-2 13 4 13 8 13 13 13 18 13 22 13 28 13 32 13 36 13 38 13 20 13-22 13-37 13-37 13-32 13-27 13-22 13-18 13-13 13-7 13-3 13 2 13 6 13 12 13 16 13 22 13 26 13 31 13 35 13 39 13 41 13 36 13 22 13 11 13 12 13 15 13 11 13 4 13-10 13-15 13-12 13 0 13 7 13 9 13 7 13 3 13 1 13 0 13 0 13 1 13 4 13 7 13 3 13 0 13-1 13-1 13-5 13-10 13-16 13-22 13-23"/>
<path d="M0 544l13 0 13 0 13-1 13 0 13-1 13-6 13-18 13-33 13-42 13-43 13-40 13-37 13-33 13-28 13-24 13-20 13-16 13-11 13-8 13-2 13 1 13 6 13 9 13 15 13 18 13 23 13 26 13 31 13 32 13 20 13-12 13-28 13-30 13-27 13-22 13-18 13-15 13-9 13-6 13-2 13 3 13 6 13 11 13 15 13 19 13 23 13 28 13 31 13 35 13 39 13 39 13 35 13 24 13 12 13 5 13 3 13 0 13-7 13-12 13-9 13 0 13 3 13 4 13 5 13 3 13 3 13 3 13 2 13 0 13 0 13 0 13 0 13 0 13-2 13-4 13-7 13-11 13-17 13-22 13-24"/>
<path d="M0 539l13-2 13-1 13-1 13-2 13-1 13-3 13-8 13-20 13-35 13-43 13-43 13-39 13-35 13-30 13-26 13-21 13-16 13-11 13-7 13-1 13 3 13 8 13 12 13 18 13 22 13 27 13 31 13 36 13 36 13 16 13-21 13-34 13-33 13-29 13-24 13-21 13-16 13-12 13-7 13-2 13 1 13 6 13 11 13 15 13 19 13 24 13 28 13 32 13 36 13 37 13 34 13 23 13 13 13 10 13 9 13 8 13 2 13-5 13-8 13-6 13 1 13 6 13 7 13 7 13 4 13 1 13 1 13 1 13 0 13-2 13-4 13-3 13-3 13-2 13-3 13-2 13-4 13-5 13-7 13-10"/>
<path d="M0 555l13-4 13-4 13-3 13-4 13-6 13-12 13-27 13-38 13-42 13-41 13-37 13-34 13-30 13-26 13-22 13-18 13-14 13-10 13-5 13-2 13 3 13 6 13 11 13 15 13 18 13 23 13 27 13 30 13 32 13 20 13-11 13-28 13-30 13-26 13-23 13-18 13-14 13-9 13-6 13-1 13 2 13 7 13 11 13 16 13 19 13 24 13 27 13 32 13 35 13 39 13 38 13 32 13 20 13 11 13 5 13 3 13 1 13-8 13-12 13-9 13 1 13 10 13 14 13 12 13 5 13 1 13 1 13 1 13 1 13 1 13 1 13 1 13-1 13-3 13-6 13-9 13-15 13-20 13-22 13-22"/>
<path d="M0 535l13-2 13-1 13-2 13-1 13-2 13-4 13-11 13-26 13-39 13-44 13-43 13-38 13-35 13-30 13-25 13-21 13-15 13-12 13-6 13-2 13 3 13 8 13 12 13 17 13 22 13 26 13 31 13 35 13 34 13 15 13-21 13-32 13-31 13-28 13-23 13-19 13-15 13-10 13-7 13-2 13 2 13 6 13 10 13 14 13 19 13 22 13 27 13 31 13 34 13 37 13 35 13 29 13 18 13 15 13 15 13 11 13 3 13-10 13-15 13-12 13 0 13 4 13 7 13 7 13 4 13 4 13 2 13 3 13 2 13 3 13 1 13 1 13-1 13-2 13-7 13-15 13-25 13-30 13-31 13-29"/>
<path d="M0 544l13 1 13 0 13 1 13 0 13-1 13-4 13-15 13-32 13-44 13-46 13-43 13-39 13-35 13-30 13-26 13-21 13-17 13-12 13-8 13-3 13 2 13 6 13 10 13 15 13 20 13 24 13 29 13 33 13 36 13 26 13-9 13-32 13-34 13-30 13-25 13-21 13-16 13-12 13-7 13-2 13 3 13 7 13 11 13 17 13 21 13 25 13 30 13 35 13 39 13 41 13 41 13 32 13 18 13 9 13 7 13 6 13 1 13-7 13-10 13-8 13 1 13 11 13 15 13 14 13 8 13 4 13 4 13 3 13 1 13-8 13-11 13-8 13-5 13-10 13-22 13-34 13-40 13-39 13-36 13-32"/>
<path d="M0 524l13-1 13-1 13-1 13-1 13-1 13-3 13-8 13-19 13-33 13-39 13-40 13-37 13-33 13-29 13-24 13-21 13-16 13-12 13-7 13-4 13 1 13 6 13 9 13 14 13 19 13 22 13 27 13 31 13 33 13 29 13 1 13-29 13-35 13-31 13-27 13-22 13-18 13-12 13-8 13-3 13 2 13 7 13 12 13 17 13 21 13 26 13 31 13 35 13 39 13 40 13 34 13 21 13 7 13-1 13-4 13-3 13-1 13 0 13 1 13 1 13 3 13 7 13 10 13 7 13 4 13 1 13 1 13 0 13 0 13-5 13-9 13-6 13-2 13-2 13-2 13-2 13-2 13-5 13-8 13-13"/>
<path d="M0 536l13-1 13-1 13-1 13-2 13-1 13-4 13-11 13-26 13-38 13-42 13-42 13-38 13-33 13-30 13-25 13-21 13-17 13-12 13-7 13-4 13 1 13 6 13 10 13 14 13 18 13 23 13 28 13 31 13 31 13 18 13-15 13-29 13-29 13-26 13-22 13-18 13-14 13-10 13-6 13-1 13 2 13 6 13 11 13 15 13 18 13 23 13 27 13 30 13 34 13 36 13 35 13 27 13 16 13 9 13 5 13 4 13 1 13-3 13-6 13-4 13 1 13 8 13 10 13 9 13 4 13 1 13 0 13 0 13 1 13 3 13 4 13 1 13 0 13-1 13-2 13-5 13-10 13-17 13-22 13-25"/>
<path d="M0 527l13 1 13 2 13 1 13 1 13 0 13-3 13-9 13-25 13-39 13-45 13-44 13-39 13-35 13-31 13-26 13-22 13-16 13-12 13-8 13-2 13 2 13 6 13 11 13 16 13 21 13 25 13 30 13 35 13 37 13 32 13-4 13-34 13-36 13-33 13-28 13-24 13-18 13-14 13-8 13-4 13 0 13 6 13 11 13 15 13 20 13 25 13 30 13 34 13 39 13 41 13 38 13 28 13 14 13 6 13 5 13 4 13 1 13-4 13-6 13-5 13 0 13 3 13 4 13 6 13 5 13 9 13 11 13 9 13 2 13-5 13-8 13-6 13-5 13-8 13-16 13-26 13-34 13-36 13-34 13-31"/>
<path d="M0 556l13-4 13-4 13-4 13-3 13-2 13-4 13-11 13-25 13-39 13-45 13-43 13-39 13-35 13-30 13-26 13-21 13-16 13-12 13-7 13-2 13 3 13 7 13 12 13 17 13 21 13 27 13 30 13 35 13 35 13 16 13-20 13-33 13-31 13-28 13-23 13-19 13-15 13-11 13-7 13-3 13 2 13 6 13 10 13 14 13 19 13 22 13 27 13 31 13 35 13 38 13 40 13 36 13 26 13 12 13 3 13 1 13-1 13-4 13-7 13-5 13 1 13 9 13 11 13 10 13 3 13 0 13 0 13 0 13 0 13-2 13-4 13-3 13-2 13-2 13-3 13-2 13-5 13-9 13-15 13-19"/>
<path d="M0 564l13-4 13-4 13-4 13-4 13-3 13-4 13-12 13-27 13-40 13-45 13-44 13-39 13-36 13-30 13-27 13-21 13-17 13-13 13-8 13-3 13 2 13 6 13 10 13 16 13 20 13 24 13 29 13 34 13 35 13 24 13-12 13-34 13-33 13-30 13-24 13-21 13-15 13-11 13-6 13-1 13 4 13 8 13 13 13 18 13 22 13 28 13 32 13 36 13 41 13 43 13 42 13 32 13 17 13 9 13 8 13 5 13 1 13-7 13-13 13-9 13-1 13 0 13 0 13 1 13 0 13 9 13 15 13 13 13 4 13-3 13-4 13-4 13-4 13-4 13-5 13-8 13-13 13-21 13-26 13-28"/>
</g>
</g></g>
<clipPath id="c7"><rect x="66.7" y="438.9" width="104.05" height="93.7"/></clipPath>
<g clip-path="url(#c7)"><g transform="translate(66.7 438.9) scale(.1)" class="cv">
<linearGradient id="g29" gradientUnits="userSpaceOnUse" x1="0" y1="0" x2="1040.5" y2="0"><stop offset="0" stop-color="#a8b6e6" stop-opacity="0.32"/><stop offset="0.04" stop-color="#a8b6e6" stop-opacity="0.32"/><stop offset="0.08" stop-color="#a8b6e6" stop-opacity="0.064"/><stop offset="0.14" stop-color="#a8b6e6" stop-opacity="0.09"/><stop offset="0.18" stop-color="#a8b6e6" stop-opacity="0.128"/><stop offset="0.21" stop-color="#a8b6e6" stop-opacity="0.096"/><stop offset="0.29" stop-color="#a8b6e6" stop-opacity="0.096"/><stop offset="0.32" stop-color="#a8b6e6" stop-opacity="0.128"/><stop offset="0.35" stop-color="#a8b6e6" stop-opacity="0.09"/><stop offset="0.38" stop-color="#a8b6e6" stop-opacity="0.128"/><stop offset="0.4" stop-color="#a8b6e6" stop-opacity="0.09"/><stop offset="0.43" stop-color="#a8b6e6" stop-opacity="0.128"/><stop offset="0.46" stop-color="#a8b6e6" stop-opacity="0.096"/><stop offset="0.54" stop-color="#a8b6e6" stop-opacity="0.096"/><stop offset="0.57" stop-color="#a8b6e6" stop-opacity="0.128"/><stop offset="0.61" stop-color="#a8b6e6" stop-opacity="0.09"/><stop offset="0.65" stop-color="#a8b6e6" stop-opacity="0.064"/><stop offset="0.69" stop-color="#a8b6e6" stop-opacity="0.32"/><stop offset="0.89" stop-color="#a8b6e6" stop-opacity="0.32"/><stop offset="0.93" stop-color="#a8b6e6" stop-opacity="0.064"/><stop offset="0.96" stop-color="#a8b6e6" stop-opacity="0.128"/><stop offset="1" stop-color="#a8b6e6" stop-opacity="0.128"/></linearGradient>
<g stroke-width="5" stroke="url(#g29)">
<path d="M0 520l13-3 13-2 13-2 13-1 13-2 13-3 13-9 13-23 13-35 13-40 13-39 13-36 13-32 13-28 13-23 13-19 13-15 13-11 13-6 13-2 13 2 13 6 13 11 13 16 13 19 13 24 13 28 13 31 13 30 13 10 13-21 13-30 13-29 13-25 13-21 13-16 13-12 13-8 13-4 13 0 13 5 13 8 13 13 13 18 13 21 13 25 13 30 13 32 13 35 13 33 13 25 13 14 13 7 13 5 13 5 13 4 13 1 13-15 13-21 13-11 13 8 13 20 13 22 13 17 13 11 13 11 13 10 13 8 13 5 13 2 13-2 13-7 13-13 13-22 13-30 13-36 13-37 13-34 13-31 13-27"/>
<path d="M0 577l13-8 13-8 13-8 13-7 13-5 13-4 13-6 13-15 13-30 13-38 13-41 13-39 13-35 13-31 13-26 13-22 13-18 13-13 13-9 13-4 13 0 13 4 13 9 13 14 13 18 13 22 13 26 13 31 13 33 13 27 13-3 13-29 13-33 13-30 13-25 13-22 13-16 13-13 13-8 13-3 13 1 13 5 13 10 13 15 13 18 13 23 13 28 13 32 13 35 13 36 13 34 13 25 13 14 13 12 13 10 13 8 13 2 13-4 13-6 13-3 13 8 13 18 13 18 13 10 13 1 13 2 13 1 13 1 13 0 13 0 13 0 13-4 13-9 13-20 13-34 13-39 13-39 13-36 13-32 13-28"/>
<path d="M0 553l13-7 13-7 13-7 13-6 13-6 13-9 13-16 13-30 13-39 13-41 13-40 13-35 13-32 13-27 13-23 13-19 13-14 13-10 13-6 13-2 13 3 13 7 13 12 13 16 13 20 13 24 13 29 13 32 13 34 13 24 13-10 13-32 13-33 13-30 13-26 13-21 13-17 13-13 13-8 13-4 13 1 13 5 13 10 13 14 13 18 13 23 13 27 13 31 13 35 13 38 13 38 13 31 13 15 13 0 13-6 13-6 13-2 13 10 13 13 13 7 13-1 13-2 13-2 13-1 13 3 13 9 13 12 13 12 13 9 13 3 13-4 13-11 13-16 13-17 13-18 13-21 13-27 13-31 13-32 13-30"/>
<path d="M0 548l13-8 13-7 13-7 13-6 13-5 13-4 13-7 13-17 13-31 13-39 13-40 13-37 13-33 13-28 13-24 13-20 13-14 13-10 13-6 13-1 13 4 13 9 13 13 13 18 13 22 13 27 13 32 13 35 13 34 13 13 13-20 13-34 13-32 13-29 13-25 13-20 13-16 13-12 13-8 13-4 13 1 13 5 13 10 13 13 13 18 13 22 13 27 13 30 13 33 13 35 13 31 13 20 13 7 13-4 13-7 13-6 13-3 13-2 13-1 13-1 13 13 13 27 13 28 13 13 13-2 13-5 13-6 13-7 13-5 13-2 13 2 13 5 13 5 13 1 13-10 13-27 13-35 13-36 13-35 13-31"/>
<path d="M0 533l13 5 13 4 13 5 13 3 13 1 13-6 13-19 13-34 13-41 13-41 13-39 13-35 13-31 13-26 13-23 13-17 13-14 13-9 13-5 13-1 13 3 13 8 13 12 13 17 13 21 13 25 13 29 13 33 13 33 13 20 13-17 13-34 13-34 13-30 13-26 13-20 13-17 13-11 13-7 13-1 13 3 13 8 13 12 13 18 13 22 13 27 13 31 13 35 13 37 13 35 13 25 13 12 13 4 13 3 13 2 13 1 13 0 13-10 13-15 13-7 13 1 13 2 13 4 13 5 13 10 13 17 13 20 13 20 13 14 13 6 13-2 13-5 13-10 13-18 13-29 13-37 13-38 13-37 13-33 13-29"/>
<path d="M0 547l13-6 13-7 13-6 13-5 13-6 13-6 13-12 13-26 13-36 13-40 13-39 13-35 13-31 13-27 13-22 13-18 13-13 13-9 13-5 13 0 13 4 13 9 13 13 13 18 13 22 13 26 13 31 13 33 13 30 13 4 13-26 13-33 13-30 13-28 13-23 13-18 13-15 13-11 13-6 13-2 13 1 13 7 13 10 13 14 13 19 13 22 13 27 13 31 13 33 13 35 13 32 13 23 13 15 13 13 13 11 13 9 13 2 13 0 13 0 13 0 13-1 13-1 13-1 13-1 13 1 13 1 13 2 13 2 13 1 13 2 13 1 13 1 13-3 13-11 13-23 13-34 13-35 13-34 13-31 13-27"/>
<path d="M0 528l13 6 13 7 13 6 13 4 13 0 13-9 13-27 13-41 13-45 13-43 13-39 13-36 13-31 13-26 13-23 13-17 13-14 13-9 13-4 13 0 13 4 13 9 13 13 13 18 13 22 13 27 13 30 13 34 13 32 13 6 13-26 13-33 13-30 13-26 13-22 13-18 13-13 13-8 13-5 13 1 13 4 13 9 13 13 13 18 13 22 13 27 13 30 13 35 13 37 13 38 13 31 13 19 13 10 13 11 13 11 13 9 13 2 13-2 13-3 13-4 13-6 13-7 13-6 13-3 13 2 13 6 13 8 13 9 13 8 13 6 13 4 13 4 13 1 13-6 13-23 13-37 13-41 13-40 13-37 13-33"/>
<path d="M0 579l13-5 13-4 13-5 13-5 13-4 13-6 13-14 13-29 13-39 13-43 13-41 13-37 13-34 13-28 13-25 13-20 13-15 13-11 13-6 13-2 13 2 13 7 13 11 13 16 13 21 13 24 13 29 13 33 13 34 13 17 13-20 13-35 13-33 13-30 13-24 13-20 13-16 13-10 13-6 13 0 13 4 13 8 13 14 13 18 13 23 13 28 13 32 13 37 13 39 13 39 13 31 13 15 13 1 13-5 13-7 13-5 13-1 13 17 13 26 13 13 13-4 13-8 13-7 13-4 13 4 13 8 13 11 13 12 13 8 13 3 13-1 13-5 13-8 13-13 13-20 13-30 13-36 13-37 13-34 13-30"/>
</g>
</g></g>
<rect x="177.05" y="438.9" width="5.5" height="93.7" fill="url(#jet)"/>
<text class="c" x="183.85" y="528.77">2</text><text class="c" x="183.85" y="519.39">4</text><text class="c" x="183.85" y="510">6</text><text class="c" x="183.85" y="500.61">8</text><text class="c" x="183.85" y="491.22">10</text><text class="c" x="183.85" y="481.83">12</text><text class="c" x="183.85" y="472.44">14</text><text class="c" x="183.85" y="463.05">16</text><text class="c" x="183.85" y="453.66">18</text><text class="c" x="183.85" y="444.27">20</text>
<text class="c" text-anchor="middle" transform="translate(192.75 485.75) rotate(-90)">Density(%)</text>
</g>
<g>
<text class="t" x="273.52" y="437.35">Persistence spectrum</text>
<text class="a" x="273.52" y="544">Frequency (Hz)</text>
<text class="a" transform="translate(210.05 486.43) rotate(-90)">Power Spectrum (dB)</text>
<text class="k" text-anchor="middle" x="220.85" y="539.1">0</text><text class="k" text-anchor="middle" x="246.94" y="539.1">50</text><text class="k" text-anchor="middle" x="273.02" y="539.1">100</text><text class="k" text-anchor="middle" x="299.11" y="539.1">150</text><text class="k" text-anchor="middle" x="325.2" y="539.1">200</text>
<text class="k" text-anchor="end" x="219.25" y="440.45">0</text><text class="k" text-anchor="end" x="219.25" y="449.88">-10</text><text class="k" text-anchor="end" x="219.25" y="459.32">-20</text><text class="k" text-anchor="end" x="219.25" y="468.75">-30</text><text class="k" text-anchor="end" x="219.25" y="478.19">-40</text><text class="k" text-anchor="end" x="219.25" y="487.62">-50</text><text class="k" text-anchor="end" x="219.25" y="497.06">-60</text><text class="k" text-anchor="end" x="219.25" y="506.5">-70</text><text class="k" text-anchor="end" x="219.25" y="515.93">-80</text><text class="k" text-anchor="end" x="219.25" y="525.37">-90</text><text class="k" text-anchor="end" x="219.25" y="534.8">-100</text>
<rect x="220.85" y="439.25" width="104.35" height="94.35" fill="#000082"/><g transform="translate(220.85 439.25)" filter="url(#fd)"><rect width="104.35" height="94.35" fill="#000"/><g transform="scale(.1)" class="cv">
<linearGradient id="g30" gradientUnits="userSpaceOnUse" x1="0" y1="0" x2="1043.5" y2="0"><stop offset="0" stop-color="#fff" stop-opacity="0.014"/><stop offset="0.04" stop-color="#fff" stop-opacity="0.014"/><stop offset="0.08" stop-color="#fff" stop-opacity="0.011"/><stop offset="0.14" stop-color="#fff" stop-opacity="0.016"/><stop offset="0.18" stop-color="#fff" stop-opacity="0.022"/><stop offset="0.21" stop-color="#fff" stop-opacity="0.028"/><stop offset="0.29" stop-color="#fff" stop-opacity="0.028"/><stop offset="0.32" stop-color="#fff" stop-opacity="0.022"/><stop offset="0.35" stop-color="#fff" stop-opacity="0.016"/><stop offset="0.38" stop-color="#fff" stop-opacity="0.022"/><stop offset="0.4" stop-color="#fff" stop-opacity="0.016"/><stop offset="0.43" stop-color="#fff" stop-opacity="0.022"/><stop offset="0.46" stop-color="#fff" stop-opacity="0.028"/><stop offset="0.54" stop-color="#fff" stop-opacity="0.028"/><stop offset="0.57" stop-color="#fff" stop-opacity="0.022"/><stop offset="0.61" stop-color="#fff" stop-opacity="0.016"/><stop offset="0.65" stop-color="#fff" stop-opacity="0.011"/><stop offset="0.69" stop-color="#fff" stop-opacity="0.014"/><stop offset="0.89" stop-color="#fff" stop-opacity="0.014"/><stop offset="0.93" stop-color="#fff" stop-opacity="0.011"/><stop offset="0.96" stop-color="#fff" stop-opacity="0.022"/><stop offset="1" stop-color="#fff" stop-opacity="0.022"/></linearGradient>
<g stroke-width="22" stroke="url(#g30)">
<path d="M0 468l26 0 26 0 26-1 26 0 26-43 27-74 26-64 26-47 26-30 26-13 26 4 26 22 26 39 26 55 26 54 26-34 26-56 27-40 26-24 26-6 26 10 26 28 26 44 26 62 26 73 26 59 26 13 26-7 27-7 26-4 26 14 26 25 26 14 26 0 26-1 26-4 26-22 26-60 26-70 27-59"/>
<path d="M0 522l26-19 26-13 26-5 26-6 26-54 27-78 26-66 26-48 26-30 26-11 26 7 26 25 26 43 26 61 26 57 26-42 26-59 27-43 26-25 26-8 26 11 26 29 26 47 26 63 26 74 26 51 26 11 26 0 27 1 26 0 26 5 26 11 26 10 26 9 26 8 26 3 26-9 26-45 26-71 27-65"/>
<path d="M0 463l26 28 26 18 26 5 26-24 26-63 27-74 26-63 26-47 26-31 26-13 26 4 26 21 26 38 26 55 26 64 26-6 26-58 27-45 26-27 26-9 26 9 26 27 26 45 26 61 26 63 26 28 26 1 26-7 27-6 26-3 26 3 26 7 26 7 26 9 26 9 26 4 26-5 26-24 26-49 27-54"/>
<path d="M0 474l26 23 26 13 26 3 26-21 26-55 27-67 26-63 26-48 26-32 26-14 26 4 26 21 26 39 26 56 26 63 26-17 26-57 27-43 26-24 26-7 26 12 26 29 26 47 26 61 26 57 26 22 26 3 26 4 27 4 26 4 26 1 26 1 26 2 26 10 26 16 26 8 26-15 26-51 26-71 27-62"/>
<path d="M0 448l26 25 26 15 26 4 26-27 26-64 27-71 26-59 26-44 26-26 26-9 26 7 26 25 26 42 26 58 26 64 26-11 26-59 27-47 26-29 26-11 26 6 26 25 26 41 26 58 26 63 26 35 26 5 26 0 27-1 26 0 26 14 26 26 26 13 26-1 26-4 26-5 26-9 26-31 26-61 27-61"/>
<path d="M0 466l26 23 26 11 26 2 26-26 26-61 27-70 26-62 26-46 26-28 26-10 26 10 26 28 26 46 26 64 26 42 26-55 26-59 27-42 26-25 26-7 26 10 26 27 26 45 26 62 26 74 26 62 26 14 26-17 27-21 26-10 26 21 26 40 26 22 26-5 26-10 26-11 26-11 26-27 26-61 27-67"/>
<path d="M0 487l26-2 26-2 26-2 26-8 26-40 27-70 26-63 26-46 26-27 26-9 26 9 26 29 26 46 26 63 26 36 26-60 26-62 27-45 26-27 26-9 26 9 26 28 26 46 26 63 26 73 26 49 26 7 26-6 27-9 26-4 26 16 26 31 26 16 26-3 26-6 26-8 26-12 26-25 26-52 27-58"/>
<path d="M0 525l26-14 26-13 26-13 26-16 26-21 27-31 26-47 26-44 26-30 26-14 26 4 26 21 26 38 26 52 26 38 26-39 26-60 27-47 26-29 26-11 26 7 26 25 26 43 26 57 26 56 26 24 26 4 26 5 27 6 26 9 26 16 26 22 26 11 26-3 26-6 26-7 26-10 26-19 26-44 27-59"/>
<path d="M0 453l26 17 26 10 26 2 26-25 26-65 27-72 26-61 26-43 26-26 26-9 26 10 26 27 26 44 26 61 26 61 26-32 26-62 27-48 26-29 26-12 26 5 26 24 26 41 26 59 26 69 26 52 26 13 26 3 27 2 26 3 26 14 26 23 26 12 26-5 26-12 26-13 26-16 26-37 26-63 27-61"/>
<path d="M0 482l26 1 26 0 26 0 26-12 26-42 27-65 26-61 26-45 26-28 26-10 26 9 26 26 26 44 26 60 26 42 26-52 26-61 27-45 26-28 26-10 26 8 26 25 26 43 26 59 26 69 26 49 26 10 26 0 27-1 26 0 26 8 26 16 26 12 26 6 26 5 26 2 26-4 26-24 26-59 27-63"/>
<path d="M0 463l26-13 26-6 26-2 26 6 26-16 27-64 26-62 26-45 26-28 26-9 26 9 26 28 26 45 26 62 26 52 26-37 26-59 27-45 26-29 26-11 26 6 26 23 26 40 26 54 26 56 26 27 26 1 26-3 27-3 26-2 26 12 26 24 26 17 26 7 26 6 26 2 26-7 26-28 26-57 27-61"/>
<path d="M0 548l26-4 26-8 26-12 26-35 26-67 27-75 26-66 26-49 26-31 26-13 26 6 26 25 26 43 26 61 26 52 26-50 26-60 27-43 26-24 26-6 26 12 26 31 26 49 26 67 26 79 26 53 26 7 26-9 27-9 26-5 26 7 26 12 26 10 26 5 26 4 26 2 26-4 26-31 26-64 27-63"/>
<path d="M0 433l26 5 26 6 26 6 26 3 26-24 27-65 26-64 26-47 26-28 26-10 26 9 26 28 26 46 26 63 26 45 26-53 26-60 27-43 26-26 26-8 26 10 26 27 26 45 26 61 26 73 26 53 26 10 26-13 27-15 26-7 26 8 26 16 26 8 26-2 26-4 26-4 26-4 26-17 26-48 27-61"/>
<path d="M0 417l26 1 26 3 26 4 26 16 26 1 27-58 26-63 26-47 26-29 26-12 26 7 26 24 26 42 26 59 26 48 26-43 26-59 27-44 26-27 26-10 26 7 26 24 26 41 26 55 26 58 26 28 26 5 26 2 27 4 26 3 26 3 26 3 26 5 26 15 26 21 26 10 26-3 26-14 26-43 27-57"/>
<path d="M0 442l26 26 26 16 26 6 26-16 26-47 27-66 26-62 26-46 26-28 26-10 26 8 26 26 26 44 26 62 26 55 26-43 26-62 27-46 26-28 26-10 26 7 26 25 26 42 26 59 26 68 26 46 26 7 26-2 27-2 26-1 26 5 26 10 26 5 26-1 26-1 26-2 26-9 26-37 26-66 27-62"/>
<path d="M0 483l26 8 26 7 26 5 26 0 26-20 27-60 26-64 26-48 26-31 26-13 26 5 26 23 26 42 26 55 26 35 26-49 26-60 27-45 26-28 26-11 26 7 26 24 26 41 26 58 26 72 26 64 26 20 26-4 27-9 26-6 26-3 26-3 26-1 26 0 26 1 26 1 26-1 26-23 26-60 27-61"/>
<path d="M0 448l26 7 26 8 26 8 26 3 26-49 27-77 26-65 26-47 26-28 26-11 26 8 26 27 26 44 26 62 26 48 26-55 26-63 27-45 26-28 26-10 26 8 26 25 26 44 26 61 26 77 26 77 26 27 26-13 27-17 26-8 26 17 26 33 26 18 26-1 26-3 26-4 26-12 26-47 26-75 27-69"/>
<path d="M0 483l26-14 26-11 26-5 26-2 26-19 27-53 26-60 26-47 26-30 26-14 26 5 26 21 26 39 26 55 26 43 26-48 26-61 27-45 26-28 26-10 26 7 26 25 26 42 26 59 26 69 26 49 26 7 26-8 27-11 26-4 26 8 26 18 26 17 26 15 26 15 26 6 26-5 26-28 26-63 27-66"/>
<path d="M0 522l26-19 26-16 26-11 26-15 26-47 27-67 26-60 26-43 26-26 26-8 26 9 26 27 26 44 26 61 26 44 26-52 26-60 27-44 26-27 26-9 26 8 26 25 26 42 26 59 26 74 26 70 26 26 26 2 27 0 26-1 26-1 26-3 26-1 26 13 26 24 26 13 26-9 26-38 26-65 27-62"/>
<path d="M0 466l26 35 26 20 26 6 26-30 26-64 27-68 26-59 26-44 26-25 26-8 26 11 26 29 26 46 26 63 26 43 26-54 26-63 27-46 26-28 26-10 26 7 26 26 26 44 26 61 26 75 26 67 26 16 26-18 27-21 26-11 26 20 26 36 26 20 26-2 26-2 26-4 26-12 26-36 26-63 27-60"/>
<path d="M0 555l26-25 26-19 26-7 26-7 26-43 27-74 26-65 26-49 26-31 26-13 26 4 26 23 26 41 26 58 26 54 26-39 26-59 27-44 26-26 26-9 26 9 26 26 26 44 26 60 26 72 26 54 26 12 26-2 27-4 26-2 26 8 26 16 26 12 26 7 26 5 26 2 26-9 26-31 26-57 27-58"/>
<path d="M0 532l26-19 26-15 26-12 26-12 26-34 27-63 26-61 26-47 26-30 26-12 26 5 26 22 26 39 26 56 26 58 26-30 26-60 27-44 26-27 26-9 26 9 26 26 26 44 26 60 26 62 26 27 26 1 26-5 27-3 26-2 26 21 26 39 26 21 26 0 26 0 26-1 26-7 26-27 26-49 27-53"/>
<path d="M0 502l26-27 26-20 26-8 26-2 26-19 27-55 26-59 26-44 26-27 26-8 26 10 26 28 26 46 26 60 26 42 26-38 26-54 27-42 26-25 26-8 26 9 26 26 26 43 26 55 26 49 26 17 26 0 26-4 27-4 26-1 26 18 26 36 26 19 26-8 26-16 26-12 26-7 26-20 26-51 27-58"/>
<path d="M0 482l26 0 26 0 26-1 26-5 26-18 27-44 26-58 26-48 26-31 26-12 26 5 26 25 26 42 26 55 26 29 26-54 26-63 27-46 26-28 26-9 26 9 26 28 26 46 26 64 26 73 26 46 26 5 26-17 27-20 26-9 26 6 26 12 26 14 26 16 26 16 26 8 26-5 26-29 26-62 27-61"/>
<path d="M0 484l26 24 26 14 26 3 26-23 26-60 27-73 26-64 26-49 26-31 26-13 26 4 26 23 26 40 26 58 26 59 26-27 26-57 27-43 26-25 26-8 26 10 26 27 26 44 26 60 26 67 26 39 26 7 26-3 27-3 26-1 26 3 26 7 26 7 26 9 26 10 26 4 26-6 26-32 26-61 27-61"/>
<path d="M0 559l26-3 26-6 26-9 26-25 26-56 27-69 26-59 26-43 26-26 26-10 26 8 26 25 26 42 26 57 26 57 26-13 26-55 27-46 26-29 26-12 26 7 26 23 26 42 26 57 26 62 26 36 26 7 26 1 27 0 26 1 26 2 26 5 26 4 26 4 26 4 26 2 26-14 26-51 26-72 27-63"/>
<path d="M0 510l26-17 26-13 26-9 26-8 26-27 27-56 26-58 26-45 26-27 26-11 26 7 26 24 26 42 26 57 26 35 26-54 26-58 27-42 26-24 26-7 26 10 26 28 26 45 26 61 26 71 26 49 26 9 26-3 27-4 26-2 26 5 26 10 26 8 26 4 26 3 26 1 26-4 26-24 26-55 27-58"/>
<path d="M0 464l26 26 26 13 26 3 26-25 26-55 27-60 26-57 26-44 26-27 26-10 26 8 26 25 26 43 26 58 26 38 26-55 26-57 27-42 26-23 26-7 26 12 26 29 26 46 26 63 26 71 26 44 26 9 26 3 27 4 26 3 26 2 26 1 26 2 26 6 26 7 26 3 26-12 26-52 26-71 27-61"/>
<path d="M0 460l26 10 26 7 26 1 26-17 26-60 27-73 26-61 26-45 26-28 26-11 26 6 26 24 26 41 26 57 26 60 26-32 26-61 27-43 26-26 26-8 26 10 26 28 26 45 26 63 26 72 26 47 26 10 26 5 27 7 26 7 26 13 26 16 26 8 26 0 26-1 26-1 26-6 26-36 26-67 27-64"/>
<path d="M0 481l26-3 26-2 26-2 26-15 26-58 27-73 26-59 26-43 26-26 26-9 26 9 26 26 26 44 26 59 26 56 26-39 26-61 27-44 26-26 26-8 26 9 26 28 26 45 26 61 26 62 26 30 26 5 26 8 27 9 26 6 26 2 26 2 26 2 26 6 26 7 26 4 26-4 26-25 26-59 27-60"/>
<path d="M0 444l26-6 26-4 26-2 26 1 26-12 27-48 26-59 26-45 26-27 26-10 26 10 26 28 26 46 26 62 26 42 26-58 26-66 27-48 26-31 26-12 26 7 26 25 26 44 26 62 26 74 26 59 26 14 26 0 27-1 26-1 26 3 26 5 26 5 26 4 26 5 26 2 26-12 26-50 26-72 27-64"/>
<path d="M0 483l26 13 26 8 26 3 26-7 26-34 27-66 26-64 26-48 26-30 26-12 26 6 26 24 26 42 26 58 26 46 26-39 26-54 27-39 26-23 26-5 26 11 26 29 26 45 26 56 26 46 26 14 26 3 26 6 27 8 26 6 26 4 26 3 26 3 26 4 26 4 26 2 26-3 26-22 26-55 27-62"/>
<path d="M0 418l26 8 26 8 26 8 26 6 26-23 27-64 26-63 26-47 26-29 26-12 26 6 26 25 26 42 26 59 26 57 26-31 26-58 27-43 26-24 26-7 26 11 26 29 26 46 26 61 26 54 26 20 26 3 26 6 27 8 26 8 26 11 26 11 26 6 26-1 26-3 26-5 26-8 26-21 26-44 27-56"/>
<path d="M0 442l26 26 26 18 26 6 26-8 26-30 27-57 26-58 26-44 26-27 26-10 26 8 26 26 26 44 26 57 26 30 26-63 26-66 27-48 26-29 26-11 26 8 26 27 26 45 26 63 26 76 26 57 26 11 26-9 27-11 26-5 26 9 26 18 26 16 26 9 26 8 26 3 26-11 26-49 26-72 27-65"/>
</g>
<linearGradient id="g31" gradientUnits="userSpaceOnUse" x1="0" y1="0" x2="1043.5" y2="0"><stop offset="0" stop-color="#fff" stop-opacity="0.095"/><stop offset="0.04" stop-color="#fff" stop-opacity="0.095"/><stop offset="0.08" stop-color="#fff" stop-opacity="0.048"/><stop offset="0.14" stop-color="#fff" stop-opacity="0.066"/><stop offset="0.18" stop-color="#fff" stop-opacity="0.095"/><stop offset="0.21" stop-color="#fff" stop-opacity="0.19"/><stop offset="0.29" stop-color="#fff" stop-opacity="0.19"/><stop offset="0.32" stop-color="#fff" stop-opacity="0.095"/><stop offset="0.35" stop-color="#fff" stop-opacity="0.066"/><stop offset="0.38" stop-color="#fff" stop-opacity="0.095"/><stop offset="0.4" stop-color="#fff" stop-opacity="0.066"/><stop offset="0.43" stop-color="#fff" stop-opacity="0.095"/><stop offset="0.46" stop-color="#fff" stop-opacity="0.228"/><stop offset="0.54" stop-color="#fff" stop-opacity="0.228"/><stop offset="0.57" stop-color="#fff" stop-opacity="0.095"/><stop offset="0.61" stop-color="#fff" stop-opacity="0.066"/><stop offset="0.65" stop-color="#fff" stop-opacity="0.048"/><stop offset="0.69" stop-color="#fff" stop-opacity="0.095"/><stop offset="0.89" stop-color="#fff" stop-opacity="0.095"/><stop offset="0.93" stop-color="#fff" stop-opacity="0.048"/><stop offset="0.96" stop-color="#fff" stop-opacity="0.171"/><stop offset="1" stop-color="#fff" stop-opacity="0.171"/></linearGradient>
<g stroke-width="6.2" stroke="url(#g31)">
<path d="M0 525l13-3 13-3 13-3 13-2 13-3 13-2 13-7 13-16 13-31 13-41 13-43 14-39 13-36 13-31 13-26 13-22 13-17 13-12 13-8 13-3 13 1 13 7 13 11 13 15 13 21 13 24 13 30 13 34 13 35 13 22 13-14 13-33 13-33 13-30 14-25 13-20 13-16 13-12 13-8 13-2 13 1 13 6 13 10 13 15 13 20 13 23 13 28 13 33 13 36 13 39 13 40 13 33 13 20 13 9 13 4 13 2 13 3 14 2 13 3 13 2 13 2 13 2 13 2 13 2 13 2 13 0 13-1 13-4 13-5 13-4 13-4 13-2 13 0 13-2 13-5 13-14 13-27 13-33 13-34 14-32"/>
<path d="M0 506l13-2 13-2 13-1 13-2 13-2 13-3 13-10 13-22 13-34 13-40 13-39 14-36 13-32 13-28 13-24 13-20 13-15 13-12 13-6 13-3 13 2 13 5 13 11 13 14 13 19 13 23 13 27 13 31 13 33 13 24 13-8 13-30 13-33 13-29 14-25 13-21 13-16 13-11 13-7 13-2 13 2 13 7 13 11 13 16 13 21 13 25 13 29 13 34 13 38 13 41 13 40 13 31 13 18 13 6 13 1 13 1 13 0 14 0 13 1 13 0 13 1 13 0 13 1 13 1 13 0 13 1 13 2 13 2 13 2 13 2 13 1 13 0 13-2 13-6 13-16 13-29 13-36 13-38 13-35 14-31"/>
<path d="M0 511l13 0 13 0 13 0 13 0 13-1 13-4 13-14 13-29 13-38 13-41 13-39 14-36 13-31 13-28 13-23 13-19 13-15 13-10 13-7 13-2 13 2 13 7 13 10 13 15 13 19 13 23 13 28 13 31 13 33 13 21 13-12 13-31 13-32 13-28 14-24 13-20 13-15 13-11 13-6 13-2 13 2 13 7 13 11 13 16 13 20 13 24 13 28 13 33 13 36 13 39 13 39 13 29 13 17 13 6 13 2 13 1 13 2 14 1 13 2 13 1 13 3 13 3 13 4 13 3 13 3 13 1 13-1 13-3 13-4 13-3 13-3 13-1 13-3 13-7 13-18 13-30 13-36 13-35 13-33 14-29"/>
<path d="M0 506l13 1 13 0 13 0 13 1 13-1 13-2 13-9 13-22 13-35 13-41 13-40 14-37 13-34 13-28 13-25 13-20 13-16 13-12 13-7 13-3 13 1 13 6 13 10 13 14 13 19 13 23 13 28 13 31 13 34 13 29 13-2 13-31 13-34 13-31 14-26 13-22 13-18 13-12 13-8 13-3 13 1 13 6 13 11 13 15 13 20 13 25 13 29 13 34 13 37 13 41 13 41 13 32 13 17 13 6 13 1 13 1 13 0 14-1 13 0 13 0 13 1 13 1 13 1 13 1 13 2 13 1 13 2 13 2 13 1 13 2 13 1 13-1 13-4 13-11 13-23 13-33 13-36 13-36 13-33 14-28"/>
<path d="M0 519l13 1 13 1 13 2 13 0 13 1 13-3 13-9 13-25 13-39 13-44 13-43 14-38 13-35 13-30 13-25 13-21 13-16 13-11 13-7 13-3 13 3 13 7 13 11 13 16 13 21 13 25 13 30 13 34 13 34 13 18 13-18 13-34 13-32 13-28 14-24 13-20 13-15 13-11 13-7 13-3 13 2 13 7 13 10 13 15 13 20 13 23 13 28 13 32 13 36 13 39 13 38 13 32 13 19 13 8 13 2 13 2 13 1 14 2 13 1 13 1 13 1 13 1 13 1 13 1 13 1 13 2 13 2 13 3 13 3 13 2 13 3 13 0 13-1 13-5 13-14 13-24 13-34 13-36 13-35 14-31"/>
<path d="M0 505l13 1 13 1 13 1 13 1 13 0 13-2 13-7 13-20 13-33 13-40 13-40 14-38 13-33 13-30 13-25 13-21 13-17 13-12 13-9 13-4 13 1 13 4 13 9 13 13 13 17 13 22 13 25 13 30 13 32 13 28 13 2 13-27 13-33 13-29 14-26 13-21 13-17 13-12 13-7 13-3 13 2 13 6 13 11 13 15 13 20 13 25 13 29 13 33 13 36 13 39 13 36 13 25 13 12 13 5 13 4 13 3 13 3 14 3 13 2 13 0 13 0 13 0 13 0 13 0 13 0 13 0 13 0 13 1 13 1 13 1 13 1 13 0 13-1 13-5 13-12 13-23 13-31 13-32 13-31 14-28"/>
<path d="M0 516l13-2 13-2 13-2 13-1 13-2 13-3 13-9 13-23 13-36 13-41 13-40 14-37 13-33 13-28 13-24 13-20 13-16 13-11 13-7 13-2 13 1 13 7 13 10 13 15 13 20 13 24 13 28 13 32 13 35 13 28 13-5 13-31 13-35 13-31 14-27 13-22 13-18 13-13 13-8 13-4 13 1 13 6 13 10 13 15 13 20 13 24 13 28 13 34 13 36 13 40 13 37 13 28 13 13 13 5 13 2 13 2 13 1 14 2 13 2 13 1 13 2 13 3 13 2 13 3 13 2 13 1 13 0 13 1 13 0 13 1 13 0 13 0 13-2 13-3 13-11 13-21 13-29 13-33 13-31 14-28"/>
<path d="M0 506l13 3 13 3 13 3 13 2 13 0 13-3 13-13 13-28 13-40 13-42 13-40 14-36 13-33 13-28 13-24 13-19 13-15 13-11 13-7 13-2 13 3 13 7 13 11 13 15 13 20 13 24 13 29 13 32 13 35 13 27 13-8 13-32 13-34 13-30 14-27 13-21 13-17 13-12 13-8 13-3 13 1 13 6 13 10 13 16 13 19 13 25 13 29 13 33 13 37 13 40 13 40 13 31 13 17 13 7 13 3 13 2 13 2 14 2 13 2 13 2 13 2 13 2 13 2 13 1 13 2 13 0 13-1 13-2 13-4 13-3 13-2 13-1 13-1 13-2 13-6 13-17 13-28 13-33 13-34 14-31"/>
<path d="M0 525l13-5 13-4 13-5 13-3 13-3 13-3 13-5 13-15 13-29 13-39 13-41 14-38 13-34 13-30 13-26 13-22 13-17 13-13 13-9 13-4 13 0 13 4 13 9 13 13 13 17 13 22 13 26 13 30 13 33 13 28 13-2 13-28 13-33 13-30 14-25 13-21 13-16 13-12 13-8 13-3 13 2 13 5 13 11 13 15 13 19 13 24 13 28 13 33 13 36 13 40 13 39 13 32 13 19 13 7 13 4 13 3 13 2 14 3 13 2 13 1 13 1 13 0 13 1 13 0 13 0 13 1 13 0 13 1 13 1 13 0 13 1 13-1 13-1 13-5 13-11 13-23 13-30 13-32 13-32 14-28"/>
<path d="M0 515l13-6 13-8 13-6 13-6 13-4 13-3 13-3 13-12 13-25 13-36 13-40 14-38 13-35 13-30 13-26 13-21 13-17 13-13 13-8 13-3 13 1 13 5 13 10 13 15 13 19 13 24 13 28 13 31 13 32 13 16 13-16 13-31 13-30 13-27 14-22 13-19 13-13 13-10 13-5 13-1 13 3 13 8 13 12 13 16 13 20 13 25 13 29 13 33 13 36 13 38 13 35 13 25 13 11 13 6 13 5 13 5 13 5 14 4 13 4 13 1 13-1 13-1 13-2 13-2 13-2 13 0 13 1 13 3 13 3 13 4 13 3 13 1 13-2 13-4 13-13 13-23 13-33 13-35 13-34 14-30"/>
<path d="M0 517l13-4 13-3 13-4 13-3 13-3 13-4 13-9 13-21 13-34 13-40 13-40 14-37 13-33 13-28 13-25 13-19 13-16 13-11 13-6 13-2 13 2 13 7 13 11 13 16 13 20 13 25 13 28 13 33 13 34 13 21 13-13 13-33 13-33 13-29 14-25 13-20 13-16 13-11 13-7 13-2 13 2 13 7 13 12 13 16 13 21 13 25 13 30 13 34 13 38 13 39 13 38 13 28 13 13 13 5 13 2 13 0 13 1 14 1 13 0 13 1 13 0 13 0 13 1 13 0 13 0 13 1 13 1 13 3 13 3 13 3 13 2 13 0 13-1 13-3 13-8 13-19 13-29 13-34 13-34 14-31"/>
<path d="M0 524l13-1 13-1 13-1 13-1 13-2 13-4 13-13 13-27 13-38 13-41 13-40 14-36 13-33 13-28 13-24 13-19 13-15 13-11 13-7 13-2 13 2 13 6 13 11 13 15 13 19 13 24 13 27 13 32 13 34 13 26 13-7 13-32 13-35 13-30 14-27 13-21 13-17 13-13 13-7 13-3 13 2 13 6 13 11 13 16 13 21 13 25 13 30 13 34 13 39 13 41 13 42 13 33 13 18 13 5 13-1 13-2 13-3 14-3 13-2 13-1 13 0 13 1 13 2 13 1 13 1 13 1 13 0 13 1 13 0 13 1 13 0 13 0 13-2 13-5 13-12 13-21 13-29 13-31 13-31 14-28"/>
<path d="M0 514l13-2 13-2 13-2 13-2 13-1 13-2 13-5 13-15 13-30 13-40 13-42 14-39 13-35 13-31 13-26 13-22 13-17 13-12 13-8 13-3 13 1 13 6 13 11 13 15 13 20 13 25 13 29 13 33 13 34 13 21 13-14 13-31 13-32 13-28 14-24 13-20 13-16 13-11 13-7 13-3 13 2 13 5 13 10 13 14 13 19 13 23 13 26 13 31 13 35 13 37 13 37 13 31 13 18 13 8 13 3 13 3 13 2 14 3 13 2 13 1 13 1 13 1 13 1 13 1 13 0 13 1 13 2 13 1 13 2 13 2 13 1 13 0 13-1 13-3 13-10 13-19 13-29 13-34 13-33 14-30"/>
<path d="M0 532l13-3 13-3 13-3 13-2 13-3 13-2 13-5 13-14 13-29 13-39 13-43 14-40 13-37 13-32 13-27 13-23 13-18 13-14 13-9 13-4 13 0 13 5 13 10 13 14 13 19 13 24 13 28 13 32 13 33 13 17 13-17 13-31 13-31 13-27 14-23 13-18 13-15 13-10 13-6 13-2 13 3 13 6 13 11 13 15 13 20 13 23 13 28 13 32 13 35 13 39 13 39 13 34 13 22 13 10 13 4 13 2 13 2 14 2 13 2 13 2 13 2 13 2 13 1 13 2 13 1 13 0 13-1 13-3 13-4 13-4 13-3 13-2 13 0 13-1 13-3 13-9 13-19 13-28 13-30 14-30"/>
</g>
<linearGradient id="g32" gradientUnits="userSpaceOnUse" x1="0" y1="0" x2="1043.5" y2="0"><stop offset="0" stop-color="#fff" stop-opacity="0.1"/><stop offset="0.04" stop-color="#fff" stop-opacity="0.1"/><stop offset="0.08" stop-color="#fff" stop-opacity="0"/><stop offset="0.14" stop-color="#fff" stop-opacity="0"/><stop offset="0.18" stop-color="#fff" stop-opacity="0"/><stop offset="0.21" stop-color="#fff" stop-opacity="0"/><stop offset="0.29" stop-color="#fff" stop-opacity="0"/><stop offset="0.32" stop-color="#fff" stop-opacity="0"/><stop offset="0.35" stop-color="#fff" stop-opacity="0"/><stop offset="0.38" stop-color="#fff" stop-opacity="0"/><stop offset="0.4" stop-color="#fff" stop-opacity="0"/><stop offset="0.43" stop-color="#fff" stop-opacity="0"/><stop offset="0.46" stop-color="#fff" stop-opacity="0"/><stop offset="0.54" stop-color="#fff" stop-opacity="0"/><stop offset="0.57" stop-color="#fff" stop-opacity="0"/><stop offset="0.61" stop-color="#fff" stop-opacity="0"/><stop offset="0.65" stop-color="#fff" stop-opacity="0"/><stop offset="0.69" stop-color="#fff" stop-opacity="0.1"/><stop offset="0.89" stop-color="#fff" stop-opacity="0.1"/><stop offset="0.93" stop-color="#fff" stop-opacity="0"/><stop offset="0.96" stop-color="#fff" stop-opacity="0"/><stop offset="1" stop-color="#fff" stop-opacity="0"/></linearGradient>
<g stroke-width="9" stroke="url(#g32)">
<path d="M0 544l13-2 13-2 13-2 13-2 13-2 13-5 13-15 13-29 13-38 13-40 13-38 14-35 13-31 13-27 13-23 13-19 13-15 13-10 13-7 13-2 13 1 13 6 13 10 13 14 13 18 13 23 13 26 13 30 13 34 13 29 13 3 13-29 13-35 13-32 14-27 13-23 13-18 13-13 13-8 13-4 13 2 13 6 13 11 13 16 13 21 13 26 13 30 13 35 13 38 13 40 13 34 13 22 13 8 13 3 13 1 13 1 13 0 14-1 13-1 13 0 13 0 13 0 13 2 13 3 13 3 13 3 13 4 13 5 13 5 13 5 13 2 13 0 13-1 13-1 13-2 13-4 13-5 13-8 13-11 14-15"/>
<path d="M0 521l13 1 13 2 13 1 13 1 13 0 13-4 13-15 13-30 13-40 13-42 13-40 14-36 13-32 13-27 13-24 13-19 13-15 13-10 13-6 13-2 13 2 13 7 13 11 13 15 13 20 13 24 13 28 13 32 13 35 13 25 13-8 13-32 13-34 13-29 14-26 13-21 13-17 13-12 13-7 13-3 13 1 13 6 13 10 13 15 13 20 13 23 13 29 13 32 13 37 13 40 13 41 13 35 13 20 13 7 13-1 13-1 13-2 14-2 13-1 13-2 13 0 13 1 13 2 13 3 13 2 13 1 13 0 13 0 13 0 13-1 13 0 13 0 13-1 13-1 13-3 13-5 13-9 13-16 13-22 14-24"/>
<path d="M0 517l13-1 13-1 13-1 13-2 13-1 13-3 13-9 13-21 13-34 13-38 13-39 14-35 13-33 13-28 13-24 13-20 13-16 13-12 13-8 13-4 13 0 13 4 13 8 13 13 13 16 13 21 13 24 13 28 13 32 13 29 13 7 13-22 13-31 13-29 14-25 13-21 13-17 13-12 13-8 13-3 13 1 13 6 13 9 13 14 13 19 13 23 13 27 13 31 13 35 13 39 13 39 13 34 13 22 13 6 13-4 13-7 13-5 14-4 13-4 13-2 13-1 13 4 13 7 13 8 13 7 13 2 13-1 13-2 13-3 13-3 13-4 13-3 13-3 13-3 13-5 13-7 13-12 13-16 13-21 14-23"/>
<path d="M0 537l13-6 13-6 13-6 13-4 13-1 13-1 13-5 13-14 13-31 13-40 13-43 14-39 13-36 13-30 13-26 13-22 13-16 13-12 13-7 13-2 13 2 13 7 13 13 13 16 13 22 13 26 13 31 13 35 13 35 13 13 13-25 13-36 13-33 13-30 14-24 13-20 13-15 13-11 13-6 13-2 13 4 13 8 13 12 13 18 13 22 13 26 13 31 13 35 13 39 13 40 13 35 13 21 13 9 13 4 13 4 13 3 13 0 14-1 13-3 13-3 13-1 13 1 13 1 13 2 13 2 13 3 13 3 13 4 13 4 13 3 13 2 13-1 13 0 13-3 13-8 13-19 13-29 13-34 13-34 14-31"/>
<path d="M0 509l13-2 13-1 13-2 13-1 13-1 13-3 13-8 13-22 13-35 13-41 13-40 14-37 13-33 13-28 13-25 13-19 13-16 13-11 13-6 13-2 13 2 13 7 13 12 13 16 13 20 13 24 13 29 13 33 13 34 13 21 13-13 13-31 13-31 13-28 14-23 13-20 13-16 13-11 13-7 13-4 13 1 13 5 13 10 13 13 13 17 13 22 13 25 13 29 13 33 13 33 13 32 13 23 13 12 13 9 13 10 13 7 13 3 14-3 13-6 13-5 13-2 13 3 13 5 13 7 13 6 13 5 13 3 13 4 13 3 13 2 13 1 13 0 13-1 13-2 13-5 13-11 13-21 13-27 13-30 14-28"/>
<path d="M0 490l13 7 13 8 13 6 13 5 13 1 13-1 13-5 13-16 13-31 13-40 13-43 14-39 13-36 13-31 13-26 13-22 13-17 13-13 13-8 13-3 13 1 13 6 13 11 13 15 13 20 13 25 13 29 13 33 13 35 13 24 13-12 13-33 13-33 13-30 14-25 13-20 13-16 13-11 13-6 13-1 13 3 13 9 13 12 13 18 13 22 13 27 13 32 13 34 13 36 13 32 13 20 13 9 13 3 13 6 13 9 13 9 13 2 14-3 13-6 13-6 13-1 13 3 13 7 13 7 13 6 13 4 13 1 13 0 13 1 13 0 13 0 13 0 13 0 13-2 13-5 13-11 13-20 13-28 13-30 14-29"/>
<path d="M0 511l13 5 13 5 13 5 13 3 13 0 13-3 13-11 13-25 13-37 13-41 13-40 14-37 13-32 13-29 13-25 13-21 13-17 13-12 13-8 13-4 13 0 13 4 13 8 13 13 13 16 13 21 13 25 13 28 13 31 13 22 13-5 13-28 13-30 13-28 14-23 13-19 13-16 13-11 13-6 13-3 13 2 13 5 13 10 13 14 13 18 13 23 13 26 13 31 13 34 13 38 13 39 13 36 13 26 13 12 13 4 13 1 13 0 14-4 13-8 13-7 13-2 13 5 13 9 13 10 13 8 13 3 13 0 13 0 13-1 13-1 13-2 13-1 13-1 13-2 13-3 13-3 13-6 13-9 13-13 14-18"/>
<path d="M0 548l13-2 13-3 13-3 13-2 13-1 13-2 13-4 13-15 13-33 13-44 13-46 14-43 13-38 13-34 13-29 13-24 13-19 13-15 13-9 13-5 13 1 13 5 13 10 13 15 13 20 13 25 13 29 13 34 13 36 13 20 13-17 13-34 13-32 13-28 14-23 13-19 13-15 13-10 13-5 13-1 13 4 13 8 13 12 13 18 13 21 13 27 13 30 13 35 13 39 13 40 13 37 13 25 13 11 13 7 13 7 13 6 13 6 14 5 13 4 13 4 13 2 13 1 13 0 13 1 13 0 13 0 13-1 13-4 13-5 13-5 13-3 13-2 13-2 13-2 13-4 13-7 13-15 13-23 13-28 14-28"/>
<path d="M0 522l13-4 13-4 13-4 13-3 13-1 13-1 13-5 13-14 13-28 13-38 13-40 14-38 13-34 13-31 13-26 13-21 13-17 13-13 13-8 13-4 13 1 13 5 13 9 13 14 13 18 13 23 13 27 13 31 13 32 13 23 13-6 13-28 13-29 13-27 14-22 13-19 13-15 13-10 13-7 13-2 13 2 13 5 13 10 13 14 13 18 13 22 13 26 13 29 13 33 13 35 13 34 13 27 13 15 13 6 13 3 13 0 13 0 14-3 13-6 13-6 13-2 13 4 13 7 13 9 13 8 13 4 13 2 13 2 13 2 13 1 13 0 13 0 13-1 13-1 13-3 13-3 13-4 13-5 13-7 14-10"/>
<path d="M0 533l13-1 13-2 13-1 13-2 13-1 13-1 13-5 13-14 13-31 13-42 13-45 14-41 13-37 13-33 13-27 13-23 13-18 13-13 13-8 13-3 13 2 13 7 13 12 13 16 13 22 13 26 13 31 13 35 13 36 13 14 13-21 13-33 13-32 13-28 14-23 13-20 13-15 13-12 13-7 13-3 13 2 13 5 13 10 13 14 13 18 13 22 13 27 13 30 13 34 13 38 13 40 13 37 13 27 13 10 13-1 13-6 13-5 14-5 13-5 13-3 13-1 13 4 13 6 13 8 13 8 13 5 13 2 13 3 13 2 13 1 13 1 13-1 13-2 13-5 13-8 13-15 13-22 13-28 13-31 14-29"/>
<path d="M0 516l13 2 13 1 13 2 13 1 13 0 13-1 13-5 13-16 13-32 13-43 13-44 14-41 13-37 13-32 13-27 13-22 13-17 13-13 13-7 13-3 13 3 13 7 13 12 13 18 13 22 13 26 13 32 13 36 13 35 13 13 13-20 13-32 13-30 13-27 14-23 13-18 13-15 13-10 13-7 13-2 13 1 13 6 13 9 13 14 13 18 13 22 13 26 13 29 13 33 13 36 13 36 13 30 13 20 13 11 13 7 13 6 13 1 14-10 13-18 13-16 13-5 13 6 13 10 13 11 13 10 13 5 13 0 13 1 13 0 13 1 13 0 13-1 13-1 13-2 13-3 13-6 13-10 13-14 13-19 14-21"/>
<path d="M0 504l13-5 13-5 13-5 13-3 13-1 13 0 13-2 13-7 13-19 13-33 13-39 14-39 13-35 13-32 13-27 13-22 13-18 13-13 13-9 13-4 13 1 13 5 13 10 13 15 13 19 13 24 13 28 13 33 13 32 13 16 13-16 13-30 13-30 13-27 14-23 13-18 13-14 13-11 13-6 13-2 13 2 13 6 13 11 13 14 13 19 13 22 13 27 13 30 13 34 13 36 13 34 13 25 13 14 13 8 13 6 13 4 13 1 14-3 13-6 13-5 13-1 13 2 13 3 13 4 13 3 13 2 13-1 13-3 13-4 13-3 13-3 13-2 13-2 13-2 13-1 13-2 13-1 13-2 13-3 14-3"/>
<path d="M0 537l13-2 13-3 13-2 13-2 13-1 13-2 13-7 13-20 13-34 13-40 13-41 14-37 13-34 13-29 13-25 13-21 13-16 13-13 13-8 13-3 13 1 13 5 13 9 13 14 13 18 13 22 13 26 13 31 13 32 13 24 13-9 13-31 13-33 13-30 14-25 13-21 13-16 13-12 13-8 13-3 13 1 13 6 13 10 13 15 13 19 13 24 13 28 13 32 13 36 13 39 13 40 13 35 13 21 13 8 13 2 13 1 13 0 14-2 13-2 13-3 13 0 13 3 13 6 13 6 13 6 13 2 13-1 13-1 13-3 13-2 13-2 13-3 13-2 13-3 13-3 13-4 13-5 13-6 13-10 14-11"/>
<path d="M0 501l13 1 13 0 13 0 13 1 13 0 13-1 13-3 13-12 13-28 13-39 13-42 14-41 13-36 13-32 13-27 13-23 13-18 13-13 13-8 13-4 13 0 13 6 13 10 13 15 13 19 13 25 13 29 13 33 13 35 13 27 13-10 13-32 13-35 13-30 14-26 13-21 13-17 13-12 13-7 13-3 13 2 13 6 13 11 13 16 13 20 13 25 13 29 13 33 13 37 13 38 13 33 13 20 13 9 13 5 13 6 13 4 13 2 14-4 13-5 13-5 13-1 13 6 13 13 13 15 13 12 13 5 13-1 13-5 13-6 13-7 13-5 13-4 13-4 13-5 13-8 13-13 13-20 13-26 13-27 14-26"/>
<path d="M0 552l13-3 13-4 13-3 13-3 13-2 13-4 13-9 13-23 13-38 13-43 13-43 14-40 13-35 13-31 13-27 13-22 13-18 13-13 13-8 13-4 13 0 13 5 13 10 13 14 13 18 13 23 13 28 13 32 13 35 13 29 13-1 13-31 13-34 13-32 14-26 13-23 13-17 13-12 13-8 13-3 13 1 13 7 13 11 13 15 13 21 13 25 13 30 13 35 13 39 13 42 13 43 13 36 13 21 13 7 13 1 13-2 13-2 14-8 13-11 13-9 13-3 13 8 13 15 13 17 13 14 13 6 13-2 13-3 13-5 13-5 13-5 13-3 13-4 13-4 13-4 13-8 13-13 13-21 13-26 14-28"/>
<path d="M0 517l13-1 13 0 13 0 13-1 13-1 13-2 13-7 13-18 13-33 13-41 13-41 14-37 13-34 13-30 13-25 13-20 13-16 13-11 13-7 13-2 13 2 13 7 13 12 13 16 13 21 13 25 13 30 13 33 13 35 13 21 13-16 13-34 13-34 13-30 14-25 13-21 13-17 13-12 13-7 13-3 13 2 13 6 13 11 13 16 13 20 13 24 13 29 13 33 13 36 13 36 13 32 13 20 13 8 13 7 13 9 13 7 13 2 14-2 13-4 13-3 13-1 13 3 13 6 13 6 13 6 13 2 13-1 13-4 13-4 13-4 13-3 13-1 13-2 13-2 13-1 13-2 13-1 13-2 13-3 14-4"/>
<path d="M0 510l13 1 13 0 13 1 13 0 13 0 13-1 13-3 13-13 13-28 13-41 13-43 14-41 13-37 13-32 13-27 13-22 13-18 13-12 13-8 13-3 13 2 13 7 13 12 13 16 13 22 13 26 13 32 13 35 13 38 13 25 13-14 13-35 13-35 13-32 14-27 13-22 13-18 13-13 13-8 13-4 13 1 13 6 13 10 13 15 13 20 13 24 13 29 13 33 13 37 13 39 13 37 13 27 13 13 13 8 13 9 13 7 13 2 14-2 13-4 13-3 13-1 13 4 13 6 13 7 13 7 13 2 13 0 13 0 13 0 13-1 13 0 13-1 13-1 13-3 13-4 13-6 13-9 13-13 13-17 14-19"/>
<path d="M0 512l13-5 13-5 13-5 13-3 13-1 13 0 13-3 13-10 13-23 13-35 13-40 14-39 13-35 13-30 13-26 13-21 13-16 13-12 13-7 13-1 13 3 13 7 13 13 13 17 13 22 13 27 13 32 13 35 13 34 13 11 13-24 13-35 13-33 13-30 14-25 13-20 13-17 13-11 13-8 13-2 13 1 13 6 13 11 13 15 13 19 13 24 13 28 13 31 13 35 13 34 13 29 13 17 13 7 13 5 13 6 13 5 13 2 14-3 13-5 13-4 13-1 13 4 13 9 13 9 13 8 13 3 13 0 13 0 13 0 13 0 13 0 13-1 13-2 13-3 13-4 13-6 13-9 13-12 13-15 14-17"/>
</g>
</g></g>
<clipPath id="c8"><rect x="220.85" y="439.25" width="104.35" height="94.35"/></clipPath>
<g clip-path="url(#c8)"><g transform="translate(220.85 439.25) scale(.1)" class="cv">
<linearGradient id="g33" gradientUnits="userSpaceOnUse" x1="0" y1="0" x2="1043.5" y2="0"><stop offset="0" stop-color="#a8b6e6" stop-opacity="0.32"/><stop offset="0.04" stop-color="#a8b6e6" stop-opacity="0.32"/><stop offset="0.08" stop-color="#a8b6e6" stop-opacity="0.064"/><stop offset="0.14" stop-color="#a8b6e6" stop-opacity="0.09"/><stop offset="0.18" stop-color="#a8b6e6" stop-opacity="0.128"/><stop offset="0.21" stop-color="#a8b6e6" stop-opacity="0.096"/><stop offset="0.29" stop-color="#a8b6e6" stop-opacity="0.096"/><stop offset="0.32" stop-color="#a8b6e6" stop-opacity="0.128"/><stop offset="0.35" stop-color="#a8b6e6" stop-opacity="0.09"/><stop offset="0.38" stop-color="#a8b6e6" stop-opacity="0.128"/><stop offset="0.4" stop-color="#a8b6e6" stop-opacity="0.09"/><stop offset="0.43" stop-color="#a8b6e6" stop-opacity="0.128"/><stop offset="0.46" stop-color="#a8b6e6" stop-opacity="0.096"/><stop offset="0.54" stop-color="#a8b6e6" stop-opacity="0.096"/><stop offset="0.57" stop-color="#a8b6e6" stop-opacity="0.128"/><stop offset="0.61" stop-color="#a8b6e6" stop-opacity="0.09"/><stop offset="0.65" stop-color="#a8b6e6" stop-opacity="0.064"/><stop offset="0.69" stop-color="#a8b6e6" stop-opacity="0.32"/><stop offset="0.89" stop-color="#a8b6e6" stop-opacity="0.32"/><stop offset="0.93" stop-color="#a8b6e6" stop-opacity="0.064"/><stop offset="0.96" stop-color="#a8b6e6" stop-opacity="0.128"/><stop offset="1" stop-color="#a8b6e6" stop-opacity="0.128"/></linearGradient>
<g stroke-width="5" stroke="url(#g33)">
<path d="M0 413l13 13 13 11 13 10 13 8 13 4 13 1 13-3 13-11 13-20 13-30 13-35 14-35 13-33 13-29 13-25 13-21 13-16 13-12 13-7 13-3 13 1 13 6 13 11 13 14 13 20 13 23 13 28 13 32 13 35 13 28 13-2 13-28 13-32 13-29 14-25 13-22 13-17 13-13 13-8 13-5 13 0 13 4 13 8 13 12 13 17 13 20 13 25 13 29 13 33 13 36 13 39 13 37 13 29 13 10 13-6 13-14 13-16 14-14 13-10 13-4 13 1 13 5 13 7 13 7 13 8 13 6 13 7 13 7 13 7 13 6 13 5 13 1 13-1 13-3 13-9 13-19 13-30 13-35 13-35 14-32"/>
<path d="M0 528l13-18 13-15 13-13 13-10 13-7 13-2 13 1 13 2 13-5 13-20 13-34 14-36 13-35 13-31 13-26 13-22 13-18 13-13 13-8 13-3 13 1 13 6 13 10 13 15 13 20 13 24 13 29 13 32 13 32 13 13 13-21 13-33 13-33 13-28 14-24 13-20 13-16 13-10 13-7 13-2 13 3 13 7 13 11 13 16 13 21 13 25 13 29 13 34 13 37 13 39 13 39 13 29 13 14 13 1 13-7 13-10 13-11 14-10 13-8 13-3 13 5 13 11 13 16 13 16 13 14 13 8 13 4 13 4 13 3 13 2 13 2 13 0 13-1 13-5 13-14 13-29 13-38 13-40 13-38 14-35"/>
<path d="M0 397l13 8 13 8 13 7 13 8 13 7 13 7 13 7 13 4 13-5 13-23 13-34 14-36 13-34 13-29 13-25 13-20 13-16 13-11 13-7 13-1 13 3 13 7 13 13 13 16 13 22 13 26 13 30 13 34 13 32 13 19 13-12 13-29 13-32 13-30 14-26 13-22 13-17 13-14 13-9 13-5 13 0 13 4 13 8 13 13 13 17 13 21 13 26 13 29 13 33 13 35 13 32 13 25 13 12 13 3 13-2 13-4 13-5 14-4 13-3 13-1 13 4 13 12 13 15 13 15 13 12 13 4 13-1 13-5 13-6 13-6 13-6 13-3 13-3 13-4 13-7 13-14 13-24 13-29 13-30 14-28"/>
<path d="M0 493l13-15 13-14 13-12 13-9 13-7 13-2 13 0 13 0 13-2 13-9 13-22 14-31 13-33 13-32 13-28 13-24 13-19 13-15 13-9 13-6 13 0 13 4 13 9 13 13 13 18 13 23 13 28 13 31 13 34 13 26 13-7 13-30 13-31 13-29 14-24 13-21 13-15 13-12 13-7 13-3 13 2 13 6 13 11 13 14 13 20 13 23 13 28 13 31 13 35 13 36 13 31 13 22 13 10 13 4 13 3 13 3 13 4 14 4 13 3 13 2 13 2 13 2 13 1 13 2 13 1 13 2 13 1 13 3 13 2 13 1 13 1 13 1 13-2 13-6 13-12 13-22 13-31 13-35 13-35 14-31"/>
<path d="M0 491l13-13 13-12 13-8 13-7 13-3 13-2 13 3 13 6 13 0 13-17 13-30 14-35 13-33 13-29 13-25 13-21 13-16 13-13 13-8 13-3 13 0 13 5 13 9 13 14 13 18 13 22 13 26 13 29 13 29 13 16 13-15 13-32 13-33 13-29 14-24 13-19 13-15 13-10 13-5 13-1 13 5 13 9 13 14 13 19 13 23 13 28 13 32 13 34 13 33 13 25 13 13 13 5 13 1 13 2 13 2 13 3 13 4 14 4 13 5 13 4 13 5 13 6 13 7 13 7 13 6 13 3 13 3 13 3 13 2 13 1 13 2 13 0 13-3 13-7 13-16 13-26 13-32 13-35 13-33 14-29"/>
<path d="M0 492l13 14 13 12 13 10 13 7 13 4 13-1 13-10 13-22 13-34 13-38 13-38 14-36 13-32 13-29 13-24 13-21 13-16 13-12 13-8 13-4 13 0 13 5 13 9 13 13 13 17 13 21 13 25 13 29 13 31 13 27 13-1 13-28 13-33 13-30 14-26 13-21 13-16 13-12 13-6 13-2 13 3 13 7 13 13 13 17 13 23 13 26 13 32 13 35 13 38 13 35 13 26 13 12 13 3 13-1 13-3 13-4 13-4 14-3 13-3 13-1 13 1 13 4 13 4 13 6 13 7 13 7 13 9 13 14 13 16 13 14 13 10 13 1 13-11 13-25 13-34 13-39 13-38 13-35 13-31 14-28"/>
<path d="M0 486l13-11 13-10 13-8 13-6 13-4 13-2 13 0 13-1 13-7 13-19 13-30 14-34 13-33 13-29 13-26 13-22 13-17 13-13 13-8 13-4 13 0 13 5 13 9 13 14 13 18 13 22 13 26 13 30 13 31 13 22 13-7 13-27 13-31 13-28 14-24 13-20 13-16 13-11 13-8 13-3 13 0 13 5 13 10 13 13 13 17 13 22 13 25 13 29 13 31 13 31 13 26 13 15 13 7 13 5 13 7 13 8 13 10 14 9 13 8 13 6 13 4 13 5 13 4 13 3 13 3 13 0 13-2 13-5 13-7 13-7 13-7 13-4 13-3 13-4 13-6 13-12 13-20 13-28 13-30 14-28"/>
<path d="M0 435l13 9 13 8 13 7 13 7 13 5 13 3 13 0 13-6 13-19 13-31 13-37 14-36 13-34 13-29 13-26 13-21 13-18 13-13 13-8 13-5 13 0 13 4 13 9 13 12 13 17 13 21 13 25 13 30 13 31 13 27 13 1 13-24 13-30 13-27 14-24 13-19 13-16 13-11 13-7 13-3 13 1 13 6 13 9 13 14 13 18 13 22 13 26 13 30 13 34 13 36 13 37 13 32 13 20 13 5 13-6 13-10 13-12 14-10 13-8 13-3 13 2 13 3 13 4 13 6 13 6 13 6 13 8 13 11 13 11 13 11 13 7 13 2 13-7 13-17 13-29 13-36 13-37 13-36 13-32 14-28"/>
<path d="M0 528l13-10 13-9 13-7 13-6 13-4 13-2 13-2 13-8 13-21 13-34 13-38 14-37 13-33 13-29 13-24 13-20 13-14 13-10 13-6 13 0 13 4 13 9 13 14 13 18 13 23 13 28 13 32 13 35 13 33 13 18 13-14 13-31 13-34 13-31 14-27 13-23 13-18 13-14 13-9 13-5 13 0 13 4 13 9 13 13 13 18 13 22 13 27 13 31 13 34 13 38 13 36 13 29 13 16 13 5 13 0 13-2 13-3 14-2 13-2 13-2 13 0 13-1 13 0 13-1 13 0 13 0 13 2 13 4 13 6 13 6 13 5 13 2 13-2 13-4 13-9 13-16 13-26 13-32 13-34 14-32"/>
<path d="M0 446l13-13 13-11 13-10 13-7 13-4 13-2 13 1 13 3 13 1 13-7 13-20 14-31 13-32 13-30 13-26 13-22 13-17 13-13 13-8 13-4 13 1 13 6 13 11 13 15 13 19 13 24 13 29 13 33 13 34 13 20 13-13 13-29 13-30 13-27 14-22 13-18 13-13 13-10 13-5 13-1 13 4 13 8 13 12 13 16 13 21 13 25 13 29 13 33 13 36 13 37 13 32 13 21 13 9 13 0 13-6 13-8 13-9 14-9 13-6 13-2 13 4 13 10 13 13 13 13 13 9 13 4 13-2 13-5 13-7 13-8 13-6 13-3 13-2 13-3 13-6 13-14 13-25 13-31 13-33 14-31"/>
</g>
</g></g>
<rect x="331.5" y="439.25" width="5.5" height="94.35" fill="url(#jet)"/>
<text class="c" x="338.3" y="529.25">2</text><text class="c" x="338.3" y="520.58">4</text><text class="c" x="338.3" y="511.91">6</text><text class="c" x="338.3" y="503.24">8</text><text class="c" x="338.3" y="494.57">10</text><text class="c" x="338.3" y="485.91">12</text><text class="c" x="338.3" y="477.24">14</text><text class="c" x="338.3" y="468.57">16</text><text class="c" x="338.3" y="459.9">18</text><text class="c" x="338.3" y="451.23">20</text><text class="c" x="338.3" y="442.57">22</text>
<text class="c" text-anchor="middle" transform="translate(347.2 486.43) rotate(-90)">Density(%)</text>
</g>
<g>
<text class="t" x="428.43" y="437.35">Persistence spectrum</text>
<text class="a" x="428.43" y="544">Frequency (Hz)</text>
<text class="a" transform="translate(365.05 486.43) rotate(-90)">Power Spectrum (dB)</text>
<text class="k" text-anchor="middle" x="375.85" y="539.1">0</text><text class="k" text-anchor="middle" x="401.89" y="539.1">50</text><text class="k" text-anchor="middle" x="427.93" y="539.1">100</text><text class="k" text-anchor="middle" x="453.96" y="539.1">150</text><text class="k" text-anchor="middle" x="480" y="539.1">200</text>
<text class="k" text-anchor="end" x="374.25" y="440.45">0</text><text class="k" text-anchor="end" x="374.25" y="449.88">-10</text><text class="k" text-anchor="end" x="374.25" y="459.32">-20</text><text class="k" text-anchor="end" x="374.25" y="468.75">-30</text><text class="k" text-anchor="end" x="374.25" y="478.19">-40</text><text class="k" text-anchor="end" x="374.25" y="487.62">-50</text><text class="k" text-anchor="end" x="374.25" y="497.06">-60</text><text class="k" text-anchor="end" x="374.25" y="506.5">-70</text><text class="k" text-anchor="end" x="374.25" y="515.93">-80</text><text class="k" text-anchor="end" x="374.25" y="525.37">-90</text><text class="k" text-anchor="end" x="374.25" y="534.8">-100</text>
<rect x="375.85" y="439.25" width="104.15" height="94.35" fill="#000082"/><g transform="translate(375.85 439.25)" filter="url(#fd)"><rect width="104.15" height="94.35" fill="#000"/><g transform="scale(.1)" class="cv">
<linearGradient id="g34" gradientUnits="userSpaceOnUse" x1="0" y1="0" x2="1041.5" y2="0"><stop offset="0" stop-color="#fff" stop-opacity="0.014"/><stop offset="0.04" stop-color="#fff" stop-opacity="0.014"/><stop offset="0.08" stop-color="#fff" stop-opacity="0.011"/><stop offset="0.14" stop-color="#fff" stop-opacity="0.016"/><stop offset="0.18" stop-color="#fff" stop-opacity="0.022"/><stop offset="0.21" stop-color="#fff" stop-opacity="0.028"/><stop offset="0.29" stop-color="#fff" stop-opacity="0.028"/><stop offset="0.32" stop-color="#fff" stop-opacity="0.022"/><stop offset="0.35" stop-color="#fff" stop-opacity="0.016"/><stop offset="0.38" stop-color="#fff" stop-opacity="0.022"/><stop offset="0.4" stop-color="#fff" stop-opacity="0.016"/><stop offset="0.43" stop-color="#fff" stop-opacity="0.022"/><stop offset="0.46" stop-color="#fff" stop-opacity="0.028"/><stop offset="0.54" stop-color="#fff" stop-opacity="0.028"/><stop offset="0.57" stop-color="#fff" stop-opacity="0.022"/><stop offset="0.61" stop-color="#fff" stop-opacity="0.016"/><stop offset="0.65" stop-color="#fff" stop-opacity="0.011"/><stop offset="0.69" stop-color="#fff" stop-opacity="0.014"/><stop offset="0.89" stop-color="#fff" stop-opacity="0.014"/><stop offset="0.93" stop-color="#fff" stop-opacity="0.011"/><stop offset="0.96" stop-color="#fff" stop-opacity="0.022"/><stop offset="1" stop-color="#fff" stop-opacity="0.022"/></linearGradient>
<g stroke-width="22" stroke="url(#g34)">
<path d="M0 631l26 14 26 7 26-19 26-78 26-94 26-81 26-63 26-46 26-29 26-11 26 7 26 24 26 42 27 58 26 58 26-38 26-64 26-47 26-28 26-10 26 9 26 28 26 47 26 65 26 81 26 75 26 23 26-1 26-3 26-1 26 3 26 9 26 8 26 4 26-9 26-15 26-14 26-29 26-57 26-63"/>
<path d="M0 635l26-10 26-10 26-11 26-33 26-74 26-79 26-65 26-47 26-30 26-11 26 6 26 24 26 42 27 58 26 56 26-26 26-56 26-42 26-26 26-7 26 10 26 29 26 45 26 60 26 59 26 26 26 6 26 5 26 5 26 2 26-2 26-5 26-5 26-2 26 16 26 17 26-10 26-49 26-75 26-65"/>
<path d="M0 644l26-2 26-4 26-23 26-84 26-97 26-83 26-65 26-47 26-30 26-12 26 5 26 24 26 41 27 58 26 64 26-24 26-61 26-44 26-26 26-8 26 11 26 28 26 47 26 63 26 74 26 49 26 11 26 6 26 8 26 7 26 8 26 8 26 8 26 4 26 2 26 0 26-16 26-61 26-79 26-67"/>
<path d="M0 610l26 2 26 0 26-8 26-59 26-95 26-85 26-67 26-47 26-29 26-11 26 9 26 28 26 47 27 64 26 43 26-61 26-62 26-46 26-27 26-10 26 9 26 26 26 44 26 61 26 76 26 69 26 24 26 8 26 7 26 6 26 4 26 3 26 3 26 1 26-3 26-5 26-9 26-37 26-73 26-72"/>
<path d="M0 621l26-10 26-10 26-22 26-75 26-98 26-85 26-65 26-47 26-27 26-9 26 11 26 29 26 49 27 67 26 67 26-43 26-67 26-50 26-32 26-13 26 6 26 24 26 43 26 61 26 78 26 78 26 31 26 4 26 1 26 1 26 5 26 10 26 10 26 4 26-9 26-12 26-15 26-59 26-80 26-68"/>
<path d="M0 614l26-12 26-11 26-14 26-49 26-80 26-74 26-58 26-41 26-23 26-5 26 12 26 29 26 48 27 62 26 34 26-66 26-66 26-49 26-29 26-11 26 9 26 28 26 46 26 65 26 78 26 57 26 13 26 8 26 10 26 9 26 12 26 13 26 11 26 5 26-23 26-24 26-6 26-36 26-77 26-73"/>
<path d="M0 624l26-15 26-13 26-24 26-78 26-93 26-79 26-62 26-44 26-27 26-8 26 10 26 27 26 45 27 63 26 54 26-48 26-59 26-42 26-23 26-6 26 12 26 31 26 49 26 65 26 75 26 47 26 8 26 2 26 4 26 4 26 14 26 26 26 24 26 10 26-6 26-11 26-21 26-59 26-79 26-66"/>
<path d="M0 636l26 14 26 4 26-45 26-102 26-99 26-82 26-64 26-47 26-30 26-11 26 5 26 24 26 41 27 58 26 70 26 5 26-58 26-44 26-27 26-9 26 9 26 27 26 44 26 62 26 73 26 53 26 12 26 1 26 0 26 1 26 12 26 26 26 26 26 12 26-4 26-15 26-57 26-88 26-80 26-64"/>
<path d="M0 652l26-8 26-10 26-36 26-87 26-92 26-76 26-58 26-41 26-24 26-6 26 11 26 29 26 46 27 63 26 53 26-50 26-61 26-44 26-26 26-8 26 9 26 26 26 45 26 61 26 73 26 55 26 16 26 12 26 14 26 12 26 9 26 10 26 7 26 3 26-6 26-11 26-28 26-74 26-81 26-66"/>
<path d="M0 650l26-1 26-3 26-31 26-98 26-103 26-86 26-66 26-48 26-28 26-10 26 10 26 29 26 48 27 67 26 70 26-41 26-67 26-50 26-31 26-13 26 6 26 24 26 43 26 61 26 77 26 82 26 36 26-7 26-11 26-5 26 5 26 13 26 16 26 14 26 14 26 4 26-44 26-85 26-79 26-64"/>
<path d="M0 664l26-22 26-17 26-12 26-45 26-88 26-83 26-66 26-48 26-29 26-10 26 9 26 27 26 46 27 64 26 68 26-31 26-62 26-45 26-27 26-8 26 11 26 30 26 47 26 65 26 73 26 39 26 0 26-17 26-20 26-10 26 4 26 10 26 14 26 13 26 19 26 11 26-16 26-63 26-78 26-65"/>
<path d="M0 614l26-16 26-14 26-10 26-22 26-65 26-82 26-69 26-50 26-31 26-11 26 7 26 27 26 46 27 63 26 55 26-45 26-64 26-49 26-30 26-12 26 6 26 24 26 43 26 60 26 75 26 65 26 19 26 1 26 0 26 0 26 1 26 3 26 4 26 5 26 8 26 4 26-18 26-63 26-78 26-66"/>
<path d="M0 649l26-3 26-5 26-26 26-85 26-95 26-81 26-63 26-45 26-28 26-10 26 7 26 25 26 43 27 60 26 59 26-41 26-61 26-44 26-26 26-7 26 11 26 29 26 48 26 65 26 77 26 52 26 11 26 4 26 6 26 7 26 10 26 14 26 13 26 8 26 4 26-1 26-33 26-76 26-77 26-63"/>
<path d="M0 676l26-19 26-16 26-21 26-61 26-90 26-80 26-64 26-47 26-29 26-11 26 6 26 25 26 41 27 58 26 41 26-56 26-61 26-45 26-26 26-8 26 10 26 28 26 46 26 64 26 76 26 58 26 17 26 20 26 23 26 13 26 5 26 3 26 2 26 1 26-5 26-8 26-15 26-57 26-80 26-68"/>
<path d="M0 644l26-7 26-7 26-23 26-81 26-96 26-81 26-63 26-45 26-26 26-8 26 11 26 29 26 47 27 65 26 31 26-64 26-59 26-41 26-23 26-6 26 12 26 30 26 47 26 65 26 82 26 88 26 46 26-2 26-8 26-4 26 5 26 11 26 11 26 5 26-4 26-11 26-37 26-84 26-84 26-68"/>
<path d="M0 636l26-4 26-5 26-10 26-45 26-87 26-82 26-64 26-45 26-27 26-7 26 12 26 30 26 50 27 66 26 34 26-61 26-59 26-42 26-25 26-6 26 12 26 29 26 48 26 62 26 60 26 23 26 6 26 16 26 21 26 18 26 14 26 15 26 11 26 5 26-18 26-22 26-17 26-54 26-77 26-67"/>
<path d="M0 620l26-10 26-9 26-13 26-56 26-93 26-83 26-65 26-47 26-28 26-9 26 10 26 28 26 48 27 65 26 71 26-27 26-63 26-46 26-28 26-8 26 9 26 29 26 47 26 65 26 73 26 45 26 3 26-8 26-9 26-4 26 12 26 25 26 26 26 12 26-21 26-22 26-9 26-48 26-81 26-72"/>
<path d="M0 631l26-9 26-9 26-15 26-62 26-95 26-85 26-66 26-47 26-28 26-8 26 10 26 30 26 49 27 68 26 75 26-12 26-57 26-44 26-26 26-8 26 10 26 28 26 44 26 58 26 50 26 16 26 3 26 2 26 4 26 4 26 5 26 8 26 7 26 5 26 4 26 1 26-14 26-60 26-78 26-65"/>
<path d="M0 603l26-2 26-3 26-12 26-62 26-91 26-80 26-63 26-43 26-26 26-6 26 11 26 30 26 49 27 66 26 62 26-44 26-62 26-45 26-28 26-9 26 9 26 27 26 45 26 61 26 73 26 50 26 11 26 3 26 5 26 6 26 11 26 15 26 13 26 6 26-18 26-24 26-17 26-38 26-63 26-60"/>
<path d="M0 651l26-40 26-28 26-19 26-63 26-92 26-81 26-64 26-46 26-28 26-10 26 8 26 26 26 44 27 62 26 71 26-19 26-63 26-47 26-28 26-10 26 9 26 28 26 47 26 64 26 77 26 54 26 12 26 5 26 7 26 7 26 12 26 16 26 15 26 6 26-28 26-30 26-11 26-61 26-84 26-71"/>
<path d="M0 651l26-27 26-18 26-10 26-47 26-93 26-87 26-70 26-50 26-31 26-12 26 7 26 27 26 46 27 65 26 66 26-42 26-65 26-48 26-29 26-9 26 10 26 29 26 48 26 66 26 76 26 45 26 10 26 20 26 23 26 14 26 6 26 5 26 3 26 2 26-5 26-12 26-38 26-81 26-81 26-66"/>
<path d="M0 672l26-18 26-16 26-24 26-72 26-93 26-80 26-64 26-45 26-27 26-9 26 9 26 27 26 45 27 63 26 70 26-13 26-64 26-49 26-31 26-12 26 7 26 26 26 45 26 63 26 76 26 60 26 16 26 4 26 2 26 3 26 7 26 9 26 9 26 3 26-9 26-16 26-28 26-71 26-80 26-67"/>
<path d="M0 641l26-19 26-16 26-15 26-46 26-85 26-81 26-65 26-47 26-29 26-11 26 8 26 26 26 43 27 62 26 60 26-37 26-63 26-47 26-30 26-11 26 6 26 24 26 41 26 58 26 68 26 48 26 12 26 10 26 13 26 10 26 6 26 5 26 5 26 5 26 9 26 4 26-7 26-44 26-73 26-66"/>
<path d="M0 653l26-28 26-22 26-25 26-72 26-92 26-80 26-63 26-45 26-27 26-9 26 8 26 27 26 45 27 61 26 52 26-49 26-59 26-42 26-24 26-7 26 11 26 29 26 47 26 63 26 73 26 51 26 14 26 18 26 22 26 16 26 9 26 8 26 5 26 3 26 0 26 0 26-16 26-63 26-81 26-69"/>
<path d="M0 619l26-4 26-6 26-21 26-79 26-96 26-82 26-63 26-45 26-27 26-9 26 10 26 28 26 47 27 64 26 61 26-45 26-62 26-46 26-28 26-10 26 7 26 25 26 43 26 60 26 75 26 70 26 26 26 13 26 12 26 9 26 4 26 4 26 2 26 1 26 0 26-1 26-23 26-71 26-78 26-64"/>
<path d="M0 643l26-17 26-16 26-31 26-81 26-93 26-79 26-61 26-43 26-24 26-6 26 13 26 30 26 49 27 66 26 45 26-59 26-61 26-44 26-25 26-6 26 12 26 31 26 49 26 67 26 70 26 35 26 6 26 10 26 12 26 9 26 4 26 4 26 3 26 3 26 6 26 4 26-11 26-58 26-81 26-71"/>
<path d="M0 672l26-28 26-19 26-18 26-71 26-98 26-84 26-66 26-46 26-27 26-9 26 11 26 31 26 49 27 68 26 53 26-60 26-64 26-45 26-26 26-8 26 12 26 30 26 49 26 67 26 84 26 83 26 25 26-10 26-13 26-6 26 2 26 5 26 7 26 7 26 12 26 5 26-32 26-86 26-87 26-70"/>
<path d="M0 631l26-17 26-14 26-15 26-51 26-88 26-82 26-65 26-46 26-28 26-8 26 10 26 29 26 47 27 65 26 62 26-38 26-66 26-50 26-30 26-12 26 7 26 26 26 46 26 64 26 78 26 67 26 17 26 1 26 0 26 0 26 8 26 18 26 19 26 8 26-28 26-36 26-16 26-25 26-51 26-62"/>
<path d="M0 631l26-17 26-12 26-12 26-52 26-86 26-78 26-61 26-44 26-26 26-7 26 10 26 28 26 46 27 62 26 30 26-66 26-62 26-44 26-25 26-7 26 11 26 30 26 48 26 66 26 82 26 77 26 27 26 6 26 5 26 4 26 3 26 2 26 2 26 1 26 0 26-3 26-35 26-88 26-86 26-68"/>
<path d="M0 628l26-21 26-16 26-13 26-33 26-72 26-76 26-62 26-44 26-26 26-9 26 9 26 26 26 45 27 60 26 52 26-39 26-62 26-46 26-29 26-11 26 7 26 25 26 42 26 60 26 68 26 45 26 13 26 15 26 15 26 7 26-2 26-4 26-4 26-2 26 11 26 10 26-10 26-50 26-78 26-70"/>
<path d="M0 640l26-7 26-8 26-22 26-80 26-99 26-86 26-66 26-48 26-28 26-9 26 10 26 29 26 48 27 67 26 57 26-53 26-64 26-47 26-29 26-11 26 8 26 25 26 43 26 61 26 75 26 65 26 21 26 10 26 13 26 12 26 15 26 16 26 14 26 5 26-14 26-21 26-28 26-70 26-80 26-66"/>
<path d="M0 636l26-13 26-12 26-20 26-71 26-96 26-82 26-64 26-44 26-26 26-6 26 13 26 32 26 51 27 69 26 45 26-60 26-59 26-42 26-25 26-7 26 10 26 28 26 46 26 62 26 74 26 57 26 14 26 1 26 1 26 2 26 12 26 24 26 24 26 11 26-22 26-31 26-26 26-56 26-74 26-65"/>
<path d="M0 616l26-7 26-8 26-19 26-74 26-96 26-82 26-64 26-45 26-27 26-8 26 10 26 29 26 47 27 66 26 65 26-37 26-59 26-43 26-25 26-7 26 12 26 29 26 47 26 65 26 76 26 55 26 8 26-12 26-13 26-6 26 11 26 25 26 25 26 12 26-5 26-11 26-30 26-73 26-80 26-66"/>
<path d="M0 590l26-5 26-7 26-10 26-42 26-86 26-83 26-67 26-49 26-30 26-11 26 7 26 26 26 44 27 62 26 68 26-13 26-60 26-47 26-29 26-10 26 9 26 29 26 46 26 63 26 64 26 29 26 5 26 3 26 3 26 5 26 15 26 26 26 24 26 11 26-9 26-16 26-31 26-75 26-82 26-66"/>
</g>
<linearGradient id="g35" gradientUnits="userSpaceOnUse" x1="0" y1="0" x2="1041.5" y2="0"><stop offset="0" stop-color="#fff" stop-opacity="0.076"/><stop offset="0.04" stop-color="#fff" stop-opacity="0.076"/><stop offset="0.08" stop-color="#fff" stop-opacity="0.048"/><stop offset="0.14" stop-color="#fff" stop-opacity="0.066"/><stop offset="0.18" stop-color="#fff" stop-opacity="0.095"/><stop offset="0.21" stop-color="#fff" stop-opacity="0.19"/><stop offset="0.29" stop-color="#fff" stop-opacity="0.19"/><stop offset="0.32" stop-color="#fff" stop-opacity="0.095"/><stop offset="0.35" stop-color="#fff" stop-opacity="0.066"/><stop offset="0.38" stop-color="#fff" stop-opacity="0.095"/><stop offset="0.4" stop-color="#fff" stop-opacity="0.066"/><stop offset="0.43" stop-color="#fff" stop-opacity="0.095"/><stop offset="0.46" stop-color="#fff" stop-opacity="0.209"/><stop offset="0.54" stop-color="#fff" stop-opacity="0.209"/><stop offset="0.57" stop-color="#fff" stop-opacity="0.095"/><stop offset="0.61" stop-color="#fff" stop-opacity="0.066"/><stop offset="0.65" stop-color="#fff" stop-opacity="0.048"/><stop offset="0.69" stop-color="#fff" stop-opacity="0.076"/><stop offset="0.89" stop-color="#fff" stop-opacity="0.076"/><stop offset="0.93" stop-color="#fff" stop-opacity="0.048"/><stop offset="0.96" stop-color="#fff" stop-opacity="0.19"/><stop offset="1" stop-color="#fff" stop-opacity="0.19"/></linearGradient>
<g stroke-width="6.2" stroke="url(#g35)">
<path d="M0 655l13-8 13-8 13-7 13-7 13-12 13-27 13-45 13-52 13-51 13-47 13-43 13-39 13-33 13-29 13-25 13-19 13-15 13-11 13-5 13-1 13 3 13 9 13 13 13 18 13 22 13 27 14 32 13 36 13 38 13 25 13-15 13-35 13-35 13-30 13-26 13-21 13-16 13-13 13-7 13-3 13 1 13 6 13 11 13 15 13 20 13 24 13 29 13 33 13 38 13 42 13 44 13 42 13 32 13 14 13 2 13-2 13-4 13-3 13-2 13 0 13 1 13 5 13 6 13 8 13 7 13 6 13 5 13 2 13-1 13-1 13-1 13-3 13-9 13-20 13-35 13-43 13-43 13-40 13-36 13-32"/>
<path d="M0 653l13-4 13-5 13-4 13-5 13-9 13-21 13-40 13-51 13-52 13-49 13-45 13-40 13-36 13-32 13-26 13-22 13-18 13-13 13-8 13-4 13 1 13 6 13 10 13 14 13 20 13 24 14 28 13 33 13 36 13 27 13-6 13-32 13-33 13-30 13-24 13-20 13-16 13-10 13-6 13-1 13 4 13 9 13 13 13 18 13 23 13 27 13 33 13 36 13 41 13 45 13 44 13 34 13 17 13 4 13 0 13-2 13-1 13-1 13-1 13-1 13 1 13 3 13 4 13 4 13 5 13 5 13 4 13 4 13 3 13 2 13 2 13-1 13-8 13-24 13-38 13-45 13-44 13-40 13-36 13-32"/>
<path d="M0 660l13-11 13-11 13-10 13-7 13-7 13-15 13-32 13-47 13-51 13-49 13-46 13-41 13-36 13-32 13-27 13-23 13-17 13-13 13-9 13-3 13 1 13 5 13 11 13 15 13 20 13 24 14 29 13 34 13 37 13 32 13-3 13-32 13-35 13-32 13-27 13-22 13-17 13-13 13-8 13-3 13 2 13 6 13 11 13 16 13 21 13 25 13 31 13 35 13 39 13 44 13 46 13 43 13 30 13 11 13 0 13-3 13-4 13-4 13-3 13-1 13 2 13 3 13 5 13 5 13 5 13 5 13 3 13 1 13-2 13-6 13-7 13-6 13-7 13-15 13-26 13-36 13-38 13-37 13-33 13-30"/>
<path d="M0 638l13-8 13-9 13-7 13-7 13-7 13-14 13-30 13-46 13-50 13-49 13-45 13-41 13-36 13-31 13-27 13-21 13-17 13-13 13-7 13-3 13 2 13 7 13 12 13 16 13 22 13 25 14 31 13 35 13 35 13 19 13-19 13-34 13-32 13-27 13-24 13-19 13-15 13-10 13-5 13-2 13 4 13 7 13 12 13 17 13 21 13 26 13 29 13 35 13 38 13 40 13 40 13 32 13 17 13 8 13 5 13 5 13 6 13 5 13 5 13 4 13 3 13 2 13 3 13 3 13 2 13 1 13 1 13 1 13-3 13-7 13-8 13-9 13-12 13-23 13-34 13-40 13-40 13-37 13-33 13-28"/>
<path d="M0 644l13-12 13-12 13-11 13-8 13-10 13-21 13-37 13-48 13-49 13-46 13-42 13-38 13-33 13-29 13-25 13-20 13-15 13-11 13-7 13-2 13 3 13 7 13 12 13 16 13 21 13 25 14 29 13 34 13 36 13 24 13-13 13-33 13-33 13-29 13-25 13-20 13-15 13-11 13-6 13-1 13 3 13 9 13 12 13 18 13 22 13 26 13 32 13 35 13 40 13 44 13 43 13 36 13 19 13 6 13 1 13-2 13-1 13-2 13-1 13 0 13 2 13 5 13 7 13 8 13 8 13 7 13 5 13 2 13-2 13-4 13-6 13-5 13-6 13-10 13-20 13-32 13-40 13-39 13-37 13-33"/>
<path d="M0 645l13-9 13-8 13-7 13-7 13-11 13-28 13-44 13-50 13-50 13-46 13-41 13-38 13-32 13-29 13-23 13-19 13-15 13-10 13-5 13-1 13 3 13 8 13 13 13 17 13 22 13 26 14 30 13 35 13 37 13 22 13-17 13-34 13-34 13-29 13-25 13-19 13-16 13-10 13-6 13-1 13 4 13 8 13 13 13 18 13 23 13 27 13 32 13 36 13 41 13 45 13 45 13 40 13 23 13 8 13 0 13 0 13-1 13-1 13-1 13 0 13 2 13 5 13 7 13 9 13 8 13 7 13 6 13 2 13-7 13-14 13-16 13-11 13-7 13-9 13-17 13-28 13-34 13-37 13-35 13-31"/>
<path d="M0 642l13-3 13-3 13-3 13-4 13-5 13-15 13-34 13-50 13-53 13-51 13-46 13-42 13-37 13-32 13-27 13-22 13-18 13-12 13-8 13-3 13 1 13 7 13 12 13 16 13 21 13 26 14 31 13 35 13 37 13 22 13-17 13-35 13-34 13-29 13-24 13-20 13-15 13-10 13-6 13 0 13 3 13 9 13 13 13 18 13 23 13 27 13 33 13 36 13 41 13 43 13 43 13 32 13 15 13 7 13 4 13 4 13 6 13 5 13 5 13 5 13 4 13 6 13 5 13 6 13 4 13 4 13 3 13 1 13-6 13-13 13-14 13-10 13-7 13-12 13-24 13-36 13-40 13-40 13-36 13-32"/>
<path d="M0 644l13-4 13-4 13-3 13-5 13-8 13-21 13-39 13-51 13-51 13-48 13-45 13-39 13-36 13-30 13-26 13-22 13-17 13-12 13-7 13-3 13 1 13 6 13 11 13 15 13 20 13 25 14 29 13 34 13 37 13 32 13-1 13-32 13-35 13-32 13-27 13-23 13-18 13-13 13-8 13-3 13 1 13 6 13 11 13 16 13 20 13 26 13 30 13 34 13 39 13 43 13 44 13 37 13 22 13 6 13 0 13-1 13-2 13-2 13-1 13 0 13 2 13 5 13 6 13 8 13 8 13 7 13 5 13 1 13-1 13-3 13-4 13-3 13-4 13-8 13-17 13-31 13-39 13-39 13-37 13-32"/>
<path d="M0 652l13-7 13-8 13-7 13-6 13-7 13-18 13-36 13-50 13-53 13-50 13-46 13-41 13-36 13-31 13-27 13-21 13-17 13-12 13-7 13-2 13 3 13 8 13 12 13 18 13 22 13 27 14 32 13 36 13 38 13 18 13-21 13-34 13-33 13-29 13-24 13-19 13-15 13-10 13-6 13-2 13 4 13 7 13 13 13 16 13 22 13 26 13 30 13 35 13 38 13 42 13 43 13 35 13 20 13 8 13 2 13 1 13 1 13 1 13 2 13 1 13 2 13 4 13 5 13 5 13 6 13 4 13 3 13 1 13-1 13-2 13-4 13-4 13-8 13-18 13-30 13-39 13-39 13-38 13-34 13-30"/>
<path d="M0 661l13-9 13-9 13-8 13-6 13-9 13-22 13-41 13-51 13-52 13-49 13-45 13-39 13-36 13-30 13-26 13-21 13-17 13-12 13-7 13-2 13 2 13 7 13 12 13 17 13 21 13 25 14 31 13 35 13 38 13 29 13-9 13-34 13-34 13-31 13-26 13-21 13-17 13-12 13-8 13-3 13 1 13 6 13 11 13 15 13 20 13 25 13 29 13 33 13 38 13 42 13 44 13 40 13 28 13 14 13 6 13 4 13 5 13 4 13 5 13 3 13 4 13 3 13 4 13 4 13 3 13 3 13 2 13 0 13-1 13-3 13-5 13-8 13-13 13-26 13-38 13-43 13-42 13-39 13-35 13-31"/>
<path d="M0 643l13-11 13-11 13-10 13-8 13-10 13-17 13-34 13-46 13-48 13-47 13-43 13-39 13-34 13-30 13-25 13-21 13-17 13-12 13-7 13-3 13 2 13 6 13 10 13 15 13 20 13 23 14 29 13 32 13 35 13 23 13-10 13-32 13-31 13-29 13-23 13-19 13-15 13-10 13-6 13-1 13 3 13 8 13 13 13 17 13 21 13 26 13 31 13 34 13 39 13 40 13 39 13 28 13 14 13 5 13 5 13 5 13 5 13 6 13 6 13 5 13 5 13 6 13 7 13 6 13 6 13 5 13 3 13 1 13-1 13-4 13-6 13-9 13-18 13-33 13-42 13-44 13-42 13-38 13-34 13-30"/>
<path d="M0 658l13-12 13-12 13-11 13-10 13-14 13-30 13-45 13-50 13-49 13-45 13-41 13-36 13-32 13-28 13-23 13-19 13-14 13-10 13-5 13-1 13 3 13 8 13 13 13 16 13 22 13 25 14 31 13 34 13 36 13 21 13-15 13-34 13-32 13-29 13-25 13-20 13-15 13-11 13-7 13-2 13 3 13 7 13 12 13 16 13 20 13 25 13 30 13 33 13 38 13 42 13 42 13 36 13 23 13 11 13 7 13 8 13 8 13 8 13 6 13 4 13 2 13 1 13 2 13 1 13 1 13 1 13 0 13 1 13-5 13-9 13-9 13-5 13-4 13-11 13-28 13-41 13-44 13-42 13-37 13-34"/>
<path d="M0 650l13-7 13-7 13-7 13-8 13-16 13-32 13-47 13-51 13-49 13-45 13-41 13-37 13-32 13-28 13-24 13-19 13-15 13-10 13-7 13-1 13 2 13 7 13 11 13 16 13 20 13 24 14 29 13 33 13 35 13 26 13-8 13-32 13-33 13-29 13-25 13-21 13-16 13-11 13-6 13-3 13 3 13 7 13 12 13 16 13 21 13 25 13 30 13 34 13 39 13 42 13 44 13 41 13 26 13 12 13 3 13 1 13 0 13 1 13 0 13 1 13 3 13 7 13 9 13 10 13 10 13 9 13 6 13 2 13-6 13-14 13-15 13-10 13-9 13-17 13-32 13-42 13-43 13-41 13-37 13-33"/>
<path d="M0 650l13-10 13-11 13-9 13-7 13-8 13-15 13-30 13-46 13-51 13-49 13-45 13-41 13-37 13-31 13-27 13-22 13-17 13-12 13-8 13-3 13 2 13 7 13 11 13 16 13 21 13 26 14 30 13 35 13 38 13 28 13-9 13-32 13-33 13-30 13-26 13-21 13-16 13-12 13-8 13-3 13 1 13 6 13 10 13 15 13 19 13 24 13 28 13 32 13 36 13 40 13 40 13 33 13 21 13 8 13 3 13 3 13 3 13 2 13 4 13 3 13 4 13 7 13 8 13 8 13 7 13 7 13 5 13 1 13-4 13-11 13-12 13-10 13-8 13-12 13-20 13-28 13-34 13-35 13-32 13-29"/>
</g>
<linearGradient id="g36" gradientUnits="userSpaceOnUse" x1="0" y1="0" x2="1041.5" y2="0"><stop offset="0" stop-color="#fff" stop-opacity="0.11"/><stop offset="0.04" stop-color="#fff" stop-opacity="0.11"/><stop offset="0.08" stop-color="#fff" stop-opacity="0"/><stop offset="0.14" stop-color="#fff" stop-opacity="0"/><stop offset="0.18" stop-color="#fff" stop-opacity="0"/><stop offset="0.21" stop-color="#fff" stop-opacity="0"/><stop offset="0.29" stop-color="#fff" stop-opacity="0"/><stop offset="0.32" stop-color="#fff" stop-opacity="0"/><stop offset="0.35" stop-color="#fff" stop-opacity="0"/><stop offset="0.38" stop-color="#fff" stop-opacity="0"/><stop offset="0.4" stop-color="#fff" stop-opacity="0"/><stop offset="0.43" stop-color="#fff" stop-opacity="0"/><stop offset="0.46" stop-color="#fff" stop-opacity="0"/><stop offset="0.54" stop-color="#fff" stop-opacity="0"/><stop offset="0.57" stop-color="#fff" stop-opacity="0"/><stop offset="0.61" stop-color="#fff" stop-opacity="0"/><stop offset="0.65" stop-color="#fff" stop-opacity="0"/><stop offset="0.69" stop-color="#fff" stop-opacity="0.11"/><stop offset="0.89" stop-color="#fff" stop-opacity="0.11"/><stop offset="0.93" stop-color="#fff" stop-opacity="0"/><stop offset="0.96" stop-color="#fff" stop-opacity="0"/><stop offset="1" stop-color="#fff" stop-opacity="0"/></linearGradient>
<g stroke-width="7" stroke="url(#g36)">
<path d="M0 651l13-11 13-11 13-10 13-7 13-8 13-19 13-36 13-46 13-48 13-46 13-41 13-38 13-33 13-30 13-24 13-21 13-16 13-12 13-8 13-3 13 1 13 5 13 10 13 13 13 19 13 22 14 27 13 31 13 34 13 32 13 7 13-26 13-33 13-30 13-26 13-21 13-17 13-12 13-7 13-3 13 2 13 7 13 11 13 16 13 21 13 25 13 29 13 34 13 37 13 37 13 30 13 17 13 7 13 22 13 36 13 32 13 10 13-6 13-10 13-9 13-6 13-3 13-3 13-2 13-1 13-1 13 5 13 11 13 9 13 0 13-20 13-23 13-9 13-1 13-3 13-10 13-22 13-30 13-34 13-31"/>
<path d="M0 608l13 11 13 10 13 8 13 2 13-9 13-27 13-46 13-52 13-51 13-47 13-43 13-38 13-34 13-29 13-25 13-20 13-16 13-11 13-6 13-2 13 3 13 7 13 12 13 17 13 21 13 26 14 30 13 34 13 36 13 21 13-16 13-34 13-33 13-29 13-25 13-20 13-16 13-11 13-6 13-2 13 2 13 7 13 12 13 16 13 20 13 25 13 30 13 34 13 37 13 41 13 39 13 30 13 16 13 7 13 6 13 6 13 6 13 11 13 14 13 11 13 3 13-8 13-15 13-18 13-15 13-6 13 17 13 36 13 31 13 5 13-16 13-22 13-13 13-8 13-9 13-15 13-23 13-30 13-32 13-31"/>
<path d="M0 664l13-12 13-12 13-11 13-8 13-10 13-19 13-36 13-48 13-51 13-48 13-44 13-40 13-36 13-30 13-26 13-22 13-17 13-12 13-7 13-3 13 1 13 7 13 11 13 15 13 21 13 25 14 29 13 34 13 37 13 33 13 0 13-32 13-36 13-33 13-27 13-23 13-18 13-12 13-8 13-3 13 2 13 8 13 12 13 17 13 22 13 28 13 32 13 37 13 41 13 46 13 46 13 39 13 20 13 0 13-12 13-12 13-4 13 4 13 7 13 8 13 6 13 5 13 5 13 5 13 5 13 8 13 14 13 19 13 15 13 1 13-20 13-26 13-16 13-14 13-21 13-32 13-38 13-39 13-36 13-33"/>
<path d="M0 614l13 1 13 0 13 0 13 0 13-4 13-17 13-36 13-50 13-51 13-48 13-44 13-39 13-34 13-30 13-25 13-20 13-16 13-11 13-6 13-1 13 3 13 9 13 13 13 17 13 23 13 27 14 31 13 36 13 34 13 10 13-24 13-33 13-31 13-27 13-23 13-18 13-14 13-10 13-5 13-1 13 3 13 8 13 11 13 16 13 21 13 24 13 29 13 32 13 36 13 35 13 30 13 18 13 9 13 23 13 37 13 33 13 10 13-5 13-9 13-8 13-3 13 2 13 3 13 3 13 4 13 4 13 5 13 5 13 4 13-1 13-8 13-13 13-13 13-13 13-17 13-23 13-27 13-30 13-28 13-27"/>
<path d="M0 634l13-3 13-4 13-4 13-4 13-10 13-23 13-41 13-49 13-49 13-45 13-42 13-37 13-33 13-28 13-24 13-19 13-15 13-10 13-6 13-1 13 3 13 7 13 12 13 17 13 21 13 25 14 30 13 34 13 37 13 27 13-11 13-34 13-36 13-31 13-27 13-22 13-17 13-12 13-7 13-2 13 3 13 7 13 13 13 17 13 23 13 27 13 31 13 36 13 39 13 36 13 27 13 13 13 5 13 17 13 28 13 25 13 10 13 2 13 1 13 1 13 0 13-5 13-9 13-10 13-9 13-3 13 6 13 14 13 12 13 2 13-5 13-6 13-2 13 0 13 0 13-1 13-3 13-8 13-16 13-23"/>
<path d="M0 655l13-5 13-6 13-5 13-5 13-8 13-18 13-37 13-51 13-53 13-49 13-46 13-40 13-36 13-31 13-26 13-21 13-16 13-11 13-6 13-1 13 4 13 9 13 14 13 18 13 24 13 28 14 34 13 38 13 38 13 21 13-21 13-35 13-33 13-30 13-25 13-21 13-16 13-13 13-7 13-3 13 1 13 5 13 10 13 15 13 19 13 23 13 27 13 32 13 37 13 40 13 42 13 41 13 32 13 6 13-14 13-16 13-5 13 4 13 9 13 10 13 10 13 14 13 16 13 16 13 12 13 5 13-6 13-15 13-17 13-12 13-12 13-11 13-5 13-3 13-5 13-10 13-16 13-23 13-26 13-25"/>
<path d="M0 620l13-5 13-4 13-5 13-3 13-6 13-15 13-33 13-47 13-50 13-47 13-44 13-39 13-34 13-30 13-25 13-21 13-16 13-11 13-7 13-2 13 2 13 8 13 11 13 17 13 21 13 26 14 30 13 34 13 36 13 24 13-13 13-31 13-31 13-28 13-24 13-19 13-16 13-11 13-7 13-3 13 1 13 6 13 9 13 14 13 18 13 22 13 26 13 30 13 33 13 35 13 35 13 27 13 16 13 25 13 38 13 34 13 10 13-15 13-26 13-23 13-8 13 8 13 15 13 17 13 14 13 6 13-4 13-9 13-8 13 0 13 12 13 14 13 3 13-8 13-18 13-29 13-35 13-35 13-32 13-29"/>
<path d="M0 665l13-6 13-7 13-7 13-9 13-17 13-33 13-47 13-50 13-49 13-46 13-41 13-37 13-32 13-28 13-24 13-19 13-15 13-11 13-6 13-2 13 3 13 7 13 11 13 16 13 20 13 24 14 29 13 33 13 35 13 24 13-10 13-31 13-32 13-29 13-24 13-20 13-16 13-11 13-7 13-2 13 2 13 6 13 11 13 15 13 20 13 23 13 28 13 33 13 35 13 38 13 34 13 25 13 12 13 15 13 23 13 22 13 13 13 6 13 4 13 4 13 5 13 8 13 8 13 9 13 6 13 2 13-9 13-22 13-20 13-8 13-4 13-2 13-3 13-4 13-6 13-11 13-18 13-24 13-26 13-26"/>
<path d="M0 638l13-15 13-16 13-13 13-7 13-6 13-14 13-30 13-45 13-47 13-46 13-42 13-37 13-33 13-29 13-24 13-19 13-15 13-10 13-5 13-1 13 3 13 9 13 12 13 18 13 22 13 26 14 31 13 35 13 36 13 14 13-23 13-36 13-33 13-28 13-25 13-19 13-15 13-11 13-5 13-2 13 4 13 8 13 12 13 17 13 22 13 26 13 31 13 34 13 38 13 36 13 27 13 15 13 5 13 14 13 21 13 18 13 6 13-7 13-13 13-12 13-4 13 4 13 9 13 12 13 13 13 13 13 16 13 20 13 15 13 1 13-11 13-15 13-9 13-5 13-10 13-18 13-27 13-34 13-33 13-31"/>
<path d="M0 666l13-18 13-18 13-16 13-10 13-7 13-12 13-25 13-40 13-48 13-47 13-45 13-40 13-35 13-31 13-26 13-22 13-17 13-13 13-8 13-3 13 2 13 6 13 10 13 16 13 20 13 24 14 29 13 34 13 34 13 22 13-13 13-31 13-32 13-28 13-24 13-19 13-16 13-11 13-8 13-3 13 1 13 6 13 9 13 13 13 18 13 22 13 26 13 30 13 35 13 38 13 42 13 44 13 42 13 30 13 11 13 2 13-1 13 2 13 2 13 3 13 4 13 4 13 6 13 7 13 6 13 5 13 4 13 5 13 3 13-3 13-28 13-35 13-18 13-8 13-7 13-8 13-10 13-14 13-19 13-21"/>
<path d="M0 649l13-12 13-13 13-11 13-7 13-7 13-18 13-36 13-46 13-49 13-46 13-42 13-37 13-33 13-29 13-24 13-20 13-15 13-11 13-6 13-2 13 3 13 7 13 11 13 17 13 20 13 25 14 30 13 34 13 37 13 32 13-3 13-34 13-36 13-32 13-27 13-23 13-17 13-13 13-8 13-2 13 2 13 7 13 13 13 17 13 22 13 27 13 32 13 36 13 39 13 38 13 29 13 14 13 5 13 3 13 3 13 3 13 4 13 4 13 5 13 6 13 7 13 13 13 19 13 18 13 14 13 6 13-1 13-2 13-3 13-4 13-9 13-10 13-4 13-2 13-6 13-13 13-23 13-30 13-30 13-29"/>
<path d="M0 608l13 11 13 11 13 9 13 3 13-3 13-14 13-35 13-51 13-53 13-51 13-46 13-42 13-36 13-32 13-27 13-22 13-17 13-12 13-7 13-2 13 3 13 7 13 13 13 17 13 22 13 27 14 32 13 36 13 33 13 6 13-26 13-32 13-30 13-26 13-21 13-18 13-13 13-9 13-6 13 0 13 3 13 7 13 11 13 16 13 20 13 24 13 27 13 32 13 34 13 36 13 32 13 22 13 11 13 16 13 22 13 20 13 6 13-1 13-3 13-2 13 0 13 3 13 6 13 8 13 9 13 9 13 12 13 14 13 10 13 0 13-26 13-35 13-21 13-12 13-12 13-12 13-12 13-14 13-17 13-19"/>
<path d="M0 645l13-10 13-10 13-9 13-8 13-10 13-24 13-41 13-50 13-49 13-46 13-42 13-37 13-34 13-28 13-24 13-20 13-15 13-11 13-6 13-1 13 3 13 7 13 12 13 17 13 21 13 25 14 30 13 35 13 37 13 28 13-7 13-33 13-35 13-30 13-26 13-21 13-17 13-12 13-7 13-2 13 2 13 7 13 12 13 16 13 21 13 26 13 30 13 35 13 39 13 41 13 39 13 28 13 13 13 10 13 12 13 14 13 10 13 10 13 10 13 7 13 3 13-2 13-3 13-4 13-4 13-4 13-4 13-6 13-4 13-1 13 0 13-3 13-16 13-31 13-40 13-41 13-39 13-35 13-32 13-27"/>
<path d="M0 632l13-12 13-11 13-10 13-8 13-7 13-16 13-31 13-45 13-48 13-46 13-43 13-38 13-33 13-29 13-24 13-20 13-15 13-10 13-6 13-1 13 4 13 9 13 13 13 18 13 22 13 27 14 32 13 35 13 35 13 12 13-23 13-34 13-32 13-28 13-23 13-20 13-15 13-10 13-6 13-2 13 2 13 7 13 12 13 15 13 20 13 24 13 29 13 33 13 37 13 41 13 44 13 43 13 36 13 13 13-9 13-13 13-7 13-4 13-3 13-2 13 0 13 11 13 23 13 25 13 21 13 9 13-9 13-18 13-16 13-3 13 3 13 4 13 1 13-2 13-7 13-14 13-22 13-28 13-31 13-30"/>
<path d="M0 655l13-5 13-6 13-7 13-8 13-15 13-33 13-46 13-51 13-50 13-45 13-42 13-37 13-33 13-28 13-24 13-19 13-15 13-10 13-6 13-2 13 3 13 7 13 12 13 16 13 21 13 25 14 30 13 33 13 35 13 22 13-14 13-32 13-32 13-28 13-24 13-20 13-15 13-11 13-7 13-2 13 3 13 6 13 11 13 16 13 20 13 24 13 29 13 32 13 37 13 38 13 37 13 28 13 15 13 16 13 20 13 18 13 6 13 0 13 0 13 0 13 0 13-5 13-8 13-9 13-8 13-3 13 8 13 19 13 16 13 2 13-7 13-10 13-7 13-10 13-20 13-29 13-35 13-34 13-31 13-28"/>
<path d="M0 655l13-19 13-20 13-16 13-9 13-4 13-8 13-21 13-39 13-49 13-49 13-45 13-41 13-37 13-32 13-27 13-22 13-18 13-13 13-8 13-4 13 1 13 6 13 11 13 15 13 20 13 25 14 30 13 34 13 37 13 28 13-6 13-30 13-33 13-29 13-25 13-20 13-16 13-12 13-8 13-3 13 1 13 6 13 10 13 14 13 18 13 23 13 27 13 30 13 35 13 35 13 33 13 24 13 12 13 23 13 36 13 32 13 10 13-10 13-17 13-15 13-5 13 2 13 4 13 6 13 7 13 8 13 14 13 21 13 16 13-1 13-32 13-38 13-17 13-11 13-23 13-34 13-37 13-36 13-33 13-29"/>
</g>
</g></g>
<clipPath id="c9"><rect x="375.85" y="439.25" width="104.15" height="94.35"/></clipPath>
<g clip-path="url(#c9)"><g transform="translate(375.85 439.25) scale(.1)" class="cv">
<linearGradient id="g37" gradientUnits="userSpaceOnUse" x1="0" y1="0" x2="1041.5" y2="0"><stop offset="0" stop-color="#a8b6e6" stop-opacity="0.22"/><stop offset="0.04" stop-color="#a8b6e6" stop-opacity="0.22"/><stop offset="0.08" stop-color="#a8b6e6" stop-opacity="0.044"/><stop offset="0.14" stop-color="#a8b6e6" stop-opacity="0.062"/><stop offset="0.18" stop-color="#a8b6e6" stop-opacity="0.088"/><stop offset="0.21" stop-color="#a8b6e6" stop-opacity="0.066"/><stop offset="0.29" stop-color="#a8b6e6" stop-opacity="0.066"/><stop offset="0.32" stop-color="#a8b6e6" stop-opacity="0.088"/><stop offset="0.35" stop-color="#a8b6e6" stop-opacity="0.062"/><stop offset="0.38" stop-color="#a8b6e6" stop-opacity="0.088"/><stop offset="0.4" stop-color="#a8b6e6" stop-opacity="0.062"/><stop offset="0.43" stop-color="#a8b6e6" stop-opacity="0.088"/><stop offset="0.46" stop-color="#a8b6e6" stop-opacity="0.066"/><stop offset="0.54" stop-color="#a8b6e6" stop-opacity="0.066"/><stop offset="0.57" stop-color="#a8b6e6" stop-opacity="0.088"/><stop offset="0.61" stop-color="#a8b6e6" stop-opacity="0.062"/><stop offset="0.65" stop-color="#a8b6e6" stop-opacity="0.044"/><stop offset="0.69" stop-color="#a8b6e6" stop-opacity="0.22"/><stop offset="0.89" stop-color="#a8b6e6" stop-opacity="0.22"/><stop offset="0.93" stop-color="#a8b6e6" stop-opacity="0.044"/><stop offset="0.96" stop-color="#a8b6e6" stop-opacity="0.088"/><stop offset="1" stop-color="#a8b6e6" stop-opacity="0.088"/></linearGradient>
<g stroke-width="5" stroke="url(#g37)">
<path d="M0 463l13-14 13-13 13-12 13-10 13-9 13-6 13-6 13-7 13-10 13-15 13-22 13-26 13-27 13-25 13-22 13-18 13-14 13-10 13-5 13-1 13 3 13 8 13 12 13 16 13 21 13 25 14 29 13 31 13 31 13 15 13-13 13-29 13-30 13-26 13-23 13-18 13-15 13-9 13-5 13-1 13 3 13 8 13 13 13 16 13 20 13 22 13 22 13 19 13 13 13 11 13 12 13 15 13 16 13 16 13 14 13 11 13 13 13 13 13 14 13 12 13 12 13 11 13 8 13 6 13 5 13 4 13 4 13 3 13 2 13 1 13-4 13-11 13-15 13-20 13-25 13-33 13-39 13-39 13-37 13-32"/>
<path d="M0 445l13-6 13-5 13-7 13-6 13-7 13-7 13-10 13-13 13-16 13-19 13-23 13-25 13-26 13-24 13-21 13-18 13-14 13-9 13-6 13 0 13 3 13 8 13 12 13 16 13 20 13 25 14 29 13 32 13 33 13 21 13-10 13-29 13-32 13-28 13-24 13-19 13-14 13-9 13-5 13 0 13 5 13 10 13 15 13 19 13 23 13 26 13 25 13 21 13 13 13 9 13 8 13 8 13 9 13 10 13 8 13 8 13 9 13 9 13 9 13 10 13 9 13 10 13 9 13 8 13 10 13 10 13 10 13 9 13 6 13 2 13-3 13-9 13-14 13-17 13-23 13-30 13-36 13-38 13-34 13-32"/>
<path d="M0 342l13 2 13 2 13 0 13 1 13 0 13 0 13-3 13-9 13-12 13-13 13-12 13-10 13-11 13-13 13-15 13-14 13-12 13-9 13-5 13-1 13 3 13 8 13 12 13 16 13 20 13 24 14 28 13 28 13 25 13 12 13-7 13-22 13-27 13-25 13-23 13-19 13-15 13-10 13-6 13-2 13 3 13 6 13 11 13 13 13 15 13 14 13 11 13 7 13 4 13 7 13 10 13 13 13 14 13 14 13 12 13 8 13 9 13 8 13 8 13 7 13 7 13 7 13 7 13 6 13 7 13 8 13 7 13 6 13 4 13 2 13-3 13-8 13-10 13-10 13-11 13-10 13-15 13-25 13-28 13-29"/>
<path d="M0 363l13-2 13-3 13-4 13-4 13-5 13-5 13-7 13-10 13-11 13-12 13-11 13-11 13-15 13-17 13-19 13-18 13-15 13-10 13-7 13-2 13 2 13 7 13 11 13 16 13 20 13 25 14 28 13 29 13 27 13 14 13-7 13-21 13-26 13-25 13-22 13-18 13-14 13-10 13-6 13-1 13 3 13 7 13 10 13 14 13 15 13 16 13 12 13 9 13 5 13 5 13 7 13 9 13 10 13 10 13 9 13 9 13 10 13 10 13 10 13 11 13 11 13 10 13 10 13 9 13 10 13 10 13 11 13 9 13 6 13 2 13-3 13-8 13-12 13-16 13-21 13-27 13-32 13-34 13-31 13-27"/>
<path d="M0 441l13-16 13-16 13-13 13-12 13-9 13-6 13-4 13-4 13-4 13-4 13-6 13-10 13-16 13-21 13-22 13-20 13-17 13-13 13-9 13-4 13 1 13 5 13 10 13 15 13 19 13 23 14 28 13 30 13 28 13 15 13-7 13-23 13-27 13-25 13-22 13-18 13-13 13-10 13-5 13 0 13 4 13 8 13 12 13 16 13 18 13 18 13 16 13 12 13 7 13 8 13 13 13 16 13 17 13 16 13 13 13 8 13 7 13 6 13 6 13 5 13 5 13 6 13 6 13 7 13 10 13 12 13 13 13 11 13 8 13 4 13-5 13-12 13-16 13-18 13-21 13-25 13-32 13-36 13-36 13-32"/>
<path d="M0 406l13-7 13-7 13-6 13-6 13-5 13-4 13-4 13-6 13-8 13-14 13-20 13-25 13-27 13-25 13-21 13-18 13-14 13-8 13-5 13 0 13 5 13 10 13 13 13 19 13 23 13 27 14 31 13 34 13 32 13 18 13-10 13-26 13-31 13-28 13-25 13-21 13-17 13-13 13-9 13-5 13 0 13 4 13 8 13 12 13 15 13 19 13 20 13 20 13 17 13 15 13 17 13 18 13 19 13 16 13 13 13 8 13 8 13 7 13 6 13 6 13 6 13 6 13 6 13 7 13 8 13 9 13 10 13 8 13 6 13 2 13-3 13-7 13-10 13-13 13-19 13-26 13-34 13-37 13-35 13-32"/>
<path d="M0 389l13-6 13-6 13-6 13-6 13-5 13-5 13-6 13-6 13-6 13-6 13-6 13-6 13-10 13-14 13-17 13-18 13-15 13-13 13-8 13-4 13 0 13 5 13 9 13 14 13 18 13 23 14 25 13 28 13 24 13 9 13-13 13-26 13-27 13-25 13-22 13-18 13-14 13-10 13-5 13-2 13 3 13 6 13 11 13 13 13 16 13 17 13 14 13 12 13 7 13 9 13 15 13 17 13 19 13 18 13 13 13 9 13 8 13 7 13 6 13 6 13 6 13 6 13 7 13 8 13 12 13 14 13 16 13 14 13 10 13 4 13-4 13-11 13-16 13-17 13-19 13-20 13-25 13-31 13-32 13-30"/>
<path d="M0 370l13-7 13-7 13-6 13-6 13-5 13-5 13-4 13-5 13-4 13-6 13-8 13-11 13-16 13-19 13-20 13-18 13-15 13-12 13-7 13-3 13 1 13 5 13 9 13 14 13 18 13 22 14 26 13 29 13 29 13 21 13 0 13-21 13-28 13-27 13-24 13-20 13-15 13-12 13-6 13-2 13 2 13 7 13 11 13 16 13 18 13 20 13 18 13 15 13 9 13 9 13 11 13 13 13 14 13 13 13 12 13 9 13 8 13 8 13 8 13 8 13 7 13 8 13 7 13 9 13 9 13 12 13 12 13 10 13 7 13 3 13-4 13-9 13-13 13-15 13-17 13-21 13-29 13-36 13-35 13-33"/>
<path d="M0 444l13-10 13-10 13-9 13-9 13-9 13-8 13-8 13-11 13-11 13-15 13-18 13-22 13-25 13-24 13-21 13-17 13-14 13-9 13-4 13 1 13 5 13 9 13 15 13 19 13 23 13 28 14 31 13 34 13 29 13 13 13-13 13-26 13-29 13-27 13-25 13-20 13-16 13-12 13-7 13-3 13 1 13 5 13 10 13 13 13 18 13 20 13 23 13 22 13 18 13 14 13 11 13 9 13 9 13 9 13 8 13 7 13 9 13 8 13 9 13 9 13 10 13 9 13 10 13 10 13 12 13 14 13 15 13 12 13 9 13 4 13-6 13-16 13-21 13-24 13-22 13-24 13-29 13-34 13-33 13-31"/>
<path d="M0 399l13-3 13-3 13-3 13-4 13-4 13-4 13-6 13-7 13-10 13-13 13-16 13-20 13-21 13-22 13-19 13-16 13-12 13-8 13-4 13 0 13 5 13 8 13 14 13 17 13 22 13 25 14 29 13 32 13 29 13 19 13-3 13-22 13-27 13-28 13-24 13-21 13-17 13-13 13-9 13-4 13 0 13 4 13 8 13 12 13 16 13 19 13 19 13 19 13 14 13 12 13 10 13 11 13 10 13 11 13 10 13 10 13 11 13 12 13 13 13 13 13 12 13 11 13 9 13 6 13 5 13 5 13 4 13 3 13 2 13 1 13-3 13-8 13-12 13-16 13-21 13-28 13-34 13-36 13-34 13-30"/>
<path d="M0 358l13 0 13 0 13-1 13-1 13-2 13-1 13-3 13-5 13-7 13-7 13-8 13-9 13-13 13-18 13-19 13-19 13-16 13-13 13-8 13-4 13 0 13 5 13 10 13 14 13 18 13 22 14 26 13 27 13 24 13 13 13-6 13-21 13-26 13-25 13-23 13-20 13-15 13-11 13-7 13-2 13 1 13 6 13 10 13 14 13 16 13 18 13 16 13 13 13 9 13 9 13 13 13 14 13 16 13 14 13 10 13 7 13 5 13 5 13 4 13 4 13 4 13 4 13 6 13 6 13 11 13 16 13 18 13 16 13 12 13 5 13-4 13-11 13-14 13-15 13-15 13-15 13-22 13-29 13-32 13-31"/>
<path d="M0 398l13-8 13-8 13-7 13-7 13-6 13-6 13-5 13-6 13-6 13-9 13-11 13-17 13-22 13-23 13-21 13-19 13-14 13-10 13-6 13 0 13 4 13 9 13 13 13 18 13 23 13 27 14 31 13 33 13 31 13 17 13-8 13-26 13-30 13-29 13-26 13-23 13-18 13-14 13-9 13-5 13 0 13 3 13 8 13 12 13 15 13 18 13 18 13 16 13 12 13 10 13 12 13 13 13 13 13 14 13 12 13 11 13 11 13 12 13 13 13 12 13 11 13 11 13 9 13 8 13 7 13 7 13 7 13 5 13 4 13 1 13-4 13-10 13-14 13-17 13-20 13-25 13-31 13-34 13-32 13-28"/>
<path d="M0 454l13-13 13-13 13-10 13-10 13-8 13-5 13-4 13-5 13-7 13-11 13-18 13-24 13-27 13-26 13-23 13-19 13-14 13-9 13-4 13 0 13 6 13 10 13 15 13 20 13 24 13 30 14 33 13 35 13 31 13 8 13-21 13-32 13-32 13-28 13-24 13-21 13-15 13-11 13-6 13-2 13 2 13 8 13 11 13 16 13 19 13 22 13 23 13 19 13 14 13 10 13 11 13 11 13 13 13 13 13 11 13 11 13 11 13 13 13 12 13 12 13 13 13 11 13 10 13 9 13 9 13 8 13 8 13 7 13 5 13 2 13-4 13-11 13-16 13-20 13-26 13-32 13-37 13-38 13-36 13-32"/>
<path d="M0 383l13 0 13 0 13 0 13-1 13-1 13 0 13-5 13-11 13-14 13-16 13-16 13-18 13-21 13-24 13-24 13-21 13-17 13-12 13-7 13-3 13 2 13 7 13 12 13 17 13 22 13 26 14 31 13 35 13 33 13 16 13-15 13-30 13-29 13-27 13-23 13-19 13-15 13-10 13-6 13-3 13 3 13 6 13 10 13 14 13 18 13 19 13 21 13 17 13 14 13 11 13 11 13 12 13 14 13 13 13 11 13 11 13 11 13 12 13 11 13 12 13 11 13 10 13 10 13 9 13 8 13 8 13 8 13 7 13 5 13 1 13-5 13-13 13-18 13-20 13-23 13-26 13-31 13-35 13-33 13-30"/>
</g>
</g></g>
<rect x="486.2" y="439.25" width="5.5" height="94.35" fill="url(#jet)"/>
<text class="c" x="493" y="519.02">5</text><text class="c" x="493" y="499.37">10</text><text class="c" x="493" y="479.71">15</text><text class="c" x="493" y="460.06">20</text><text class="c" x="493" y="440.4">25</text>
<text class="c" text-anchor="middle" transform="translate(501.9 486.43) rotate(-90)">Density(%)</text>
</g>
</svg>
</body></html>
